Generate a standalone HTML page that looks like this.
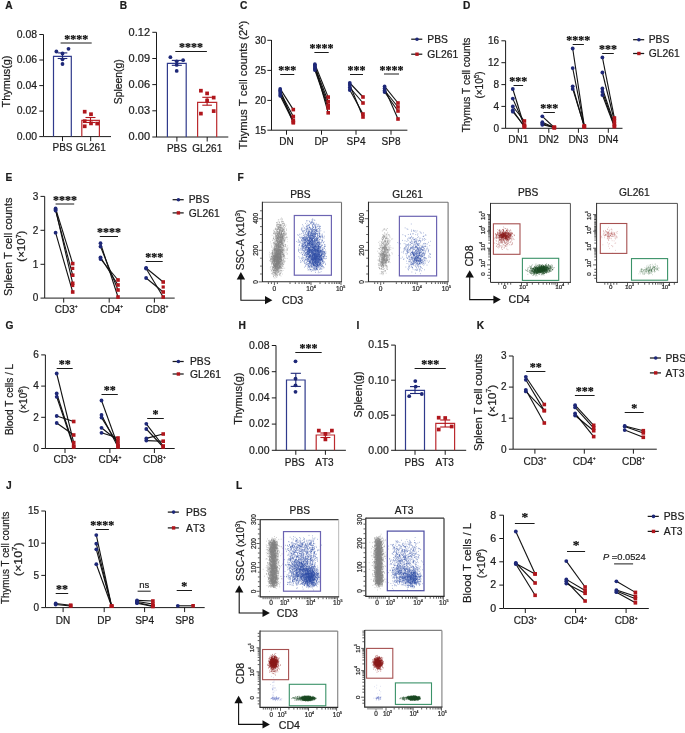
<!DOCTYPE html>
<html><head><meta charset="utf-8"><style>
html,body{margin:0;padding:0;background:#fff;}
svg{display:block;}
text{font-family:'Liberation Sans', Arial, sans-serif;stroke:#222;stroke-width:0.22px;font-kerning:none;}
</style></head><body>
<svg width="685" height="733" viewBox="0 0 685 733" font-size="10" fill="#1b1b1b">
<rect width="685" height="733" fill="#fff"/>
<text x="5.3" y="8.9" font-size="10.2" font-weight="bold">A</text>
<line x1="43.5" y1="34.5" x2="43.5" y2="136.6" stroke="#1b1b1b" stroke-width="1"/>
<line x1="39.3" y1="34.5" x2="43.5" y2="34.5" stroke="#1b1b1b" stroke-width="1"/>
<text transform="translate(37,37.8) scale(1.04,1)" text-anchor="end" font-size="10">0.08</text>
<line x1="39.3" y1="60" x2="43.5" y2="60" stroke="#1b1b1b" stroke-width="1"/>
<text transform="translate(37,63.3) scale(1.04,1)" text-anchor="end" font-size="10">0.06</text>
<line x1="39.3" y1="85.6" x2="43.5" y2="85.6" stroke="#1b1b1b" stroke-width="1"/>
<text transform="translate(37,88.9) scale(1.04,1)" text-anchor="end" font-size="10">0.04</text>
<line x1="39.3" y1="111.1" x2="43.5" y2="111.1" stroke="#1b1b1b" stroke-width="1"/>
<text transform="translate(37,114.4) scale(1.04,1)" text-anchor="end" font-size="10">0.02</text>
<line x1="39.3" y1="136.6" x2="43.5" y2="136.6" stroke="#1b1b1b" stroke-width="1"/>
<text transform="translate(37,139.9) scale(1.04,1)" text-anchor="end" font-size="10">0.00</text>
<line x1="43.5" y1="136.6" x2="111" y2="136.6" stroke="#1b1b1b" stroke-width="1"/>
<line x1="62.5" y1="136.6" x2="62.5" y2="141.1" stroke="#1b1b1b" stroke-width="1"/>
<text x="62.5" y="151.4" text-anchor="middle">PBS</text>
<line x1="90.7" y1="136.6" x2="90.7" y2="141.1" stroke="#1b1b1b" stroke-width="1"/>
<text x="90.7" y="151.4" text-anchor="middle">GL261</text>
<text transform="translate(10,81.5) rotate(-90)" text-anchor="middle" font-size="10.4" textLength="51.8" lengthAdjust="spacingAndGlyphs" fill="#1b1b1b">Thymus(g)</text>
<path d="M53.5 136.6V56.3H71.3V136.6" fill="none" stroke="#2f3a8c" stroke-width="1.2"/>
<path d="M81.8 136.6V120.4H99.4V136.6" fill="none" stroke="#bb2a2e" stroke-width="1.2"/>
<line x1="62.5" y1="52.9" x2="62.5" y2="58.5" stroke="#1e2878" stroke-width="1.1"/>
<line x1="57.7" y1="52.9" x2="67.3" y2="52.9" stroke="#1e2878" stroke-width="1.1"/>
<line x1="57.7" y1="58.5" x2="67.3" y2="58.5" stroke="#1e2878" stroke-width="1.1"/>
<circle cx="56.4" cy="51.5" r="1.9" fill="#1e2878"/>
<circle cx="68.5" cy="48.8" r="1.9" fill="#1e2878"/>
<circle cx="62.5" cy="53.5" r="1.9" fill="#1e2878"/>
<circle cx="62.5" cy="59.3" r="1.9" fill="#1e2878"/>
<circle cx="62.5" cy="64" r="1.9" fill="#1e2878"/>
<line x1="90.5" y1="117.5" x2="90.5" y2="122.5" stroke="#b0161c" stroke-width="1.1"/>
<line x1="85.5" y1="117.5" x2="95.5" y2="117.5" stroke="#b0161c" stroke-width="1.1"/>
<line x1="85.5" y1="122.5" x2="95.5" y2="122.5" stroke="#b0161c" stroke-width="1.1"/>
<rect x="82.85" y="109.85" width="3.7" height="3.7" fill="#b0161c"/>
<rect x="89.15" y="112.35" width="3.7" height="3.7" fill="#b0161c"/>
<rect x="82.85" y="119.35" width="3.7" height="3.7" fill="#b0161c"/>
<rect x="95.35" y="121.75" width="3.7" height="3.7" fill="#b0161c"/>
<rect x="89.15" y="121.55" width="3.7" height="3.7" fill="#b0161c"/>
<rect x="82.85" y="124.45" width="3.7" height="3.7" fill="#b0161c"/>
<line x1="60.6" y1="43" x2="91.7" y2="43" stroke="#1b1b1b" stroke-width="1"/>
<text x="76.15" y="42.7" text-anchor="middle" font-size="12" font-weight="bold" fill="#000" style="font-family:'Liberation Serif',serif">****</text>
<text x="119.8" y="8.9" font-size="10.2" font-weight="bold">B</text>
<line x1="156.5" y1="32.3" x2="156.5" y2="137" stroke="#1b1b1b" stroke-width="1"/>
<line x1="152.3" y1="32.3" x2="156.5" y2="32.3" stroke="#1b1b1b" stroke-width="1"/>
<text transform="translate(150,35.6) scale(1.1,1)" text-anchor="end" font-size="10">0.12</text>
<line x1="152.3" y1="58.5" x2="156.5" y2="58.5" stroke="#1b1b1b" stroke-width="1"/>
<text transform="translate(150,61.8) scale(1.1,1)" text-anchor="end" font-size="10">0.09</text>
<line x1="152.3" y1="84.6" x2="156.5" y2="84.6" stroke="#1b1b1b" stroke-width="1"/>
<text transform="translate(150,87.9) scale(1.1,1)" text-anchor="end" font-size="10">0.06</text>
<line x1="152.3" y1="110.8" x2="156.5" y2="110.8" stroke="#1b1b1b" stroke-width="1"/>
<text transform="translate(150,114.1) scale(1.1,1)" text-anchor="end" font-size="10">0.03</text>
<line x1="152.3" y1="137" x2="156.5" y2="137" stroke="#1b1b1b" stroke-width="1"/>
<text transform="translate(150,140.3) scale(1.1,1)" text-anchor="end" font-size="10">0.00</text>
<line x1="156.3" y1="137" x2="228.3" y2="137" stroke="#1b1b1b" stroke-width="1"/>
<line x1="176.9" y1="137" x2="176.9" y2="141.5" stroke="#1b1b1b" stroke-width="1"/>
<text x="176.9" y="151.7" text-anchor="middle">PBS</text>
<line x1="207.2" y1="137" x2="207.2" y2="141.5" stroke="#1b1b1b" stroke-width="1"/>
<text x="207.2" y="151.7" text-anchor="middle">GL261</text>
<text transform="translate(121.8,81.75) rotate(-90)" text-anchor="middle" font-size="10.2" textLength="45" lengthAdjust="spacingAndGlyphs" fill="#1b1b1b">Spleen(g)</text>
<path d="M167.4 137V63.4H186.2V137" fill="none" stroke="#2f3a8c" stroke-width="1.2"/>
<path d="M197.6 137V102.4H216.7V137" fill="none" stroke="#bb2a2e" stroke-width="1.2"/>
<line x1="176.8" y1="60.4" x2="176.8" y2="65.3" stroke="#1e2878" stroke-width="1.1"/>
<line x1="171.8" y1="60.4" x2="181.8" y2="60.4" stroke="#1e2878" stroke-width="1.1"/>
<line x1="171.8" y1="65.3" x2="181.8" y2="65.3" stroke="#1e2878" stroke-width="1.1"/>
<circle cx="170.4" cy="57.2" r="1.9" fill="#1e2878"/>
<circle cx="183.1" cy="60.2" r="1.9" fill="#1e2878"/>
<circle cx="176.7" cy="61.3" r="1.9" fill="#1e2878"/>
<circle cx="176.7" cy="64.9" r="1.9" fill="#1e2878"/>
<circle cx="176.7" cy="70.9" r="1.9" fill="#1e2878"/>
<line x1="207.1" y1="97.3" x2="207.1" y2="105.2" stroke="#b0161c" stroke-width="1.1"/>
<line x1="202.3" y1="97.3" x2="211.9" y2="97.3" stroke="#b0161c" stroke-width="1.1"/>
<line x1="202.3" y1="105.2" x2="211.9" y2="105.2" stroke="#b0161c" stroke-width="1.1"/>
<rect x="199.05" y="88.85" width="3.7" height="3.7" fill="#b0161c"/>
<rect x="205.25" y="91.55" width="3.7" height="3.7" fill="#b0161c"/>
<rect x="211.85" y="95.75" width="3.7" height="3.7" fill="#b0161c"/>
<rect x="205.25" y="98.65" width="3.7" height="3.7" fill="#b0161c"/>
<rect x="211.85" y="109.25" width="3.7" height="3.7" fill="#b0161c"/>
<rect x="199.05" y="111.75" width="3.7" height="3.7" fill="#b0161c"/>
<line x1="175.3" y1="51.5" x2="206.9" y2="51.5" stroke="#1b1b1b" stroke-width="1"/>
<text x="191.1" y="51.2" text-anchor="middle" font-size="12" font-weight="bold" fill="#000" style="font-family:'Liberation Serif',serif">****</text>
<text x="240" y="8.9" font-size="10.2" font-weight="bold">C</text>
<line x1="271.5" y1="40" x2="271.5" y2="130.2" stroke="#1b1b1b" stroke-width="1"/>
<line x1="267.3" y1="40.3" x2="271.5" y2="40.3" stroke="#1b1b1b" stroke-width="1"/>
<text x="266.2" y="43.6" text-anchor="end">30</text>
<line x1="267.3" y1="70.4" x2="271.5" y2="70.4" stroke="#1b1b1b" stroke-width="1"/>
<text x="266.2" y="73.7" text-anchor="end">25</text>
<line x1="267.3" y1="100.4" x2="271.5" y2="100.4" stroke="#1b1b1b" stroke-width="1"/>
<text x="266.2" y="103.7" text-anchor="end">20</text>
<line x1="267.3" y1="130.2" x2="271.5" y2="130.2" stroke="#1b1b1b" stroke-width="1"/>
<text x="266.2" y="133.5" text-anchor="end">15</text>
<line x1="271.3" y1="130.2" x2="407.4" y2="130.2" stroke="#1b1b1b" stroke-width="1"/>
<line x1="286.5" y1="130.2" x2="286.5" y2="134.7" stroke="#1b1b1b" stroke-width="1"/>
<text x="286.5" y="145" text-anchor="middle">DN</text>
<line x1="321.5" y1="130.2" x2="321.5" y2="134.7" stroke="#1b1b1b" stroke-width="1"/>
<text x="321.5" y="145" text-anchor="middle">DP</text>
<line x1="356" y1="130.2" x2="356" y2="134.7" stroke="#1b1b1b" stroke-width="1"/>
<text x="356" y="145" text-anchor="middle">SP4</text>
<line x1="391" y1="130.2" x2="391" y2="134.7" stroke="#1b1b1b" stroke-width="1"/>
<text x="391" y="145" text-anchor="middle">SP8</text>
<text transform="translate(247.1,85.1) rotate(-90)" text-anchor="middle" font-size="11" textLength="128.8" lengthAdjust="spacingAndGlyphs" fill="#1b1b1b">Thymus T cell counts (2^)</text>
<line x1="280.2" y1="88.9" x2="293.3" y2="109.6" stroke="#111" stroke-width="1.1"/>
<line x1="280.2" y1="90.5" x2="293.3" y2="122.8" stroke="#111" stroke-width="1.1"/>
<line x1="280.2" y1="92" x2="293.3" y2="116.5" stroke="#111" stroke-width="1.1"/>
<line x1="280.2" y1="94" x2="293.3" y2="120.3" stroke="#111" stroke-width="1.1"/>
<line x1="280.2" y1="95.8" x2="293.3" y2="122" stroke="#111" stroke-width="1.1"/>
<circle cx="280.2" cy="88.9" r="1.9" fill="#1e2878"/>
<circle cx="280.2" cy="90.5" r="1.9" fill="#1e2878"/>
<circle cx="280.2" cy="92" r="1.9" fill="#1e2878"/>
<circle cx="280.2" cy="94" r="1.9" fill="#1e2878"/>
<circle cx="280.2" cy="95.8" r="1.9" fill="#1e2878"/>
<rect x="291.5" y="107.8" width="3.6" height="3.6" fill="#b0161c"/>
<rect x="291.5" y="121" width="3.6" height="3.6" fill="#b0161c"/>
<rect x="291.5" y="114.7" width="3.6" height="3.6" fill="#b0161c"/>
<rect x="291.5" y="118.5" width="3.6" height="3.6" fill="#b0161c"/>
<rect x="291.5" y="120.2" width="3.6" height="3.6" fill="#b0161c"/>
<line x1="314.9" y1="64.2" x2="328.2" y2="97.1" stroke="#111" stroke-width="1.1"/>
<line x1="314.9" y1="65.5" x2="328.2" y2="112.8" stroke="#111" stroke-width="1.1"/>
<line x1="314.9" y1="67" x2="328.2" y2="101.5" stroke="#111" stroke-width="1.1"/>
<line x1="314.9" y1="68.5" x2="328.2" y2="105.2" stroke="#111" stroke-width="1.1"/>
<line x1="314.9" y1="70.1" x2="328.2" y2="108" stroke="#111" stroke-width="1.1"/>
<circle cx="314.9" cy="64.2" r="1.9" fill="#1e2878"/>
<circle cx="314.9" cy="65.5" r="1.9" fill="#1e2878"/>
<circle cx="314.9" cy="67" r="1.9" fill="#1e2878"/>
<circle cx="314.9" cy="68.5" r="1.9" fill="#1e2878"/>
<circle cx="314.9" cy="70.1" r="1.9" fill="#1e2878"/>
<rect x="326.4" y="95.3" width="3.6" height="3.6" fill="#b0161c"/>
<rect x="326.4" y="111" width="3.6" height="3.6" fill="#b0161c"/>
<rect x="326.4" y="99.7" width="3.6" height="3.6" fill="#b0161c"/>
<rect x="326.4" y="103.4" width="3.6" height="3.6" fill="#b0161c"/>
<rect x="326.4" y="106.2" width="3.6" height="3.6" fill="#b0161c"/>
<line x1="349.8" y1="83" x2="363" y2="97" stroke="#111" stroke-width="1.1"/>
<line x1="349.8" y1="85" x2="363" y2="117" stroke="#111" stroke-width="1.1"/>
<line x1="349.8" y1="87.5" x2="363" y2="103" stroke="#111" stroke-width="1.1"/>
<line x1="349.8" y1="90" x2="363" y2="114" stroke="#111" stroke-width="1.1"/>
<circle cx="349.8" cy="83" r="1.9" fill="#1e2878"/>
<circle cx="349.8" cy="85" r="1.9" fill="#1e2878"/>
<circle cx="349.8" cy="87.5" r="1.9" fill="#1e2878"/>
<circle cx="349.8" cy="90" r="1.9" fill="#1e2878"/>
<rect x="361.2" y="95.2" width="3.6" height="3.6" fill="#b0161c"/>
<rect x="361.2" y="115.2" width="3.6" height="3.6" fill="#b0161c"/>
<rect x="361.2" y="101.2" width="3.6" height="3.6" fill="#b0161c"/>
<rect x="361.2" y="112.2" width="3.6" height="3.6" fill="#b0161c"/>
<line x1="384.6" y1="86.4" x2="398" y2="103" stroke="#111" stroke-width="1.1"/>
<line x1="384.6" y1="88.5" x2="398" y2="119" stroke="#111" stroke-width="1.1"/>
<line x1="384.6" y1="90.5" x2="398" y2="107" stroke="#111" stroke-width="1.1"/>
<line x1="384.6" y1="92" x2="398" y2="111" stroke="#111" stroke-width="1.1"/>
<circle cx="384.6" cy="86.4" r="1.9" fill="#1e2878"/>
<circle cx="384.6" cy="88.5" r="1.9" fill="#1e2878"/>
<circle cx="384.6" cy="90.5" r="1.9" fill="#1e2878"/>
<circle cx="384.6" cy="92" r="1.9" fill="#1e2878"/>
<rect x="396.2" y="101.2" width="3.6" height="3.6" fill="#b0161c"/>
<rect x="396.2" y="117.2" width="3.6" height="3.6" fill="#b0161c"/>
<rect x="396.2" y="105.2" width="3.6" height="3.6" fill="#b0161c"/>
<rect x="396.2" y="109.2" width="3.6" height="3.6" fill="#b0161c"/>
<line x1="280.2" y1="74.5" x2="294.3" y2="74.5" stroke="#1b1b1b" stroke-width="1"/>
<text x="287.25" y="74.2" text-anchor="middle" font-size="12" font-weight="bold" fill="#000" style="font-family:'Liberation Serif',serif">***</text>
<line x1="314.4" y1="52.5" x2="328.7" y2="52.5" stroke="#1b1b1b" stroke-width="1"/>
<text x="321.55" y="52.2" text-anchor="middle" font-size="12" font-weight="bold" fill="#000" style="font-family:'Liberation Serif',serif">****</text>
<line x1="350" y1="74.5" x2="363" y2="74.5" stroke="#1b1b1b" stroke-width="1"/>
<text x="356.5" y="74.2" text-anchor="middle" font-size="12" font-weight="bold" fill="#000" style="font-family:'Liberation Serif',serif">***</text>
<line x1="384" y1="74" x2="399" y2="74" stroke="#1b1b1b" stroke-width="1"/>
<text x="391.5" y="73.7" text-anchor="middle" font-size="12" font-weight="bold" fill="#000" style="font-family:'Liberation Serif',serif">****</text>
<line x1="411.2" y1="39.2" x2="422.3" y2="39.2" stroke="#1a1a1a" stroke-width="1.25"/>
<circle cx="417" cy="39.2" r="1.8" fill="#1e2878"/>
<text x="427.3" y="42.9" font-size="10.3">PBS</text>
<line x1="411.2" y1="54.2" x2="422.3" y2="54.2" stroke="#1a1a1a" stroke-width="1.25"/>
<rect x="415.3" y="52.5" width="3.4" height="3.4" fill="#b0161c"/>
<text x="427.3" y="57.9" font-size="10.3">GL261</text>
<text x="463" y="8.9" font-size="10.2" font-weight="bold">D</text>
<line x1="505.6" y1="40.8" x2="505.6" y2="128.3" stroke="#1b1b1b" stroke-width="1"/>
<line x1="501.4" y1="40.8" x2="505.6" y2="40.8" stroke="#1b1b1b" stroke-width="1"/>
<text x="499.1" y="44.1" text-anchor="end">16</text>
<line x1="501.4" y1="62.7" x2="505.6" y2="62.7" stroke="#1b1b1b" stroke-width="1"/>
<text x="499.1" y="66" text-anchor="end">12</text>
<line x1="501.4" y1="84.6" x2="505.6" y2="84.6" stroke="#1b1b1b" stroke-width="1"/>
<text x="499.1" y="87.9" text-anchor="end">8</text>
<line x1="501.4" y1="106.4" x2="505.6" y2="106.4" stroke="#1b1b1b" stroke-width="1"/>
<text x="499.1" y="109.7" text-anchor="end">4</text>
<line x1="501.4" y1="128.3" x2="505.6" y2="128.3" stroke="#1b1b1b" stroke-width="1"/>
<text x="499.1" y="131.6" text-anchor="end">0</text>
<line x1="505.6" y1="128.3" x2="622.5" y2="128.3" stroke="#1b1b1b" stroke-width="1"/>
<line x1="518.3" y1="128.3" x2="518.3" y2="132.8" stroke="#1b1b1b" stroke-width="1"/>
<text x="518.3" y="143" text-anchor="middle">DN1</text>
<line x1="548.8" y1="128.3" x2="548.8" y2="132.8" stroke="#1b1b1b" stroke-width="1"/>
<text x="548.8" y="143" text-anchor="middle">DN2</text>
<line x1="578.4" y1="128.3" x2="578.4" y2="132.8" stroke="#1b1b1b" stroke-width="1"/>
<text x="578.4" y="143" text-anchor="middle">DN3</text>
<line x1="608.3" y1="128.3" x2="608.3" y2="132.8" stroke="#1b1b1b" stroke-width="1"/>
<text x="608.3" y="143" text-anchor="middle">DN4</text>
<text transform="translate(470.1,85) rotate(-90)" text-anchor="middle" fill="#1b1b1b">Thymus T cell counts</text>
<text transform="translate(483.1,85) rotate(-90)" text-anchor="middle" fill="#1b1b1b">(×10<tspan font-size="6.3" dy="-4.2">5</tspan><tspan dy="4.2">)</tspan></text>
<line x1="512.8" y1="89" x2="524.4" y2="126.5" stroke="#111" stroke-width="1.1"/>
<line x1="512.8" y1="98.6" x2="524.4" y2="125" stroke="#111" stroke-width="1.1"/>
<line x1="512.8" y1="106.5" x2="524.4" y2="121" stroke="#111" stroke-width="1.1"/>
<line x1="512.8" y1="110.2" x2="524.4" y2="127" stroke="#111" stroke-width="1.1"/>
<line x1="512.8" y1="111.7" x2="524.4" y2="126" stroke="#111" stroke-width="1.1"/>
<circle cx="512.8" cy="89" r="1.9" fill="#1e2878"/>
<circle cx="512.8" cy="98.6" r="1.9" fill="#1e2878"/>
<circle cx="512.8" cy="106.5" r="1.9" fill="#1e2878"/>
<circle cx="512.8" cy="110.2" r="1.9" fill="#1e2878"/>
<circle cx="512.8" cy="111.7" r="1.9" fill="#1e2878"/>
<rect x="522.6" y="124.7" width="3.6" height="3.6" fill="#b0161c"/>
<rect x="522.6" y="123.2" width="3.6" height="3.6" fill="#b0161c"/>
<rect x="522.6" y="119.2" width="3.6" height="3.6" fill="#b0161c"/>
<rect x="522.6" y="125.2" width="3.6" height="3.6" fill="#b0161c"/>
<rect x="522.6" y="124.2" width="3.6" height="3.6" fill="#b0161c"/>
<line x1="542.3" y1="116.3" x2="554.3" y2="127.5" stroke="#111" stroke-width="1.1"/>
<line x1="542.3" y1="122.2" x2="554.3" y2="127.5" stroke="#111" stroke-width="1.1"/>
<line x1="542.3" y1="123.7" x2="554.3" y2="127.5" stroke="#111" stroke-width="1.1"/>
<line x1="542.3" y1="124.8" x2="554.3" y2="127.5" stroke="#111" stroke-width="1.1"/>
<circle cx="542.3" cy="116.3" r="1.9" fill="#1e2878"/>
<circle cx="542.3" cy="122.2" r="1.9" fill="#1e2878"/>
<circle cx="542.3" cy="123.7" r="1.9" fill="#1e2878"/>
<circle cx="542.3" cy="124.8" r="1.9" fill="#1e2878"/>
<rect x="552.5" y="125.7" width="3.6" height="3.6" fill="#b0161c"/>
<rect x="552.5" y="125.7" width="3.6" height="3.6" fill="#b0161c"/>
<rect x="552.5" y="125.7" width="3.6" height="3.6" fill="#b0161c"/>
<rect x="552.5" y="125.7" width="3.6" height="3.6" fill="#b0161c"/>
<line x1="572.7" y1="48.5" x2="584.3" y2="126.2" stroke="#111" stroke-width="1.1"/>
<line x1="572.7" y1="68.1" x2="584.3" y2="126.5" stroke="#111" stroke-width="1.1"/>
<line x1="572.7" y1="86.3" x2="584.3" y2="127" stroke="#111" stroke-width="1.1"/>
<line x1="572.7" y1="88.9" x2="584.3" y2="126" stroke="#111" stroke-width="1.1"/>
<circle cx="572.7" cy="48.5" r="1.9" fill="#1e2878"/>
<circle cx="572.7" cy="68.1" r="1.9" fill="#1e2878"/>
<circle cx="572.7" cy="86.3" r="1.9" fill="#1e2878"/>
<circle cx="572.7" cy="88.9" r="1.9" fill="#1e2878"/>
<rect x="582.5" y="124.4" width="3.6" height="3.6" fill="#b0161c"/>
<rect x="582.5" y="124.7" width="3.6" height="3.6" fill="#b0161c"/>
<rect x="582.5" y="125.2" width="3.6" height="3.6" fill="#b0161c"/>
<rect x="582.5" y="124.2" width="3.6" height="3.6" fill="#b0161c"/>
<line x1="602.4" y1="57.4" x2="614.4" y2="118" stroke="#111" stroke-width="1.1"/>
<line x1="602.4" y1="72.5" x2="614.4" y2="121" stroke="#111" stroke-width="1.1"/>
<line x1="602.4" y1="88.4" x2="614.4" y2="124" stroke="#111" stroke-width="1.1"/>
<line x1="602.4" y1="91.7" x2="614.4" y2="126" stroke="#111" stroke-width="1.1"/>
<line x1="602.4" y1="95" x2="614.4" y2="126.7" stroke="#111" stroke-width="1.1"/>
<circle cx="602.4" cy="57.4" r="1.9" fill="#1e2878"/>
<circle cx="602.4" cy="72.5" r="1.9" fill="#1e2878"/>
<circle cx="602.4" cy="88.4" r="1.9" fill="#1e2878"/>
<circle cx="602.4" cy="91.7" r="1.9" fill="#1e2878"/>
<circle cx="602.4" cy="95" r="1.9" fill="#1e2878"/>
<rect x="612.6" y="116.2" width="3.6" height="3.6" fill="#b0161c"/>
<rect x="612.6" y="119.2" width="3.6" height="3.6" fill="#b0161c"/>
<rect x="612.6" y="122.2" width="3.6" height="3.6" fill="#b0161c"/>
<rect x="612.6" y="124.2" width="3.6" height="3.6" fill="#b0161c"/>
<rect x="612.6" y="124.9" width="3.6" height="3.6" fill="#b0161c"/>
<line x1="513.5" y1="85.5" x2="523.1" y2="85.5" stroke="#1b1b1b" stroke-width="1"/>
<text x="518.3" y="85.2" text-anchor="middle" font-size="12" font-weight="bold" fill="#000" style="font-family:'Liberation Serif',serif">***</text>
<line x1="543.4" y1="112.5" x2="554.9" y2="112.5" stroke="#1b1b1b" stroke-width="1"/>
<text x="549.15" y="112.2" text-anchor="middle" font-size="12" font-weight="bold" fill="#000" style="font-family:'Liberation Serif',serif">***</text>
<line x1="572.7" y1="44.5" x2="583.9" y2="44.5" stroke="#1b1b1b" stroke-width="1"/>
<text x="578.3" y="44.2" text-anchor="middle" font-size="12" font-weight="bold" fill="#000" style="font-family:'Liberation Serif',serif">****</text>
<line x1="602.2" y1="53.5" x2="613.8" y2="53.5" stroke="#1b1b1b" stroke-width="1"/>
<text x="608" y="53.2" text-anchor="middle" font-size="12" font-weight="bold" fill="#000" style="font-family:'Liberation Serif',serif">***</text>
<line x1="633.1" y1="39.7" x2="644.2" y2="39.7" stroke="#1a1a1a" stroke-width="1.25"/>
<circle cx="638.9" cy="39.7" r="1.8" fill="#1e2878"/>
<text x="648.7" y="43.4" font-size="10.3">PBS</text>
<line x1="633.1" y1="53.5" x2="644.2" y2="53.5" stroke="#1a1a1a" stroke-width="1.25"/>
<rect x="637.2" y="51.8" width="3.4" height="3.4" fill="#b0161c"/>
<text x="648.7" y="57.2" font-size="10.3">GL261</text>
<text x="5.5" y="181.4" font-size="10.2" font-weight="bold">E</text>
<line x1="44.7" y1="196.4" x2="44.7" y2="298.1" stroke="#1b1b1b" stroke-width="1"/>
<line x1="40.5" y1="196.4" x2="44.7" y2="196.4" stroke="#1b1b1b" stroke-width="1"/>
<text x="38.2" y="199.7" text-anchor="end">3</text>
<line x1="40.5" y1="230.3" x2="44.7" y2="230.3" stroke="#1b1b1b" stroke-width="1"/>
<text x="38.2" y="233.6" text-anchor="end">2</text>
<line x1="40.5" y1="264.3" x2="44.7" y2="264.3" stroke="#1b1b1b" stroke-width="1"/>
<text x="38.2" y="267.6" text-anchor="end">1</text>
<line x1="40.5" y1="298.1" x2="44.7" y2="298.1" stroke="#1b1b1b" stroke-width="1"/>
<text x="38.2" y="301.4" text-anchor="end">0</text>
<line x1="44.7" y1="298.1" x2="174.7" y2="298.1" stroke="#1b1b1b" stroke-width="1"/>
<line x1="63.7" y1="298.1" x2="63.7" y2="302.6" stroke="#1b1b1b" stroke-width="1"/>
<text transform="translate(66.3,313.3) scale(1,1.1)" text-anchor="middle">CD3<tspan font-size="5" dy="-4.6">+</tspan></text>
<line x1="109.2" y1="298.1" x2="109.2" y2="302.6" stroke="#1b1b1b" stroke-width="1"/>
<text transform="translate(111.8,313.3) scale(1,1.1)" text-anchor="middle">CD4<tspan font-size="5" dy="-4.6">+</tspan></text>
<line x1="154.4" y1="298.1" x2="154.4" y2="302.6" stroke="#1b1b1b" stroke-width="1"/>
<text transform="translate(157,313.3) scale(1,1.1)" text-anchor="middle">CD8<tspan font-size="5" dy="-4.6">+</tspan></text>
<text transform="translate(11.8,246.8) rotate(-90)" text-anchor="middle" font-size="10.8" textLength="98.4" lengthAdjust="spacingAndGlyphs" fill="#1b1b1b">Spleen T cell counts</text>
<text transform="translate(24.9,246.2) rotate(-90)" text-anchor="middle" font-size="10.8" textLength="31" lengthAdjust="spacingAndGlyphs" fill="#1b1b1b">(×10<tspan font-size="6.3" dy="-4.2">7</tspan><tspan dy="4.2">)</tspan></text>
<line x1="55.6" y1="208.4" x2="72.7" y2="263.6" stroke="#111" stroke-width="1.1"/>
<line x1="55.6" y1="210.6" x2="72.7" y2="275.2" stroke="#111" stroke-width="1.1"/>
<line x1="55.6" y1="209.5" x2="72.7" y2="283.3" stroke="#111" stroke-width="1.1"/>
<line x1="55.6" y1="232.7" x2="72.7" y2="292" stroke="#111" stroke-width="1.1"/>
<circle cx="55.6" cy="208.4" r="1.9" fill="#1e2878"/>
<circle cx="55.6" cy="210.6" r="1.9" fill="#1e2878"/>
<circle cx="55.6" cy="209.5" r="1.9" fill="#1e2878"/>
<circle cx="55.6" cy="232.7" r="1.9" fill="#1e2878"/>
<rect x="70.9" y="261.8" width="3.6" height="3.6" fill="#b0161c"/>
<rect x="70.9" y="273.4" width="3.6" height="3.6" fill="#b0161c"/>
<rect x="70.9" y="281.5" width="3.6" height="3.6" fill="#b0161c"/>
<rect x="70.9" y="290.2" width="3.6" height="3.6" fill="#b0161c"/>
<rect x="71.1" y="266.8" width="3.2" height="3.2" fill="#b0161c"/>
<rect x="71.1" y="283.9" width="3.2" height="3.2" fill="#b0161c"/>
<line x1="100.5" y1="243.2" x2="118" y2="297" stroke="#111" stroke-width="1.1"/>
<line x1="100.5" y1="246.6" x2="118" y2="290" stroke="#111" stroke-width="1.1"/>
<line x1="100.5" y1="257.3" x2="118" y2="285" stroke="#111" stroke-width="1.1"/>
<line x1="100.5" y1="259" x2="118" y2="280" stroke="#111" stroke-width="1.1"/>
<circle cx="100.5" cy="243.2" r="1.9" fill="#1e2878"/>
<circle cx="100.5" cy="246.6" r="1.9" fill="#1e2878"/>
<circle cx="100.5" cy="257.3" r="1.9" fill="#1e2878"/>
<circle cx="100.5" cy="259" r="1.9" fill="#1e2878"/>
<rect x="116.2" y="295.2" width="3.6" height="3.6" fill="#b0161c"/>
<rect x="116.2" y="288.2" width="3.6" height="3.6" fill="#b0161c"/>
<rect x="116.2" y="283.2" width="3.6" height="3.6" fill="#b0161c"/>
<rect x="116.2" y="278.2" width="3.6" height="3.6" fill="#b0161c"/>
<line x1="146.1" y1="268" x2="163.2" y2="282" stroke="#111" stroke-width="1.1"/>
<line x1="146.1" y1="278" x2="163.2" y2="292" stroke="#111" stroke-width="1.1"/>
<line x1="146.1" y1="268.5" x2="163.2" y2="297" stroke="#111" stroke-width="1.1"/>
<circle cx="146.1" cy="268" r="1.9" fill="#1e2878"/>
<circle cx="146.1" cy="278" r="1.9" fill="#1e2878"/>
<circle cx="146.1" cy="268.5" r="1.9" fill="#1e2878"/>
<rect x="161.4" y="280.2" width="3.6" height="3.6" fill="#b0161c"/>
<rect x="161.4" y="290.2" width="3.6" height="3.6" fill="#b0161c"/>
<rect x="161.4" y="295.2" width="3.6" height="3.6" fill="#b0161c"/>
<rect x="161.6" y="285.4" width="3.2" height="3.2" fill="#b0161c"/>
<line x1="55.6" y1="204" x2="74.2" y2="204" stroke="#1b1b1b" stroke-width="1"/>
<text x="64.9" y="203.7" text-anchor="middle" font-size="12" font-weight="bold" fill="#000" style="font-family:'Liberation Serif',serif">****</text>
<line x1="99.8" y1="236.5" x2="118" y2="236.5" stroke="#1b1b1b" stroke-width="1"/>
<text x="108.9" y="236.2" text-anchor="middle" font-size="12" font-weight="bold" fill="#000" style="font-family:'Liberation Serif',serif">****</text>
<line x1="145.7" y1="261.5" x2="162.7" y2="261.5" stroke="#1b1b1b" stroke-width="1"/>
<text x="154.2" y="261.2" text-anchor="middle" font-size="12" font-weight="bold" fill="#000" style="font-family:'Liberation Serif',serif">***</text>
<line x1="172.6" y1="199.7" x2="183.7" y2="199.7" stroke="#1a1a1a" stroke-width="1.25"/>
<circle cx="178.4" cy="199.7" r="1.8" fill="#1e2878"/>
<text x="188.7" y="203.4" font-size="10.3">PBS</text>
<line x1="172.6" y1="212.9" x2="183.7" y2="212.9" stroke="#1a1a1a" stroke-width="1.25"/>
<rect x="176.7" y="211.2" width="3.4" height="3.4" fill="#b0161c"/>
<text x="188.7" y="216.6" font-size="10.3">GL261</text>
<text x="5.5" y="329.2" font-size="10.2" font-weight="bold">G</text>
<line x1="45.4" y1="354.9" x2="45.4" y2="448.5" stroke="#1b1b1b" stroke-width="1"/>
<line x1="41.2" y1="354.9" x2="45.4" y2="354.9" stroke="#1b1b1b" stroke-width="1"/>
<text x="38.9" y="358.2" text-anchor="end">6</text>
<line x1="41.2" y1="386.1" x2="45.4" y2="386.1" stroke="#1b1b1b" stroke-width="1"/>
<text x="38.9" y="389.4" text-anchor="end">4</text>
<line x1="41.2" y1="417.3" x2="45.4" y2="417.3" stroke="#1b1b1b" stroke-width="1"/>
<text x="38.9" y="420.6" text-anchor="end">2</text>
<line x1="41.2" y1="448.5" x2="45.4" y2="448.5" stroke="#1b1b1b" stroke-width="1"/>
<text x="38.9" y="451.8" text-anchor="end">0</text>
<line x1="45.4" y1="448.5" x2="174.7" y2="448.5" stroke="#1b1b1b" stroke-width="1"/>
<line x1="65" y1="448.5" x2="65" y2="453" stroke="#1b1b1b" stroke-width="1"/>
<text x="65" y="463.4" text-anchor="middle">CD3<tspan font-size="5" dy="-4.6">+</tspan></text>
<line x1="109.9" y1="448.5" x2="109.9" y2="453" stroke="#1b1b1b" stroke-width="1"/>
<text x="109.9" y="463.4" text-anchor="middle">CD4<tspan font-size="5" dy="-4.6">+</tspan></text>
<line x1="154.4" y1="448.5" x2="154.4" y2="453" stroke="#1b1b1b" stroke-width="1"/>
<text x="154.4" y="463.4" text-anchor="middle">CD8<tspan font-size="5" dy="-4.6">+</tspan></text>
<text transform="translate(12.9,399.5) rotate(-90)" text-anchor="middle" fill="#1b1b1b">Blood T cells / L</text>
<text transform="translate(27.1,399.5) rotate(-90)" text-anchor="middle" fill="#1b1b1b">(×10<tspan font-size="6.3" dy="-4.2">8</tspan><tspan dy="4.2">)</tspan></text>
<line x1="56.7" y1="373.5" x2="73.7" y2="442.6" stroke="#111" stroke-width="1.1"/>
<line x1="56.7" y1="393.5" x2="73.7" y2="446" stroke="#111" stroke-width="1.1"/>
<line x1="56.7" y1="396.8" x2="73.7" y2="447" stroke="#111" stroke-width="1.1"/>
<line x1="56.7" y1="416" x2="73.7" y2="421.5" stroke="#111" stroke-width="1.1"/>
<line x1="56.7" y1="423" x2="73.7" y2="435" stroke="#111" stroke-width="1.1"/>
<circle cx="56.7" cy="373.5" r="1.9" fill="#1e2878"/>
<circle cx="56.7" cy="393.5" r="1.9" fill="#1e2878"/>
<circle cx="56.7" cy="396.8" r="1.9" fill="#1e2878"/>
<circle cx="56.7" cy="416" r="1.9" fill="#1e2878"/>
<circle cx="56.7" cy="423" r="1.9" fill="#1e2878"/>
<rect x="71.9" y="440.8" width="3.6" height="3.6" fill="#b0161c"/>
<rect x="71.9" y="444.2" width="3.6" height="3.6" fill="#b0161c"/>
<rect x="71.9" y="445.2" width="3.6" height="3.6" fill="#b0161c"/>
<rect x="71.9" y="419.7" width="3.6" height="3.6" fill="#b0161c"/>
<rect x="71.9" y="433.2" width="3.6" height="3.6" fill="#b0161c"/>
<line x1="101.5" y1="400.5" x2="118" y2="446" stroke="#111" stroke-width="1.1"/>
<line x1="101.5" y1="415" x2="118" y2="447" stroke="#111" stroke-width="1.1"/>
<line x1="101.5" y1="417.6" x2="118" y2="444" stroke="#111" stroke-width="1.1"/>
<line x1="101.5" y1="427.8" x2="118" y2="441" stroke="#111" stroke-width="1.1"/>
<line x1="101.5" y1="432.8" x2="118" y2="438" stroke="#111" stroke-width="1.1"/>
<circle cx="101.5" cy="400.5" r="1.9" fill="#1e2878"/>
<circle cx="101.5" cy="415" r="1.9" fill="#1e2878"/>
<circle cx="101.5" cy="417.6" r="1.9" fill="#1e2878"/>
<circle cx="101.5" cy="427.8" r="1.9" fill="#1e2878"/>
<circle cx="101.5" cy="432.8" r="1.9" fill="#1e2878"/>
<rect x="116.2" y="444.2" width="3.6" height="3.6" fill="#b0161c"/>
<rect x="116.2" y="445.2" width="3.6" height="3.6" fill="#b0161c"/>
<rect x="116.2" y="442.2" width="3.6" height="3.6" fill="#b0161c"/>
<rect x="116.2" y="439.2" width="3.6" height="3.6" fill="#b0161c"/>
<rect x="116.2" y="436.2" width="3.6" height="3.6" fill="#b0161c"/>
<line x1="146.3" y1="423.8" x2="163.2" y2="446" stroke="#111" stroke-width="1.1"/>
<line x1="146.3" y1="429" x2="163.2" y2="447" stroke="#111" stroke-width="1.1"/>
<line x1="146.3" y1="438.4" x2="163.2" y2="434" stroke="#111" stroke-width="1.1"/>
<line x1="146.3" y1="440.6" x2="163.2" y2="441.2" stroke="#111" stroke-width="1.1"/>
<circle cx="146.3" cy="423.8" r="1.9" fill="#1e2878"/>
<circle cx="146.3" cy="429" r="1.9" fill="#1e2878"/>
<circle cx="146.3" cy="438.4" r="1.9" fill="#1e2878"/>
<circle cx="146.3" cy="440.6" r="1.9" fill="#1e2878"/>
<rect x="161.4" y="444.2" width="3.6" height="3.6" fill="#b0161c"/>
<rect x="161.4" y="445.2" width="3.6" height="3.6" fill="#b0161c"/>
<rect x="161.4" y="432.2" width="3.6" height="3.6" fill="#b0161c"/>
<rect x="161.4" y="439.4" width="3.6" height="3.6" fill="#b0161c"/>
<line x1="56.7" y1="368.5" x2="72.7" y2="368.5" stroke="#1b1b1b" stroke-width="1"/>
<text x="64.7" y="368.2" text-anchor="middle" font-size="12" font-weight="bold" fill="#000" style="font-family:'Liberation Serif',serif">**</text>
<line x1="101.5" y1="394.5" x2="117.8" y2="394.5" stroke="#1b1b1b" stroke-width="1"/>
<text x="109.65" y="394.2" text-anchor="middle" font-size="12" font-weight="bold" fill="#000" style="font-family:'Liberation Serif',serif">**</text>
<line x1="147.2" y1="418.5" x2="163.8" y2="418.5" stroke="#1b1b1b" stroke-width="1"/>
<text x="155.5" y="418.2" text-anchor="middle" font-size="12" font-weight="bold" fill="#000" style="font-family:'Liberation Serif',serif">*</text>
<line x1="172.6" y1="361.5" x2="183.7" y2="361.5" stroke="#1a1a1a" stroke-width="1.25"/>
<circle cx="178.4" cy="361.5" r="1.8" fill="#1e2878"/>
<text x="190" y="365.2" font-size="10.3">PBS</text>
<line x1="172.6" y1="374" x2="183.7" y2="374" stroke="#1a1a1a" stroke-width="1.25"/>
<rect x="176.7" y="372.3" width="3.4" height="3.4" fill="#b0161c"/>
<text x="190" y="377.7" font-size="10.3">GL261</text>
<text x="238.5" y="328.5" font-size="10.2" font-weight="bold">H</text>
<line x1="276" y1="345.5" x2="276" y2="450.3" stroke="#1b1b1b" stroke-width="1"/>
<line x1="271.8" y1="345.5" x2="276" y2="345.5" stroke="#1b1b1b" stroke-width="1"/>
<text transform="translate(269.5,348.8) scale(1.05,1)" text-anchor="end" font-size="10">0.08</text>
<line x1="271.8" y1="371.7" x2="276" y2="371.7" stroke="#1b1b1b" stroke-width="1"/>
<text transform="translate(269.5,375) scale(1.05,1)" text-anchor="end" font-size="10">0.06</text>
<line x1="271.8" y1="397.9" x2="276" y2="397.9" stroke="#1b1b1b" stroke-width="1"/>
<text transform="translate(269.5,401.2) scale(1.05,1)" text-anchor="end" font-size="10">0.04</text>
<line x1="271.8" y1="424.1" x2="276" y2="424.1" stroke="#1b1b1b" stroke-width="1"/>
<text transform="translate(269.5,427.4) scale(1.05,1)" text-anchor="end" font-size="10">0.02</text>
<line x1="271.8" y1="450.3" x2="276" y2="450.3" stroke="#1b1b1b" stroke-width="1"/>
<text transform="translate(269.5,453.6) scale(1.05,1)" text-anchor="end" font-size="10">0.00</text>
<line x1="275.8" y1="450.3" x2="345.9" y2="450.3" stroke="#1b1b1b" stroke-width="1"/>
<line x1="295.8" y1="450.3" x2="295.8" y2="454.8" stroke="#1b1b1b" stroke-width="1"/>
<text x="294.8" y="465.6" text-anchor="middle">PBS</text>
<line x1="325.4" y1="450.3" x2="325.4" y2="454.8" stroke="#1b1b1b" stroke-width="1"/>
<text x="324.4" y="465.6" text-anchor="middle">AT3</text>
<text transform="translate(242.3,398.7) rotate(-90)" text-anchor="middle" font-size="10.4" textLength="52.3" lengthAdjust="spacingAndGlyphs" fill="#1b1b1b">Thymus(g)</text>
<path d="M286.5 450.3V380H305.1V450.3" fill="none" stroke="#2f3a8c" stroke-width="1.2"/>
<line x1="295.8" y1="373.3" x2="295.8" y2="386.4" stroke="#1e2878" stroke-width="1.1"/>
<line x1="290.7" y1="373.3" x2="300.9" y2="373.3" stroke="#1e2878" stroke-width="1.1"/>
<line x1="290.7" y1="386.4" x2="300.9" y2="386.4" stroke="#1e2878" stroke-width="1.1"/>
<circle cx="295.5" cy="361.3" r="1.9" fill="#1e2878"/>
<circle cx="295.5" cy="378.7" r="1.9" fill="#1e2878"/>
<circle cx="295.5" cy="385.3" r="1.9" fill="#1e2878"/>
<circle cx="295.5" cy="391.8" r="1.9" fill="#1e2878"/>
<path d="M316.2 450.3V435H334.5V450.3" fill="none" stroke="#bb2a2e" stroke-width="1.2"/>
<line x1="325.4" y1="433" x2="325.4" y2="437.5" stroke="#b0161c" stroke-width="1.1"/>
<line x1="320.4" y1="433" x2="330.4" y2="433" stroke="#b0161c" stroke-width="1.1"/>
<line x1="320.4" y1="437.5" x2="330.4" y2="437.5" stroke="#b0161c" stroke-width="1.1"/>
<rect x="316.95" y="428.75" width="3.7" height="3.7" fill="#b0161c"/>
<rect x="323.55" y="432.05" width="3.7" height="3.7" fill="#b0161c"/>
<rect x="330.05" y="428.75" width="3.7" height="3.7" fill="#b0161c"/>
<rect x="323.55" y="437.55" width="3.7" height="3.7" fill="#b0161c"/>
<line x1="295.3" y1="352.5" x2="321.7" y2="352.5" stroke="#1b1b1b" stroke-width="1"/>
<text x="308.5" y="352.2" text-anchor="middle" font-size="12" font-weight="bold" fill="#000" style="font-family:'Liberation Serif',serif">***</text>
<text x="356.4" y="328.5" font-size="10.2" font-weight="bold">I</text>
<line x1="395.3" y1="345.1" x2="395.3" y2="450.3" stroke="#1b1b1b" stroke-width="1"/>
<line x1="391.1" y1="345.1" x2="395.3" y2="345.1" stroke="#1b1b1b" stroke-width="1"/>
<text transform="translate(388.8,348.4) scale(1.05,1)" text-anchor="end" font-size="10">0.15</text>
<line x1="391.1" y1="380.2" x2="395.3" y2="380.2" stroke="#1b1b1b" stroke-width="1"/>
<text transform="translate(388.8,383.5) scale(1.05,1)" text-anchor="end" font-size="10">0.10</text>
<line x1="391.1" y1="415.2" x2="395.3" y2="415.2" stroke="#1b1b1b" stroke-width="1"/>
<text transform="translate(388.8,418.5) scale(1.05,1)" text-anchor="end" font-size="10">0.05</text>
<line x1="391.1" y1="450.3" x2="395.3" y2="450.3" stroke="#1b1b1b" stroke-width="1"/>
<text transform="translate(388.8,453.6) scale(1.05,1)" text-anchor="end" font-size="10">0.00</text>
<line x1="395" y1="450.3" x2="466.2" y2="450.3" stroke="#1b1b1b" stroke-width="1"/>
<line x1="415" y1="450.3" x2="415" y2="454.8" stroke="#1b1b1b" stroke-width="1"/>
<text x="414.5" y="465.6" text-anchor="middle">PBS</text>
<line x1="445.2" y1="450.3" x2="445.2" y2="454.8" stroke="#1b1b1b" stroke-width="1"/>
<text x="444.7" y="465.6" text-anchor="middle">AT3</text>
<text transform="translate(362.1,394.5) rotate(-90)" text-anchor="middle" textLength="46" lengthAdjust="spacingAndGlyphs" fill="#1b1b1b">Spleen(g)</text>
<path d="M405.5 450.3V390.3H424.5V450.3" fill="none" stroke="#2f3a8c" stroke-width="1.2"/>
<line x1="415" y1="386.6" x2="415" y2="393.5" stroke="#1e2878" stroke-width="1.1"/>
<line x1="410" y1="386.6" x2="420" y2="386.6" stroke="#1e2878" stroke-width="1.1"/>
<line x1="410" y1="393.5" x2="420" y2="393.5" stroke="#1e2878" stroke-width="1.1"/>
<circle cx="415.3" cy="381.1" r="1.9" fill="#1e2878"/>
<circle cx="415.7" cy="386.6" r="1.9" fill="#1e2878"/>
<circle cx="409.2" cy="396.2" r="1.9" fill="#1e2878"/>
<circle cx="421.8" cy="394" r="1.9" fill="#1e2878"/>
<path d="M435.8 450.3V423.4H454.6V450.3" fill="none" stroke="#bb2a2e" stroke-width="1.2"/>
<line x1="445.2" y1="420" x2="445.2" y2="427" stroke="#b0161c" stroke-width="1.1"/>
<line x1="440.2" y1="420" x2="450.2" y2="420" stroke="#b0161c" stroke-width="1.1"/>
<line x1="440.2" y1="427" x2="450.2" y2="427" stroke="#b0161c" stroke-width="1.1"/>
<rect x="436.85" y="415.85" width="3.7" height="3.7" fill="#b0161c"/>
<rect x="443.35" y="416.15" width="3.7" height="3.7" fill="#b0161c"/>
<rect x="449.85" y="424.65" width="3.7" height="3.7" fill="#b0161c"/>
<rect x="436.85" y="427.65" width="3.7" height="3.7" fill="#b0161c"/>
<line x1="414.6" y1="368.5" x2="445.8" y2="368.5" stroke="#1b1b1b" stroke-width="1"/>
<text x="430.2" y="368.2" text-anchor="middle" font-size="12" font-weight="bold" fill="#000" style="font-family:'Liberation Serif',serif">***</text>
<text x="476.7" y="329" font-size="10.2" font-weight="bold">K</text>
<line x1="513.1" y1="356" x2="513.1" y2="449.2" stroke="#1b1b1b" stroke-width="1"/>
<line x1="508.9" y1="356" x2="513.1" y2="356" stroke="#1b1b1b" stroke-width="1"/>
<text x="506.6" y="359.3" text-anchor="end">3</text>
<line x1="508.9" y1="387.1" x2="513.1" y2="387.1" stroke="#1b1b1b" stroke-width="1"/>
<text x="506.6" y="390.4" text-anchor="end">2</text>
<line x1="508.9" y1="418.2" x2="513.1" y2="418.2" stroke="#1b1b1b" stroke-width="1"/>
<text x="506.6" y="421.5" text-anchor="end">1</text>
<line x1="508.9" y1="449.2" x2="513.1" y2="449.2" stroke="#1b1b1b" stroke-width="1"/>
<text x="506.6" y="452.5" text-anchor="end">0</text>
<line x1="513.1" y1="449.2" x2="656.8" y2="449.2" stroke="#1b1b1b" stroke-width="1"/>
<line x1="534.9" y1="449.2" x2="534.9" y2="453.7" stroke="#1b1b1b" stroke-width="1"/>
<text x="534.9" y="464.5" text-anchor="middle">CD3<tspan font-size="5" dy="-4.6">+</tspan></text>
<line x1="584.3" y1="449.2" x2="584.3" y2="453.7" stroke="#1b1b1b" stroke-width="1"/>
<text x="584.3" y="464.5" text-anchor="middle">CD4<tspan font-size="5" dy="-4.6">+</tspan></text>
<line x1="633.4" y1="449.2" x2="633.4" y2="453.7" stroke="#1b1b1b" stroke-width="1"/>
<text x="633.4" y="464.5" text-anchor="middle">CD8<tspan font-size="5" dy="-4.6">+</tspan></text>
<text transform="translate(482.4,402.4) rotate(-90)" text-anchor="middle" font-size="10.8" textLength="97" lengthAdjust="spacingAndGlyphs" fill="#1b1b1b">Spleen T cell counts</text>
<text transform="translate(495.5,400.7) rotate(-90)" text-anchor="middle" font-size="10.8" textLength="32" lengthAdjust="spacingAndGlyphs" fill="#1b1b1b">(×10<tspan font-size="6.3" dy="-4.2">7</tspan><tspan dy="4.2">)</tspan></text>
<line x1="525.8" y1="376.8" x2="544.3" y2="404.5" stroke="#111" stroke-width="1.1"/>
<line x1="525.8" y1="379.8" x2="544.3" y2="410.6" stroke="#111" stroke-width="1.1"/>
<line x1="525.8" y1="389.8" x2="544.3" y2="423" stroke="#111" stroke-width="1.1"/>
<line x1="525.8" y1="391.4" x2="544.3" y2="410.6" stroke="#111" stroke-width="1.1"/>
<circle cx="525.8" cy="376.8" r="1.9" fill="#1e2878"/>
<circle cx="525.8" cy="379.8" r="1.9" fill="#1e2878"/>
<circle cx="525.8" cy="389.8" r="1.9" fill="#1e2878"/>
<circle cx="525.8" cy="391.4" r="1.9" fill="#1e2878"/>
<rect x="542.5" y="402.7" width="3.6" height="3.6" fill="#b0161c"/>
<rect x="542.5" y="408.8" width="3.6" height="3.6" fill="#b0161c"/>
<rect x="542.5" y="421.2" width="3.6" height="3.6" fill="#b0161c"/>
<rect x="542.5" y="408.8" width="3.6" height="3.6" fill="#b0161c"/>
<line x1="575.1" y1="405.2" x2="593.7" y2="425.3" stroke="#111" stroke-width="1.1"/>
<line x1="575.1" y1="407.4" x2="593.7" y2="428.1" stroke="#111" stroke-width="1.1"/>
<line x1="575.1" y1="413.3" x2="593.7" y2="436.6" stroke="#111" stroke-width="1.1"/>
<line x1="575.1" y1="415.5" x2="593.7" y2="430.7" stroke="#111" stroke-width="1.1"/>
<circle cx="575.1" cy="405.2" r="1.9" fill="#1e2878"/>
<circle cx="575.1" cy="407.4" r="1.9" fill="#1e2878"/>
<circle cx="575.1" cy="413.3" r="1.9" fill="#1e2878"/>
<circle cx="575.1" cy="415.5" r="1.9" fill="#1e2878"/>
<rect x="591.9" y="423.5" width="3.6" height="3.6" fill="#b0161c"/>
<rect x="591.9" y="426.3" width="3.6" height="3.6" fill="#b0161c"/>
<rect x="591.9" y="434.8" width="3.6" height="3.6" fill="#b0161c"/>
<rect x="591.9" y="428.9" width="3.6" height="3.6" fill="#b0161c"/>
<line x1="624.7" y1="426" x2="643.3" y2="430.7" stroke="#111" stroke-width="1.1"/>
<line x1="624.7" y1="426.5" x2="643.3" y2="432.9" stroke="#111" stroke-width="1.1"/>
<line x1="624.7" y1="430.1" x2="643.3" y2="437.3" stroke="#111" stroke-width="1.1"/>
<circle cx="624.7" cy="426" r="1.9" fill="#1e2878"/>
<circle cx="624.7" cy="426.5" r="1.9" fill="#1e2878"/>
<circle cx="624.7" cy="430.1" r="1.9" fill="#1e2878"/>
<rect x="641.5" y="428.9" width="3.6" height="3.6" fill="#b0161c"/>
<rect x="641.5" y="431.1" width="3.6" height="3.6" fill="#b0161c"/>
<rect x="641.5" y="435.5" width="3.6" height="3.6" fill="#b0161c"/>
<line x1="526.2" y1="371.5" x2="545.4" y2="371.5" stroke="#1b1b1b" stroke-width="1"/>
<text x="535.8" y="371.2" text-anchor="middle" font-size="12" font-weight="bold" fill="#000" style="font-family:'Liberation Serif',serif">**</text>
<line x1="574.9" y1="395.5" x2="594.6" y2="395.5" stroke="#1b1b1b" stroke-width="1"/>
<text x="584.75" y="395.2" text-anchor="middle" font-size="12" font-weight="bold" fill="#000" style="font-family:'Liberation Serif',serif">***</text>
<line x1="624.7" y1="412.5" x2="643.7" y2="412.5" stroke="#1b1b1b" stroke-width="1"/>
<text x="634.2" y="412.2" text-anchor="middle" font-size="12" font-weight="bold" fill="#000" style="font-family:'Liberation Serif',serif">*</text>
<line x1="649.9" y1="358" x2="661" y2="358" stroke="#1a1a1a" stroke-width="1.25"/>
<circle cx="655.7" cy="358" r="1.8" fill="#1e2878"/>
<text x="665.5" y="361.7" font-size="10.3">PBS</text>
<line x1="649.9" y1="372.9" x2="661" y2="372.9" stroke="#1a1a1a" stroke-width="1.25"/>
<rect x="654" y="371.2" width="3.4" height="3.4" fill="#b0161c"/>
<text x="665.5" y="376.6" font-size="10.3">AT3</text>
<text x="6.1" y="488.8" font-size="10.2" font-weight="bold">J</text>
<line x1="45.5" y1="511" x2="45.5" y2="607.6" stroke="#1b1b1b" stroke-width="1"/>
<line x1="41.3" y1="511" x2="45.5" y2="511" stroke="#1b1b1b" stroke-width="1"/>
<text x="39" y="514.3" text-anchor="end">15</text>
<line x1="41.3" y1="543.2" x2="45.5" y2="543.2" stroke="#1b1b1b" stroke-width="1"/>
<text x="39" y="546.5" text-anchor="end">10</text>
<line x1="41.3" y1="575.4" x2="45.5" y2="575.4" stroke="#1b1b1b" stroke-width="1"/>
<text x="39" y="578.7" text-anchor="end">5</text>
<line x1="41.3" y1="607.6" x2="45.5" y2="607.6" stroke="#1b1b1b" stroke-width="1"/>
<text x="39" y="610.9" text-anchor="end">0</text>
<line x1="45.5" y1="607.6" x2="204.7" y2="607.6" stroke="#1b1b1b" stroke-width="1"/>
<line x1="63.1" y1="607.6" x2="63.1" y2="612.1" stroke="#1b1b1b" stroke-width="1"/>
<text x="63.1" y="623.9" text-anchor="middle">DN</text>
<line x1="104.2" y1="607.6" x2="104.2" y2="612.1" stroke="#1b1b1b" stroke-width="1"/>
<text x="104.2" y="623.9" text-anchor="middle">DP</text>
<line x1="144.6" y1="607.6" x2="144.6" y2="612.1" stroke="#1b1b1b" stroke-width="1"/>
<text x="144.6" y="623.9" text-anchor="middle">SP4</text>
<line x1="184.6" y1="607.6" x2="184.6" y2="612.1" stroke="#1b1b1b" stroke-width="1"/>
<text x="184.6" y="623.9" text-anchor="middle">SP8</text>
<text transform="translate(8.8,557.8) rotate(-90)" text-anchor="middle" textLength="92.4" lengthAdjust="spacingAndGlyphs" fill="#1b1b1b">Thymus T cell counts</text>
<text transform="translate(21.5,559.2) rotate(-90)" text-anchor="middle" textLength="33.5" lengthAdjust="spacingAndGlyphs" fill="#1b1b1b">(×10<tspan font-size="6.3" dy="-4.2">7</tspan><tspan dy="4.2">)</tspan></text>
<line x1="55.7" y1="603.5" x2="70.7" y2="605.2" stroke="#111" stroke-width="1.1"/>
<line x1="55.7" y1="604.5" x2="70.7" y2="606" stroke="#111" stroke-width="1.1"/>
<circle cx="55.7" cy="603.5" r="1.9" fill="#1e2878"/>
<circle cx="55.7" cy="604.5" r="1.9" fill="#1e2878"/>
<rect x="68.9" y="603.4" width="3.6" height="3.6" fill="#b0161c"/>
<rect x="68.9" y="604.2" width="3.6" height="3.6" fill="#b0161c"/>
<line x1="96.3" y1="535.1" x2="111.6" y2="606.2" stroke="#111" stroke-width="1.1"/>
<line x1="96.3" y1="543.7" x2="111.6" y2="606.2" stroke="#111" stroke-width="1.1"/>
<line x1="96.3" y1="549.3" x2="111.6" y2="606.2" stroke="#111" stroke-width="1.1"/>
<line x1="96.3" y1="564.2" x2="111.6" y2="606.2" stroke="#111" stroke-width="1.1"/>
<circle cx="96.3" cy="535.1" r="1.9" fill="#1e2878"/>
<circle cx="96.3" cy="543.7" r="1.9" fill="#1e2878"/>
<circle cx="96.3" cy="549.3" r="1.9" fill="#1e2878"/>
<circle cx="96.3" cy="564.2" r="1.9" fill="#1e2878"/>
<rect x="109.8" y="604.4" width="3.6" height="3.6" fill="#b0161c"/>
<rect x="109.8" y="604.4" width="3.6" height="3.6" fill="#b0161c"/>
<rect x="109.8" y="604.4" width="3.6" height="3.6" fill="#b0161c"/>
<rect x="109.8" y="604.4" width="3.6" height="3.6" fill="#b0161c"/>
<line x1="137" y1="600.4" x2="152.9" y2="601" stroke="#111" stroke-width="1.1"/>
<line x1="137" y1="601.5" x2="152.9" y2="604" stroke="#111" stroke-width="1.1"/>
<line x1="137" y1="602.5" x2="152.9" y2="606" stroke="#111" stroke-width="1.1"/>
<line x1="137" y1="603.2" x2="152.9" y2="606.5" stroke="#111" stroke-width="1.1"/>
<circle cx="137" cy="600.4" r="1.9" fill="#1e2878"/>
<circle cx="137" cy="601.5" r="1.9" fill="#1e2878"/>
<circle cx="137" cy="602.5" r="1.9" fill="#1e2878"/>
<circle cx="137" cy="603.2" r="1.9" fill="#1e2878"/>
<rect x="151.1" y="599.2" width="3.6" height="3.6" fill="#b0161c"/>
<rect x="151.1" y="602.2" width="3.6" height="3.6" fill="#b0161c"/>
<rect x="151.1" y="604.2" width="3.6" height="3.6" fill="#b0161c"/>
<rect x="151.1" y="604.7" width="3.6" height="3.6" fill="#b0161c"/>
<line x1="177.8" y1="605.8" x2="193.1" y2="605.8" stroke="#111" stroke-width="1.1"/>
<circle cx="177.8" cy="605.8" r="1.9" fill="#1e2878"/>
<rect x="191.3" y="604" width="3.6" height="3.6" fill="#b0161c"/>
<line x1="55.7" y1="593.5" x2="68.2" y2="593.5" stroke="#1b1b1b" stroke-width="1"/>
<text x="61.95" y="593.2" text-anchor="middle" font-size="12" font-weight="bold" fill="#000" style="font-family:'Liberation Serif',serif">**</text>
<line x1="95.8" y1="529.5" x2="108.9" y2="529.5" stroke="#1b1b1b" stroke-width="1"/>
<text x="102.35" y="529.2" text-anchor="middle" font-size="12" font-weight="bold" fill="#000" style="font-family:'Liberation Serif',serif">****</text>
<line x1="137.6" y1="591.2" x2="150.7" y2="591.2" stroke="#1b1b1b" stroke-width="1"/>
<text x="144.2" y="587.5" text-anchor="middle" font-size="9.5">ns</text>
<line x1="176.7" y1="590.5" x2="192" y2="590.5" stroke="#1b1b1b" stroke-width="1"/>
<text x="184.35" y="590.2" text-anchor="middle" font-size="12" font-weight="bold" fill="#000" style="font-family:'Liberation Serif',serif">*</text>
<line x1="167.8" y1="512.1" x2="178.9" y2="512.1" stroke="#1a1a1a" stroke-width="1.25"/>
<circle cx="173.6" cy="512.1" r="1.8" fill="#1e2878"/>
<text x="186.1" y="515.8" font-size="10.3">PBS</text>
<line x1="167.8" y1="527.9" x2="178.9" y2="527.9" stroke="#1a1a1a" stroke-width="1.25"/>
<rect x="171.9" y="526.2" width="3.4" height="3.4" fill="#b0161c"/>
<text x="186.1" y="531.6" font-size="10.3">AT3</text>
<line x1="503.5" y1="515.2" x2="503.5" y2="608.5" stroke="#1b1b1b" stroke-width="1"/>
<line x1="499.3" y1="515.2" x2="503.5" y2="515.2" stroke="#1b1b1b" stroke-width="1"/>
<text x="496.2" y="518.5" text-anchor="end" font-size="10.6">8</text>
<line x1="499.3" y1="538.5" x2="503.5" y2="538.5" stroke="#1b1b1b" stroke-width="1"/>
<text x="496.2" y="541.8" text-anchor="end" font-size="10.6">6</text>
<line x1="499.3" y1="561.8" x2="503.5" y2="561.8" stroke="#1b1b1b" stroke-width="1"/>
<text x="496.2" y="565.1" text-anchor="end" font-size="10.6">4</text>
<line x1="499.3" y1="585.1" x2="503.5" y2="585.1" stroke="#1b1b1b" stroke-width="1"/>
<text x="496.2" y="588.4" text-anchor="end" font-size="10.6">2</text>
<line x1="499.3" y1="608.5" x2="503.5" y2="608.5" stroke="#1b1b1b" stroke-width="1"/>
<text x="496.2" y="611.8" text-anchor="end" font-size="10.6">0</text>
<line x1="503.7" y1="608.5" x2="648.8" y2="608.5" stroke="#1b1b1b" stroke-width="1"/>
<line x1="525.3" y1="608.5" x2="525.3" y2="613" stroke="#1b1b1b" stroke-width="1"/>
<text x="525.3" y="624.3" text-anchor="middle">CD3<tspan font-size="5" dy="-4.6">+</tspan></text>
<line x1="575.6" y1="608.5" x2="575.6" y2="613" stroke="#1b1b1b" stroke-width="1"/>
<text x="575.6" y="624.3" text-anchor="middle">CD4<tspan font-size="5" dy="-4.6">+</tspan></text>
<line x1="626.1" y1="608.5" x2="626.1" y2="613" stroke="#1b1b1b" stroke-width="1"/>
<text x="626.1" y="624.3" text-anchor="middle">CD8<tspan font-size="5" dy="-4.6">+</tspan></text>
<text transform="translate(470.9,562.9) rotate(-90)" text-anchor="middle" font-size="10.8" textLength="80" lengthAdjust="spacingAndGlyphs" fill="#1b1b1b">Blood T cells / L</text>
<text transform="translate(484.8,563.5) rotate(-90)" text-anchor="middle" font-size="10.8" textLength="29.5" lengthAdjust="spacingAndGlyphs" fill="#1b1b1b">(×10<tspan font-size="6.3" dy="-4.2">8</tspan><tspan dy="4.2">)</tspan></text>
<line x1="515.8" y1="531.5" x2="535.1" y2="573.8" stroke="#111" stroke-width="1.1"/>
<line x1="515.8" y1="562.9" x2="535.1" y2="583" stroke="#111" stroke-width="1.1"/>
<line x1="515.8" y1="564" x2="535.1" y2="595.3" stroke="#111" stroke-width="1.1"/>
<line x1="515.8" y1="563.5" x2="535.1" y2="574" stroke="#111" stroke-width="1.1"/>
<circle cx="515.8" cy="531.5" r="1.9" fill="#1e2878"/>
<circle cx="515.8" cy="562.9" r="1.9" fill="#1e2878"/>
<circle cx="515.8" cy="564" r="1.9" fill="#1e2878"/>
<circle cx="515.8" cy="563.5" r="1.9" fill="#1e2878"/>
<rect x="533.3" y="572" width="3.6" height="3.6" fill="#b0161c"/>
<rect x="533.3" y="581.2" width="3.6" height="3.6" fill="#b0161c"/>
<rect x="533.3" y="593.5" width="3.6" height="3.6" fill="#b0161c"/>
<rect x="533.3" y="572.2" width="3.6" height="3.6" fill="#b0161c"/>
<line x1="566.3" y1="561.1" x2="585.1" y2="587" stroke="#111" stroke-width="1.1"/>
<line x1="566.3" y1="579.4" x2="585.1" y2="590.5" stroke="#111" stroke-width="1.1"/>
<line x1="566.3" y1="581.3" x2="585.1" y2="601" stroke="#111" stroke-width="1.1"/>
<line x1="566.3" y1="583.6" x2="585.1" y2="593.3" stroke="#111" stroke-width="1.1"/>
<circle cx="566.3" cy="561.1" r="1.9" fill="#1e2878"/>
<circle cx="566.3" cy="579.4" r="1.9" fill="#1e2878"/>
<circle cx="566.3" cy="581.3" r="1.9" fill="#1e2878"/>
<circle cx="566.3" cy="583.6" r="1.9" fill="#1e2878"/>
<rect x="583.3" y="585.2" width="3.6" height="3.6" fill="#b0161c"/>
<rect x="583.3" y="588.7" width="3.6" height="3.6" fill="#b0161c"/>
<rect x="583.3" y="599.2" width="3.6" height="3.6" fill="#b0161c"/>
<rect x="583.3" y="591.5" width="3.6" height="3.6" fill="#b0161c"/>
<line x1="616.4" y1="581.3" x2="635.4" y2="592.4" stroke="#111" stroke-width="1.1"/>
<line x1="616.4" y1="590.1" x2="635.4" y2="596.3" stroke="#111" stroke-width="1.1"/>
<line x1="616.4" y1="592.2" x2="635.4" y2="602.8" stroke="#111" stroke-width="1.1"/>
<line x1="616.4" y1="591" x2="635.4" y2="598.7" stroke="#111" stroke-width="1.1"/>
<circle cx="616.4" cy="581.3" r="1.9" fill="#1e2878"/>
<circle cx="616.4" cy="590.1" r="1.9" fill="#1e2878"/>
<circle cx="616.4" cy="592.2" r="1.9" fill="#1e2878"/>
<circle cx="616.4" cy="591" r="1.9" fill="#1e2878"/>
<rect x="633.6" y="590.6" width="3.6" height="3.6" fill="#b0161c"/>
<rect x="633.6" y="594.5" width="3.6" height="3.6" fill="#b0161c"/>
<rect x="633.6" y="601" width="3.6" height="3.6" fill="#b0161c"/>
<rect x="633.6" y="596.9" width="3.6" height="3.6" fill="#b0161c"/>
<line x1="514.9" y1="523.5" x2="534.6" y2="523.5" stroke="#1b1b1b" stroke-width="1"/>
<text x="524.75" y="521.2" text-anchor="middle" font-size="13.5" font-weight="bold" fill="#000" style="font-family:'Liberation Serif',serif">*</text>
<line x1="567" y1="551.5" x2="585.1" y2="551.5" stroke="#1b1b1b" stroke-width="1"/>
<text x="576.05" y="549" text-anchor="middle" font-size="13.5" font-weight="bold" fill="#000" style="font-family:'Liberation Serif',serif">*</text>
<line x1="614.1" y1="563.9" x2="633.1" y2="563.9" stroke="#1b1b1b" stroke-width="1"/>
<text x="603" y="559.6" font-size="9.3"><tspan font-style="italic">P</tspan> =0.0524</text>
<line x1="647.7" y1="516.4" x2="658.8" y2="516.4" stroke="#1a1a1a" stroke-width="1.25"/>
<circle cx="653.5" cy="516.4" r="1.8" fill="#1e2878"/>
<text x="663.7" y="520.1" font-size="10.3">PBS</text>
<line x1="647.7" y1="531.4" x2="658.8" y2="531.4" stroke="#1a1a1a" stroke-width="1.25"/>
<rect x="651.8" y="529.7" width="3.4" height="3.4" fill="#b0161c"/>
<text x="663.7" y="535.1" font-size="10.3">AT3</text>
<text x="237.4" y="181" font-size="10.2" font-weight="bold">F</text>
<text x="300.4" y="197.6" text-anchor="middle" font-size="10.2">PBS</text>
<path transform="scale(.1)" fill="none" stroke="#858585" stroke-width="6" d="M2781 2591h6M2751 2567h6M2749 2553h6M2810 2599h6M2760 2551h6M2779 2628h6M2746 2595h6M2793 2590h6M2772 2488h6M2753 2444h6M2782 2451h6M2791 2496h6M2766 2601h6M2779 2400h6M2777 2587h6M2773 2474h6M2759 2514h6M2742 2667h6M2798 2590h6M2775 2546h6M2774 2598h6M2785 2498h6M2719 2687h6M2769 2655h6M2834 2548h6M2733 2643h6M2788 2597h6M2794 2578h6M2792 2587h6M2742 2696h6M2758 2604h6M2739 2596h6M2772 2546h6M2797 2661h6M2762 2488h6M2712 2632h6M2774 2555h6M2782 2686h6M2766 2564h6M2817 2576h6M2768 2557h6M2767 2616h6M2744 2572h6M2761 2588h6M2781 2679h6M2792 2590h6M2805 2568h6M2789 2591h6M2793 2494h6M2751 2564h6M2834 2609h6M2763 2526h6M2785 2607h6M2769 2576h6M2782 2644h6M2779 2512h6M2743 2589h6M2747 2607h6M2770 2663h6M2756 2595h6M2719 2575h6M2793 2506h6M2814 2433h6M2809 2462h6M2802 2529h6M2729 2595h6M2803 2688h6M2766 2584h6M2747 2575h6M2749 2671h6M2751 2584h6M2743 2539h6M2758 2684h6M2765 2662h6M2770 2537h6M2778 2548h6M2768 2561h6M2762 2484h6M2740 2712h6M2791 2512h6M2721 2691h6M2757 2572h6M2808 2460h6M2775 2588h6M2792 2535h6M2774 2549h6M2749 2503h6M2748 2688h6M2770 2612h6M2763 2555h6M2759 2636h6M2775 2579h6M2782 2680h6M2754 2617h6M2811 2489h6M2761 2662h6M2790 2633h6M2792 2655h6M2819 2561h6M2807 2499h6M2793 2630h6M2798 2735h6M2736 2499h6M2738 2648h6M2796 2592h6M2772 2610h6M2776 2572h6M2738 2521h6M2747 2574h6M2801 2468h6M2785 2587h6M2763 2514h6M2757 2512h6M2750 2602h6M2779 2618h6M2717 2737h6M2763 2656h6M2733 2584h6M2797 2558h6M2776 2584h6M2807 2572h6M2712 2582h6M2724 2532h6M2763 2690h6M2757 2499h6M2768 2675h6M2771 2593h6M2795 2595h6M2774 2632h6M2796 2513h6M2809 2542h6M2780 2494h6M2736 2585h6M2799 2724h6M2798 2558h6M2769 2609h6M2742 2593h6M2770 2569h6M2772 2680h6M2815 2594h6M2767 2547h6M2832 2459h6M2790 2665h6M2770 2640h6M2764 2605h6M2776 2575h6M2776 2705h6M2757 2584h6M2823 2547h6M2771 2628h6M2745 2561h6M2798 2588h6M2770 2560h6M2778 2574h6M2780 2470h6M2805 2529h6M2795 2534h6M2751 2703h6M2783 2546h6M2745 2587h6M2825 2631h6M2770 2570h6M2791 2513h6M2753 2493h6M2737 2683h6M2806 2676h6M2786 2611h6M2751 2736h6M2740 2541h6M2814 2598h6M2739 2659h6M2766 2524h6M2765 2611h6M2779 2607h6M2774 2567h6M2769 2605h6M2821 2634h6M2770 2635h6M2798 2465h6M2750 2440h6M2785 2656h6M2727 2573h6M2757 2560h6M2830 2645h6M2750 2604h6M2781 2502h6M2743 2573h6M2740 2595h6M2793 2677h6M2751 2670h6M2765 2628h6M2767 2560h6M2744 2488h6M2761 2649h6M2799 2609h6M2766 2458h6M2782 2604h6M2805 2565h6M2738 2602h6M2803 2523h6M2716 2619h6M2778 2693h6M2751 2689h6M2744 2564h6M2747 2780h6M2742 2707h6M2725 2597h6M2804 2564h6M2813 2500h6M2741 2612h6M2764 2551h6M2759 2585h6M2772 2527h6M2746 2509h6M2798 2589h6M2786 2475h6M2751 2538h6M2751 2652h6M2739 2700h6M2763 2618h6M2796 2535h6M2791 2580h6M2743 2583h6M2775 2583h6M2740 2659h6M2726 2582h6M2738 2635h6M2787 2454h6M2721 2668h6M2762 2506h6M2793 2507h6M2760 2527h6M2747 2631h6M2742 2619h6M2732 2493h6M2748 2728h6M2770 2608h6M2773 2602h6M2728 2730h6M2758 2470h6M2805 2492h6M2739 2648h6M2775 2485h6M2739 2626h6M2734 2665h6M2734 2564h6M2820 2521h6M2755 2650h6M2728 2519h6M2775 2560h6M2771 2583h6M2781 2506h6M2809 2591h6M2753 2729h6M2778 2532h6M2758 2542h6M2745 2582h6M2765 2635h6M2766 2608h6M2753 2533h6M2760 2571h6M2771 2608h6M2786 2488h6M2767 2487h6M2718 2561h6M2776 2597h6M2763 2577h6M2749 2559h6M2760 2568h6M2739 2593h6M2775 2608h6M2762 2578h6M2722 2626h6M2776 2625h6M2781 2612h6M2771 2540h6M2780 2639h6M2729 2601h6M2801 2634h6M2771 2666h6M2812 2476h6M2704 2571h6M2728 2614h6M2766 2491h6M2752 2684h6M2819 2616h6M2757 2709h6M2740 2568h6M2791 2539h6M2773 2620h6M2743 2662h6M2794 2588h6M2798 2637h6M2761 2619h6M2742 2614h6M2803 2469h6M2782 2587h6M2777 2462h6M2754 2542h6M2783 2420h6M2776 2658h6M2778 2545h6M2789 2582h6M2814 2646h6M2772 2676h6M2792 2615h6M2776 2549h6M2820 2664h6M2773 2578h6M2809 2609h6M2814 2592h6M2776 2517h6M2796 2578h6M2722 2664h6M2790 2522h6M2736 2536h6M2778 2669h6M2756 2625h6M2758 2666h6M2738 2669h6M2786 2527h6M2798 2539h6M2745 2607h6M2763 2594h6M2748 2657h6M2810 2561h6M2779 2595h6M2757 2705h6M2784 2517h6M2746 2621h6M2747 2462h6M2746 2638h6M2780 2580h6M2758 2635h6M2744 2625h6M2748 2560h6M2763 2675h6M2769 2534h6M2794 2576h6M2758 2467h6M2846 2570h6M2762 2661h6M2824 2650h6M2765 2571h6M2777 2682h6M2753 2639h6M2804 2740h6M2787 2635h6M2808 2440h6M2787 2577h6M2758 2640h6M2797 2464h6M2770 2533h6M2769 2544h6M2802 2612h6M2757 2738h6M2763 2452h6M2769 2498h6M2717 2590h6M2728 2611h6M2767 2612h6M2774 2566h6M2761 2548h6M2786 2464h6M2781 2691h6M2819 2544h6M2772 2586h6M2778 2568h6M2774 2557h6M2772 2508h6M2752 2761h6M2790 2574h6M2736 2640h6M2800 2577h6M2774 2611h6M2741 2704h6M2758 2595h6M2706 2696h6M2764 2538h6M2784 2642h6M2718 2690h6M2759 2645h6M2794 2542h6M2723 2515h6M2735 2558h6M2789 2543h6M2814 2618h6M2732 2570h6M2754 2530h6M2795 2500h6M2724 2535h6M2764 2642h6M2773 2617h6M2769 2637h6M2774 2684h6M2781 2621h6M2781 2480h6M2781 2571h6M2830 2493h6M2739 2594h6M2780 2461h6M2754 2581h6M2754 2595h6M2748 2629h6M2800 2590h6M2754 2553h6M2735 2645h6M2776 2554h6M2755 2514h6M2719 2548h6M2774 2480h6M2767 2601h6M2775 2456h6M2782 2652h6M2749 2581h6M2752 2635h6M2761 2500h6M2767 2699h6M2750 2675h6M2748 2658h6M2843 2586h6M2753 2646h6M2783 2585h6M2749 2679h6M2780 2459h6M2776 2591h6M2771 2690h6M2736 2647h6M2824 2662h6M2774 2649h6M2821 2607h6M2778 2520h6M2790 2627h6M2785 2558h6M2779 2570h6M2742 2577h6M2798 2591h6M2774 2517h6M2738 2636h6M2742 2600h6M2828 2682h6M2750 2741h6M2770 2646h6M2815 2602h6M2813 2494h6M2813 2591h6M2753 2602h6M2791 2613h6M2786 2594h6M2718 2544h6M2785 2660h6M2774 2601h6M2752 2666h6M2774 2536h6M2725 2675h6M2745 2677h6M2817 2511h6M2738 2579h6M2802 2566h6M2751 2678h6M2789 2623h6M2788 2543h6M2758 2586h6M2779 2553h6M2757 2590h6M2807 2562h6M2796 2609h6M2779 2682h6M2731 2758h6M2757 2650h6M2805 2734h6M2763 2441h6M2789 2642h6M2765 2645h6M2787 2626h6M2802 2587h6M2810 2423h6M2808 2515h6M2750 2570h6M2745 2615h6M2737 2517h6M2787 2590h6M2760 2666h6M2765 2669h6M2790 2585h6M2755 2668h6M2771 2571h6M2747 2593h6M2753 2666h6M2746 2622h6M2781 2618h6M2833 2565h6M2819 2623h6M2747 2660h6M2788 2563h6M2774 2595h6M2725 2563h6M2713 2566h6M2750 2616h6M2773 2536h6M2731 2606h6M2758 2456h6M2763 2434h6M2730 2706h6M2729 2635h6M2762 2611h6M2789 2587h6M2764 2722h6M2745 2596h6M2761 2633h6M2765 2652h6M2800 2571h6M2754 2561h6M2737 2566h6M2840 2607h6M2733 2672h6M2769 2523h6M2742 2663h6M2803 2541h6M2755 2654h6M2739 2501h6M2717 2531h6M2749 2644h6M2821 2632h6M2731 2674h6M2798 2659h6M2753 2531h6M2729 2577h6M2775 2506h6M2780 2574h6M2765 2610h6M2704 2669h6M2753 2588h6M2778 2601h6M2763 2520h6M2776 2650h6M2835 2545h6M2840 2620h6M2773 2649h6M2760 2573h6M2760 2572h6M2756 2645h6M2743 2553h6M2749 2583h6M2803 2580h6M2784 2619h6M2772 2617h6M2766 2579h6M2737 2644h6M2763 2691h6M2766 2532h6M2783 2540h6M2811 2540h6M2717 2524h6M2723 2529h6M2803 2590h6M2730 2634h6M2829 2538h6M2770 2614h6M2766 2688h6M2787 2619h6M2749 2541h6M2746 2591h6M2776 2586h6M2730 2763h6M2769 2580h6M2798 2626h6M2754 2551h6M2761 2464h6M2770 2630h6M2771 2513h6M2787 2594h6M2771 2545h6M2756 2450h6M2782 2565h6M2754 2559h6M2773 2585h6M2722 2578h6M2751 2576h6M2784 2550h6M2793 2641h6M2803 2556h6M2795 2681h6M2757 2694h6M2797 2580h6M2790 2488h6M2767 2549h6M2763 2457h6M2798 2591h6M2762 2664h6M2752 2573h6M2763 2619h6M2817 2641h6M2732 2583h6M2740 2521h6M2819 2504h6M2729 2602h6M2802 2643h6M2757 2561h6M2784 2566h6M2800 2642h6M2796 2685h6M2780 2694h6M2782 2475h6M2760 2612h6M2755 2657h6M2821 2525h6M2773 2641h6M2795 2663h6M2702 2608h6M2766 2538h6M2787 2517h6M2750 2678h6M2839 2511h6M2743 2552h6M2783 2609h6M2801 2540h6M2751 2551h6M2793 2606h6M2788 2544h6M2817 2541h6M2770 2586h6M2792 2647h6M2771 2686h6M2763 2543h6M2785 2630h6M2773 2696h6M2806 2674h6M2730 2598h6M2743 2497h6M2736 2707h6M2779 2684h6M2786 2722h6M2768 2582h6M2777 2597h6M2777 2550h6M2712 2705h6M2746 2607h6M2795 2607h6M2795 2588h6M2817 2474h6M2795 2547h6M2700 2596h6M2785 2534h6M2768 2707h6M2732 2605h6M2811 2703h6M2767 2591h6M2811 2471h6M2777 2686h6M2818 2520h6M2778 2497h6M2795 2614h6M2780 2622h6M2744 2529h6M2753 2592h6M2749 2488h6M2726 2548h6M2739 2484h6M2783 2605h6M2715 2736h6M2804 2542h6M2766 2573h6M2749 2717h6M2746 2499h6M2779 2616h6M2757 2484h6M2785 2632h6M2796 2544h6M2719 2627h6M2787 2568h6M2718 2540h6M2796 2571h6M2799 2666h6M2769 2664h6M2800 2505h6M2732 2723h6M2805 2705h6M2759 2706h6M2778 2499h6M2745 2594h6M2771 2577h6M2793 2739h6M2807 2590h6M2770 2531h6M2731 2654h6M2739 2565h6M2817 2604h6M2786 2534h6M2749 2519h6M2824 2502h6M2767 2769h6M2799 2539h6M2798 2567h6M2778 2613h6M2752 2634h6M2729 2554h6M2737 2552h6M2748 2576h6M2785 2599h6M2762 2481h6M2802 2522h6M2782 2721h6M2817 2568h6M2827 2481h6M2786 2513h6M2778 2574h6M2767 2477h6M2775 2626h6M2765 2680h6M2733 2764h6M2718 2603h6M2820 2500h6M2796 2521h6M2745 2582h6M2762 2562h6M2798 2556h6M2751 2637h6M2788 2523h6M2802 2586h6M2769 2587h6M2755 2523h6M2770 2514h6M2797 2560h6M2771 2559h6M2829 2504h6M2818 2634h6M2808 2654h6M2795 2574h6M2810 2683h6M2791 2624h6M2744 2684h6M2745 2619h6M2761 2536h6M2778 2580h6M2729 2620h6M2789 2746h6M2757 2645h6M2789 2585h6M2722 2616h6M2817 2451h6M2767 2618h6M2727 2692h6M2813 2607h6M2763 2574h6M2759 2597h6M2734 2706h6M2730 2653h6M2764 2641h6M2770 2506h6M2728 2705h6M2823 2513h6M2816 2604h6M2745 2612h6M2809 2589h6M2765 2663h6M2769 2593h6M2833 2552h6M2741 2587h6M2798 2556h6M2764 2639h6M2779 2539h6M2750 2457h6M2752 2650h6M2805 2623h6M2768 2640h6M2774 2756h6M2797 2565h6M2745 2619h6M2768 2595h6M2785 2438h6M2763 2567h6M2777 2462h6M2776 2587h6M2801 2505h6M2777 2496h6M2742 2688h6M2808 2554h6M2768 2559h6M2801 2610h6M2768 2418h6M2751 2509h6M2756 2522h6M2745 2610h6M2783 2601h6M2783 2534h6M2768 2717h6M2777 2541h6M2789 2521h6M2742 2654h6M2806 2578h6M2783 2552h6M2759 2509h6M2838 2558h6M2762 2558h6M2773 2547h6M2773 2640h6M2762 2745h6M2769 2699h6M2728 2631h6M2772 2580h6M2715 2565h6M2755 2655h6M2770 2556h6M2786 2574h6M2758 2492h6M2775 2612h6M2760 2560h6M2778 2527h6M2734 2675h6M2784 2707h6M2799 2558h6M2737 2475h6M2772 2492h6M2761 2564h6M2713 2591h6M2729 2623h6M2767 2539h6M2745 2499h6M2781 2515h6M2784 2636h6M2759 2513h6M2793 2522h6M2825 2441h6M2755 2551h6M2799 2619h6M2799 2619h6M2806 2604h6M2760 2683h6M2765 2698h6M2747 2594h6M2797 2571h6M2802 2494h6M2778 2617h6M2789 2424h6M2746 2636h6M2706 2589h6M2749 2638h6M2715 2650h6M2761 2641h6M2741 2648h6M2840 2551h6M2760 2526h6M2747 2566h6M2811 2685h6M2731 2532h6M2794 2681h6M2798 2655h6M2776 2524h6M2745 2482h6M2746 2661h6M2756 2761h6M2801 2544h6M2771 2726h6M2794 2500h6M2748 2692h6M2808 2535h6M2741 2597h6M2755 2559h6M2774 2613h6M2783 2678h6M2797 2474h6M2778 2659h6M2749 2665h6M2807 2522h6M2722 2503h6M2744 2665h6M2737 2563h6M2752 2487h6M2786 2564h6M2813 2420h6M2753 2498h6M2765 2641h6M2837 2481h6M2787 2526h6M2810 2609h6M2805 2559h6M2810 2538h6M2769 2532h6M2766 2733h6M2834 2605h6M2747 2615h6M2734 2641h6M2797 2678h6M2760 2545h6M2772 2603h6M2797 2519h6M2778 2436h6M2769 2559h6M2736 2609h6M2763 2634h6M2741 2537h6M2793 2502h6M2783 2518h6M2793 2673h6M2752 2706h6M2810 2512h6M2802 2617h6M2806 2595h6M2786 2656h6M2780 2629h6M2777 2608h6M2750 2663h6M2755 2720h6M2762 2664h6M2831 2578h6M2740 2563h6M2770 2536h6M2761 2752h6M2737 2657h6M2789 2619h6M2739 2723h6M2776 2636h6M2781 2513h6M2711 2563h6M2783 2637h6M2740 2553h6M2768 2702h6M2804 2671h6M2800 2553h6M2773 2572h6M2774 2584h6M2767 2674h6M2767 2578h6M2745 2613h6M2776 2552h6M2774 2547h6M2834 2550h6M2774 2691h6M2834 2593h6M2768 2614h6M2779 2614h6M2761 2696h6M2731 2745h6M2739 2639h6M2749 2725h6M2799 2589h6M2732 2681h6M2737 2560h6M2769 2600h6M2757 2562h6M2756 2559h6M2811 2634h6M2786 2445h6M2790 2560h6M2777 2518h6M2801 2514h6M2768 2597h6M2763 2617h6M2803 2475h6M2766 2611h6M2799 2668h6M2761 2506h6M2799 2710h6M2746 2531h6M2765 2541h6M2787 2471h6M2750 2490h6M2746 2657h6M2791 2587h6M2757 2650h6M2750 2591h6M2776 2723h6M2782 2507h6M2780 2645h6M2796 2731h6M2775 2549h6M2791 2495h6M2714 2591h6M2782 2540h6M2759 2493h6M2786 2564h6M2750 2575h6M2751 2647h6M2739 2548h6M2798 2533h6M2785 2469h6M2756 2643h6M2740 2604h6M2793 2692h6M2722 2602h6M2809 2515h6M2767 2719h6M2746 2682h6M2775 2576h6M2727 2617h6M2802 2665h6M2745 2500h6M2752 2614h6M2815 2415h6M2758 2600h6M2759 2749h6M2782 2534h6M2761 2510h6M2754 2617h6M2823 2561h6M2788 2657h6M2782 2631h6M2760 2699h6M2731 2726h6M2737 2567h6M2790 2566h6M2742 2697h6M2763 2589h6M2746 2531h6M2724 2589h6M2773 2598h6M2750 2538h6M2837 2492h6M2828 2494h6M2758 2634h6M2812 2507h6M2733 2717h6M2805 2571h6M2826 2621h6M2793 2549h6M2842 2503h6M2718 2528h6M2770 2580h6M2747 2732h6M2790 2591h6M2758 2709h6M2779 2670h6M2778 2568h6M2747 2589h6M2724 2677h6M2790 2681h6M2753 2581h6M2788 2575h6M2775 2647h6M2749 2663h6M2727 2603h6M2771 2648h6M2809 2562h6M2732 2588h6M2779 2551h6M2785 2572h6M2803 2642h6M2825 2521h6M2789 2521h6M2783 2679h6M2761 2517h6M2775 2555h6M2728 2672h6M2786 2627h6M2781 2633h6M2774 2705h6M2781 2656h6M2755 2685h6M2748 2566h6M2778 2449h6M2792 2540h6M2825 2484h6M2764 2610h6M2757 2534h6M2767 2504h6M2768 2590h6M2778 2483h6M2785 2524h6M2775 2732h6M2731 2561h6M2738 2479h6M2746 2642h6M2755 2593h6M2811 2601h6M2769 2538h6M2804 2532h6M2750 2510h6M2746 2482h6M2808 2518h6M2740 2605h6M2769 2569h6M2832 2544h6M2800 2448h6M2754 2613h6M2796 2604h6M2783 2603h6M2711 2636h6M2793 2667h6M2782 2484h6M2764 2527h6M2743 2660h6M2721 2574h6M2777 2578h6M2759 2535h6M2724 2728h6M2759 2509h6M2821 2686h6M2750 2613h6M2806 2561h6M2821 2526h6M2763 2696h6M2788 2641h6M2731 2703h6M2753 2677h6M2782 2533h6M2747 2571h6M2760 2467h6M2815 2705h6M2800 2642h6M2775 2551h6M2741 2608h6M2784 2516h6M2746 2563h6M2762 2618h6M2764 2667h6M2779 2568h6M2756 2575h6M2797 2562h6M2803 2642h6M2776 2462h6M2781 2559h6M2763 2555h6M2771 2649h6M2820 2507h6M2749 2663h6M2746 2650h6M2757 2674h6M2769 2529h6M2785 2533h6M2773 2603h6M2720 2591h6M2802 2612h6M2760 2609h6M2771 2576h6M2761 2547h6M2814 2524h6M2800 2592h6M2777 2571h6M2787 2579h6M2773 2653h6M2757 2537h6M2751 2713h6M2816 2573h6M2779 2673h6M2842 2567h6M2785 2621h6M2735 2573h6M2796 2491h6M2763 2619h6M2743 2498h6M2735 2561h6M2797 2661h6M2754 2543h6M2801 2580h6M2784 2638h6M2790 2608h6M2731 2695h6M2738 2551h6M2795 2715h6M2733 2643h6M2765 2602h6M2767 2595h6M2758 2628h6M2773 2655h6M2772 2568h6M2799 2560h6M2783 2571h6M2735 2556h6M2736 2655h6M2779 2642h6M2761 2463h6M2755 2549h6M2803 2504h6M2786 2573h6M2785 2559h6M2779 2534h6M2769 2634h6M2747 2552h6M2781 2604h6M2754 2568h6M2837 2638h6M2785 2568h6M2699 2610h6M2752 2597h6M2754 2693h6M2773 2531h6M2756 2601h6M2736 2582h6M2796 2576h6M2776 2740h6M2804 2614h6M2811 2672h6M2761 2671h6M2776 2610h6M2776 2613h6M2721 2525h6M2722 2533h6M2773 2595h6M2806 2467h6M2768 2655h6M2811 2721h6M2812 2503h6M2781 2624h6M2745 2658h6M2755 2543h6M2777 2533h6M2756 2478h6M2766 2633h6M2717 2613h6M2764 2530h6M2756 2591h6M2764 2660h6M2773 2591h6M2754 2642h6M2776 2676h6M2773 2602h6M2797 2632h6M2775 2662h6M2769 2656h6M2762 2684h6M2828 2439h6M2740 2594h6M2750 2572h6M2769 2749h6M2801 2474h6M2830 2566h6M2719 2504h6M2763 2594h6M2717 2552h6M2816 2627h6M2822 2451h6M2843 2555h6M2764 2622h6M2778 2674h6M2798 2548h6M2728 2546h6M2746 2741h6M2788 2545h6M2749 2469h6M2763 2551h6M2804 2599h6M2791 2556h6M2738 2632h6M2745 2604h6M2777 2671h6M2736 2587h6M2751 2596h6M2764 2643h6M2806 2532h6M2750 2642h6M2755 2676h6M2779 2567h6M2767 2532h6M2817 2583h6M2753 2702h6M2758 2711h6M2794 2621h6M2838 2619h6M2738 2605h6M2751 2687h6M2787 2668h6M2793 2653h6M2758 2717h6M2744 2658h6M2805 2567h6M2733 2615h6M2765 2617h6M2792 2530h6M2733 2555h6M2831 2512h6M2792 2477h6M2786 2638h6M2774 2497h6M2794 2603h6M2746 2538h6M2795 2669h6M2753 2616h6M2773 2621h6M2731 2649h6M2768 2598h6M2788 2508h6M2761 2591h6M2730 2615h6M2785 2587h6M2800 2615h6M2741 2495h6M2784 2609h6M2772 2751h6M2803 2527h6M2739 2522h6M2783 2645h6M2766 2727h6M2734 2678h6M2824 2490h6M2775 2702h6M2776 2607h6M2821 2543h6M2781 2641h6M2799 2621h6M2789 2630h6M2797 2504h6M2740 2752h6M2799 2583h6M2782 2664h6M2801 2470h6M2760 2499h6M2760 2630h6M2787 2650h6M2763 2521h6M2767 2509h6M2764 2506h6M2747 2571h6M2747 2479h6M2771 2624h6M2793 2670h6M2794 2567h6M2757 2679h6M2793 2504h6M2767 2447h6M2769 2646h6M2804 2556h6M2790 2513h6M2754 2550h6M2742 2622h6M2741 2731h6M2726 2736h6M2735 2632h6M2789 2490h6M2732 2637h6M2741 2676h6M2782 2601h6M2718 2629h6M2775 2713h6M2748 2555h6M2749 2459h6M2759 2630h6M2768 2504h6M2751 2706h6M2815 2550h6M2770 2625h6M2735 2540h6M2770 2501h6M2785 2575h6M2775 2632h6M2743 2603h6M2777 2427h6M2763 2516h6M2741 2566h6M2780 2506h6M2754 2597h6M2763 2627h6M2783 2514h6M2738 2729h6M2801 2682h6M2738 2700h6M2759 2741h6M2769 2570h6M2769 2635h6M2810 2581h6M2750 2533h6M2786 2652h6M2734 2669h6M2777 2673h6M2724 2718h6M2763 2605h6M2767 2469h6M2751 2673h6M2803 2539h6M2792 2667h6M2778 2531h6M2746 2665h6M2802 2536h6M2728 2703h6M2778 2514h6M2764 2636h6M2783 2538h6M2780 2518h6M2743 2649h6M2769 2514h6M2767 2464h6M2804 2537h6M2755 2556h6M2752 2486h6M2768 2584h6M2746 2673h6M2771 2670h6M2717 2583h6M2804 2496h6M2767 2695h6M2755 2646h6M2758 2560h6M2774 2664h6M2766 2571h6M2777 2633h6M2828 2533h6M2771 2609h6M2789 2704h6M2789 2585h6M2764 2508h6M2826 2424h6M2808 2450h6M2753 2525h6M2782 2576h6M2817 2641h6M2794 2620h6M2798 2547h6M2759 2600h6M2772 2583h6M2783 2606h6M2757 2550h6M2720 2641h6M2821 2549h6M2721 2636h6M2804 2702h6M2759 2658h6M2745 2614h6M2735 2647h6M2803 2573h6M2772 2505h6M2734 2598h6M2773 2678h6M2784 2476h6M2761 2530h6M2753 2594h6M2745 2660h6M2764 2663h6M2751 2652h6M2745 2549h6M2794 2636h6M2791 2753h6M2765 2608h6M2769 2619h6M2787 2703h6M2761 2525h6M2770 2693h6M2808 2576h6M2768 2560h6M2722 2549h6M2732 2651h6M2757 2545h6M2765 2644h6M2726 2586h6M2733 2579h6M2781 2614h6M2830 2595h6M2785 2631h6M2766 2600h6M2795 2666h6M2813 2496h6M2795 2631h6M2735 2621h6M2834 2508h6M2732 2605h6M2760 2615h6M2794 2471h6M2766 2586h6M2787 2613h6M2782 2432h6M2746 2524h6M2774 2549h6M2735 2566h6M2833 2560h6M2735 2506h6"/>
<path transform="scale(.1)" fill="none" stroke="#858585" stroke-width="6" d="M2811 2395h6M2759 2407h6M2765 2453h6M2785 2272h6M2817 2362h6M2790 2423h6M2791 2449h6M2748 2443h6M2828 2238h6M2796 2251h6M2781 2361h6M2839 2335h6M2780 2565h6M2816 2370h6M2748 2523h6M2789 2377h6M2796 2418h6M2778 2425h6M2775 2373h6M2795 2313h6M2762 2355h6M2780 2503h6M2837 2255h6M2815 2308h6M2802 2369h6M2777 2383h6M2854 2378h6M2812 2180h6M2761 2404h6M2858 2343h6M2794 2416h6M2810 2412h6M2800 2471h6M2799 2383h6M2810 2487h6M2783 2283h6M2775 2397h6M2770 2336h6M2809 2349h6M2788 2455h6M2779 2546h6M2777 2411h6M2850 2390h6M2818 2350h6M2817 2342h6M2761 2375h6M2809 2452h6M2820 2423h6M2787 2463h6M2764 2251h6M2807 2486h6M2782 2378h6M2796 2373h6M2777 2340h6M2787 2554h6M2761 2315h6M2821 2310h6M2783 2434h6M2786 2374h6M2841 2279h6M2796 2305h6M2782 2444h6M2777 2250h6M2804 2379h6M2825 2364h6M2798 2455h6M2787 2372h6M2818 2419h6M2808 2376h6M2756 2339h6M2824 2287h6M2838 2412h6M2820 2377h6M2815 2485h6M2794 2318h6M2765 2379h6M2822 2413h6M2856 2334h6M2791 2345h6M2776 2348h6M2793 2406h6M2801 2513h6M2785 2415h6M2802 2250h6M2829 2300h6M2844 2371h6M2814 2434h6M2800 2390h6M2818 2428h6M2814 2311h6M2777 2347h6M2840 2250h6M2803 2376h6M2832 2297h6M2802 2424h6M2791 2411h6M2802 2507h6M2829 2402h6M2802 2447h6M2844 2402h6M2789 2413h6M2791 2297h6M2805 2281h6M2733 2387h6M2814 2373h6M2766 2382h6M2766 2476h6M2772 2263h6M2824 2371h6M2793 2470h6M2784 2267h6M2796 2293h6M2810 2220h6M2786 2425h6M2764 2407h6M2786 2245h6M2817 2471h6M2833 2334h6M2841 2346h6M2779 2410h6M2767 2436h6M2759 2287h6M2792 2392h6M2784 2362h6M2773 2491h6M2836 2311h6M2795 2492h6M2789 2221h6M2791 2422h6M2744 2499h6M2772 2426h6M2784 2482h6M2769 2456h6M2772 2248h6M2769 2316h6M2826 2475h6M2763 2391h6M2776 2358h6M2794 2494h6M2780 2411h6M2786 2197h6M2813 2276h6M2771 2376h6M2843 2341h6M2775 2286h6M2776 2349h6M2813 2335h6M2796 2369h6M2790 2362h6M2827 2343h6M2794 2330h6M2798 2370h6M2825 2358h6M2800 2370h6M2766 2363h6M2770 2297h6M2773 2385h6M2809 2280h6M2740 2410h6M2784 2514h6M2827 2364h6M2777 2375h6M2820 2364h6M2799 2279h6M2800 2294h6M2793 2426h6M2815 2269h6M2807 2380h6M2817 2469h6M2801 2405h6M2799 2276h6M2782 2388h6M2770 2376h6M2809 2338h6M2833 2353h6M2794 2407h6M2800 2351h6M2822 2287h6M2815 2311h6M2826 2384h6M2825 2371h6M2819 2293h6M2802 2351h6M2822 2378h6M2818 2199h6M2840 2246h6M2779 2200h6M2807 2261h6M2746 2320h6M2817 2343h6M2824 2357h6M2798 2339h6M2808 2338h6M2793 2532h6M2776 2385h6M2843 2309h6M2776 2273h6M2783 2361h6M2813 2402h6M2784 2273h6M2840 2411h6M2755 2288h6M2833 2456h6M2733 2336h6M2779 2493h6M2786 2465h6M2784 2337h6M2827 2499h6M2772 2520h6M2804 2254h6M2793 2361h6M2789 2329h6M2808 2332h6M2792 2300h6M2834 2361h6M2789 2401h6M2803 2417h6M2802 2464h6M2822 2526h6M2783 2366h6M2804 2446h6M2752 2359h6M2818 2215h6M2813 2437h6M2834 2263h6M2810 2326h6M2769 2404h6M2738 2315h6M2749 2288h6M2794 2407h6M2799 2448h6M2809 2317h6M2815 2338h6M2764 2394h6M2797 2370h6M2823 2346h6M2773 2515h6M2732 2335h6M2783 2358h6M2818 2187h6M2770 2418h6M2769 2336h6M2745 2431h6M2854 2348h6M2808 2375h6M2762 2355h6M2807 2368h6M2812 2284h6M2818 2478h6M2777 2233h6M2837 2235h6M2811 2424h6M2767 2293h6M2797 2377h6M2805 2298h6M2797 2425h6M2802 2348h6M2784 2347h6M2821 2313h6M2799 2366h6M2783 2286h6M2765 2382h6M2794 2262h6M2792 2472h6M2781 2494h6M2756 2340h6M2841 2324h6M2814 2400h6M2790 2430h6M2800 2353h6M2804 2428h6M2796 2412h6M2793 2304h6M2831 2292h6M2803 2191h6M2802 2274h6M2782 2479h6M2794 2422h6M2779 2375h6M2809 2329h6M2815 2407h6M2752 2379h6M2782 2414h6M2754 2342h6M2778 2320h6M2753 2363h6M2798 2375h6M2784 2273h6M2827 2299h6M2794 2228h6M2771 2440h6M2769 2380h6M2808 2537h6M2749 2463h6M2834 2279h6M2789 2353h6M2756 2395h6M2790 2436h6M2772 2409h6M2771 2412h6M2822 2454h6M2804 2449h6M2781 2440h6M2786 2377h6M2789 2251h6M2832 2429h6M2773 2315h6M2759 2491h6M2782 2546h6M2830 2297h6M2742 2511h6M2776 2502h6M2774 2495h6M2820 2237h6M2850 2454h6M2804 2518h6M2781 2349h6M2773 2343h6M2793 2385h6M2815 2331h6M2786 2264h6M2757 2418h6M2823 2367h6M2803 2413h6M2782 2296h6M2821 2380h6M2768 2297h6M2760 2465h6M2795 2462h6M2840 2449h6M2813 2430h6M2781 2290h6M2835 2428h6M2799 2397h6M2789 2456h6M2765 2362h6M2757 2452h6M2750 2410h6M2757 2461h6M2743 2438h6M2832 2335h6M2802 2302h6M2806 2397h6M2819 2277h6M2771 2300h6M2775 2369h6M2819 2435h6M2777 2417h6M2826 2405h6M2766 2336h6M2810 2292h6M2753 2386h6M2815 2519h6M2755 2439h6M2782 2334h6M2765 2332h6M2799 2407h6M2778 2400h6M2792 2480h6M2824 2367h6M2790 2344h6M2819 2315h6M2780 2331h6M2816 2308h6M2750 2321h6M2770 2421h6M2803 2401h6M2817 2475h6M2794 2321h6M2853 2264h6M2833 2411h6M2737 2338h6M2787 2500h6M2796 2381h6M2806 2426h6M2838 2237h6M2785 2324h6M2810 2519h6M2743 2337h6M2810 2385h6M2759 2360h6M2764 2300h6M2817 2390h6M2767 2455h6M2810 2391h6M2794 2326h6M2787 2551h6M2776 2444h6M2745 2370h6M2830 2371h6M2792 2428h6M2794 2319h6M2768 2420h6M2760 2447h6M2778 2216h6M2766 2225h6M2781 2466h6M2827 2391h6M2772 2476h6M2797 2484h6M2808 2371h6M2782 2247h6M2814 2362h6M2794 2338h6M2830 2456h6M2827 2438h6M2789 2335h6M2784 2396h6M2847 2331h6M2768 2351h6M2845 2416h6M2830 2380h6M2784 2332h6M2796 2311h6M2749 2523h6M2754 2507h6M2821 2352h6M2799 2424h6M2817 2231h6M2802 2352h6M2789 2271h6M2832 2263h6M2813 2349h6M2785 2311h6M2758 2477h6M2819 2218h6M2790 2272h6M2765 2446h6M2769 2443h6M2824 2500h6M2792 2329h6M2807 2300h6M2745 2464h6M2750 2445h6M2749 2293h6M2782 2549h6M2774 2389h6M2859 2377h6M2798 2338h6M2767 2425h6M2823 2374h6M2805 2387h6M2807 2341h6M2837 2378h6M2783 2431h6M2763 2432h6M2758 2446h6M2805 2331h6M2786 2474h6M2780 2360h6M2815 2511h6M2755 2359h6M2817 2304h6M2826 2311h6M2801 2401h6M2805 2427h6M2791 2297h6M2829 2332h6M2772 2355h6M2820 2259h6M2829 2460h6M2825 2377h6M2807 2283h6M2805 2313h6M2821 2436h6M2839 2289h6M2768 2327h6M2753 2352h6M2803 2371h6M2812 2354h6M2797 2343h6M2806 2248h6M2788 2297h6M2801 2362h6M2761 2226h6M2811 2345h6M2819 2403h6M2801 2482h6M2765 2366h6M2788 2289h6M2800 2393h6M2791 2370h6M2797 2424h6M2802 2396h6M2769 2321h6M2804 2413h6M2784 2350h6M2804 2352h6M2806 2272h6M2810 2525h6M2808 2425h6M2822 2382h6M2784 2356h6M2821 2381h6M2812 2400h6M2772 2341h6M2764 2391h6M2775 2430h6M2828 2455h6M2817 2198h6M2759 2307h6M2793 2317h6M2744 2454h6M2847 2464h6M2807 2422h6M2761 2366h6M2803 2416h6M2802 2433h6M2745 2500h6M2792 2272h6M2820 2316h6M2848 2347h6M2807 2501h6M2816 2339h6M2758 2436h6M2813 2401h6M2839 2392h6M2763 2471h6M2770 2379h6M2766 2417h6M2800 2449h6M2784 2452h6M2857 2250h6M2836 2359h6M2812 2408h6M2792 2526h6M2742 2486h6M2782 2443h6M2796 2359h6M2841 2403h6M2809 2213h6M2834 2312h6M2811 2335h6M2817 2338h6M2776 2455h6M2753 2371h6M2818 2398h6M2832 2325h6M2790 2251h6M2793 2371h6M2817 2366h6M2761 2327h6M2799 2495h6M2801 2300h6M2824 2446h6M2823 2295h6M2826 2394h6M2776 2487h6M2816 2248h6M2803 2523h6M2828 2284h6M2800 2322h6M2839 2381h6M2786 2289h6M2820 2236h6M2810 2332h6M2792 2278h6M2783 2458h6M2806 2424h6M2752 2336h6M2793 2454h6M2730 2449h6M2831 2298h6M2790 2418h6M2816 2383h6M2809 2345h6M2730 2377h6M2837 2340h6M2794 2336h6M2785 2317h6M2780 2465h6M2741 2317h6M2831 2217h6M2734 2426h6M2803 2443h6M2822 2305h6M2771 2229h6M2772 2245h6M2750 2442h6M2775 2270h6M2784 2386h6M2768 2442h6M2789 2259h6M2767 2371h6M2846 2398h6M2800 2320h6M2767 2483h6M2769 2295h6M2807 2404h6M2797 2356h6M2811 2479h6M2804 2249h6M2815 2379h6M2777 2347h6M2746 2325h6M2777 2364h6M2761 2405h6M2769 2328h6M2822 2278h6M2810 2329h6M2805 2272h6M2792 2222h6M2815 2325h6M2788 2381h6M2794 2438h6M2813 2414h6M2786 2360h6M2780 2393h6M2824 2402h6M2777 2438h6M2801 2257h6M2827 2358h6M2790 2333h6M2775 2427h6M2845 2356h6M2802 2494h6M2764 2386h6M2792 2413h6M2777 2383h6M2789 2364h6M2833 2396h6M2743 2393h6M2754 2280h6M2816 2300h6M2774 2398h6M2770 2387h6M2763 2242h6M2841 2296h6M2839 2255h6M2780 2478h6M2776 2360h6M2813 2365h6M2823 2369h6M2796 2467h6M2790 2393h6M2759 2392h6M2797 2400h6M2862 2297h6M2775 2281h6M2735 2385h6M2755 2295h6M2797 2283h6M2824 2395h6M2823 2436h6M2776 2414h6M2772 2459h6M2843 2317h6M2795 2433h6M2814 2431h6M2800 2249h6M2805 2265h6M2838 2311h6M2767 2407h6M2759 2361h6"/>
<path transform="scale(.1)" fill="none" stroke="#858585" stroke-width="6" stroke-opacity="0.8" d="M2807 2500h6M2694 2523h6M2809 2447h6M2832 2539h6M2820 2314h6M2798 2402h6M2810 2551h6M2797 2412h6M2732 2324h6M2775 2569h6M2762 2263h6M2853 2500h6M2808 2641h6M2797 2242h6M2796 2560h6M2768 2549h6M2740 2475h6M2737 2777h6M2806 2361h6M2810 2445h6M2867 2543h6M2777 2574h6M2759 2648h6M2769 2375h6M2735 2494h6M2767 2380h6M2743 2436h6M2801 2342h6M2708 2591h6M2730 2484h6M2765 2599h6M2779 2497h6M2721 2405h6M2715 2568h6M2782 2325h6M2802 2394h6M2784 2634h6M2782 2519h6M2691 2606h6M2737 2540h6M2796 2319h6M2813 2439h6M2872 2488h6M2839 2618h6M2718 2501h6M2826 2336h6M2740 2623h6M2797 2455h6M2785 2245h6M2866 2482h6M2752 2415h6M2788 2539h6M2779 2440h6M2746 2628h6M2800 2506h6M2778 2627h6M2754 2732h6M2768 2405h6M2785 2634h6M2807 2379h6M2809 2568h6M2832 2387h6M2745 2752h6M2706 2591h6M2831 2220h6M2792 2499h6M2776 2410h6M2852 2612h6M2711 2457h6M2797 2673h6M2784 2589h6M2695 2559h6M2758 2409h6M2799 2490h6M2869 2393h6M2774 2342h6M2725 2522h6M2806 2575h6M2872 2458h6M2795 2505h6M2718 2353h6M2775 2403h6M2822 2431h6M2766 2412h6M2835 2341h6M2797 2436h6M2804 2550h6M2762 2665h6M2817 2472h6M2768 2552h6M2760 2497h6M2818 2596h6M2868 2500h6M2789 2277h6M2747 2732h6M2724 2566h6M2729 2598h6M2790 2305h6M2739 2422h6M2742 2439h6M2782 2502h6M2755 2596h6M2738 2302h6M2855 2464h6M2746 2610h6M2722 2622h6M2756 2634h6M2803 2603h6M2801 2455h6M2791 2343h6M2780 2592h6M2841 2355h6M2764 2258h6M2726 2540h6M2817 2713h6M2764 2412h6M2734 2304h6M2807 2558h6M2792 2544h6M2805 2416h6M2799 2287h6M2828 2705h6M2773 2427h6M2780 2282h6M2836 2530h6M2821 2378h6M2773 2553h6M2834 2450h6M2728 2585h6M2721 2520h6M2733 2383h6M2766 2305h6M2817 2358h6M2764 2605h6M2831 2339h6M2806 2598h6M2764 2630h6M2774 2315h6M2743 2571h6M2728 2390h6M2833 2333h6M2726 2554h6M2769 2340h6M2725 2567h6M2815 2318h6M2722 2616h6M2827 2388h6M2763 2437h6M2787 2567h6M2808 2653h6M2784 2412h6M2723 2481h6M2837 2360h6M2845 2274h6M2774 2533h6M2799 2571h6M2753 2662h6M2775 2461h6M2807 2761h6M2778 2363h6M2791 2395h6M2748 2553h6M2763 2472h6M2828 2505h6M2858 2286h6M2855 2447h6M2835 2556h6M2827 2578h6M2746 2500h6M2809 2591h6M2834 2471h6M2786 2318h6M2857 2376h6M2807 2664h6M2791 2550h6M2770 2372h6M2783 2599h6M2750 2754h6M2798 2536h6M2746 2503h6M2739 2703h6M2764 2595h6M2860 2333h6M2764 2556h6M2772 2601h6M2779 2465h6M2762 2342h6M2803 2590h6M2753 2495h6M2701 2587h6M2776 2448h6M2800 2379h6M2755 2401h6M2799 2752h6M2774 2666h6M2810 2635h6M2799 2467h6M2800 2303h6M2752 2586h6M2831 2662h6M2853 2446h6M2788 2746h6M2861 2367h6M2770 2475h6M2760 2514h6M2809 2652h6M2799 2672h6M2786 2388h6M2758 2621h6M2843 2422h6M2776 2605h6M2806 2469h6M2811 2619h6M2807 2459h6M2811 2621h6M2783 2391h6M2824 2528h6M2773 2586h6M2864 2509h6M2805 2415h6M2784 2720h6M2823 2215h6M2784 2445h6M2795 2649h6M2828 2466h6M2785 2561h6M2793 2543h6M2768 2451h6M2742 2500h6M2856 2328h6M2786 2466h6M2787 2481h6M2788 2503h6M2835 2390h6M2839 2407h6M2768 2638h6M2809 2407h6M2799 2354h6M2816 2411h6M2738 2620h6M2742 2723h6M2765 2715h6M2758 2407h6M2857 2352h6M2866 2494h6M2760 2617h6M2858 2472h6M2840 2467h6M2751 2497h6M2753 2569h6M2815 2675h6M2812 2511h6M2767 2578h6M2766 2625h6M2736 2583h6M2803 2516h6M2775 2388h6M2823 2428h6M2812 2401h6M2786 2715h6M2807 2276h6M2762 2646h6M2802 2658h6M2769 2559h6M2779 2429h6M2808 2512h6M2768 2559h6M2802 2512h6M2768 2272h6M2784 2389h6M2777 2462h6M2825 2382h6M2709 2535h6M2735 2500h6M2748 2739h6M2793 2447h6M2785 2474h6M2780 2720h6M2828 2623h6M2871 2372h6M2821 2602h6M2831 2384h6M2757 2559h6M2797 2470h6M2827 2634h6M2834 2588h6M2715 2704h6M2749 2432h6M2849 2521h6M2732 2591h6M2835 2465h6M2787 2428h6M2701 2539h6M2793 2613h6M2736 2579h6M2767 2393h6M2786 2538h6M2865 2527h6M2740 2683h6M2869 2417h6M2851 2463h6M2745 2725h6M2792 2465h6M2751 2379h6M2828 2450h6M2781 2439h6M2729 2433h6M2817 2413h6M2827 2309h6M2734 2675h6M2734 2528h6M2784 2574h6M2845 2537h6M2841 2573h6M2725 2588h6M2805 2541h6M2860 2305h6M2801 2514h6M2798 2378h6M2768 2544h6M2722 2690h6M2819 2388h6M2808 2376h6M2868 2585h6M2826 2363h6M2821 2371h6M2707 2592h6M2745 2340h6M2768 2290h6M2731 2363h6M2809 2518h6M2774 2316h6M2775 2502h6M2829 2407h6M2807 2623h6M2877 2479h6M2750 2744h6M2840 2489h6M2811 2391h6M2753 2506h6M2717 2464h6M2701 2419h6M2786 2674h6M2832 2645h6M2816 2646h6M2814 2375h6M2738 2422h6M2816 2343h6M2713 2644h6M2768 2446h6M2830 2494h6M2739 2443h6M2689 2542h6M2836 2524h6M2817 2546h6M2813 2572h6M2746 2518h6M2784 2468h6M2845 2682h6M2747 2556h6M2784 2397h6M2786 2695h6M2751 2490h6M2789 2624h6M2790 2493h6M2761 2736h6M2823 2740h6M2824 2510h6M2749 2480h6M2747 2460h6M2780 2572h6M2816 2582h6M2811 2248h6M2799 2378h6M2780 2526h6M2833 2237h6M2762 2503h6M2708 2439h6M2778 2369h6M2785 2446h6M2820 2355h6M2729 2428h6M2776 2385h6M2798 2620h6M2789 2453h6M2874 2537h6M2812 2415h6M2735 2599h6M2790 2527h6M2815 2436h6M2825 2648h6M2795 2474h6M2823 2534h6M2813 2523h6M2817 2527h6M2762 2679h6M2780 2527h6M2788 2443h6M2830 2344h6M2729 2675h6M2737 2710h6M2868 2499h6M2834 2353h6M2775 2539h6M2813 2379h6M2837 2439h6M2711 2667h6M2776 2428h6M2747 2331h6M2775 2512h6M2778 2267h6M2726 2569h6M2866 2376h6M2699 2679h6M2816 2312h6M2786 2332h6M2815 2439h6M2843 2332h6M2710 2473h6M2812 2571h6M2773 2465h6M2835 2565h6M2807 2523h6M2768 2492h6M2806 2373h6M2777 2457h6M2797 2632h6M2705 2617h6M2753 2576h6M2755 2384h6M2810 2672h6M2741 2396h6M2764 2500h6M2792 2243h6M2791 2502h6M2764 2450h6M2814 2255h6M2765 2619h6M2774 2665h6M2784 2713h6M2767 2350h6M2821 2540h6M2762 2773h6M2738 2463h6M2792 2639h6M2822 2419h6M2695 2572h6M2783 2604h6M2770 2444h6M2832 2411h6M2765 2328h6M2795 2650h6M2764 2529h6M2817 2446h6M2847 2404h6M2751 2428h6M2765 2681h6M2761 2576h6M2847 2315h6M2801 2544h6M2729 2511h6M2710 2620h6M2754 2432h6M2827 2450h6M2817 2413h6M2701 2592h6M2780 2335h6M2805 2418h6M2837 2232h6M2770 2604h6M2799 2306h6M2816 2427h6M2819 2490h6M2854 2444h6M2712 2564h6M2723 2599h6M2743 2510h6M2797 2439h6M2769 2484h6M2837 2367h6M2831 2619h6M2725 2747h6M2825 2652h6M2796 2501h6M2803 2426h6M2852 2586h6M2805 2253h6M2717 2616h6M2870 2501h6M2796 2686h6M2767 2553h6M2744 2467h6M2768 2533h6M2784 2456h6M2788 2609h6M2791 2331h6M2759 2565h6M2808 2663h6M2810 2362h6M2826 2495h6M2727 2401h6M2790 2578h6M2779 2572h6M2759 2544h6M2818 2569h6M2822 2494h6M2768 2250h6M2778 2535h6M2814 2324h6M2711 2604h6M2801 2580h6M2730 2558h6M2712 2571h6M2776 2709h6M2857 2342h6M2744 2659h6M2835 2548h6M2785 2491h6M2811 2350h6M2753 2341h6M2735 2433h6M2709 2716h6M2779 2393h6M2820 2503h6M2763 2614h6M2791 2446h6M2808 2617h6M2798 2538h6M2745 2424h6"/>
<path transform="scale(.1)" fill="none" stroke="#3350a8" stroke-width="6" d="M3102 2413h6M3030 2381h6M3148 2416h6M3116 2396h6M3103 2222h6M3044 2437h6M3139 2260h6M3143 2361h6M3151 2404h6M3028 2413h6M3096 2440h6M3089 2522h6M3165 2407h6M3159 2578h6M3141 2564h6M3166 2535h6M3119 2494h6M3101 2452h6M3113 2410h6M3049 2477h6M3132 2232h6M3130 2273h6M3182 2465h6M3136 2634h6M3047 2389h6M3117 2363h6M3119 2222h6M3152 2449h6M3121 2413h6M3088 2369h6M3122 2255h6M3124 2620h6M3058 2490h6M3071 2607h6M3121 2538h6M3175 2344h6M3125 2452h6M3114 2500h6M3142 2408h6M3119 2405h6M3029 2377h6M3086 2376h6M3184 2452h6M3122 2264h6M2984 2394h6M3124 2246h6M3108 2459h6M3240 2362h6M3065 2432h6M3151 2635h6M3184 2409h6M3152 2467h6M3055 2476h6M3124 2557h6M3071 2339h6M3094 2555h6M3153 2455h6M3026 2464h6M3169 2520h6M3209 2545h6M3160 2490h6M3098 2625h6M3222 2536h6M3064 2544h6M3134 2575h6M3124 2495h6M3147 2600h6M3143 2373h6M3073 2530h6M3093 2402h6M3135 2383h6M3225 2562h6M3174 2581h6M3192 2576h6M3155 2409h6M3107 2485h6M3086 2400h6M3043 2421h6M3114 2507h6M3135 2462h6M3081 2530h6M3022 2438h6M3009 2619h6M3201 2502h6M3210 2400h6M3170 2653h6M3145 2370h6M3040 2402h6M3114 2391h6M3123 2378h6M3092 2425h6M3034 2318h6M3133 2369h6M3177 2680h6M3144 2652h6M3039 2442h6M2992 2452h6M3210 2419h6M3182 2488h6M3036 2410h6M3093 2399h6M3231 2585h6M3095 2371h6M3096 2436h6M3122 2316h6M3139 2492h6M3110 2320h6M3169 2261h6M3101 2341h6M3083 2404h6M3014 2337h6M3131 2644h6M3238 2482h6M3149 2442h6M3186 2456h6M3135 2509h6M3133 2425h6M2996 2581h6M3093 2439h6M3002 2420h6M3068 2534h6M3088 2429h6M3091 2270h6M3062 2251h6M3117 2419h6M3109 2460h6M3142 2689h6M3081 2319h6M3107 2381h6M3067 2387h6M3119 2635h6M3102 2417h6M3198 2430h6M3182 2506h6M3231 2570h6M3017 2457h6M3082 2519h6M3081 2257h6M3187 2570h6M3056 2533h6M3033 2445h6M3143 2599h6M3122 2552h6M3127 2447h6M3175 2247h6M3095 2555h6M3135 2453h6M3142 2627h6M3088 2459h6M3083 2289h6M3103 2463h6M3161 2463h6M3134 2503h6M3128 2527h6M3145 2452h6M3190 2265h6M3166 2313h6M3182 2457h6M3063 2459h6M3129 2573h6M3123 2468h6M3165 2566h6M3028 2481h6M3124 2411h6M3140 2653h6M3187 2446h6M3116 2444h6M3031 2473h6M3143 2561h6M3052 2425h6M3199 2479h6M3057 2385h6M3026 2502h6M3092 2212h6M3102 2380h6M3138 2396h6M3084 2432h6M3155 2406h6M3171 2562h6M3100 2346h6M3025 2479h6M3136 2613h6M3128 2388h6M3074 2418h6M3092 2512h6M3082 2301h6M3056 2444h6M3055 2595h6M3170 2650h6M3126 2353h6M3108 2587h6M3125 2326h6M3119 2518h6M3096 2444h6M3179 2422h6M3061 2523h6M3044 2629h6M3130 2530h6M3140 2589h6M3118 2574h6M3139 2565h6M3079 2694h6M3146 2589h6M3086 2477h6M3034 2507h6M3161 2307h6M3203 2287h6M3134 2428h6M3144 2466h6M3098 2427h6M3180 2444h6M3193 2583h6M3108 2498h6M3157 2274h6M3096 2551h6M3194 2547h6M3181 2469h6M3019 2492h6M3096 2406h6M3069 2517h6M3064 2410h6M3123 2454h6M3166 2566h6M3133 2477h6M3126 2470h6M3138 2439h6M3056 2583h6M3169 2497h6M3009 2409h6M3050 2419h6M3070 2530h6M3128 2654h6M3090 2370h6M3142 2338h6M3107 2623h6M3065 2560h6M3191 2304h6M3010 2588h6M3063 2301h6M3095 2565h6M3160 2440h6M3133 2471h6M3185 2423h6M3217 2373h6M3073 2421h6M3146 2529h6M3132 2240h6M3071 2310h6M3069 2545h6M3097 2497h6M3114 2671h6M3055 2329h6M3127 2358h6M3175 2457h6M3126 2476h6M3111 2493h6M3164 2490h6M3087 2544h6M3072 2263h6M3145 2405h6M3054 2395h6M3199 2650h6M3195 2428h6M3053 2600h6M3055 2428h6M3042 2465h6M3181 2456h6M3103 2480h6M3066 2626h6M3101 2562h6M3120 2480h6M3115 2470h6M3085 2370h6M3112 2504h6M3077 2327h6M3115 2379h6M3123 2475h6M3119 2383h6M3021 2449h6M3047 2350h6M3047 2523h6M3089 2484h6M3026 2318h6M3139 2504h6M3223 2538h6M3133 2483h6M3122 2439h6M3064 2414h6M3142 2480h6M3060 2468h6M3089 2431h6M3113 2333h6M3083 2406h6M3054 2526h6M3080 2499h6M3119 2497h6M3058 2477h6M3065 2365h6M3158 2469h6M3086 2568h6M3021 2459h6M3064 2206h6M3025 2376h6M3145 2254h6M3017 2361h6M3124 2704h6M3153 2414h6M3206 2365h6M3038 2279h6M3070 2433h6M3021 2602h6M3127 2367h6M3171 2509h6M3241 2485h6M3123 2395h6M3095 2541h6M3086 2414h6M3048 2376h6M3023 2385h6M3021 2488h6M3100 2567h6M3183 2381h6M3145 2465h6M3174 2366h6M3119 2357h6M3074 2255h6M3086 2500h6M3158 2396h6M3184 2437h6M3023 2500h6M3163 2302h6M3075 2327h6M3093 2510h6M3062 2497h6M3174 2477h6M2985 2480h6M3115 2516h6M3192 2345h6M3203 2375h6M3035 2439h6M3131 2455h6M3173 2503h6M3140 2346h6M3096 2525h6M3057 2341h6M3158 2526h6M3035 2353h6M3022 2580h6M3065 2461h6M3119 2252h6M3195 2423h6M3101 2693h6M3172 2556h6M3062 2387h6M3091 2620h6M3095 2441h6M3077 2429h6M3184 2526h6M3032 2403h6M3026 2449h6M3183 2374h6M3133 2698h6M3157 2327h6M3155 2611h6M3016 2293h6M3109 2537h6M3136 2379h6M3001 2381h6M3074 2532h6M3035 2334h6M3065 2471h6M3096 2512h6M3089 2562h6M2998 2372h6M3153 2324h6M3131 2330h6M3073 2496h6M3019 2453h6M3164 2411h6M3102 2623h6M3138 2416h6M3140 2565h6M3132 2362h6M3071 2550h6M3141 2298h6M3168 2484h6M3075 2454h6M3053 2396h6M3080 2341h6M3176 2391h6M3109 2310h6M3198 2380h6M3091 2473h6M3116 2534h6M3201 2392h6M3212 2522h6M3157 2571h6M3050 2459h6M3116 2522h6M3112 2519h6M3054 2370h6M3187 2522h6M3139 2414h6M3064 2596h6M3048 2408h6M3128 2574h6M3017 2395h6M3170 2426h6M3088 2413h6M3042 2516h6M3147 2451h6M3065 2360h6M3107 2473h6M3125 2420h6M3059 2470h6M3139 2373h6M3191 2568h6M3176 2353h6M3111 2529h6M3161 2499h6M3052 2641h6M3105 2512h6M3179 2424h6M3055 2536h6M3126 2415h6M3163 2292h6M3122 2438h6M3217 2483h6M3093 2450h6M3084 2636h6M3034 2389h6M3129 2564h6M3123 2498h6M3068 2432h6M3138 2362h6M3207 2460h6M3085 2364h6M3192 2336h6M3158 2313h6M3105 2603h6M2991 2526h6M3018 2405h6M3114 2466h6M3168 2363h6M3083 2486h6M3029 2391h6M3235 2427h6M3138 2370h6M3160 2387h6M3100 2495h6M3084 2253h6M3100 2578h6M3086 2516h6M3138 2244h6M3080 2482h6M3130 2407h6M3133 2383h6M2978 2425h6M3079 2432h6M3137 2356h6M3145 2394h6M3122 2566h6M3072 2279h6M3099 2547h6M3109 2360h6M3129 2502h6M3066 2518h6M3099 2418h6M2994 2445h6M3037 2422h6M3203 2599h6M3160 2631h6M3169 2395h6M3149 2426h6M3080 2350h6M3216 2498h6M3243 2445h6M3059 2445h6M3083 2433h6M3169 2441h6M3129 2550h6M3121 2449h6M3147 2462h6M3143 2449h6M3160 2306h6M3125 2638h6M3192 2295h6M3149 2425h6M3185 2490h6M3121 2516h6M3050 2234h6M3153 2468h6M3079 2337h6M3005 2500h6M3101 2237h6M3087 2476h6M3116 2199h6M3152 2304h6M3129 2438h6M3084 2518h6M3186 2539h6M3191 2492h6M3167 2380h6M3058 2478h6M3084 2440h6M3119 2389h6M3096 2564h6M3030 2462h6M3181 2460h6M3142 2537h6M3058 2391h6M3037 2439h6M3168 2314h6M3217 2349h6M3139 2293h6M3124 2321h6M3117 2335h6M3088 2432h6M3201 2505h6M3165 2384h6M3113 2458h6M3010 2375h6M3101 2415h6M3189 2644h6M3142 2401h6M3124 2631h6M3143 2471h6M3068 2285h6M3146 2485h6M3096 2349h6M3106 2435h6M3120 2524h6M3033 2467h6M3133 2334h6M3130 2275h6M3067 2376h6M3075 2519h6M3075 2355h6M3113 2217h6M3169 2422h6M3051 2593h6M3035 2441h6M3085 2328h6M3162 2541h6M3143 2382h6M3120 2407h6M3149 2464h6M3106 2380h6M3119 2471h6M3213 2360h6M3157 2397h6M3184 2469h6M3042 2424h6M3243 2461h6M3042 2502h6M3190 2396h6M3103 2293h6M3238 2415h6M3189 2415h6M3067 2373h6M3149 2556h6M3150 2258h6M3078 2517h6M3129 2471h6M3079 2393h6M3098 2373h6M3111 2301h6M3117 2283h6M3053 2437h6M3225 2540h6M3034 2591h6M3126 2585h6M3079 2441h6M3193 2446h6M3089 2506h6M3089 2373h6M3220 2510h6M3113 2331h6M3070 2404h6M3145 2490h6M3053 2292h6M3131 2577h6M3084 2503h6M3139 2405h6M3049 2392h6M3165 2446h6M3174 2334h6M3063 2523h6M3111 2447h6M3151 2515h6M3036 2304h6M3120 2558h6M3132 2492h6M3044 2613h6M3066 2565h6M3190 2525h6M3136 2296h6M3096 2416h6M3053 2451h6M3151 2341h6M3080 2538h6M3134 2566h6M3080 2334h6M3058 2473h6M3121 2620h6M3054 2489h6M3068 2348h6M3098 2476h6M3131 2415h6M3198 2471h6M3055 2425h6M3197 2445h6M3116 2386h6M3136 2408h6M3067 2474h6M3167 2422h6M3166 2565h6M3094 2540h6M3166 2407h6M3110 2319h6M3091 2245h6M3044 2370h6M3071 2509h6M3098 2407h6M3194 2367h6M3124 2393h6M3086 2305h6M3096 2411h6M3121 2383h6M3106 2615h6M3091 2431h6M3153 2507h6M3104 2370h6M3120 2469h6M3069 2354h6M3131 2502h6M3118 2219h6M3076 2584h6M3030 2472h6M3050 2536h6M3095 2312h6M3078 2702h6M3139 2310h6M3208 2471h6M3023 2310h6M3135 2413h6M3175 2485h6M3066 2286h6M3161 2432h6M3089 2498h6M3163 2337h6M3206 2428h6M3082 2316h6M3087 2374h6M3082 2352h6M3088 2441h6M3109 2518h6M3197 2447h6M3122 2481h6M3117 2445h6M3068 2509h6M3203 2570h6M3085 2571h6M3088 2275h6M3160 2463h6M3096 2427h6M3075 2611h6M3165 2562h6M3129 2303h6M3059 2387h6M3091 2491h6M3053 2476h6M3098 2412h6M3019 2280h6M3122 2494h6M3108 2346h6M3217 2518h6M3148 2351h6M3117 2675h6M3113 2603h6M3158 2245h6M3182 2560h6M3112 2576h6M3087 2366h6M3136 2443h6M3116 2395h6M3132 2541h6M3081 2323h6M3047 2306h6M3057 2506h6M3098 2334h6M3093 2533h6M3166 2408h6M3139 2498h6M3056 2549h6M3077 2470h6M3160 2558h6M3190 2334h6M3180 2321h6M3064 2469h6M3096 2326h6M3073 2444h6M3033 2508h6M3113 2446h6M3131 2244h6M3100 2380h6M3086 2545h6M3195 2606h6M3189 2565h6M3081 2485h6M3169 2517h6M3099 2473h6M3152 2277h6M3039 2485h6M3155 2457h6M3158 2435h6M3029 2528h6M3141 2414h6M3194 2546h6M3109 2239h6M3183 2524h6M3060 2630h6M3053 2406h6M3037 2535h6M3167 2575h6M2989 2500h6M3156 2373h6M3100 2293h6M3164 2435h6M3129 2477h6M3114 2399h6M3155 2432h6M3172 2427h6M3182 2262h6M3178 2428h6M3162 2456h6M3081 2609h6M3103 2455h6M3020 2469h6M3099 2428h6M3102 2361h6M3193 2279h6M3221 2495h6M3046 2351h6M3018 2477h6M3073 2471h6M3128 2410h6M3220 2451h6M3039 2515h6M3036 2553h6M3042 2456h6M3188 2356h6M3076 2386h6M3095 2385h6M3045 2603h6M3146 2312h6M3092 2273h6M3113 2569h6M3072 2394h6M3079 2346h6M3184 2460h6M3080 2550h6M3152 2366h6M3087 2248h6M3049 2410h6M3132 2337h6M3060 2265h6M3117 2374h6M3174 2295h6M3097 2411h6M3073 2405h6M3177 2337h6M3105 2466h6M3071 2551h6M3113 2512h6M3155 2346h6M3148 2281h6M3134 2347h6M3143 2592h6M3109 2377h6M3044 2402h6M3113 2322h6M3010 2500h6M3139 2434h6M3053 2453h6M3041 2553h6M3202 2511h6M3125 2220h6M3123 2475h6M3092 2358h6M3117 2289h6M3072 2498h6M3083 2340h6M3113 2439h6M3114 2429h6M3191 2506h6M3072 2287h6M3164 2472h6M3182 2510h6M3133 2434h6M3085 2484h6M3145 2569h6M3087 2545h6M3049 2550h6M3151 2330h6M3119 2391h6M3197 2264h6M3108 2503h6M3128 2484h6M3121 2592h6M3095 2281h6M3142 2577h6M3144 2394h6M3144 2452h6M3058 2268h6M3097 2511h6M3220 2477h6M3123 2406h6M3074 2379h6M3027 2431h6M3173 2428h6M3118 2452h6M3150 2511h6M3178 2310h6M3121 2335h6M3114 2714h6M3090 2618h6M3112 2505h6M3061 2484h6M3128 2340h6M3061 2271h6M3074 2508h6M3047 2344h6M3089 2455h6M3099 2455h6M3085 2638h6M3116 2229h6M3118 2439h6M3173 2267h6M3107 2436h6M3136 2269h6M3186 2432h6M3039 2395h6M3058 2453h6M3048 2484h6M3097 2425h6M3080 2436h6M3106 2352h6M3118 2377h6M2983 2410h6M3188 2433h6M3143 2472h6M3083 2488h6M3155 2297h6M3141 2552h6M3132 2485h6M3125 2436h6M3128 2441h6M3074 2339h6M3090 2500h6M3147 2516h6M3046 2369h6M3111 2417h6M3118 2358h6M3143 2512h6M3073 2440h6M3201 2487h6M3126 2613h6M3201 2557h6M3125 2445h6M3108 2530h6M3068 2388h6M3075 2441h6M3092 2525h6M3177 2595h6M3170 2310h6M3186 2399h6M3108 2495h6M3080 2512h6M3132 2476h6M3132 2426h6M3142 2337h6M3145 2315h6M3150 2491h6M3119 2419h6M3190 2364h6M3166 2393h6M3128 2344h6M3163 2404h6M3064 2413h6M3046 2491h6M3154 2344h6M3154 2248h6M3062 2402h6M3147 2470h6M3102 2383h6M3154 2528h6M3070 2439h6M3080 2346h6M3144 2516h6M3189 2477h6M3092 2414h6M3218 2406h6M3129 2232h6M3116 2492h6M3064 2527h6M3093 2498h6M3124 2451h6M3148 2397h6M3170 2616h6M3008 2470h6M3173 2560h6M3088 2428h6M3070 2516h6M3055 2531h6M3115 2353h6M3114 2298h6M3042 2503h6M3084 2544h6M3126 2505h6M3086 2402h6M3076 2272h6M3204 2369h6M3040 2554h6M3127 2532h6M3140 2410h6M3084 2531h6M3124 2421h6M3125 2348h6M3078 2441h6M3131 2363h6M3133 2540h6M3155 2361h6M3147 2467h6M3066 2569h6M3082 2435h6M3224 2360h6M3019 2546h6M3085 2494h6M3119 2568h6M3123 2432h6M3117 2489h6M3107 2427h6M3054 2502h6M3108 2450h6M3155 2400h6M3095 2317h6M3144 2362h6M3118 2402h6M3028 2489h6M3074 2496h6M3109 2424h6M3155 2533h6M3125 2631h6M3088 2401h6M3202 2517h6M3084 2485h6M3129 2478h6M3075 2453h6M3127 2558h6M3115 2223h6M3050 2470h6M3073 2532h6M3116 2508h6M3151 2329h6M3188 2312h6M3059 2456h6M3203 2264h6M3047 2599h6M3124 2619h6M3110 2427h6M3193 2422h6M3015 2465h6M3163 2665h6M3096 2338h6M3118 2357h6M3128 2491h6M3072 2389h6M3110 2537h6M3071 2681h6M3118 2531h6M3189 2372h6M3067 2463h6M3170 2417h6M3190 2324h6M3100 2520h6M3210 2589h6M3124 2512h6M3196 2640h6M3104 2355h6M3093 2428h6M3164 2296h6M3120 2459h6M3084 2595h6M3130 2444h6M3109 2405h6M3115 2529h6M3074 2587h6M3037 2471h6M3077 2438h6M3156 2591h6M3216 2503h6M3154 2599h6M3036 2379h6M3096 2447h6M3099 2383h6M3196 2279h6M3078 2332h6M3026 2509h6M3166 2545h6M3056 2418h6M3014 2401h6M3118 2594h6M3065 2374h6M3197 2510h6M3084 2318h6M3152 2267h6M3239 2466h6M3091 2437h6M3162 2376h6M3156 2281h6M3087 2476h6M3173 2356h6M3091 2644h6M3211 2505h6M3101 2385h6M3107 2323h6M3092 2441h6M3028 2373h6M3061 2310h6M3087 2517h6M3151 2361h6M3073 2509h6M3151 2385h6M3069 2488h6M3113 2475h6M3067 2567h6M3139 2542h6M3173 2344h6M3042 2545h6M3052 2658h6M3097 2354h6M3147 2531h6M3191 2440h6M3192 2493h6M3120 2337h6M3047 2460h6M3100 2328h6M3117 2553h6M3132 2449h6M3112 2342h6M3175 2560h6M3099 2499h6M3189 2363h6M3091 2506h6M3066 2219h6M3185 2244h6M3073 2470h6M3039 2580h6M3045 2436h6M3125 2265h6M3094 2455h6M3174 2472h6M3009 2293h6M3131 2653h6M3129 2623h6M3080 2610h6M3204 2504h6M3089 2561h6M3077 2547h6M3145 2295h6M3164 2602h6M3165 2313h6M3089 2524h6M3144 2546h6M3029 2261h6M3161 2560h6M3101 2504h6M3084 2493h6M3065 2416h6M3091 2478h6M3157 2554h6M3221 2361h6M3141 2327h6M3189 2569h6M3198 2584h6M3076 2206h6M3089 2439h6M3076 2597h6M3147 2585h6M3058 2290h6M3121 2398h6M3104 2559h6M3024 2550h6M3094 2500h6M3139 2339h6M3109 2663h6M3066 2370h6M3113 2666h6M3186 2517h6M3062 2568h6M3164 2555h6M3174 2504h6M3111 2388h6M3159 2392h6M3138 2378h6M3108 2330h6M3108 2410h6M3104 2465h6M2995 2426h6M3079 2572h6M3067 2423h6M3063 2560h6M3183 2505h6M3184 2631h6M3046 2518h6M3184 2592h6M3162 2542h6M3085 2459h6M3189 2569h6M3168 2336h6M3167 2478h6M3180 2481h6M3167 2563h6M3163 2300h6M3051 2457h6M3037 2529h6M3214 2550h6M3169 2397h6M3154 2501h6M3151 2304h6M3159 2467h6M3179 2453h6M3155 2482h6M3127 2602h6M3130 2561h6M3086 2510h6M3187 2537h6M3162 2444h6M3053 2500h6M3192 2492h6M3015 2401h6M3080 2476h6M3115 2659h6M3081 2453h6M3085 2481h6M3113 2356h6M3192 2366h6M3113 2328h6M3038 2379h6M3037 2611h6M3246 2464h6M3127 2595h6M3115 2395h6M3124 2350h6M3095 2615h6M3185 2469h6M3084 2668h6M3085 2486h6M3094 2384h6M3019 2386h6M3076 2239h6M3186 2468h6M3108 2397h6M3159 2525h6M3114 2442h6M3098 2656h6M3025 2401h6M3102 2501h6M3098 2660h6M3170 2541h6M3043 2631h6M3118 2622h6M3099 2443h6M3098 2411h6M3146 2203h6M3063 2461h6M3247 2447h6M3095 2495h6M3072 2638h6M3086 2437h6M3158 2428h6M3076 2516h6M3122 2440h6M3115 2410h6M3075 2376h6M3059 2458h6M3106 2498h6M3082 2355h6M3108 2402h6M3105 2466h6M3198 2360h6M3123 2550h6M3135 2555h6M3122 2426h6M3095 2565h6M3244 2517h6M3177 2499h6M3153 2588h6M3130 2622h6M3081 2506h6M3195 2465h6M3116 2401h6M3118 2370h6M3147 2412h6M3083 2440h6M3110 2422h6M3169 2399h6M3125 2525h6M3146 2326h6M3127 2317h6M3084 2458h6M3078 2365h6M3102 2671h6M3170 2431h6M3176 2498h6M3056 2323h6M3126 2422h6M3050 2558h6M3115 2483h6M3126 2524h6M3068 2397h6M3094 2297h6M3093 2629h6M3105 2518h6M3118 2527h6M3192 2399h6M3042 2425h6M3147 2418h6M3160 2335h6M3235 2534h6M3153 2385h6M3093 2276h6M3139 2464h6M3111 2447h6M3092 2388h6M3148 2485h6M3172 2520h6M3016 2578h6M3107 2398h6M3175 2385h6M3111 2532h6M3187 2466h6M3099 2416h6M3143 2548h6M3137 2603h6M3086 2532h6M3116 2354h6M3121 2555h6M3177 2430h6M3171 2448h6M3157 2684h6M3144 2552h6M3132 2479h6M3177 2460h6M3102 2283h6M3070 2522h6M3078 2442h6M3164 2499h6M3144 2606h6M3130 2377h6M3195 2513h6M3137 2227h6M3156 2261h6M3144 2500h6M3138 2546h6M3136 2385h6M3110 2579h6M3049 2456h6M3089 2575h6M3092 2375h6M3103 2362h6M3160 2587h6M3199 2603h6M3143 2359h6M3038 2304h6M3098 2502h6M3138 2348h6M2991 2370h6M3123 2450h6M3168 2520h6M3103 2472h6M3025 2383h6M3172 2407h6M3230 2521h6M3018 2437h6M3174 2539h6M3027 2330h6M3156 2468h6M3097 2335h6M3051 2371h6M3124 2314h6M3079 2413h6M3108 2353h6M3137 2332h6M3121 2293h6M3167 2432h6M3080 2337h6M3232 2427h6M3132 2297h6M3133 2383h6M3124 2520h6M3131 2479h6M3104 2390h6M3096 2277h6M3102 2370h6M3137 2528h6M3177 2500h6M3139 2201h6M3110 2448h6M3146 2314h6M3172 2571h6M3151 2442h6M3216 2548h6M3123 2580h6M3125 2461h6M3088 2474h6M3077 2532h6M3135 2366h6M3102 2390h6M3159 2233h6M3108 2450h6M3127 2499h6M3226 2377h6M3169 2403h6M3081 2642h6M3070 2460h6M3097 2561h6M3188 2335h6M3066 2547h6M3126 2574h6M3100 2392h6M3122 2358h6M3156 2455h6M3034 2459h6M3193 2365h6M3106 2571h6M3106 2436h6M3022 2452h6M3079 2544h6M3189 2475h6M3074 2500h6M3179 2284h6M3148 2477h6M3071 2422h6M3062 2541h6M3022 2545h6M3035 2353h6M3018 2588h6M3152 2330h6M3237 2474h6M3149 2644h6M3014 2523h6M3097 2357h6M3039 2431h6M3068 2352h6M3139 2562h6M3100 2415h6M3076 2481h6M3019 2422h6M3168 2520h6M3141 2488h6M3228 2488h6M3042 2471h6M3154 2340h6M3158 2562h6M3125 2538h6M3076 2293h6M3093 2259h6M3120 2306h6M3007 2432h6M3157 2527h6M3123 2303h6M3099 2525h6M3125 2540h6M3125 2563h6M3143 2432h6M3128 2532h6M3071 2402h6M3083 2410h6M3124 2471h6M3114 2440h6M3202 2467h6M3082 2576h6M3096 2493h6M3101 2438h6M3038 2382h6M3125 2188h6M3063 2574h6M3092 2502h6M3069 2478h6M3108 2424h6M3126 2196h6M3112 2517h6M3134 2470h6M3054 2404h6M3090 2400h6M3091 2396h6M3145 2482h6M3057 2374h6M3173 2653h6M3014 2282h6M3126 2359h6M3094 2505h6M3126 2275h6M3113 2511h6M3146 2394h6M3050 2441h6M3040 2457h6M3140 2550h6M3125 2340h6M3206 2432h6M3104 2281h6M3109 2294h6M3121 2389h6M3137 2487h6M3153 2570h6M3058 2526h6M3160 2690h6M3169 2526h6M3224 2403h6M3109 2406h6M3015 2486h6M3108 2376h6M3123 2409h6M3107 2364h6M3091 2318h6M3151 2297h6M3153 2307h6"/>
<path transform="scale(.1)" fill="none" stroke="#3350a8" stroke-width="6" d="M3146 2554h6M3163 2648h6M3179 2466h6M3101 2554h6M3146 2583h6M3141 2697h6M3216 2693h6M3125 2542h6M3153 2657h6M3148 2588h6M3143 2506h6M3095 2521h6M3233 2561h6M3156 2674h6M3180 2586h6M3172 2659h6M3142 2550h6M3073 2541h6M3156 2627h6M3210 2587h6M3103 2582h6M3157 2461h6M3171 2509h6M3144 2502h6M3144 2490h6M3184 2552h6M3151 2659h6M3241 2527h6M3184 2600h6M3220 2615h6M3187 2639h6M3123 2624h6M3154 2542h6M3160 2584h6M3160 2597h6M3091 2553h6M3184 2628h6M3180 2526h6M3162 2602h6M3108 2468h6M3227 2542h6M3144 2527h6M3138 2512h6M3072 2599h6M3134 2581h6M3200 2636h6M3152 2453h6M3131 2645h6M3199 2560h6M3109 2562h6M3103 2537h6M3087 2612h6M3090 2638h6M3097 2581h6M3202 2559h6M3214 2646h6M3163 2573h6M3185 2592h6M3205 2554h6M3207 2598h6M3187 2607h6M3141 2535h6M3146 2501h6M3194 2568h6M3212 2571h6M3221 2563h6M3191 2433h6M3139 2523h6M3081 2592h6M3132 2590h6M3188 2533h6M3157 2612h6M3170 2535h6M3167 2669h6M3149 2632h6M3182 2613h6M3112 2594h6M3149 2510h6M3108 2584h6M3182 2514h6M3135 2640h6M3128 2536h6M3179 2727h6M3201 2574h6M3208 2716h6M3155 2492h6M3144 2554h6M3142 2505h6M3173 2513h6M3099 2580h6M3138 2475h6M3179 2617h6M3127 2548h6M3107 2557h6M3130 2552h6M3156 2566h6M3166 2570h6M3158 2553h6M3193 2639h6M3214 2596h6M3117 2591h6M3129 2472h6M3175 2574h6M3134 2642h6M3191 2529h6M3138 2648h6M3216 2598h6M3156 2597h6M3214 2453h6M3164 2616h6M3106 2550h6M3154 2572h6M3107 2644h6M3160 2664h6M3117 2649h6M3210 2598h6M3096 2584h6M3181 2558h6M3097 2493h6M3118 2592h6M3109 2619h6M3126 2467h6M3122 2667h6M3169 2577h6M3204 2521h6M3177 2588h6M3085 2477h6M3189 2564h6M3148 2667h6M3177 2562h6M3124 2670h6M3148 2615h6M3193 2558h6M3113 2530h6M3157 2618h6M3153 2562h6M3143 2608h6M3176 2624h6M3212 2667h6M3150 2629h6M3134 2585h6M3216 2611h6M3124 2496h6M3117 2554h6M3137 2502h6M3189 2656h6M3160 2580h6M3188 2478h6M3113 2604h6M3151 2590h6M3117 2547h6M3119 2538h6M3174 2606h6M3151 2597h6M3245 2554h6M3209 2466h6M3162 2599h6M3150 2548h6M3100 2507h6M3089 2571h6M3206 2629h6M3168 2595h6M3177 2585h6M3195 2623h6M3160 2686h6M3091 2630h6M3108 2570h6M3104 2611h6M3160 2572h6M3205 2590h6M3138 2660h6M3218 2545h6M3101 2563h6M3161 2499h6M3222 2633h6M3139 2568h6M3140 2676h6M3169 2666h6M3149 2593h6M3140 2596h6M3153 2538h6M3172 2540h6M3148 2584h6M3149 2567h6M3159 2683h6M3147 2543h6M3151 2618h6M3148 2570h6M3175 2588h6M3090 2605h6M3206 2627h6M3165 2657h6M3157 2647h6M3094 2571h6M3134 2532h6M3229 2634h6M3175 2550h6M3127 2595h6M3127 2475h6M3146 2492h6M3151 2570h6M3179 2568h6M3196 2523h6M3162 2478h6M3126 2602h6M3186 2483h6M3192 2538h6M3159 2624h6M3200 2578h6M3120 2601h6M3182 2588h6M3167 2590h6M3154 2570h6M3099 2522h6M3132 2646h6M3096 2592h6M3124 2588h6M3198 2521h6M3071 2646h6M3196 2594h6M3187 2505h6M3117 2547h6M3140 2557h6M3128 2551h6M3156 2629h6M3148 2658h6M3163 2599h6M3150 2588h6M3229 2572h6M3136 2538h6M3183 2558h6M3198 2602h6M3170 2498h6M3147 2568h6M3077 2588h6M3165 2595h6M3155 2493h6M3143 2670h6M3149 2614h6M3120 2530h6M3213 2555h6M3129 2627h6M3153 2638h6M3177 2537h6M3093 2524h6M3083 2655h6M3095 2610h6M3151 2577h6M3068 2552h6M3157 2572h6M3156 2525h6M3129 2637h6M3111 2594h6M3185 2601h6M3196 2725h6M3217 2604h6M3203 2520h6M3133 2546h6M3169 2643h6M3099 2657h6M3137 2595h6M3080 2563h6M3168 2634h6M3103 2520h6M3217 2527h6M3145 2573h6M3160 2608h6M3190 2593h6M3196 2599h6M3162 2509h6M3164 2558h6M3133 2577h6M3199 2559h6M3108 2547h6M3200 2614h6M3165 2564h6M3151 2530h6M3193 2645h6M3148 2588h6M3173 2484h6M3203 2607h6M3175 2698h6M3114 2636h6M3196 2651h6M3188 2660h6M3221 2607h6M3187 2541h6M3128 2644h6M3178 2513h6M3185 2588h6M3129 2618h6M3207 2600h6M3149 2560h6M3194 2515h6M3104 2695h6M3197 2625h6M3145 2548h6M3128 2520h6M3187 2590h6M3196 2588h6M3113 2593h6M3209 2666h6M3233 2539h6M3166 2608h6M3190 2487h6M3122 2567h6M3181 2669h6M3134 2507h6M3234 2631h6M3171 2464h6M3090 2559h6M3095 2572h6M3227 2550h6M3193 2612h6M3176 2617h6M3114 2639h6M3196 2561h6M3143 2539h6M3224 2653h6M3128 2547h6M3173 2616h6M3186 2543h6M3165 2615h6M3204 2630h6M3175 2540h6M3138 2587h6M3172 2598h6M3142 2579h6M3096 2631h6M3162 2631h6M3064 2599h6M3091 2681h6M3188 2532h6M3145 2547h6M3144 2452h6M3190 2595h6M3171 2566h6M3134 2608h6M3242 2539h6M3213 2533h6M3222 2587h6M3183 2545h6M3153 2602h6M3130 2601h6M3145 2578h6M3158 2627h6M3147 2501h6M3125 2577h6M3179 2661h6M3130 2632h6M3203 2559h6M3177 2498h6M3141 2588h6M3118 2588h6M3112 2596h6M3220 2508h6M3075 2541h6M3130 2640h6M3176 2637h6M3157 2684h6M3120 2618h6M3225 2592h6M3169 2612h6M3146 2466h6M3194 2507h6M3177 2539h6M3240 2524h6M3168 2514h6M3187 2531h6M3198 2641h6M3171 2466h6M3143 2587h6M3182 2623h6M3229 2513h6M3089 2569h6M3226 2666h6M3185 2657h6M3201 2530h6M3196 2693h6M3130 2678h6M3201 2643h6M3095 2495h6M3166 2540h6M3153 2610h6M3157 2579h6M3186 2588h6M3160 2613h6M3143 2599h6M3141 2630h6M3161 2681h6M3131 2599h6M3169 2563h6M3136 2584h6M3164 2514h6M3185 2592h6M3149 2657h6M3156 2464h6M3109 2473h6M3186 2645h6M3136 2545h6M3089 2578h6M3148 2612h6M3118 2693h6M3134 2643h6M3121 2644h6M3144 2627h6M3156 2534h6M3179 2612h6M3197 2678h6M3146 2426h6M3146 2464h6M3106 2621h6M3168 2513h6M3229 2566h6M3185 2603h6M3141 2688h6M3121 2583h6M3206 2599h6M3161 2665h6M3130 2541h6M3168 2500h6M3221 2453h6M3176 2487h6M3195 2508h6M3170 2630h6M3165 2633h6M3239 2617h6M3135 2650h6M3153 2536h6M3166 2570h6M3190 2548h6M3178 2586h6M3189 2584h6M3229 2512h6M3182 2605h6M3208 2621h6M3173 2628h6M3094 2573h6M3150 2597h6M3264 2566h6M3165 2473h6M3203 2657h6M3110 2659h6M3189 2527h6M3235 2567h6M3171 2598h6M3152 2611h6M3135 2592h6M3143 2583h6M3104 2600h6M3183 2495h6M3123 2599h6M3119 2571h6M3098 2707h6M3129 2688h6M3153 2610h6M3203 2562h6M3151 2634h6M3251 2531h6M3170 2669h6M3176 2567h6M3214 2590h6M3165 2527h6M3219 2538h6M3160 2694h6M3223 2618h6M3125 2567h6M3185 2648h6M3225 2573h6M3089 2600h6M3161 2606h6M3163 2698h6M3182 2573h6M3105 2600h6M3150 2593h6M3123 2518h6M3136 2535h6M3166 2544h6M3109 2651h6M3087 2493h6M3220 2652h6M3095 2493h6M3210 2593h6M3172 2646h6M3178 2627h6M3244 2552h6M3117 2586h6M3099 2558h6M3210 2587h6M3211 2510h6M3180 2711h6M3128 2516h6M3110 2566h6M3153 2511h6M3189 2575h6M3243 2514h6M3201 2649h6M3237 2547h6M3240 2565h6M3126 2650h6M3243 2558h6M3157 2646h6M3172 2598h6M3156 2539h6M3146 2546h6M3124 2614h6M3169 2629h6M3201 2632h6M3190 2661h6M3156 2628h6M3126 2620h6M3196 2571h6M3183 2583h6M3222 2522h6M3181 2551h6M3203 2584h6M3122 2563h6M3151 2472h6M3186 2514h6M3177 2508h6M3177 2660h6M3185 2605h6M3233 2620h6M3112 2623h6M3173 2557h6M3153 2537h6M3134 2554h6M3148 2627h6M3134 2520h6M3253 2588h6M3227 2601h6M3073 2615h6M3128 2609h6M3118 2504h6M3097 2694h6M3213 2548h6M3092 2626h6M3142 2579h6M3196 2574h6M3150 2551h6M3086 2674h6M3184 2563h6M3137 2510h6M3170 2506h6M3197 2548h6M3166 2647h6M3175 2563h6M3112 2589h6M3173 2650h6M3106 2633h6M3253 2638h6M3102 2623h6M3161 2588h6M3154 2599h6M3144 2615h6M3135 2599h6M3206 2591h6M3192 2556h6M3148 2532h6M3217 2571h6M3215 2539h6M3157 2497h6M3193 2640h6M3112 2524h6M3110 2638h6M3142 2620h6M3262 2584h6M3199 2679h6M3177 2502h6M3159 2588h6M3091 2666h6M3169 2604h6M3237 2539h6M3165 2508h6M3070 2590h6M3122 2498h6M3204 2633h6M3174 2621h6M3173 2451h6M3213 2554h6M3198 2628h6M3167 2522h6M3201 2510h6M3154 2512h6M3143 2535h6M3139 2612h6M3121 2598h6M3136 2670h6M3254 2646h6M3121 2436h6M3213 2572h6M3179 2555h6M3187 2540h6M3199 2511h6M3170 2695h6M3257 2530h6M3211 2648h6M3190 2559h6M3092 2615h6M3155 2621h6M3219 2663h6M3137 2545h6M3191 2596h6M3158 2559h6M3181 2622h6M3173 2655h6M3087 2530h6M3149 2634h6M3150 2563h6M3146 2488h6M3242 2529h6M3154 2612h6M3194 2594h6M3153 2538h6M3078 2588h6M3206 2580h6M3151 2549h6M3117 2508h6M3212 2452h6M3179 2513h6M3135 2604h6M3159 2587h6M3165 2553h6M3119 2587h6M3126 2504h6M3222 2591h6M3176 2675h6M3168 2642h6M3168 2652h6M3150 2608h6M3245 2583h6M3163 2509h6M3204 2547h6M3149 2696h6M3089 2622h6M3159 2568h6M3192 2440h6M3173 2611h6M3131 2518h6M3183 2544h6M3226 2522h6M3067 2607h6M3169 2688h6M3167 2549h6M3170 2470h6M3217 2667h6M3120 2562h6M3160 2641h6M3189 2596h6M3197 2516h6M3135 2485h6M3194 2541h6M3178 2629h6M3182 2617h6M3078 2578h6M3152 2580h6M3172 2574h6M3118 2568h6M3079 2488h6M3201 2658h6M3150 2498h6M3231 2610h6M3169 2545h6M3085 2655h6M3160 2536h6M3254 2537h6M3170 2636h6M3199 2522h6M3139 2622h6M3097 2555h6M3199 2577h6M3187 2645h6M3135 2634h6M3214 2552h6M3126 2610h6M3198 2613h6M3166 2626h6M3179 2549h6M3168 2688h6M3176 2540h6M3171 2504h6M3203 2563h6M3207 2588h6M3152 2725h6M3181 2529h6M3167 2576h6M3185 2544h6M3066 2586h6M3176 2567h6M3136 2655h6M3211 2531h6M3166 2543h6M3193 2611h6M3112 2582h6M3142 2644h6M3249 2549h6M3115 2636h6M3150 2551h6M3077 2535h6M3195 2631h6M3143 2596h6M3189 2594h6M3146 2516h6M3191 2546h6M3104 2597h6M3238 2543h6M3167 2521h6M3215 2542h6M3142 2577h6M3150 2508h6M3190 2633h6M3229 2499h6M3115 2566h6M3134 2589h6M3133 2545h6M3139 2575h6M3183 2475h6M3213 2548h6M3187 2614h6M3217 2592h6M3117 2560h6M3170 2558h6M3215 2555h6M3165 2624h6M3208 2556h6M3142 2539h6M3186 2627h6M3151 2707h6M3189 2464h6M3153 2658h6M3238 2677h6M3139 2539h6M3184 2503h6M3187 2625h6M3127 2504h6M3090 2492h6M3092 2497h6M3179 2569h6M3159 2619h6M3160 2539h6M3147 2615h6M3147 2583h6M3162 2548h6M3206 2511h6M3180 2483h6M3225 2496h6M3125 2634h6M3111 2552h6M3178 2576h6M3135 2657h6M3198 2597h6M3178 2614h6M3160 2568h6M3212 2589h6M3139 2489h6M3118 2503h6M3207 2531h6M3163 2507h6M3179 2510h6M3185 2658h6M3154 2634h6M3185 2574h6M3145 2658h6M3171 2585h6M3157 2646h6M3207 2512h6M3176 2605h6M3160 2502h6M3141 2565h6M3222 2615h6M3237 2578h6M3193 2544h6M3165 2502h6M3151 2560h6M3079 2616h6M3125 2587h6M3177 2587h6M3144 2557h6M3184 2509h6M3179 2539h6M3219 2492h6M3210 2517h6M3183 2552h6M3189 2571h6M3215 2580h6M3189 2621h6M3130 2683h6M3163 2660h6M3181 2489h6M3233 2567h6M3162 2550h6M3078 2594h6M3117 2611h6M3232 2667h6M3092 2579h6M3168 2591h6M3147 2624h6M3154 2507h6M3236 2523h6M3132 2536h6M3107 2577h6M3154 2553h6M3149 2550h6M3179 2656h6M3141 2498h6M3132 2626h6M3159 2585h6M3152 2613h6M3123 2571h6M3120 2602h6M3159 2687h6M3194 2566h6M3164 2575h6M3129 2577h6M3130 2523h6M3133 2650h6M3141 2555h6M3245 2623h6M3184 2523h6M3147 2587h6M3105 2611h6M3169 2631h6M3229 2519h6M3210 2632h6M3148 2491h6M3187 2548h6M3078 2663h6M3155 2581h6M3158 2641h6M3152 2502h6M3127 2516h6M3139 2583h6M3095 2597h6M3104 2624h6M3123 2448h6M3256 2566h6M3137 2660h6M3213 2654h6M3212 2581h6M3132 2600h6M3155 2508h6M3102 2641h6M3184 2481h6M3191 2553h6M3098 2694h6M3256 2516h6M3155 2563h6M3205 2594h6M3165 2661h6M3158 2559h6M3216 2599h6M3238 2588h6M3183 2527h6M3215 2688h6M3122 2600h6M3153 2536h6M3149 2599h6M3128 2491h6M3196 2612h6M3144 2494h6M3136 2477h6M3135 2559h6M3080 2506h6M3148 2577h6M3090 2671h6M3218 2607h6M3188 2460h6M3182 2481h6M3160 2671h6M3130 2598h6M3209 2598h6M3154 2569h6M3195 2604h6M3163 2480h6M3181 2538h6M3173 2644h6M3117 2659h6M3118 2555h6M3164 2584h6M3108 2568h6M3141 2575h6M3148 2617h6M3170 2651h6M3153 2466h6M3202 2492h6M3159 2668h6M3098 2607h6M3136 2442h6M3095 2564h6M3173 2586h6M3227 2620h6M3144 2630h6M3186 2587h6M3217 2516h6M3150 2635h6M3201 2632h6M3202 2691h6M3190 2593h6M3191 2524h6M3178 2486h6M3093 2615h6M3111 2698h6M3138 2645h6M3132 2600h6M3194 2692h6M3167 2624h6M3187 2566h6M3154 2591h6M3148 2496h6M3141 2618h6M3155 2603h6M3122 2518h6M3148 2536h6M3209 2565h6M3073 2515h6M3141 2624h6M3186 2672h6M3166 2640h6M3135 2641h6M3141 2538h6M3228 2679h6M3211 2544h6M3208 2572h6M3202 2562h6M3149 2575h6M3168 2581h6M3102 2546h6M3144 2686h6M3091 2666h6M3082 2562h6M3177 2650h6M3220 2602h6M3206 2684h6M3104 2547h6M3086 2518h6M3153 2694h6M3170 2590h6M3137 2707h6M3175 2655h6M3079 2573h6M3130 2639h6M3171 2554h6M3210 2588h6M3169 2541h6M3163 2600h6M3151 2625h6M3131 2657h6M3160 2494h6M3139 2655h6M3147 2544h6M3154 2593h6"/>
<path transform="scale(.1)" fill="none" stroke="#3350a8" stroke-width="6" d="M2981 2497h6M3158 2656h6M3219 2340h6M3227 2516h6M3090 2556h6M3097 2320h6M3092 2427h6M3116 2645h6M3040 2367h6M3195 2447h6M3033 2378h6M3118 2579h6M3129 2293h6M3090 2218h6M3200 2534h6M3178 2285h6M3104 2560h6M3146 2338h6M3082 2588h6M3155 2538h6M2992 2416h6M3145 2432h6M3040 2396h6M3098 2615h6M3187 2487h6M3042 2281h6M3093 2316h6M3018 2379h6M3112 2401h6M3155 2453h6M3079 2561h6M3137 2618h6M3155 2267h6M3133 2320h6M3167 2446h6M3174 2496h6M3149 2494h6M3177 2355h6M3119 2603h6M3086 2425h6M3204 2474h6M3077 2656h6M3052 2331h6M3130 2587h6M3150 2495h6M3104 2506h6M3066 2316h6M3143 2472h6M3081 2406h6M3077 2638h6M3089 2485h6M2996 2341h6M3050 2384h6M3025 2568h6M3163 2400h6M3151 2440h6M2986 2567h6M3039 2401h6M3104 2635h6M3243 2521h6M3119 2408h6M3093 2510h6M3176 2622h6M3117 2588h6M3086 2410h6M2987 2407h6M3175 2503h6M3075 2454h6M3130 2460h6M3250 2499h6M3141 2342h6M3119 2547h6M3035 2424h6M3167 2377h6M3063 2647h6M3153 2517h6M3132 2588h6M3181 2513h6M3116 2301h6M2996 2347h6M3188 2522h6M3102 2415h6M3093 2424h6M3139 2473h6M3053 2394h6M3173 2386h6M3223 2400h6M3216 2423h6M3060 2298h6M3150 2517h6M3135 2464h6M3238 2380h6M3144 2567h6M3140 2240h6M3142 2393h6M3056 2574h6M3179 2483h6M3088 2476h6M3062 2316h6M3187 2288h6M3021 2468h6M3015 2454h6M3001 2607h6M3128 2360h6M3048 2404h6M3094 2387h6M3128 2382h6M3055 2424h6M2987 2457h6M3138 2443h6M3132 2508h6M3028 2618h6M3123 2445h6M3068 2389h6M3059 2621h6M3091 2391h6M3124 2426h6M3140 2427h6M3148 2471h6M3049 2632h6M3078 2668h6M3124 2540h6M2965 2415h6M3055 2663h6M3191 2351h6M3254 2463h6M3165 2671h6M3169 2486h6M3125 2282h6M3077 2472h6M3003 2486h6M3208 2570h6M3123 2285h6M3143 2653h6M3038 2319h6M3114 2312h6M3090 2352h6M3108 2493h6M3098 2432h6M3112 2596h6M3182 2426h6M3167 2319h6M3161 2586h6M3111 2430h6M3102 2231h6M3176 2490h6M3083 2471h6M3108 2344h6M3201 2470h6M3074 2454h6M3076 2439h6M3023 2247h6M3106 2512h6M3198 2471h6M3196 2318h6M3058 2502h6M3096 2307h6M3097 2504h6M3120 2629h6M3137 2312h6M3126 2302h6M3082 2499h6M3087 2484h6M3225 2379h6M3088 2527h6M3124 2354h6M3174 2525h6M3145 2641h6M3173 2601h6M3001 2624h6M3073 2404h6M3024 2605h6M3223 2411h6M3083 2535h6M3094 2510h6M3091 2517h6M3127 2345h6M3150 2283h6M3179 2411h6M3061 2394h6M3202 2503h6M3006 2532h6M3158 2339h6M3064 2346h6M3041 2672h6M3020 2311h6M3097 2550h6M3139 2555h6M2981 2353h6M3110 2335h6M3056 2406h6M3032 2576h6M3075 2565h6M3028 2465h6M3053 2450h6M3109 2227h6M3172 2444h6M3036 2487h6M3206 2307h6M3167 2645h6M3154 2490h6M2982 2513h6M3198 2339h6M3128 2602h6M3082 2411h6M3042 2381h6M3121 2204h6M3095 2393h6M3154 2671h6M3153 2361h6M3188 2258h6M3096 2485h6M3218 2524h6M3037 2391h6M3060 2643h6M3063 2499h6M3090 2532h6M3225 2364h6M3042 2420h6M3067 2294h6M3113 2389h6M2972 2348h6M3176 2381h6M3156 2275h6M3077 2510h6M3054 2490h6M3034 2399h6M3212 2510h6M3199 2363h6M3238 2320h6M3168 2374h6M3107 2523h6M3209 2555h6M2984 2502h6M3178 2423h6M3152 2344h6M3117 2388h6M3057 2548h6M3055 2495h6M3090 2458h6M3103 2487h6M3105 2410h6M3017 2529h6M3087 2527h6M3099 2384h6M3152 2578h6M3058 2566h6M3023 2413h6M3080 2378h6M3163 2389h6M3167 2505h6M3190 2467h6M3182 2465h6M3165 2515h6M3017 2441h6M3143 2500h6M3076 2428h6M3106 2442h6M3015 2303h6M3084 2359h6M3171 2387h6"/>
<rect x="294.3" y="215.5" width="37.1" height="59.7" fill="none" stroke="#6c64b2" stroke-width="1.2"/>
<path d="M262.4 202.3H341.5" stroke="#707070" stroke-width="1.1" fill="none"/>
<path d="M341.5 202.3V281.7" stroke="#707070" stroke-width="1.1" fill="none"/>
<path d="M262.4 201.8V281.7H342" stroke="#2a2a2a" stroke-width="1.1" fill="none"/>
<path d="M261.9 274h-1.8M261.9 266.1h-1.8M261.9 258.2h-1.8M261.9 242.4h-1.8M261.9 234.5h-1.8M261.9 226.6h-1.8M261.9 210.8h-1.8" stroke="#333" stroke-width="0.8" fill="none"/>
<path d="M261.9 281.9h-3.2M261.9 250.3h-3.2M261.9 218.7h-3.2" stroke="#333" stroke-width="0.8" fill="none"/>
<text transform="translate(258,281.9) rotate(-90)" text-anchor="middle" font-size="6.6" fill="#333">0</text>
<text transform="translate(258,250.3) rotate(-90)" text-anchor="middle" font-size="6.6" fill="#333">200</text>
<text transform="translate(258,218.3) rotate(-90)" text-anchor="middle" font-size="6.6" fill="#333">400</text>
<path d="M290.03 282.2v1.8M295.31 282.2v1.8M299.06 282.2v1.8M301.97 282.2v1.8M304.34 282.2v1.8M306.35 282.2v1.8M308.09 282.2v1.8M309.63 282.2v1.8M320.03 282.2v1.8M325.31 282.2v1.8M329.06 282.2v1.8M331.97 282.2v1.8M334.34 282.2v1.8M336.35 282.2v1.8M338.09 282.2v1.8M339.63 282.2v1.8M268.4 282.2v1.8M271.4 282.2v1.8M277.4 282.2v1.8" stroke="#333" stroke-width="0.8" fill="none"/>
<path d="M274.4 282.2v3M311 282.2v3M341 282.2v3" stroke="#333" stroke-width="0.8" fill="none"/>
<text x="274.4" y="290.8" text-anchor="middle" font-size="6.6" fill="#333">0</text>
<text x="311" y="290.8" text-anchor="middle" font-size="6.6" fill="#333">10<tspan font-size="3.63" dy="-3">4</tspan></text>
<text x="340.6" y="290.8" text-anchor="middle" font-size="6.6" fill="#333">10<tspan font-size="3.63" dy="-3">5</tspan></text>
<text x="407.6" y="197.6" text-anchor="middle" font-size="10.2">GL261</text>
<path transform="scale(.1)" fill="none" stroke="#858585" stroke-width="6" d="M3858 2409h6M3855 2661h6M3848 2601h6M3877 2466h6M3845 2482h6M3854 2422h6M3829 2478h6M3839 2623h6M3867 2379h6M3813 2598h6M3844 2483h6M3845 2497h6M3823 2581h6M3809 2716h6M3895 2472h6M3827 2747h6M3813 2500h6M3838 2629h6M3856 2440h6M3850 2651h6M3858 2732h6M3837 2562h6M3869 2574h6M3863 2603h6M3859 2542h6M3829 2635h6M3893 2400h6M3825 2575h6M3832 2542h6M3845 2358h6M3854 2385h6M3871 2511h6M3851 2509h6M3832 2491h6M3874 2389h6M3824 2535h6M3828 2539h6M3851 2452h6M3826 2635h6M3832 2384h6M3808 2689h6M3827 2632h6M3833 2590h6M3838 2370h6M3824 2720h6M3828 2573h6M3849 2508h6M3896 2569h6M3835 2518h6M3809 2455h6M3867 2368h6M3888 2346h6M3827 2601h6M3848 2411h6M3870 2524h6M3834 2449h6M3833 2515h6M3799 2458h6M3832 2363h6M3868 2501h6M3887 2561h6M3827 2508h6M3798 2738h6M3836 2481h6M3816 2658h6M3825 2594h6M3853 2405h6M3809 2534h6M3824 2437h6M3847 2613h6M3852 2544h6M3855 2476h6M3809 2461h6M3850 2454h6M3867 2531h6M3844 2360h6M3812 2556h6M3828 2544h6M3876 2415h6M3875 2390h6M3818 2480h6M3826 2435h6M3852 2441h6M3884 2345h6M3872 2602h6M3785 2424h6M3839 2461h6M3825 2549h6M3845 2513h6M3897 2377h6M3854 2415h6M3813 2622h6M3883 2524h6M3869 2496h6M3845 2549h6M3830 2589h6M3867 2503h6M3852 2547h6M3848 2408h6M3857 2638h6M3825 2553h6M3855 2464h6M3833 2656h6M3825 2645h6M3807 2634h6M3811 2537h6M3852 2585h6M3826 2430h6M3804 2477h6M3823 2432h6M3872 2598h6M3835 2479h6M3825 2541h6M3864 2496h6M3837 2543h6M3882 2470h6M3847 2463h6M3831 2423h6M3829 2530h6M3839 2572h6M3819 2615h6M3832 2662h6M3859 2450h6M3842 2496h6M3863 2434h6M3820 2624h6M3815 2690h6M3796 2542h6M3862 2658h6M3856 2361h6M3840 2561h6M3814 2548h6M3811 2504h6M3852 2489h6M3838 2447h6M3843 2480h6M3841 2609h6M3800 2556h6M3864 2488h6M3834 2439h6M3881 2431h6M3824 2477h6M3866 2581h6M3863 2569h6M3836 2541h6M3829 2478h6M3853 2465h6M3843 2510h6M3835 2578h6M3827 2390h6M3797 2412h6M3808 2529h6M3819 2397h6M3827 2603h6M3832 2615h6M3858 2480h6M3840 2577h6M3834 2421h6M3840 2408h6M3879 2532h6M3850 2656h6M3841 2611h6M3865 2561h6M3847 2539h6M3871 2428h6M3861 2534h6M3795 2496h6M3868 2570h6M3822 2397h6M3835 2491h6M3896 2362h6M3818 2615h6M3860 2349h6M3850 2710h6M3808 2628h6M3799 2540h6M3843 2709h6M3841 2566h6M3858 2491h6M3838 2711h6M3846 2348h6M3826 2394h6M3834 2551h6M3845 2419h6M3859 2443h6M3852 2497h6M3861 2495h6M3840 2506h6M3847 2466h6M3846 2455h6M3830 2473h6M3824 2556h6M3806 2476h6M3814 2429h6M3794 2688h6M3851 2417h6M3787 2652h6M3852 2372h6M3800 2548h6M3825 2346h6M3834 2589h6M3832 2589h6M3856 2516h6M3847 2507h6M3829 2431h6M3831 2562h6M3861 2448h6M3836 2570h6M3868 2447h6M3828 2370h6M3812 2427h6M3869 2407h6M3874 2602h6M3823 2588h6M3817 2620h6M3811 2483h6M3859 2636h6M3834 2473h6M3845 2521h6M3836 2598h6M3798 2553h6M3794 2486h6M3866 2689h6M3865 2587h6M3852 2709h6M3843 2366h6M3832 2292h6M3846 2399h6M3813 2553h6M3848 2491h6M3836 2502h6M3842 2288h6M3841 2592h6M3841 2375h6M3812 2540h6M3814 2579h6M3838 2485h6M3818 2728h6M3861 2463h6M3847 2472h6M3860 2303h6M3805 2513h6M3825 2645h6M3806 2496h6M3834 2361h6M3861 2373h6M3817 2598h6M3838 2363h6M3850 2416h6M3827 2533h6M3866 2525h6M3815 2677h6M3829 2584h6M3879 2418h6M3841 2554h6M3833 2550h6M3892 2419h6M3841 2602h6M3867 2610h6M3856 2498h6M3858 2486h6M3905 2496h6M3855 2483h6M3828 2559h6M3831 2605h6M3842 2477h6M3875 2447h6M3861 2577h6M3854 2388h6M3846 2443h6M3838 2637h6M3870 2501h6M3882 2615h6M3859 2340h6M3819 2475h6M3808 2525h6M3828 2302h6M3890 2494h6M3813 2446h6M3841 2328h6M3844 2493h6M3828 2377h6M3857 2301h6M3846 2627h6M3846 2550h6M3874 2419h6M3896 2420h6M3789 2535h6M3886 2602h6M3869 2494h6M3824 2495h6M3852 2474h6M3822 2407h6M3822 2622h6M3808 2476h6M3859 2537h6M3837 2472h6M3883 2403h6M3839 2457h6M3823 2676h6M3824 2367h6M3888 2485h6M3832 2537h6M3869 2598h6M3882 2447h6M3846 2599h6M3858 2292h6M3824 2649h6M3828 2738h6M3861 2421h6M3860 2547h6M3875 2498h6M3846 2464h6M3826 2397h6M3821 2536h6M3837 2474h6M3858 2543h6M3862 2593h6M3824 2536h6M3840 2365h6M3796 2438h6M3781 2673h6M3852 2553h6M3819 2519h6M3808 2686h6M3821 2378h6M3845 2456h6M3797 2548h6M3897 2555h6M3840 2449h6M3868 2587h6M3818 2452h6M3875 2423h6M3776 2601h6M3819 2310h6M3859 2374h6M3891 2542h6M3838 2595h6M3809 2630h6M3849 2383h6M3791 2606h6M3857 2606h6M3847 2470h6M3843 2492h6M3813 2594h6M3857 2620h6M3781 2602h6M3869 2339h6M3825 2460h6M3808 2442h6M3822 2489h6M3856 2455h6M3877 2406h6M3863 2387h6M3834 2606h6M3832 2590h6M3859 2348h6M3818 2627h6M3833 2353h6M3846 2550h6M3848 2626h6M3783 2564h6M3828 2733h6M3825 2601h6M3842 2503h6M3871 2673h6M3889 2581h6M3856 2481h6M3877 2476h6M3866 2523h6M3835 2729h6M3790 2484h6M3780 2485h6M3835 2527h6M3820 2695h6M3865 2625h6M3821 2719h6M3794 2590h6M3839 2411h6M3807 2515h6M3861 2480h6M3838 2474h6M3882 2435h6M3835 2693h6M3885 2511h6M3819 2565h6M3832 2387h6M3811 2732h6M3877 2501h6M3852 2496h6M3812 2416h6M3850 2448h6M3791 2452h6M3833 2566h6M3825 2491h6M3857 2474h6M3862 2657h6M3839 2539h6M3863 2551h6M3824 2575h6M3847 2564h6M3841 2588h6M3837 2654h6M3836 2607h6M3818 2462h6M3855 2505h6M3830 2643h6M3829 2468h6M3835 2646h6M3863 2472h6M3851 2391h6M3837 2515h6M3873 2409h6M3794 2682h6M3857 2533h6M3815 2739h6M3846 2428h6M3830 2716h6M3886 2549h6M3855 2610h6M3862 2386h6M3846 2524h6M3833 2441h6M3847 2435h6M3887 2500h6M3794 2579h6M3876 2563h6M3868 2549h6M3859 2518h6M3867 2430h6M3883 2388h6M3832 2571h6"/>
<path transform="scale(.1)" fill="none" stroke="#858585" stroke-width="6" d="M3845 2597h6M3813 2586h6M3842 2602h6M3881 2622h6M3842 2553h6M3820 2617h6M3829 2527h6M3821 2644h6M3813 2619h6M3815 2611h6M3843 2547h6M3871 2597h6M3858 2509h6M3858 2677h6M3821 2568h6M3846 2566h6M3842 2601h6M3805 2617h6M3812 2528h6M3842 2521h6M3832 2617h6M3807 2660h6M3857 2611h6M3840 2632h6M3807 2568h6M3821 2580h6M3827 2625h6M3791 2614h6M3807 2637h6M3811 2506h6M3867 2562h6M3801 2623h6M3832 2594h6M3821 2507h6M3827 2483h6M3822 2540h6M3869 2552h6M3843 2573h6M3852 2632h6M3817 2623h6M3823 2531h6M3838 2566h6M3863 2589h6M3880 2591h6M3816 2641h6M3836 2662h6M3791 2605h6M3812 2718h6M3864 2586h6M3815 2577h6M3806 2620h6M3833 2628h6M3798 2644h6M3834 2655h6M3806 2689h6M3840 2687h6M3812 2628h6M3848 2621h6M3812 2544h6M3876 2555h6M3857 2601h6M3836 2605h6M3823 2600h6M3831 2653h6M3799 2597h6M3816 2604h6M3864 2568h6M3837 2534h6M3859 2626h6M3846 2565h6M3805 2601h6M3834 2621h6M3828 2520h6M3829 2568h6M3890 2596h6M3844 2551h6M3825 2549h6M3835 2544h6M3847 2563h6M3812 2598h6M3793 2684h6M3886 2615h6M3872 2558h6M3834 2663h6M3882 2500h6M3821 2593h6M3809 2653h6M3814 2642h6M3805 2614h6M3815 2567h6M3844 2554h6M3841 2582h6M3824 2655h6M3840 2494h6M3860 2597h6M3852 2646h6M3852 2580h6M3876 2521h6M3845 2614h6M3839 2571h6M3853 2558h6M3868 2525h6M3881 2624h6M3833 2588h6M3835 2600h6M3809 2581h6M3828 2532h6M3808 2571h6M3836 2530h6M3825 2627h6M3854 2628h6M3819 2628h6M3792 2563h6M3851 2557h6M3876 2539h6M3816 2662h6M3794 2632h6M3833 2535h6M3830 2590h6M3889 2552h6M3840 2606h6M3835 2625h6M3823 2576h6M3883 2511h6M3800 2538h6M3801 2544h6M3831 2693h6M3861 2666h6M3845 2621h6M3838 2553h6M3840 2559h6M3871 2558h6M3827 2629h6M3863 2507h6M3827 2635h6M3854 2527h6M3781 2637h6M3787 2613h6M3877 2600h6M3846 2596h6M3837 2574h6M3828 2573h6M3889 2598h6M3861 2604h6M3806 2567h6M3824 2657h6M3823 2548h6M3825 2554h6M3875 2516h6M3856 2613h6M3846 2574h6M3863 2602h6M3838 2633h6M3810 2553h6M3825 2547h6M3808 2559h6M3831 2675h6M3822 2484h6M3850 2523h6M3804 2641h6M3824 2621h6M3861 2653h6M3851 2608h6M3826 2589h6M3851 2532h6M3826 2585h6M3831 2586h6M3829 2536h6M3822 2647h6M3798 2657h6M3847 2522h6M3814 2627h6M3854 2625h6M3825 2644h6M3795 2582h6M3842 2592h6M3795 2657h6M3816 2544h6M3893 2542h6M3798 2619h6M3856 2590h6M3826 2617h6M3861 2553h6M3855 2592h6M3821 2609h6M3813 2661h6M3817 2610h6M3830 2578h6M3845 2557h6M3872 2662h6M3821 2662h6M3836 2665h6M3792 2677h6M3811 2663h6M3816 2647h6M3822 2635h6M3824 2492h6M3837 2578h6M3821 2474h6M3835 2553h6M3814 2598h6M3852 2515h6M3859 2576h6M3854 2566h6M3847 2546h6M3845 2596h6M3838 2543h6M3837 2547h6M3852 2594h6M3862 2599h6M3857 2617h6M3891 2616h6M3785 2654h6M3835 2605h6M3829 2477h6M3820 2565h6M3791 2591h6M3849 2630h6M3825 2607h6M3824 2589h6M3840 2649h6M3813 2689h6M3812 2661h6M3811 2578h6M3830 2616h6M3867 2626h6M3845 2589h6M3828 2635h6M3847 2564h6M3851 2618h6M3813 2630h6M3862 2617h6M3847 2568h6M3843 2560h6M3828 2678h6M3850 2543h6M3861 2605h6M3822 2519h6M3798 2582h6M3779 2641h6M3805 2544h6M3859 2560h6M3854 2623h6"/>
<path transform="scale(.1)" fill="none" stroke="#858585" stroke-width="6" d="M3775 2512h6M3839 2419h6M3874 2417h6M3925 2389h6M3891 2556h6M3878 2575h6M3927 2482h6M3878 2356h6M3841 2481h6M3818 2517h6M3873 2588h6M3878 2495h6M3846 2411h6M3874 2608h6M3837 2559h6M3819 2374h6M3913 2391h6M3842 2515h6M3828 2482h6M3849 2477h6M3880 2562h6M3874 2285h6M3798 2643h6M3859 2452h6M3864 2615h6M3872 2456h6M3856 2607h6M3850 2706h6M3829 2353h6M3843 2465h6M3859 2557h6M3867 2690h6M3807 2658h6M3881 2432h6M3874 2494h6M3824 2510h6M3840 2293h6M3877 2487h6M3798 2469h6M3835 2581h6M3852 2627h6M3874 2605h6M3823 2587h6M3849 2606h6M3846 2332h6M3872 2443h6M3801 2561h6M3842 2569h6M3893 2358h6M3811 2388h6M3879 2576h6M3898 2407h6M3822 2601h6M3821 2557h6M3780 2531h6M3897 2626h6M3859 2555h6M3907 2478h6M3866 2385h6M3866 2478h6M3889 2439h6M3789 2597h6M3812 2617h6M3897 2455h6M3873 2498h6M3867 2581h6M3819 2418h6M3875 2569h6M3841 2528h6M3843 2588h6M3875 2323h6M3877 2548h6M3830 2377h6M3831 2525h6M3889 2481h6M3919 2539h6M3916 2527h6M3848 2489h6M3820 2643h6M3866 2434h6M3794 2530h6M3838 2519h6M3859 2487h6M3896 2470h6M3841 2548h6M3892 2502h6M3895 2588h6M3859 2475h6M3871 2694h6"/>
<path transform="scale(.1)" fill="none" stroke="#3350a8" stroke-width="6" d="M4076 2487h6M4121 2593h6M4055 2459h6M4173 2648h6M4192 2533h6M4173 2554h6M4149 2582h6M4168 2573h6M4077 2688h6M4061 2572h6M4207 2490h6M4203 2410h6M4188 2527h6M4175 2436h6M4103 2497h6M4101 2539h6M4263 2489h6M4127 2691h6M4224 2550h6M4091 2496h6M4167 2434h6M4083 2454h6M4227 2507h6M4152 2598h6M4116 2720h6M4079 2523h6M4159 2607h6M4113 2363h6M4213 2708h6M4222 2541h6M4113 2371h6M4113 2398h6M4201 2492h6M4230 2630h6M4199 2528h6M4148 2447h6M4109 2570h6M4245 2576h6M4099 2538h6M4137 2546h6M4239 2559h6M4143 2610h6M4114 2313h6M4122 2538h6M4062 2469h6M4053 2364h6M4037 2589h6M4106 2593h6M4179 2579h6M4240 2600h6M4100 2446h6M4112 2480h6M4154 2589h6M4188 2523h6M4232 2475h6M4176 2339h6M4111 2571h6M4219 2452h6M4036 2489h6M4225 2387h6M4245 2433h6M4147 2657h6M4107 2574h6M4115 2480h6M4077 2579h6M4163 2507h6M4023 2571h6M4103 2342h6M4169 2497h6M4290 2539h6M4198 2584h6M4210 2471h6M4203 2588h6M4200 2508h6M4108 2671h6M4144 2592h6M4080 2473h6M4192 2471h6M4134 2458h6M4131 2549h6M4156 2531h6M4164 2413h6M4219 2403h6M4144 2426h6M4130 2338h6M4255 2394h6M4192 2506h6M4079 2345h6M4071 2501h6M4133 2631h6M4178 2533h6M4208 2503h6M4182 2451h6M4172 2636h6M4137 2530h6M4202 2523h6M4050 2493h6M4149 2534h6M4161 2564h6M4081 2673h6M4200 2422h6M4179 2416h6M4032 2516h6M4246 2583h6M4069 2538h6M4092 2595h6M4185 2505h6M4050 2441h6M4155 2503h6M4108 2433h6M4152 2590h6M4120 2471h6M4164 2534h6M4069 2500h6M4118 2480h6M4231 2523h6M4199 2610h6M4137 2528h6M4128 2549h6M4104 2483h6M4153 2511h6M4193 2696h6M4207 2480h6M4222 2471h6M4153 2411h6M4177 2505h6M4096 2586h6M4177 2446h6M4087 2611h6M4230 2366h6M4226 2598h6M4145 2422h6M4186 2539h6M4155 2505h6M4130 2614h6M4131 2464h6M4166 2467h6M4130 2496h6M4177 2654h6M4237 2484h6M4158 2464h6M4122 2508h6M4163 2480h6M4133 2379h6M4175 2541h6M4304 2545h6M4149 2580h6M4158 2505h6M4139 2558h6M4089 2661h6M4189 2577h6M4197 2407h6M4118 2570h6M4202 2737h6M4128 2485h6M4174 2446h6M4070 2522h6M4113 2417h6M4135 2478h6M4197 2453h6M4162 2607h6M4148 2307h6M4153 2570h6M4164 2542h6M4125 2575h6M4139 2556h6M4242 2500h6M4157 2402h6M4162 2412h6M4198 2561h6M4072 2530h6M4213 2539h6M4290 2611h6M4095 2570h6M4163 2467h6M4087 2616h6M4198 2603h6M4195 2434h6M4157 2444h6M4172 2487h6M4190 2404h6M4132 2310h6M4255 2462h6M4127 2567h6M4160 2431h6M4295 2456h6M4256 2440h6M4224 2464h6M4230 2535h6M4061 2447h6M4191 2606h6M4186 2517h6M4122 2535h6M4172 2702h6M4067 2498h6M4158 2457h6M4128 2499h6M4088 2511h6M4062 2517h6M4112 2435h6M4188 2599h6M4087 2523h6M4207 2478h6M4067 2635h6M4164 2475h6M4158 2550h6M4068 2580h6M4087 2664h6M4190 2522h6M4214 2627h6M4237 2600h6M4204 2502h6M4111 2663h6M4096 2384h6M4235 2652h6M4173 2483h6M4223 2562h6M4124 2338h6M4178 2493h6M4139 2525h6M4118 2602h6M4286 2557h6M4163 2691h6M4169 2400h6M4212 2489h6M4147 2396h6M4130 2544h6M4088 2619h6M4137 2400h6M4140 2598h6M4209 2462h6M4126 2540h6M4144 2530h6M4168 2577h6M4129 2442h6M4182 2479h6M4107 2554h6M4178 2500h6M4174 2623h6M4160 2705h6M4139 2589h6M4165 2423h6M4179 2564h6M4138 2532h6M4140 2440h6M4218 2563h6M4237 2622h6M4201 2555h6M4153 2476h6M4091 2569h6M4171 2442h6M4162 2390h6M4171 2376h6M4124 2521h6M4127 2428h6M4134 2303h6M4234 2529h6M4148 2469h6M4267 2651h6M4224 2471h6M4191 2631h6M4100 2424h6M4304 2573h6M4257 2501h6M4081 2700h6M4253 2461h6M4193 2612h6M4198 2517h6M4047 2408h6M4249 2532h6M4155 2471h6M4154 2420h6M4096 2421h6M4125 2377h6M4155 2697h6M4298 2537h6M4096 2457h6M4082 2568h6M4231 2550h6M4126 2414h6M4093 2681h6M4174 2453h6M4106 2488h6M4122 2672h6M4133 2550h6M4073 2496h6M4132 2607h6M4086 2641h6M4189 2472h6M4118 2529h6M4078 2505h6M4244 2535h6M4212 2604h6M4189 2478h6M4153 2479h6M4187 2607h6M4099 2599h6M4189 2585h6M4117 2523h6M4119 2516h6M4098 2387h6M4123 2387h6M4075 2515h6M4241 2553h6M4284 2623h6M4157 2627h6M4203 2690h6M4147 2699h6M4193 2536h6M4222 2499h6M4115 2408h6M4163 2614h6M4247 2528h6M4110 2625h6M4053 2538h6M4184 2518h6M4257 2352h6M4191 2712h6M4254 2609h6M4225 2503h6M4064 2557h6M4124 2433h6M4166 2623h6M4130 2615h6M4234 2501h6M4147 2413h6M4190 2382h6M4135 2544h6M4065 2458h6M4237 2441h6M4239 2486h6M4155 2437h6M4144 2476h6M4032 2594h6M4204 2592h6M4165 2520h6M4203 2499h6M4107 2526h6M4220 2535h6M4162 2556h6M4129 2540h6M4042 2476h6M4222 2503h6M4104 2483h6M4170 2606h6M4190 2534h6M4157 2587h6M4269 2440h6M4112 2526h6M4234 2538h6M4242 2385h6M4284 2507h6M4154 2584h6M4239 2640h6M4175 2487h6M4217 2471h6M4149 2386h6M4197 2317h6M4138 2546h6M4100 2478h6M4051 2476h6M4210 2551h6M4158 2593h6M4189 2637h6M4185 2612h6M4113 2524h6M4283 2509h6M4212 2331h6M4160 2430h6M4182 2436h6M4215 2518h6M4190 2534h6M4192 2642h6M4237 2508h6M4186 2510h6M4119 2490h6M4206 2411h6M4079 2692h6M4154 2604h6M4087 2564h6M4170 2524h6M4138 2551h6M4154 2732h6M4167 2516h6M4205 2565h6M4154 2466h6M4178 2564h6M4224 2499h6M4169 2472h6M4122 2478h6M4161 2525h6M4157 2466h6M4132 2528h6M4152 2459h6M4229 2588h6M4144 2539h6M4279 2519h6M4102 2609h6M4128 2517h6M4057 2487h6M4077 2524h6M4255 2466h6M4107 2617h6M4105 2423h6M4100 2342h6M4096 2496h6M4158 2594h6M4269 2471h6M4165 2589h6M4242 2698h6M4181 2455h6M4072 2480h6M4192 2401h6M4228 2365h6M4143 2517h6M4162 2642h6M4218 2497h6M4215 2493h6M4212 2522h6"/>
<path transform="scale(.1)" fill="none" stroke="#3350a8" stroke-width="6" d="M4201 2621h6M4243 2543h6M4238 2583h6M4160 2562h6M4215 2578h6M4187 2571h6M4152 2516h6M4167 2602h6M4190 2501h6M4245 2545h6M4258 2582h6M4188 2623h6M4166 2568h6M4096 2613h6M4126 2639h6M4200 2613h6M4183 2605h6M4177 2573h6M4154 2649h6M4199 2615h6M4180 2580h6M4152 2601h6M4212 2674h6M4180 2493h6M4202 2641h6M4181 2547h6M4131 2533h6M4178 2579h6M4185 2669h6M4124 2642h6M4152 2535h6M4119 2676h6M4168 2514h6M4107 2648h6M4118 2579h6M4197 2661h6M4169 2604h6M4176 2579h6M4136 2559h6M4171 2537h6M4205 2552h6M4193 2489h6M4218 2617h6M4112 2578h6M4215 2546h6M4154 2576h6M4168 2562h6M4110 2580h6M4210 2562h6M4166 2661h6M4223 2565h6M4125 2582h6M4197 2584h6M4151 2666h6M4158 2617h6M4180 2646h6M4132 2603h6M4158 2575h6M4162 2590h6M4171 2573h6M4120 2602h6M4175 2597h6M4113 2592h6M4120 2584h6M4222 2607h6M4157 2633h6M4148 2564h6M4144 2607h6M4140 2549h6M4218 2564h6M4119 2524h6M4132 2620h6M4177 2582h6M4140 2591h6M4229 2635h6M4160 2542h6M4162 2636h6M4154 2542h6M4132 2631h6M4185 2603h6M4192 2559h6M4209 2623h6M4112 2636h6M4193 2634h6M4137 2638h6M4185 2634h6M4220 2534h6M4131 2552h6M4147 2610h6M4161 2608h6M4202 2604h6M4204 2589h6M4138 2632h6M4194 2632h6M4214 2597h6M4200 2671h6M4188 2519h6M4160 2584h6M4158 2607h6M4181 2670h6M4201 2592h6M4216 2629h6M4169 2621h6M4087 2597h6M4211 2520h6M4241 2575h6M4122 2678h6M4186 2553h6M4161 2580h6M4170 2577h6M4139 2628h6M4143 2615h6M4183 2616h6M4176 2553h6M4138 2555h6M4100 2647h6M4198 2618h6M4213 2562h6M4120 2635h6M4189 2616h6M4193 2555h6M4143 2627h6M4186 2494h6M4104 2555h6M4229 2574h6M4155 2546h6M4195 2547h6M4140 2590h6M4154 2527h6M4124 2647h6M4184 2611h6M4214 2494h6M4257 2589h6M4161 2675h6M4132 2583h6M4202 2524h6M4155 2579h6M4197 2583h6M4171 2637h6M4175 2581h6M4189 2534h6M4219 2598h6M4195 2552h6M4209 2579h6M4205 2600h6M4177 2555h6M4161 2566h6M4131 2569h6M4182 2646h6M4132 2645h6M4146 2495h6M4202 2584h6M4219 2643h6M4200 2667h6M4141 2597h6M4151 2625h6M4194 2552h6M4205 2602h6M4217 2556h6M4164 2609h6M4129 2554h6M4226 2524h6M4196 2522h6M4148 2579h6M4167 2568h6M4193 2636h6M4117 2591h6M4109 2542h6M4112 2646h6M4208 2628h6M4209 2603h6M4123 2523h6M4171 2582h6M4189 2587h6M4087 2555h6M4162 2611h6M4253 2631h6M4194 2595h6M4207 2547h6M4181 2608h6M4126 2636h6M4189 2619h6M4257 2587h6M4154 2571h6M4143 2597h6M4155 2562h6M4139 2550h6M4172 2600h6M4172 2614h6M4200 2532h6M4148 2603h6M4183 2578h6M4166 2595h6M4213 2629h6M4170 2576h6M4164 2537h6M4205 2614h6M4167 2599h6M4179 2556h6M4176 2537h6M4135 2592h6M4162 2607h6M4152 2620h6M4232 2615h6M4202 2600h6M4157 2559h6M4165 2498h6M4175 2536h6M4137 2490h6M4186 2595h6M4154 2510h6M4191 2546h6M4188 2602h6M4174 2638h6M4100 2632h6M4229 2559h6M4209 2620h6M4182 2560h6M4126 2625h6M4161 2580h6M4143 2576h6M4187 2529h6M4216 2603h6M4144 2587h6M4174 2520h6M4249 2575h6M4116 2546h6M4135 2579h6M4175 2660h6M4170 2571h6M4133 2652h6M4119 2614h6M4145 2580h6M4176 2606h6"/>
<path transform="scale(.1)" fill="none" stroke="#3350a8" stroke-width="6" d="M4201 2634h6M4024 2404h6M4103 2377h6M4074 2452h6M4223 2619h6M4097 2446h6M4137 2451h6M3998 2478h6M3975 2426h6M4200 2485h6M4155 2346h6M4079 2403h6M4102 2542h6M4124 2533h6M4061 2539h6M4106 2472h6M4071 2585h6M4076 2294h6M4087 2374h6M4067 2288h6M4177 2489h6M4048 2355h6M4080 2440h6M4202 2569h6M4083 2442h6M4127 2530h6M4268 2609h6M4300 2413h6M4237 2460h6M4146 2415h6M4143 2422h6M4061 2611h6M4188 2442h6M4227 2396h6M4188 2687h6M4111 2300h6M4191 2489h6M4240 2607h6M4056 2670h6M4045 2499h6M4228 2476h6M4081 2467h6M4085 2489h6M4038 2436h6M4112 2646h6M4201 2328h6M4159 2543h6M4105 2509h6M4249 2517h6M4116 2459h6M4108 2626h6M4179 2565h6M4168 2309h6M4037 2507h6M4026 2347h6M4280 2571h6M4237 2359h6M4236 2465h6M4141 2397h6M4183 2406h6M4240 2467h6M4177 2587h6M4113 2476h6M4207 2481h6M4166 2497h6M4133 2476h6M4190 2555h6M4230 2329h6M4169 2513h6M4223 2628h6M4045 2484h6M4157 2322h6M4219 2685h6M4170 2476h6M4295 2569h6M4205 2382h6M4072 2517h6M4254 2349h6M4122 2523h6M4229 2494h6M4285 2493h6M4070 2447h6M4056 2466h6M4250 2435h6M4197 2702h6M4059 2506h6M4174 2351h6M4088 2502h6M4280 2423h6M4145 2609h6M4255 2510h6M4162 2527h6M4170 2479h6M4180 2368h6M4133 2538h6M4089 2659h6M4104 2379h6M4109 2240h6M4016 2522h6M3986 2555h6M4183 2501h6M4039 2489h6M4124 2466h6M4274 2488h6M4073 2398h6M4179 2483h6M4077 2385h6M4134 2544h6M4004 2438h6M4140 2560h6M4142 2394h6M4007 2583h6M4048 2279h6M4240 2402h6M4232 2437h6M4066 2415h6M4030 2530h6M3989 2433h6M4140 2491h6M4172 2692h6M4132 2394h6M4143 2312h6M4178 2452h6"/>
<rect x="399.4" y="216.3" width="37.2" height="59.6" fill="none" stroke="#6c64b2" stroke-width="1.2"/>
<path d="M368.5 202.3H448.1" stroke="#707070" stroke-width="1.1" fill="none"/>
<path d="M448.1 202.3V281.7" stroke="#707070" stroke-width="1.1" fill="none"/>
<path d="M368.5 201.8V281.7H448.6" stroke="#2a2a2a" stroke-width="1.1" fill="none"/>
<path d="M368 274h-1.8M368 266.1h-1.8M368 258.2h-1.8M368 242.4h-1.8M368 234.5h-1.8M368 226.6h-1.8M368 210.8h-1.8" stroke="#333" stroke-width="0.8" fill="none"/>
<path d="M368 281.9h-3.2M368 250.3h-3.2M368 218.7h-3.2" stroke="#333" stroke-width="0.8" fill="none"/>
<text transform="translate(363.6,281.9) rotate(-90)" text-anchor="middle" font-size="6.6" fill="#333">0</text>
<text transform="translate(363.6,250.3) rotate(-90)" text-anchor="middle" font-size="6.6" fill="#333">200</text>
<text transform="translate(363.6,218.3) rotate(-90)" text-anchor="middle" font-size="6.6" fill="#333">400</text>
<path d="M396.33 282.2v1.8M401.61 282.2v1.8M405.36 282.2v1.8M408.27 282.2v1.8M410.64 282.2v1.8M412.65 282.2v1.8M414.39 282.2v1.8M415.93 282.2v1.8M426.33 282.2v1.8M431.61 282.2v1.8M435.36 282.2v1.8M438.27 282.2v1.8M440.64 282.2v1.8M442.65 282.2v1.8M444.39 282.2v1.8M445.93 282.2v1.8M374.7 282.2v1.8M377.7 282.2v1.8M383.7 282.2v1.8" stroke="#333" stroke-width="0.8" fill="none"/>
<path d="M380.7 282.2v3M417.3 282.2v3M447.3 282.2v3" stroke="#333" stroke-width="0.8" fill="none"/>
<text x="380.7" y="290.8" text-anchor="middle" font-size="6.6" fill="#333">0</text>
<text x="417" y="290.8" text-anchor="middle" font-size="6.6" fill="#333">10<tspan font-size="3.63" dy="-3">4</tspan></text>
<text x="446.4" y="290.8" text-anchor="middle" font-size="6.6" fill="#333">10<tspan font-size="3.63" dy="-3">5</tspan></text>
<path d="M240.9 277V300.2H266.4" fill="none" stroke="#111" stroke-width="1.1"/>
<path d="M240.9 272l-4.2 7.4h8.4z" fill="#111"/>
<path d="M272.4 300.2l-7.4 -4.1v8.2z" fill="#111"/>
<text transform="translate(244.2,240) rotate(-90)" text-anchor="middle" font-size="10.2" fill="#1b1b1b">SSC-A (x10<tspan font-size="6.3" dy="-4">3</tspan><tspan dy="4">)</tspan></text>
<text x="282" y="304.1" font-size="10.6">CD3</text>
<text x="528.1" y="196" text-anchor="middle" font-size="10.2">PBS</text>
<path transform="scale(.1)" fill="none" stroke="#8e1e1e" stroke-width="6" stroke-opacity="0.85" d="M5077 2304h6M5053 2375h6M4992 2405h6M5011 2420h6M5071 2381h6M5051 2382h6M4998 2335h6M4961 2370h6M5012 2376h6M5064 2321h6M5068 2363h6M5048 2368h6M5039 2356h6M5082 2330h6M4992 2336h6M5082 2348h6M5011 2344h6M5051 2391h6M5033 2329h6M5074 2396h6M5052 2334h6M5021 2364h6M5041 2350h6M4993 2363h6M5013 2358h6M5016 2361h6M5070 2362h6M5066 2320h6M5059 2364h6M5015 2352h6M5023 2297h6M5060 2339h6M5051 2350h6M5059 2358h6M5028 2369h6M5073 2297h6M5041 2340h6M4995 2390h6M5078 2329h6M4995 2377h6M5015 2347h6M4961 2352h6M5085 2344h6M5035 2401h6M5075 2393h6M5065 2387h6M4973 2334h6M5047 2353h6M5010 2329h6M5036 2357h6M4983 2354h6M5055 2354h6M5064 2334h6M5053 2379h6M5062 2366h6M5036 2330h6M5062 2346h6M5002 2376h6M4975 2341h6M5071 2380h6M5025 2357h6M5061 2354h6M5009 2367h6M5046 2359h6M5084 2364h6M5021 2360h6M5117 2337h6M5029 2335h6M5054 2323h6M5058 2376h6M5009 2334h6M4980 2357h6M4995 2340h6M5023 2338h6M5073 2397h6M4955 2335h6M5050 2328h6M5018 2361h6M5095 2386h6M5028 2359h6M5025 2351h6M4993 2310h6M5025 2381h6M5070 2307h6M5032 2340h6M5051 2327h6M5076 2350h6M5063 2379h6M4962 2350h6M5100 2356h6M5081 2367h6M5020 2363h6M5082 2389h6M5098 2327h6M5073 2320h6M5035 2350h6M5065 2364h6M5090 2340h6M5074 2366h6M5040 2325h6M5063 2364h6M5071 2355h6M5030 2366h6M5058 2374h6M5116 2340h6M5078 2335h6M5120 2333h6M5082 2330h6M4995 2377h6M5075 2338h6M5136 2348h6M5102 2330h6M5001 2358h6M4999 2368h6M4954 2361h6M5017 2331h6M5048 2350h6M5022 2377h6M5052 2366h6M5093 2354h6M5073 2345h6M5064 2370h6M5018 2317h6M4989 2332h6M5062 2352h6M5028 2368h6M5069 2392h6M5016 2370h6M5068 2331h6M5045 2332h6M5031 2367h6M4972 2333h6M5008 2358h6M5011 2366h6M5006 2343h6M5064 2364h6M5046 2355h6M5080 2391h6M5025 2337h6M4999 2401h6M5004 2322h6M5051 2383h6M4991 2353h6M4983 2338h6M5105 2360h6M5030 2358h6M5051 2353h6M4993 2325h6M5120 2336h6M5088 2337h6M5092 2374h6M5032 2408h6M5003 2350h6M5006 2336h6M5026 2331h6M5027 2397h6M4971 2324h6M5002 2344h6M5080 2375h6M5059 2361h6M4994 2355h6M5048 2350h6M5007 2322h6M5029 2338h6M5021 2328h6M5093 2368h6M5114 2343h6M5042 2350h6M5041 2349h6M5033 2305h6M5029 2374h6M4963 2347h6M5063 2389h6M5037 2368h6M5110 2389h6M5022 2340h6M5080 2362h6M5018 2350h6M5053 2351h6M5030 2350h6M4981 2401h6M5088 2395h6M5035 2359h6M5063 2377h6M4967 2365h6M5000 2354h6M5014 2400h6M5061 2355h6M5095 2354h6M5011 2351h6M5025 2357h6M5073 2353h6M5037 2382h6M5051 2380h6M5045 2322h6M4995 2313h6M5085 2367h6M5021 2330h6M5054 2353h6M5053 2334h6M4996 2396h6M5002 2355h6M5093 2309h6M5068 2358h6M5034 2363h6M4993 2299h6M5115 2349h6M5075 2385h6M5051 2368h6M5068 2397h6M5059 2388h6M5028 2345h6M5043 2366h6M5061 2406h6M5073 2358h6M5119 2365h6M5054 2369h6M5027 2328h6M5045 2348h6M5006 2359h6M5032 2341h6M4970 2352h6M5110 2379h6M5083 2356h6M5082 2339h6M5022 2369h6M4984 2358h6M5052 2399h6M5012 2367h6M5014 2342h6M5086 2369h6M5046 2419h6M5062 2324h6M5032 2355h6M5104 2333h6M5057 2381h6M5008 2358h6M4961 2359h6M4953 2346h6M5108 2367h6M5042 2360h6M5125 2370h6M5081 2345h6M5023 2329h6M5033 2338h6M5079 2373h6M5036 2342h6M5052 2373h6M5046 2330h6M5032 2344h6M5063 2308h6M5018 2380h6M5048 2335h6M5058 2363h6M5005 2374h6M5067 2353h6M5077 2326h6M5070 2351h6M5003 2341h6M5086 2342h6M5026 2339h6M5009 2381h6M5128 2391h6M5060 2376h6M5027 2343h6M4994 2393h6M5027 2338h6M5015 2361h6M5019 2357h6M5047 2391h6M4991 2364h6M5013 2345h6M5104 2372h6M5025 2369h6M5040 2385h6M5021 2369h6M5032 2356h6M5034 2340h6M5045 2381h6M5016 2346h6M5055 2337h6M5075 2374h6M4950 2339h6M4998 2377h6M5077 2325h6M5013 2354h6M5026 2375h6M5079 2371h6M5083 2380h6M5038 2345h6M5011 2377h6M5076 2382h6M5028 2346h6M5051 2388h6M5055 2362h6M5008 2368h6M5062 2332h6M5110 2333h6M5077 2351h6M5047 2336h6M5018 2374h6M5033 2348h6M5076 2375h6M5047 2362h6M5108 2352h6M5056 2367h6M4985 2307h6M5046 2379h6M5049 2343h6M5015 2377h6M5029 2315h6M5067 2362h6M5056 2383h6M5093 2371h6M5034 2302h6M5052 2353h6M5093 2389h6M5059 2391h6M5038 2355h6M5007 2348h6M5049 2383h6M5012 2377h6M5030 2357h6M5080 2407h6M5089 2355h6M5007 2355h6M5039 2363h6M5005 2395h6M5012 2374h6M5049 2328h6M5043 2357h6M5033 2377h6M5022 2422h6M5085 2333h6M5050 2358h6M5002 2319h6M5104 2342h6M5068 2374h6M5006 2345h6M4999 2357h6M5092 2382h6M5057 2385h6M5038 2322h6M5025 2339h6M5044 2364h6M5109 2329h6M5099 2389h6M5080 2398h6M4985 2375h6M5000 2417h6M5002 2324h6M5085 2372h6M5041 2360h6M5065 2401h6M5012 2342h6M5017 2354h6M5041 2323h6M5052 2323h6M5028 2350h6M5030 2394h6M5105 2384h6M5103 2349h6M5096 2355h6M5049 2363h6M4987 2340h6M5034 2366h6M5035 2334h6M4994 2356h6M4993 2325h6M5036 2361h6M5007 2310h6M5051 2377h6M5024 2346h6M4947 2379h6M4996 2375h6M5016 2352h6M5033 2309h6M5044 2335h6M5031 2392h6M4965 2352h6M5060 2359h6M5056 2337h6M4974 2322h6M5024 2375h6M5043 2398h6M5044 2361h6M5048 2311h6M5063 2327h6M5025 2417h6M4991 2359h6M5052 2359h6M5040 2341h6M4999 2395h6M5062 2336h6M5004 2350h6M4999 2362h6M5015 2395h6M5052 2389h6M5046 2409h6M5056 2363h6M4999 2345h6M5056 2343h6M5140 2356h6M5010 2382h6M5019 2367h6M5036 2337h6M5096 2358h6M5084 2347h6M4983 2324h6M5019 2351h6M5042 2369h6M4990 2362h6M4991 2338h6M5025 2403h6M5097 2379h6M5099 2350h6M5035 2334h6M5063 2323h6M5020 2368h6M5020 2365h6M5113 2330h6M5096 2338h6M5003 2362h6M5081 2337h6M5011 2345h6M5011 2361h6M5012 2349h6M5054 2345h6M5086 2338h6M5009 2409h6M5100 2358h6M5073 2365h6M5020 2374h6M5052 2389h6M4966 2377h6M5047 2338h6M5023 2345h6M4987 2341h6M5071 2317h6M5025 2295h6M5017 2366h6M5038 2357h6M4995 2371h6M5004 2380h6M5048 2346h6M5099 2346h6M5081 2359h6M5040 2382h6M5058 2356h6M5035 2362h6M5043 2348h6M5036 2350h6M5089 2368h6M5086 2401h6M5036 2334h6M5073 2341h6M5030 2393h6M5062 2385h6M4986 2357h6M5085 2323h6M5048 2367h6M5012 2352h6M5107 2310h6M5059 2344h6M5042 2335h6M5095 2327h6M5055 2370h6M5036 2349h6M5030 2383h6M5058 2354h6M4996 2360h6M5061 2355h6M5098 2306h6M5140 2351h6M4995 2311h6M5075 2371h6M5031 2355h6M5047 2345h6M5086 2372h6M5035 2313h6M5095 2344h6M4999 2390h6M5060 2304h6M4974 2346h6M4990 2352h6M5039 2377h6M5076 2353h6M4981 2384h6M5033 2368h6M5069 2335h6M5108 2358h6M5049 2345h6M5069 2383h6M5018 2371h6M5023 2324h6M5027 2372h6M5063 2384h6"/>
<path transform="scale(.1)" fill="none" stroke="#8e1e1e" stroke-width="6" stroke-opacity="0.75" d="M5025 2350h6M5072 2395h6M4993 2384h6M5100 2297h6M5007 2455h6M5037 2480h6M5104 2418h6M5002 2362h6M5056 2286h6M5084 2418h6M5046 2427h6M4989 2460h6M5066 2414h6M5127 2384h6M5108 2417h6M5032 2445h6M5035 2392h6M5033 2329h6M5051 2377h6M5069 2366h6M4961 2386h6M4996 2360h6M5028 2314h6M4985 2446h6M5033 2270h6M5020 2407h6M5113 2443h6M5100 2382h6M5051 2326h6M5050 2315h6M5053 2354h6M5053 2324h6M5012 2398h6M4982 2343h6M5061 2367h6M5049 2383h6M5025 2468h6M5083 2409h6M5061 2422h6M5138 2396h6M5022 2387h6M5123 2427h6M5043 2477h6M5066 2442h6M5074 2396h6M5048 2429h6M5022 2495h6M4961 2381h6M5072 2442h6M5038 2282h6M4965 2412h6M4975 2449h6M5051 2460h6M4961 2350h6M5037 2371h6M5011 2384h6M5085 2379h6M5031 2337h6M5040 2419h6M5119 2444h6M5052 2370h6M4985 2432h6M5015 2473h6M5017 2330h6M4990 2375h6M5015 2308h6M5061 2448h6M5010 2472h6M5024 2370h6M5064 2400h6M5076 2497h6M5109 2401h6M4975 2344h6M5049 2431h6M5088 2398h6M5035 2371h6M5073 2414h6M5047 2450h6M4962 2464h6M4961 2371h6M5013 2488h6M5032 2381h6M5080 2435h6M5096 2383h6M5074 2336h6M5076 2353h6M5018 2350h6M4984 2479h6M5069 2320h6M5019 2374h6M5027 2328h6M4993 2400h6M5065 2388h6M5096 2336h6M5033 2322h6M5054 2285h6M5051 2456h6M5060 2304h6M5045 2337h6M5077 2300h6M5066 2467h6M5028 2369h6M5039 2387h6M5016 2346h6M5010 2427h6M5013 2342h6M5049 2369h6M5030 2361h6M5102 2345h6M5024 2395h6M5038 2407h6M5031 2296h6M5065 2489h6M5006 2461h6M5005 2301h6M4990 2471h6M5095 2342h6M5030 2375h6M5044 2413h6M5053 2372h6M5038 2347h6M4987 2429h6M4983 2377h6M5071 2435h6M5092 2447h6M5076 2451h6M5087 2343h6M5070 2407h6M5094 2316h6M4962 2460h6M5017 2357h6M5109 2351h6M5027 2453h6M5101 2364h6M5099 2344h6M5097 2359h6M5019 2425h6M5031 2344h6M5040 2459h6M5029 2295h6M4988 2422h6M5019 2389h6M5063 2301h6M5002 2321h6M4984 2464h6M5099 2426h6M5063 2449h6M4970 2376h6M5062 2398h6M4990 2359h6M4987 2442h6M5016 2416h6M5067 2426h6M5033 2304h6M5002 2406h6M4945 2431h6M4975 2295h6M5003 2423h6M4993 2348h6M4994 2299h6M5022 2329h6M5099 2349h6M5034 2359h6M5003 2343h6M4969 2382h6M4953 2376h6M4958 2406h6M5087 2425h6M5070 2288h6M5094 2361h6M5021 2353h6M5098 2367h6M5011 2390h6M5082 2370h6M5120 2434h6M5025 2351h6M5096 2358h6M5037 2345h6M5053 2434h6M5049 2380h6M5066 2429h6M5005 2337h6M5046 2433h6M4963 2435h6M5067 2370h6M5015 2380h6M5117 2400h6M4992 2400h6M5037 2423h6M4994 2456h6M4989 2442h6M5069 2403h6M5067 2379h6M5088 2348h6M4999 2353h6M5032 2377h6M5074 2333h6M5065 2376h6M4985 2368h6M5063 2376h6M5108 2450h6M4999 2431h6M5009 2417h6M4982 2416h6M5055 2464h6M4967 2367h6M5008 2401h6M4999 2399h6M5066 2351h6M4972 2472h6M5054 2372h6M5013 2375h6M5010 2405h6M5024 2437h6M5118 2326h6M5004 2367h6M5088 2333h6M5019 2386h6M4990 2304h6M5034 2405h6M5011 2430h6M5063 2305h6M4987 2370h6M5029 2305h6M4946 2389h6M4971 2443h6"/>
<path transform="scale(.1)" fill="none" stroke="#1f4d26" stroke-width="6" d="M5346 2708h6M5425 2696h6M5444 2686h6M5331 2692h6M5371 2680h6M5419 2710h6M5476 2689h6M5519 2653h6M5438 2705h6M5376 2679h6M5422 2694h6M5494 2688h6M5351 2726h6M5443 2679h6M5460 2675h6M5429 2703h6M5408 2674h6M5376 2715h6M5444 2682h6M5415 2658h6M5410 2705h6M5318 2710h6M5428 2686h6M5386 2712h6M5458 2689h6M5376 2657h6M5346 2697h6M5371 2697h6M5427 2688h6M5403 2711h6M5424 2667h6M5446 2667h6M5374 2678h6M5339 2705h6M5423 2716h6M5432 2683h6M5378 2712h6M5382 2671h6M5426 2708h6M5406 2710h6M5299 2728h6M5316 2720h6M5452 2716h6M5452 2705h6M5379 2680h6M5448 2683h6M5397 2721h6M5415 2730h6M5368 2686h6M5444 2689h6M5438 2687h6M5375 2704h6M5362 2686h6M5451 2659h6M5500 2671h6M5408 2689h6M5418 2733h6M5465 2680h6M5433 2672h6M5344 2703h6M5346 2680h6M5455 2686h6M5419 2703h6M5478 2693h6M5373 2687h6M5522 2663h6M5433 2705h6M5439 2666h6M5381 2705h6M5375 2700h6M5360 2711h6M5501 2684h6M5373 2700h6M5337 2695h6M5372 2675h6M5409 2683h6M5457 2660h6M5401 2704h6M5439 2664h6M5457 2702h6M5474 2707h6M5495 2687h6M5381 2722h6M5430 2675h6M5484 2701h6M5416 2684h6M5432 2695h6M5413 2717h6M5521 2694h6M5437 2688h6M5426 2690h6M5374 2704h6M5482 2682h6M5416 2700h6M5408 2692h6M5356 2680h6M5300 2699h6M5464 2701h6M5360 2726h6M5339 2714h6M5408 2702h6M5409 2683h6M5335 2742h6M5409 2689h6M5430 2657h6M5442 2679h6M5408 2674h6M5507 2693h6M5419 2710h6M5464 2657h6M5408 2690h6M5447 2722h6M5337 2718h6M5412 2687h6M5365 2696h6M5339 2730h6M5442 2705h6M5333 2719h6M5455 2682h6M5426 2694h6M5406 2688h6M5370 2728h6M5432 2662h6M5390 2698h6M5385 2685h6M5391 2680h6M5358 2736h6M5430 2681h6M5398 2697h6M5434 2684h6M5380 2663h6M5366 2689h6M5476 2669h6M5384 2716h6M5346 2714h6M5444 2702h6M5417 2741h6M5369 2710h6M5409 2685h6M5450 2659h6M5307 2730h6M5373 2709h6M5501 2677h6M5403 2720h6M5456 2694h6M5417 2695h6M5445 2698h6M5396 2661h6M5452 2713h6M5452 2679h6M5318 2714h6M5330 2714h6M5354 2701h6M5338 2743h6M5369 2691h6M5420 2676h6M5376 2712h6M5442 2710h6M5438 2729h6M5368 2735h6M5437 2673h6M5497 2697h6M5464 2716h6M5399 2714h6M5466 2676h6M5397 2714h6M5469 2695h6M5447 2707h6M5414 2690h6M5385 2724h6M5419 2720h6M5454 2696h6M5460 2694h6M5449 2692h6M5370 2684h6M5490 2681h6M5378 2706h6M5451 2707h6M5420 2711h6M5449 2700h6M5343 2693h6M5420 2708h6M5379 2708h6M5405 2666h6M5400 2672h6M5393 2652h6M5338 2745h6M5379 2684h6M5422 2712h6M5369 2689h6M5347 2720h6M5377 2694h6M5402 2683h6M5393 2686h6M5346 2707h6M5395 2705h6M5384 2672h6M5341 2709h6M5429 2674h6M5436 2680h6M5401 2681h6M5399 2701h6M5445 2735h6M5411 2703h6M5399 2695h6M5375 2729h6M5406 2680h6M5372 2659h6M5397 2694h6M5385 2670h6M5424 2674h6M5434 2704h6M5414 2683h6M5347 2705h6M5503 2661h6M5387 2708h6M5396 2703h6M5451 2688h6M5463 2671h6M5449 2673h6M5423 2689h6M5450 2710h6M5434 2722h6M5355 2679h6M5360 2675h6M5338 2712h6M5451 2645h6M5424 2666h6M5351 2679h6M5422 2702h6M5410 2699h6M5424 2706h6M5457 2698h6M5469 2689h6M5465 2682h6M5385 2722h6M5496 2666h6M5462 2710h6M5455 2701h6M5431 2662h6M5401 2673h6M5377 2715h6M5342 2684h6M5336 2724h6M5325 2686h6M5390 2670h6M5418 2696h6M5378 2682h6M5409 2675h6M5394 2709h6M5410 2716h6M5374 2706h6M5350 2678h6M5407 2659h6M5410 2684h6M5369 2691h6M5442 2687h6M5419 2703h6M5449 2658h6M5492 2704h6M5471 2675h6M5468 2703h6M5442 2713h6M5446 2694h6M5376 2718h6M5468 2678h6M5409 2658h6M5376 2707h6M5381 2670h6M5403 2704h6M5358 2691h6M5383 2737h6M5431 2683h6M5422 2662h6M5433 2723h6M5456 2683h6M5353 2714h6M5398 2689h6M5416 2693h6M5376 2701h6M5358 2665h6M5368 2690h6M5408 2686h6M5378 2696h6M5377 2683h6M5404 2719h6M5354 2695h6M5402 2688h6M5416 2693h6M5352 2714h6M5342 2735h6M5473 2691h6M5427 2659h6M5462 2676h6M5328 2708h6M5419 2692h6M5447 2692h6M5410 2662h6M5378 2697h6M5374 2680h6M5408 2712h6M5486 2668h6M5429 2686h6M5436 2696h6M5361 2708h6M5363 2722h6M5440 2695h6M5430 2704h6M5426 2688h6M5326 2703h6M5486 2685h6M5394 2687h6M5409 2714h6M5434 2687h6M5445 2695h6M5413 2676h6M5422 2728h6M5489 2655h6M5389 2670h6M5310 2680h6M5472 2675h6M5359 2718h6M5382 2704h6M5341 2669h6M5400 2724h6M5462 2693h6M5353 2727h6M5421 2729h6M5388 2719h6M5459 2672h6M5451 2723h6M5371 2703h6M5428 2715h6M5501 2670h6M5360 2717h6M5453 2682h6M5485 2710h6M5434 2716h6M5368 2683h6M5418 2706h6M5392 2727h6M5356 2709h6M5374 2686h6M5440 2702h6M5390 2676h6M5411 2679h6M5439 2715h6M5453 2675h6M5382 2700h6M5397 2668h6M5409 2687h6M5446 2678h6M5425 2709h6M5318 2711h6M5337 2708h6M5480 2685h6M5350 2731h6M5457 2731h6M5442 2676h6M5438 2719h6M5392 2715h6M5515 2678h6M5416 2707h6M5434 2714h6M5437 2664h6M5491 2707h6M5369 2686h6M5354 2700h6M5410 2666h6M5435 2693h6M5397 2686h6M5364 2730h6M5448 2697h6M5483 2692h6M5454 2685h6M5399 2692h6M5355 2688h6M5431 2698h6M5410 2700h6M5416 2679h6M5376 2702h6M5368 2727h6M5423 2679h6M5428 2680h6M5508 2712h6M5394 2743h6M5436 2703h6M5394 2696h6M5360 2703h6M5412 2698h6M5513 2666h6M5447 2721h6M5381 2715h6M5377 2696h6M5327 2703h6M5477 2697h6M5351 2706h6M5392 2716h6M5335 2718h6M5327 2713h6M5303 2685h6M5363 2708h6M5398 2672h6M5355 2700h6M5453 2677h6M5419 2696h6M5448 2672h6M5387 2697h6M5311 2702h6M5376 2734h6M5419 2713h6M5393 2699h6M5327 2688h6M5431 2658h6M5416 2713h6M5422 2709h6M5447 2712h6M5411 2686h6M5328 2707h6M5380 2702h6M5374 2703h6M5466 2692h6M5385 2706h6M5423 2728h6M5442 2693h6M5394 2677h6M5466 2700h6M5375 2703h6M5483 2679h6M5397 2709h6M5352 2713h6M5366 2734h6M5522 2698h6M5430 2702h6M5394 2678h6M5452 2697h6M5418 2708h6M5432 2733h6M5425 2733h6M5445 2701h6M5350 2679h6M5455 2696h6M5356 2729h6M5384 2719h6M5462 2679h6M5337 2695h6M5414 2661h6M5412 2664h6M5394 2726h6M5393 2701h6M5428 2703h6M5459 2679h6M5301 2686h6M5431 2665h6M5348 2700h6M5465 2663h6M5357 2716h6M5370 2700h6M5369 2726h6M5372 2670h6M5498 2653h6M5391 2669h6M5460 2688h6M5447 2665h6M5364 2711h6M5374 2718h6M5340 2704h6M5413 2660h6M5419 2681h6M5361 2715h6M5342 2726h6M5354 2713h6M5402 2688h6M5408 2676h6M5391 2695h6M5443 2680h6M5428 2716h6M5436 2666h6M5395 2716h6M5328 2687h6M5421 2684h6M5340 2718h6M5411 2708h6M5427 2688h6M5410 2684h6M5423 2699h6M5403 2723h6M5369 2699h6M5511 2650h6M5433 2683h6M5472 2677h6M5403 2683h6M5417 2691h6M5442 2672h6M5418 2698h6M5455 2648h6M5458 2696h6M5491 2699h6M5439 2691h6M5450 2699h6M5410 2701h6M5506 2693h6M5490 2675h6M5386 2693h6M5388 2700h6M5405 2679h6M5367 2721h6M5434 2673h6M5400 2680h6M5407 2709h6M5384 2725h6M5387 2677h6M5454 2697h6M5320 2700h6M5459 2713h6M5419 2705h6M5358 2682h6M5427 2680h6M5388 2709h6M5437 2700h6M5497 2687h6M5396 2695h6M5480 2681h6M5466 2712h6M5425 2687h6M5419 2702h6M5410 2703h6M5459 2707h6M5437 2704h6M5404 2714h6M5411 2665h6M5465 2681h6M5346 2695h6M5413 2717h6M5439 2695h6M5397 2684h6M5404 2714h6M5362 2694h6M5423 2678h6M5460 2701h6M5476 2680h6M5410 2669h6M5462 2709h6M5438 2689h6M5429 2706h6M5357 2718h6M5387 2707h6M5471 2709h6M5436 2673h6M5427 2676h6M5394 2709h6M5352 2700h6M5439 2684h6M5465 2671h6M5316 2693h6M5435 2701h6M5402 2709h6M5450 2667h6M5348 2690h6M5417 2696h6M5498 2676h6M5444 2698h6M5420 2649h6M5368 2651h6M5429 2677h6M5440 2688h6M5365 2684h6M5443 2702h6M5390 2710h6M5396 2691h6M5433 2681h6M5373 2727h6M5316 2688h6M5423 2691h6M5416 2671h6M5314 2736h6M5418 2683h6M5409 2671h6M5430 2705h6M5336 2721h6M5348 2683h6M5403 2693h6M5330 2687h6M5455 2673h6M5338 2722h6M5500 2711h6M5412 2701h6M5453 2722h6M5395 2721h6M5461 2699h6M5407 2689h6M5448 2674h6M5465 2672h6M5415 2704h6M5483 2663h6M5436 2658h6M5425 2686h6M5422 2699h6M5369 2715h6M5400 2706h6M5447 2670h6M5383 2708h6M5307 2704h6M5459 2691h6M5431 2673h6M5352 2739h6M5392 2683h6M5399 2694h6M5480 2699h6M5399 2719h6M5438 2689h6M5412 2660h6M5465 2678h6M5487 2690h6M5434 2691h6M5401 2696h6M5406 2691h6M5393 2711h6M5422 2683h6M5431 2696h6M5428 2684h6M5488 2719h6M5475 2716h6M5376 2718h6M5400 2705h6M5399 2707h6M5375 2728h6M5459 2696h6M5337 2732h6M5460 2692h6M5398 2701h6M5521 2694h6M5378 2697h6M5380 2701h6M5435 2689h6M5391 2681h6M5379 2720h6M5361 2724h6M5349 2717h6M5347 2705h6M5394 2724h6M5315 2702h6M5485 2725h6M5359 2737h6M5366 2706h6M5437 2672h6M5342 2724h6M5391 2676h6M5433 2679h6M5403 2726h6M5436 2691h6M5393 2678h6M5386 2682h6M5431 2696h6M5412 2696h6M5456 2702h6M5464 2703h6M5429 2668h6M5410 2674h6M5434 2688h6M5373 2715h6M5385 2693h6M5482 2679h6M5424 2690h6M5433 2681h6M5366 2675h6M5412 2719h6M5444 2670h6M5419 2686h6M5400 2722h6M5417 2704h6M5436 2681h6M5393 2684h6M5349 2696h6M5414 2673h6M5427 2672h6M5428 2657h6M5415 2728h6M5506 2714h6M5418 2711h6M5464 2726h6M5462 2685h6M5329 2681h6M5523 2676h6M5444 2670h6M5450 2659h6M5344 2728h6M5476 2682h6M5435 2712h6M5455 2720h6M5407 2679h6M5412 2682h6M5299 2714h6M5433 2693h6M5334 2687h6M5496 2707h6M5378 2690h6M5417 2715h6M5420 2706h6M5443 2711h6M5539 2676h6M5366 2670h6M5511 2681h6M5363 2725h6M5445 2696h6M5485 2718h6M5442 2715h6M5422 2686h6M5327 2689h6M5344 2697h6M5451 2671h6M5353 2701h6M5423 2662h6M5354 2723h6M5396 2712h6M5402 2697h6M5439 2694h6M5444 2676h6M5473 2687h6M5445 2679h6M5341 2703h6M5407 2664h6M5439 2709h6M5383 2699h6M5419 2694h6M5389 2691h6M5353 2699h6M5336 2679h6M5346 2707h6M5365 2694h6M5404 2707h6M5359 2712h6M5386 2686h6M5325 2711h6M5420 2686h6M5468 2671h6M5487 2687h6M5415 2698h6M5471 2676h6M5445 2709h6M5480 2653h6M5347 2711h6M5492 2709h6M5339 2728h6M5513 2681h6M5452 2682h6M5494 2716h6M5445 2694h6M5372 2712h6M5388 2689h6M5398 2691h6M5527 2697h6M5440 2679h6M5427 2664h6M5465 2649h6M5390 2721h6M5403 2672h6M5344 2697h6M5484 2645h6M5405 2724h6M5428 2679h6M5421 2675h6M5438 2695h6M5449 2707h6M5461 2700h6M5392 2689h6M5424 2685h6M5324 2690h6M5354 2723h6M5432 2723h6M5530 2681h6M5404 2695h6M5367 2692h6M5423 2715h6M5413 2673h6M5382 2696h6M5440 2700h6M5446 2669h6M5423 2688h6M5404 2671h6M5326 2720h6M5404 2699h6M5463 2696h6M5473 2704h6M5436 2686h6M5337 2725h6M5477 2670h6M5400 2691h6M5368 2686h6M5501 2662h6M5421 2703h6M5377 2724h6M5398 2692h6M5374 2697h6M5432 2681h6M5368 2730h6M5340 2672h6M5352 2680h6M5429 2703h6M5473 2660h6M5453 2721h6M5354 2684h6M5404 2698h6M5393 2682h6M5337 2697h6M5364 2667h6M5391 2700h6M5385 2714h6M5427 2718h6M5308 2727h6M5374 2726h6M5392 2721h6M5378 2685h6M5466 2709h6M5378 2685h6M5413 2723h6M5493 2663h6M5378 2715h6M5466 2666h6M5406 2723h6M5403 2648h6M5359 2701h6M5430 2668h6M5351 2708h6M5391 2704h6M5391 2714h6"/>
<path transform="scale(.1)" fill="none" stroke="#1f4d26" stroke-width="6" stroke-opacity="0.8" d="M5389 2684h6M5266 2705h6M5498 2685h6M5433 2669h6M5411 2653h6M5390 2668h6M5347 2749h6M5506 2670h6M5362 2674h6M5349 2663h6M5431 2690h6M5356 2705h6M5431 2682h6M5413 2686h6M5369 2721h6M5359 2680h6M5501 2679h6M5439 2675h6M5387 2708h6M5294 2706h6M5509 2704h6M5314 2654h6M5344 2711h6M5424 2701h6M5361 2723h6M5305 2709h6M5459 2681h6M5414 2722h6M5303 2666h6M5295 2671h6M5307 2701h6M5333 2681h6M5376 2702h6M5382 2727h6M5415 2685h6M5477 2684h6M5424 2724h6M5336 2682h6M5360 2747h6M5395 2659h6M5443 2703h6M5520 2699h6M5355 2677h6M5444 2686h6M5408 2750h6M5402 2692h6M5391 2646h6M5414 2651h6M5465 2698h6M5310 2665h6M5387 2710h6M5276 2695h6M5346 2679h6M5355 2660h6M5477 2653h6M5427 2673h6M5410 2711h6M5427 2726h6M5435 2716h6M5388 2711h6M5456 2722h6M5335 2687h6M5432 2722h6M5316 2734h6M5412 2696h6M5323 2735h6M5307 2714h6M5436 2703h6M5352 2686h6M5351 2676h6M5365 2682h6M5362 2659h6M5474 2712h6M5397 2709h6M5377 2694h6M5475 2662h6M5329 2692h6M5352 2759h6M5362 2707h6M5432 2735h6M5482 2651h6M5381 2651h6M5314 2688h6M5347 2694h6M5403 2698h6M5332 2731h6M5462 2720h6M5302 2735h6M5460 2682h6M5454 2693h6M5349 2704h6M5380 2714h6M5329 2685h6M5437 2733h6M5406 2669h6M5364 2691h6M5377 2699h6M5345 2735h6M5439 2652h6M5271 2691h6M5386 2678h6M5464 2723h6M5369 2701h6M5474 2682h6M5340 2710h6M5312 2711h6M5339 2720h6M5431 2738h6M5364 2730h6M5456 2654h6M5395 2671h6M5344 2718h6M5303 2729h6M5469 2721h6M5428 2670h6M5382 2700h6M5362 2751h6M5402 2709h6M5420 2681h6M5294 2726h6M5352 2677h6M5266 2708h6M5431 2693h6M5342 2730h6M5279 2677h6M5422 2747h6M5386 2648h6M5440 2663h6M5388 2659h6M5321 2706h6M5407 2727h6M5399 2656h6M5381 2718h6M5399 2691h6M5470 2669h6M5411 2745h6M5361 2725h6M5277 2680h6M5421 2700h6M5357 2640h6M5349 2651h6M5336 2734h6M5370 2681h6M5347 2668h6M5482 2649h6M5461 2727h6M5366 2701h6M5325 2708h6M5380 2672h6M5429 2695h6M5375 2682h6M5314 2673h6M5313 2711h6M5253 2698h6M5410 2668h6M5474 2697h6M5461 2701h6M5435 2728h6M5383 2700h6M5437 2751h6M5416 2710h6M5403 2685h6M5383 2722h6M5462 2674h6M5486 2700h6M5443 2667h6M5341 2704h6M5358 2698h6M5358 2706h6M5465 2696h6M5409 2688h6M5365 2684h6M5465 2729h6M5257 2704h6M5308 2722h6M5428 2666h6M5404 2683h6M5409 2692h6M5469 2718h6M5461 2654h6M5325 2732h6M5286 2716h6M5436 2731h6M5392 2694h6M5447 2705h6M5498 2708h6M5413 2659h6M5333 2740h6M5389 2685h6M5497 2701h6M5438 2713h6M5315 2710h6M5292 2720h6M5393 2692h6M5497 2664h6M5320 2726h6M5425 2705h6M5299 2674h6M5370 2736h6M5440 2736h6M5397 2735h6M5323 2716h6M5404 2675h6M5375 2708h6M5288 2709h6M5368 2758h6M5365 2717h6M5274 2716h6M5361 2728h6M5390 2662h6M5487 2680h6M5311 2742h6M5276 2743h6M5425 2646h6M5421 2686h6M5442 2723h6M5444 2712h6M5324 2649h6M5421 2737h6M5328 2711h6M5461 2667h6M5385 2742h6M5351 2701h6M5373 2727h6M5389 2739h6M5307 2683h6M5381 2675h6M5414 2701h6M5409 2678h6M5461 2637h6M5400 2704h6M5340 2678h6M5442 2734h6M5361 2732h6M5423 2671h6M5471 2722h6M5444 2734h6M5385 2707h6M5378 2699h6M5392 2652h6M5270 2709h6M5295 2659h6M5344 2665h6M5478 2697h6M5320 2753h6M5292 2702h6M5329 2686h6M5425 2702h6M5398 2726h6M5433 2743h6M5302 2671h6M5393 2721h6M5438 2668h6M5410 2721h6M5321 2693h6M5334 2755h6M5319 2683h6M5446 2701h6M5331 2721h6"/>
<rect x="493.4" y="223.8" width="26.6" height="30.5" fill="none" stroke="#a65050" stroke-width="1.1"/>
<rect x="522.4" y="258.3" width="36.3" height="22.1" fill="none" stroke="#3a9268" stroke-width="1.1"/>
<path d="M490.5 203.4H570.4" stroke="#505050" stroke-width="1" fill="none"/>
<path d="M570.4 203.4V282.4" stroke="#505050" stroke-width="1" fill="none"/>
<path d="M490.5 202.9V282.4H570.9" stroke="#2a2a2a" stroke-width="1" fill="none"/>
<path d="M490 226.2h-1.8M490 223.28h-1.8M490 221.21h-1.8M490 219.6h-1.8M490 218.28h-1.8M490 217.17h-1.8M490 216.21h-1.8M490 215.36h-1.8M490 243.08h-1.8M490 240.09h-1.8M490 237.96h-1.8M490 236.32h-1.8M490 234.97h-1.8M490 233.83h-1.8M490 232.85h-1.8M490 231.98h-1.8M490 259.87h-1.8M490 256.93h-1.8M490 254.85h-1.8M490 253.23h-1.8M490 251.9h-1.8M490 250.79h-1.8M490 249.82h-1.8M490 248.96h-1.8M490 219.63h-1.8M490 222.57h-1.8M490 224.65h-1.8M490 226.27h-1.8M490 227.6h-1.8M490 228.71h-1.8M490 229.68h-1.8M490 230.54h-1.8M490 272.3h-1.8M490 278.3h-1.8M490 269.3h-1.8" stroke="#333" stroke-width="0.8" fill="none"/>
<path d="M490 214.6h-3M490 231.2h-3M490 248.2h-3M490 264.9h-3M490 275.3h-3" stroke="#333" stroke-width="0.8" fill="none"/>
<text transform="translate(484.6,215.6) rotate(-90)" text-anchor="middle" font-size="6.2" fill="#333">10<tspan font-size="3.41" dy="-3">5</tspan></text>
<text transform="translate(484.6,229.9) rotate(-90)" text-anchor="middle" font-size="6.2" fill="#333">10<tspan font-size="3.41" dy="-3">4</tspan></text>
<text transform="translate(484.6,246.4) rotate(-90)" text-anchor="middle" font-size="6.2" fill="#333">10<tspan font-size="3.41" dy="-3">4</tspan></text>
<text transform="translate(484.6,263.2) rotate(-90)" text-anchor="middle" font-size="6.2" fill="#333">10<tspan font-size="3.41" dy="-3">3</tspan></text>
<text transform="translate(484.6,274) rotate(-90)" text-anchor="middle" font-size="6.2" fill="#333">0</text>
<path d="M532.34 282.9v1.8M538.68 282.9v1.8M543.17 282.9v1.8M546.66 282.9v1.8M549.51 282.9v1.8M551.92 282.9v1.8M554.01 282.9v1.8M555.85 282.9v1.8M568.34 282.9v1.8M501.7 282.9v1.8M507.7 282.9v1.8M498.7 282.9v1.8M510.7 282.9v1.8" stroke="#333" stroke-width="0.8" fill="none"/>
<path d="M504.7 282.9v3M521.5 282.9v3M557.5 282.9v3" stroke="#333" stroke-width="0.8" fill="none"/>
<text x="504.7" y="289.3" text-anchor="middle" font-size="6.2" fill="#333">0</text>
<text x="523.5" y="289.3" text-anchor="middle" font-size="6.2" fill="#333">10<tspan font-size="3.41" dy="-3">3</tspan></text>
<text x="559.7" y="289.3" text-anchor="middle" font-size="6.2" fill="#333">10<tspan font-size="3.41" dy="-3">4</tspan></text>
<text x="634.4" y="196" text-anchor="middle" font-size="10.2">GL261</text>
<path transform="scale(.1)" fill="none" stroke="#a83838" stroke-width="6" stroke-opacity="0.75" d="M6079 2321h6M6145 2341h6M6169 2315h6M6081 2328h6M6168 2377h6M6075 2295h6M6140 2348h6M6050 2306h6M6111 2339h6M6100 2355h6M6080 2338h6M6121 2342h6M6084 2361h6M6016 2377h6M6112 2325h6M6088 2377h6M6117 2299h6M6054 2350h6M6166 2365h6M6087 2360h6M6096 2337h6M6110 2290h6M6135 2359h6M6077 2323h6M6047 2352h6M6101 2350h6M6066 2325h6M6133 2339h6M6058 2350h6M6111 2387h6M6105 2334h6M6075 2324h6M6114 2366h6M6086 2342h6M6150 2348h6M6115 2317h6M6071 2290h6M6041 2355h6M6144 2338h6M6048 2347h6M6140 2341h6M6131 2343h6M6046 2322h6M6085 2404h6M6118 2339h6M6107 2351h6M6077 2342h6M6085 2364h6M6157 2379h6M6082 2359h6M6066 2317h6M6098 2361h6M6093 2366h6M6128 2365h6M6089 2310h6M6167 2333h6M6124 2358h6M6081 2392h6M6122 2345h6M6079 2320h6M6045 2360h6M6078 2333h6M6115 2336h6M6121 2329h6M6075 2369h6M6068 2361h6M6115 2345h6M6030 2311h6M6052 2312h6M6129 2323h6M6046 2332h6M6091 2302h6M6119 2364h6M6071 2366h6M6034 2331h6M6089 2347h6M6140 2337h6M6055 2351h6M6101 2356h6M6082 2349h6M6072 2359h6M6069 2329h6M6141 2325h6M6095 2360h6M6082 2368h6M6072 2371h6M6034 2310h6M6098 2382h6M6158 2323h6M6094 2332h6M6011 2363h6M6080 2380h6M6106 2331h6M6068 2340h6M6113 2332h6M6050 2347h6M6140 2356h6M6082 2328h6M6064 2315h6M6075 2352h6M6073 2387h6M6110 2334h6M6094 2382h6M6028 2351h6M6059 2348h6M6068 2338h6"/>
<path transform="scale(.1)" fill="none" stroke="#a83838" stroke-width="6" stroke-opacity="0.6" d="M6040 2377h6M6089 2435h6M6147 2434h6M6026 2448h6M6152 2504h6M6110 2455h6M6083 2400h6M6155 2429h6M6150 2361h6M6139 2368h6M6152 2390h6M6121 2533h6M6089 2366h6M6086 2443h6M6125 2467h6M6083 2462h6M6073 2334h6M6071 2427h6M6102 2354h6M6080 2274h6M6107 2297h6M6147 2383h6M6030 2342h6M6116 2363h6M6118 2407h6M6093 2484h6M6069 2386h6M6162 2359h6M6158 2372h6M6138 2409h6M6125 2460h6"/>
<path transform="scale(.1)" fill="none" stroke="#3a6a40" stroke-width="6" stroke-opacity="0.7" d="M6558 2690h6M6519 2643h6M6511 2704h6M6489 2698h6M6410 2719h6M6451 2712h6M6412 2706h6M6444 2743h6M6517 2712h6M6562 2688h6M6455 2688h6M6583 2679h6M6511 2697h6M6483 2715h6M6419 2721h6M6572 2694h6M6476 2703h6M6417 2718h6M6514 2702h6M6576 2699h6M6498 2730h6M6462 2711h6M6480 2676h6M6499 2702h6M6447 2715h6M6462 2717h6M6521 2697h6M6499 2671h6M6571 2697h6M6429 2739h6M6541 2717h6M6414 2699h6M6476 2735h6M6494 2721h6M6522 2684h6M6450 2703h6M6487 2700h6M6549 2715h6M6499 2690h6M6515 2694h6M6542 2704h6M6513 2709h6M6532 2669h6M6539 2692h6M6561 2700h6M6513 2711h6M6515 2709h6M6539 2666h6M6462 2693h6M6439 2695h6M6465 2687h6M6585 2706h6M6508 2713h6M6478 2666h6M6479 2722h6M6437 2741h6M6474 2699h6M6486 2675h6M6460 2718h6M6474 2686h6M6460 2693h6M6430 2698h6M6518 2685h6M6541 2669h6M6498 2647h6M6397 2724h6M6476 2683h6M6485 2698h6M6483 2669h6M6492 2659h6M6500 2677h6M6523 2684h6M6458 2728h6M6489 2676h6M6416 2685h6M6521 2687h6M6536 2714h6M6479 2721h6M6513 2710h6M6501 2692h6M6481 2707h6M6466 2698h6M6567 2675h6M6538 2704h6M6505 2662h6M6476 2710h6M6483 2742h6M6537 2693h6M6485 2685h6M6486 2723h6M6539 2696h6M6448 2719h6M6575 2685h6M6519 2716h6M6509 2732h6M6558 2693h6M6545 2721h6M6414 2694h6M6458 2703h6M6571 2659h6M6492 2707h6M6515 2698h6M6481 2705h6M6554 2686h6M6463 2673h6M6425 2740h6M6495 2738h6M6531 2670h6M6523 2676h6M6404 2716h6M6499 2702h6M6417 2716h6M6515 2697h6M6432 2705h6M6426 2717h6M6506 2704h6M6396 2712h6M6429 2721h6M6487 2699h6M6457 2716h6M6479 2713h6M6535 2675h6M6543 2679h6M6504 2687h6M6465 2683h6M6510 2710h6M6412 2714h6M6441 2735h6M6546 2690h6M6545 2678h6M6470 2676h6M6468 2699h6M6509 2704h6M6528 2655h6M6491 2683h6M6500 2673h6M6537 2667h6M6555 2667h6M6534 2688h6M6575 2691h6M6552 2666h6M6512 2693h6M6493 2701h6M6505 2716h6M6452 2694h6M6501 2668h6M6462 2699h6M6400 2702h6M6418 2694h6M6574 2662h6M6483 2718h6M6542 2705h6M6519 2681h6M6517 2724h6M6488 2703h6M6570 2683h6M6489 2729h6M6535 2673h6M6538 2674h6M6460 2687h6M6434 2709h6M6538 2674h6M6557 2654h6M6443 2724h6M6542 2677h6M6415 2698h6M6487 2707h6"/>
<path transform="scale(.1)" fill="none" stroke="#3a6a40" stroke-width="6" stroke-opacity="0.6" d="M6494 2691h6M6505 2698h6M6589 2681h6M6462 2660h6M6446 2676h6M6479 2717h6M6503 2648h6M6498 2725h6M6477 2652h6M6449 2698h6M6495 2698h6M6443 2702h6M6548 2683h6M6480 2736h6M6565 2679h6M6544 2695h6M6414 2690h6M6549 2638h6M6548 2645h6M6493 2701h6M6490 2708h6M6543 2706h6M6492 2710h6M6439 2695h6M6403 2738h6M6521 2747h6M6456 2733h6M6437 2706h6M6420 2732h6M6513 2699h6M6406 2692h6M6520 2665h6M6386 2738h6M6422 2698h6M6491 2736h6M6508 2732h6"/>
<rect x="600.3" y="223.5" width="26.5" height="29.9" fill="none" stroke="#a65050" stroke-width="1.1"/>
<rect x="631.5" y="258.6" width="36.1" height="21.6" fill="none" stroke="#3a9268" stroke-width="1.1"/>
<path d="M596.6 203.4H677.4" stroke="#505050" stroke-width="1" fill="none"/>
<path d="M677.4 203.4V282.4" stroke="#505050" stroke-width="1" fill="none"/>
<path d="M596.6 202.9V282.4H677.9" stroke="#2a2a2a" stroke-width="1" fill="none"/>
<path d="M596.1 226.2h-1.8M596.1 223.28h-1.8M596.1 221.21h-1.8M596.1 219.6h-1.8M596.1 218.28h-1.8M596.1 217.17h-1.8M596.1 216.21h-1.8M596.1 215.36h-1.8M596.1 243.08h-1.8M596.1 240.09h-1.8M596.1 237.96h-1.8M596.1 236.32h-1.8M596.1 234.97h-1.8M596.1 233.83h-1.8M596.1 232.85h-1.8M596.1 231.98h-1.8M596.1 259.87h-1.8M596.1 256.93h-1.8M596.1 254.85h-1.8M596.1 253.23h-1.8M596.1 251.9h-1.8M596.1 250.79h-1.8M596.1 249.82h-1.8M596.1 248.96h-1.8M596.1 219.63h-1.8M596.1 222.57h-1.8M596.1 224.65h-1.8M596.1 226.27h-1.8M596.1 227.6h-1.8M596.1 228.71h-1.8M596.1 229.68h-1.8M596.1 230.54h-1.8M596.1 272.3h-1.8M596.1 278.3h-1.8M596.1 269.3h-1.8" stroke="#333" stroke-width="0.8" fill="none"/>
<path d="M596.1 214.6h-3M596.1 231.2h-3M596.1 248.2h-3M596.1 264.9h-3M596.1 275.3h-3" stroke="#333" stroke-width="0.8" fill="none"/>
<text transform="translate(590.5,215.6) rotate(-90)" text-anchor="middle" font-size="6.2" fill="#333">10<tspan font-size="3.41" dy="-3">5</tspan></text>
<text transform="translate(590.5,229.9) rotate(-90)" text-anchor="middle" font-size="6.2" fill="#333">10<tspan font-size="3.41" dy="-3">4</tspan></text>
<text transform="translate(590.5,246.4) rotate(-90)" text-anchor="middle" font-size="6.2" fill="#333">10<tspan font-size="3.41" dy="-3">4</tspan></text>
<text transform="translate(590.5,263.2) rotate(-90)" text-anchor="middle" font-size="6.2" fill="#333">10<tspan font-size="3.41" dy="-3">3</tspan></text>
<text transform="translate(590.5,274) rotate(-90)" text-anchor="middle" font-size="6.2" fill="#333">0</text>
<path d="M638.34 282.9v1.8M644.68 282.9v1.8M649.17 282.9v1.8M652.66 282.9v1.8M655.51 282.9v1.8M657.92 282.9v1.8M660.01 282.9v1.8M661.85 282.9v1.8M674.34 282.9v1.8M607.8 282.9v1.8M613.8 282.9v1.8M604.8 282.9v1.8M616.8 282.9v1.8" stroke="#333" stroke-width="0.8" fill="none"/>
<path d="M610.8 282.9v3M627.5 282.9v3M663.5 282.9v3" stroke="#333" stroke-width="0.8" fill="none"/>
<text x="610.8" y="289.3" text-anchor="middle" font-size="6.2" fill="#333">0</text>
<text x="629.4" y="289.3" text-anchor="middle" font-size="6.2" fill="#333">10<tspan font-size="3.41" dy="-3">3</tspan></text>
<text x="665.8" y="289.3" text-anchor="middle" font-size="6.2" fill="#333">10<tspan font-size="3.41" dy="-3">4</tspan></text>
<path d="M469.7 275.2V299.6H494.8" fill="none" stroke="#111" stroke-width="1.1"/>
<path d="M469.7 270.2l-4.2 7.4h8.4z" fill="#111"/>
<path d="M500.8 299.6l-7.4 -4.1v8.2z" fill="#111"/>
<text transform="translate(472.8,256) rotate(-90)" text-anchor="middle" font-size="10.6" fill="#1b1b1b">CD8</text>
<text x="508.5" y="302.9" font-size="10.6">CD4</text>
<text x="236.1" y="489.1" font-size="10.2" font-weight="bold">L</text>
<text x="299.8" y="513.5" text-anchor="middle" font-size="10.2">PBS</text>
<path transform="scale(.1)" fill="none" stroke="#858585" stroke-width="6" d="M2729 5814h6M2741 5565h6M2767 5783h6M2766 5488h6M2711 5573h6M2748 5666h6M2704 5750h6M2724 5705h6M2731 5579h6M2719 5526h6M2732 5572h6M2699 5788h6M2742 5520h6M2736 5478h6M2702 5536h6M2723 5565h6M2726 5846h6M2693 5641h6M2701 5809h6M2760 5816h6M2733 5668h6M2716 5742h6M2691 5455h6M2748 5547h6M2716 5443h6M2749 5487h6M2755 5647h6M2730 5756h6M2742 5444h6M2768 5411h6M2764 5755h6M2741 5601h6M2731 5480h6M2715 5806h6M2724 5647h6M2714 5698h6M2687 5857h6M2752 5445h6M2695 5479h6M2721 5839h6M2721 5556h6M2724 5686h6M2710 5605h6M2740 5488h6M2711 5527h6M2771 5432h6M2745 5604h6M2759 5705h6M2756 5392h6M2748 5794h6M2714 5540h6M2754 5635h6M2683 5411h6M2737 5544h6M2738 5436h6M2691 5656h6M2777 5536h6M2705 5815h6M2731 5462h6M2701 5648h6M2759 5830h6M2752 5561h6M2752 5833h6M2719 5846h6M2688 5445h6M2700 5644h6M2733 5613h6M2738 5635h6M2729 5771h6M2726 5757h6M2676 5535h6M2754 5685h6M2706 5823h6M2703 5521h6M2728 5459h6M2685 5644h6M2690 5596h6M2747 5505h6M2741 5721h6M2724 5834h6M2715 5480h6M2708 5458h6M2735 5651h6M2735 5651h6M2738 5833h6M2738 5861h6M2709 5631h6M2731 5692h6M2709 5664h6M2718 5434h6M2748 5688h6M2704 5729h6M2744 5570h6M2752 5660h6M2749 5617h6M2708 5802h6M2744 5640h6M2741 5685h6M2758 5458h6M2694 5770h6M2759 5610h6M2698 5499h6M2733 5655h6M2706 5541h6M2722 5587h6M2724 5566h6M2748 5652h6M2721 5645h6M2754 5757h6M2736 5650h6M2719 5816h6M2731 5781h6M2766 5416h6M2746 5538h6M2689 5455h6M2724 5852h6M2705 5426h6M2749 5507h6M2744 5680h6M2754 5479h6M2688 5827h6M2739 5489h6M2693 5444h6M2726 5452h6M2752 5604h6M2726 5610h6M2726 5674h6M2743 5432h6M2709 5476h6M2708 5591h6M2723 5456h6M2715 5456h6M2737 5545h6M2748 5550h6M2728 5757h6M2682 5839h6M2704 5491h6M2742 5745h6M2738 5429h6M2733 5443h6M2703 5456h6M2748 5473h6M2744 5489h6M2725 5647h6M2783 5755h6M2722 5802h6M2726 5778h6M2744 5543h6M2768 5781h6M2702 5691h6M2707 5686h6M2721 5704h6M2720 5522h6M2709 5833h6M2747 5612h6M2708 5465h6M2719 5638h6M2760 5635h6M2706 5692h6M2730 5637h6M2715 5868h6M2731 5666h6M2719 5749h6M2727 5712h6M2726 5665h6M2706 5659h6M2743 5832h6M2732 5459h6M2766 5751h6M2752 5528h6M2716 5704h6M2739 5841h6M2718 5616h6M2765 5748h6M2712 5576h6M2706 5476h6M2713 5473h6M2746 5802h6M2721 5834h6M2762 5726h6M2745 5558h6M2764 5835h6M2705 5629h6M2774 5590h6M2706 5785h6M2742 5400h6M2749 5680h6M2694 5609h6M2757 5763h6M2689 5541h6M2689 5495h6M2704 5679h6M2722 5671h6M2745 5589h6M2708 5562h6M2698 5811h6M2717 5504h6M2739 5681h6M2741 5617h6M2711 5851h6M2738 5832h6M2758 5754h6M2751 5630h6M2738 5614h6M2746 5511h6M2744 5673h6M2740 5781h6M2724 5751h6M2725 5594h6M2685 5507h6M2741 5610h6M2736 5451h6M2738 5660h6M2757 5720h6M2746 5428h6M2743 5742h6M2747 5542h6M2723 5667h6M2740 5715h6M2721 5785h6M2773 5859h6M2717 5723h6M2732 5601h6M2695 5741h6M2752 5721h6M2714 5587h6M2731 5816h6M2737 5472h6M2712 5446h6M2716 5503h6M2729 5705h6M2738 5830h6M2756 5590h6M2693 5496h6M2761 5776h6M2725 5848h6M2715 5441h6M2757 5688h6M2695 5625h6M2718 5708h6M2733 5572h6M2741 5536h6M2718 5807h6M2740 5441h6M2722 5702h6M2688 5629h6M2716 5669h6M2769 5794h6M2709 5728h6M2703 5716h6M2728 5611h6M2736 5699h6M2745 5563h6M2749 5594h6M2739 5821h6M2767 5668h6M2728 5744h6M2749 5689h6M2725 5608h6M2776 5735h6M2763 5583h6M2728 5778h6M2694 5691h6M2699 5517h6M2704 5713h6M2748 5791h6M2712 5509h6M2751 5572h6M2733 5653h6M2676 5475h6M2758 5731h6M2745 5807h6M2751 5634h6M2717 5433h6M2727 5548h6M2686 5736h6M2702 5717h6M2740 5665h6M2734 5737h6M2795 5868h6M2709 5615h6M2730 5518h6M2751 5742h6M2702 5502h6M2736 5475h6M2776 5730h6M2723 5529h6M2715 5788h6M2702 5505h6M2733 5621h6M2731 5585h6M2725 5529h6M2737 5486h6M2673 5686h6M2733 5464h6M2734 5728h6M2733 5615h6M2745 5538h6M2699 5800h6M2745 5540h6M2733 5822h6M2716 5675h6M2737 5811h6M2712 5837h6M2720 5633h6M2707 5709h6M2698 5464h6M2747 5731h6M2713 5465h6M2736 5505h6M2723 5769h6M2696 5766h6M2699 5538h6M2747 5450h6M2753 5485h6M2738 5737h6M2700 5485h6M2732 5490h6M2704 5421h6M2711 5683h6M2739 5730h6M2722 5825h6M2745 5859h6M2711 5500h6M2753 5462h6M2750 5624h6M2750 5554h6M2755 5483h6M2719 5786h6M2745 5566h6M2756 5752h6M2752 5574h6M2757 5486h6M2750 5530h6M2721 5724h6M2717 5616h6M2714 5775h6M2737 5635h6M2686 5687h6M2722 5555h6M2744 5717h6M2707 5629h6M2735 5845h6M2739 5672h6M2737 5597h6M2673 5697h6M2735 5568h6M2732 5710h6M2736 5525h6M2732 5873h6M2752 5781h6M2717 5489h6M2753 5475h6M2752 5613h6M2775 5705h6M2718 5566h6M2687 5792h6M2755 5453h6M2724 5635h6M2742 5551h6M2724 5814h6M2786 5728h6M2695 5758h6M2771 5793h6M2719 5478h6M2699 5565h6M2711 5589h6M2718 5485h6M2766 5773h6M2724 5798h6M2766 5780h6M2721 5422h6M2763 5853h6M2730 5764h6M2711 5475h6M2714 5521h6M2694 5684h6M2719 5619h6M2698 5515h6M2727 5722h6M2742 5725h6M2701 5479h6M2739 5672h6M2731 5795h6M2744 5505h6M2717 5423h6M2730 5754h6M2724 5814h6M2730 5621h6M2695 5434h6M2727 5450h6M2751 5566h6M2730 5855h6M2737 5597h6M2753 5780h6M2683 5814h6M2760 5595h6M2734 5757h6M2726 5690h6M2711 5657h6M2709 5540h6M2722 5744h6M2723 5730h6M2727 5547h6M2719 5560h6M2738 5466h6M2755 5422h6M2725 5652h6M2729 5718h6M2759 5636h6M2710 5664h6M2730 5554h6M2748 5719h6M2725 5446h6M2704 5527h6M2750 5475h6M2728 5477h6M2753 5775h6M2715 5611h6M2685 5738h6M2721 5764h6M2744 5593h6M2671 5534h6M2758 5457h6M2702 5638h6M2730 5824h6M2729 5829h6M2744 5715h6M2721 5634h6M2715 5811h6M2754 5555h6M2702 5497h6M2737 5811h6M2696 5751h6M2728 5854h6M2717 5747h6M2733 5457h6M2737 5658h6M2724 5578h6M2757 5526h6M2724 5698h6M2730 5777h6M2758 5760h6M2699 5796h6M2721 5477h6M2709 5605h6M2755 5663h6M2693 5451h6M2733 5683h6M2742 5426h6M2783 5594h6M2714 5570h6M2745 5711h6M2743 5578h6M2735 5499h6M2731 5477h6M2746 5760h6M2734 5469h6M2724 5659h6M2736 5644h6M2738 5427h6M2757 5595h6M2723 5766h6M2757 5781h6M2759 5437h6M2752 5810h6M2725 5565h6M2732 5659h6M2744 5476h6M2748 5649h6M2690 5707h6M2669 5590h6M2743 5610h6M2742 5752h6M2757 5526h6M2712 5558h6M2735 5702h6M2779 5793h6M2768 5680h6M2723 5509h6M2714 5867h6M2756 5532h6M2711 5649h6M2713 5491h6M2733 5537h6M2716 5771h6M2721 5502h6M2763 5816h6M2763 5774h6M2735 5831h6M2716 5760h6M2733 5610h6M2743 5675h6M2747 5593h6M2741 5663h6M2753 5665h6M2725 5437h6M2729 5658h6M2697 5635h6M2750 5700h6M2702 5661h6M2720 5447h6M2732 5782h6M2769 5818h6M2743 5638h6M2707 5778h6M2711 5833h6M2728 5449h6M2779 5769h6M2721 5581h6M2713 5693h6M2755 5847h6M2719 5474h6M2699 5411h6M2721 5578h6M2736 5693h6M2733 5842h6M2709 5826h6M2737 5706h6M2727 5701h6M2724 5769h6M2735 5567h6M2693 5662h6M2737 5668h6M2719 5463h6M2739 5574h6M2715 5433h6M2756 5532h6M2729 5634h6M2753 5494h6M2769 5483h6M2728 5489h6M2760 5794h6M2719 5421h6M2749 5412h6M2735 5602h6M2770 5597h6M2706 5753h6M2728 5524h6M2744 5446h6M2748 5561h6M2735 5769h6M2722 5584h6M2736 5721h6M2728 5611h6M2723 5803h6M2751 5420h6M2757 5650h6M2714 5751h6M2703 5755h6M2754 5740h6M2738 5585h6M2743 5737h6M2738 5664h6M2748 5775h6M2746 5772h6M2724 5664h6M2742 5428h6M2689 5826h6M2695 5475h6M2715 5664h6M2723 5430h6M2716 5400h6M2712 5806h6M2733 5856h6M2710 5542h6M2733 5586h6M2708 5410h6M2736 5436h6M2763 5443h6M2720 5787h6M2688 5470h6M2748 5448h6M2698 5597h6M2718 5516h6M2760 5825h6M2719 5740h6M2739 5748h6M2733 5483h6M2717 5657h6M2745 5685h6M2750 5461h6M2692 5707h6M2754 5813h6M2749 5543h6M2702 5793h6M2700 5483h6M2759 5412h6M2739 5629h6M2740 5636h6M2759 5568h6M2775 5514h6M2733 5465h6M2736 5604h6M2709 5446h6M2723 5473h6M2740 5775h6M2727 5813h6M2678 5801h6M2750 5625h6M2743 5620h6M2747 5822h6M2725 5748h6M2740 5503h6M2725 5748h6M2726 5523h6M2733 5669h6M2742 5366h6M2744 5608h6M2731 5549h6M2742 5641h6M2718 5560h6M2740 5467h6M2707 5784h6M2720 5581h6M2719 5478h6M2769 5711h6M2711 5735h6M2722 5448h6M2744 5453h6M2729 5404h6M2746 5687h6M2720 5674h6M2755 5826h6M2747 5550h6M2759 5460h6M2754 5823h6M2736 5463h6M2679 5695h6M2738 5455h6M2717 5768h6M2745 5454h6M2752 5446h6M2725 5471h6M2715 5797h6M2730 5646h6M2752 5684h6M2769 5480h6M2730 5826h6M2721 5793h6M2716 5556h6M2736 5721h6M2708 5814h6M2713 5650h6M2732 5637h6M2709 5711h6M2717 5432h6M2721 5444h6M2742 5658h6M2766 5610h6M2721 5517h6M2734 5614h6M2779 5621h6M2727 5634h6M2728 5791h6M2708 5465h6M2685 5822h6M2744 5736h6M2711 5500h6M2744 5665h6M2736 5761h6M2706 5648h6M2726 5468h6M2687 5536h6M2694 5682h6M2735 5687h6M2697 5644h6M2702 5666h6M2722 5755h6M2686 5784h6M2742 5727h6M2758 5626h6M2747 5807h6M2725 5507h6M2745 5655h6M2712 5512h6M2714 5468h6M2736 5626h6M2743 5689h6M2723 5827h6M2755 5748h6M2759 5742h6M2758 5638h6M2692 5631h6M2678 5716h6M2715 5806h6M2731 5558h6M2746 5448h6M2754 5561h6M2709 5587h6M2725 5853h6M2760 5790h6M2725 5735h6M2798 5827h6M2734 5775h6M2745 5484h6M2713 5555h6M2784 5737h6M2713 5807h6M2703 5563h6M2699 5856h6M2738 5481h6M2698 5412h6M2736 5805h6M2738 5554h6M2754 5423h6M2759 5761h6M2741 5558h6M2726 5777h6M2699 5817h6M2756 5576h6M2718 5582h6M2727 5696h6M2727 5512h6M2717 5809h6M2729 5865h6M2764 5375h6M2743 5745h6M2754 5566h6M2749 5578h6M2767 5482h6M2730 5747h6M2723 5624h6M2763 5690h6M2680 5734h6M2748 5581h6M2745 5765h6M2735 5417h6M2737 5664h6M2715 5614h6M2719 5602h6M2761 5674h6M2732 5699h6M2757 5497h6M2716 5632h6M2716 5575h6M2700 5841h6M2695 5789h6M2745 5427h6M2696 5422h6M2688 5513h6M2688 5723h6M2737 5835h6M2752 5812h6M2740 5400h6M2718 5483h6M2751 5814h6M2744 5620h6M2713 5712h6M2718 5595h6M2745 5672h6M2770 5466h6M2728 5761h6M2730 5572h6M2747 5663h6M2719 5545h6M2744 5495h6M2704 5512h6M2707 5644h6M2721 5443h6M2703 5730h6M2742 5565h6M2740 5822h6M2751 5835h6M2759 5826h6M2736 5681h6M2739 5681h6M2748 5552h6M2749 5425h6M2690 5768h6M2687 5671h6M2695 5558h6M2724 5689h6M2689 5777h6M2719 5486h6M2729 5461h6M2734 5585h6M2738 5534h6M2742 5847h6M2716 5776h6M2726 5471h6M2741 5550h6M2732 5728h6M2759 5638h6M2756 5822h6M2743 5823h6M2730 5406h6M2729 5851h6M2728 5483h6M2668 5479h6M2717 5748h6M2764 5761h6M2729 5466h6M2738 5862h6M2753 5674h6M2767 5676h6M2668 5496h6M2730 5746h6M2731 5810h6M2762 5572h6M2732 5651h6M2723 5437h6M2754 5805h6M2754 5507h6M2769 5784h6M2702 5474h6M2726 5621h6M2733 5819h6M2709 5475h6M2761 5488h6M2774 5581h6M2714 5695h6M2709 5407h6M2709 5584h6M2692 5496h6M2710 5489h6M2689 5511h6M2775 5690h6M2729 5764h6M2722 5495h6M2698 5527h6M2721 5766h6M2725 5841h6M2761 5632h6M2723 5843h6M2728 5695h6M2754 5506h6M2794 5848h6M2747 5491h6M2710 5761h6M2737 5791h6M2663 5586h6M2765 5442h6M2751 5800h6M2744 5659h6M2711 5579h6M2743 5641h6M2771 5802h6M2710 5749h6M2718 5662h6M2695 5759h6M2739 5682h6M2706 5588h6M2689 5787h6M2712 5598h6M2771 5737h6M2717 5513h6M2773 5714h6M2714 5835h6M2704 5576h6M2719 5753h6M2721 5813h6M2757 5702h6M2694 5603h6M2706 5531h6M2737 5410h6M2720 5587h6M2694 5591h6M2727 5545h6M2738 5606h6M2773 5490h6M2746 5722h6M2723 5606h6M2717 5755h6M2734 5463h6M2733 5816h6M2726 5478h6M2719 5575h6M2727 5704h6M2733 5819h6M2740 5710h6M2711 5616h6M2715 5520h6M2716 5451h6M2699 5564h6M2721 5507h6M2762 5676h6M2712 5710h6M2749 5689h6M2709 5523h6M2747 5649h6M2756 5790h6M2749 5669h6M2742 5521h6M2759 5761h6M2772 5533h6M2738 5805h6M2732 5750h6M2696 5486h6M2753 5461h6M2707 5566h6M2735 5820h6M2760 5837h6M2709 5650h6M2717 5507h6M2736 5626h6M2744 5792h6M2758 5655h6M2733 5465h6M2738 5654h6M2708 5822h6M2744 5469h6M2735 5534h6M2724 5796h6M2764 5740h6M2728 5819h6M2766 5450h6M2714 5658h6M2700 5679h6M2745 5649h6M2720 5475h6M2705 5713h6M2747 5824h6M2762 5561h6M2730 5817h6M2744 5629h6M2736 5778h6M2759 5696h6M2761 5786h6M2738 5780h6M2738 5636h6M2744 5500h6M2719 5538h6M2749 5474h6M2739 5429h6M2742 5808h6M2739 5677h6M2724 5531h6M2693 5582h6M2748 5482h6M2734 5868h6M2744 5813h6M2731 5593h6M2701 5780h6M2726 5441h6M2706 5701h6M2742 5500h6M2759 5779h6M2773 5445h6M2718 5560h6M2742 5770h6M2729 5488h6M2686 5709h6M2752 5678h6M2733 5822h6M2699 5870h6M2746 5454h6M2757 5471h6M2727 5542h6M2709 5674h6M2731 5744h6M2750 5774h6M2721 5795h6M2748 5535h6M2742 5650h6M2740 5827h6M2720 5673h6M2709 5744h6M2713 5753h6M2688 5515h6M2752 5725h6M2758 5583h6M2716 5644h6M2725 5865h6M2761 5553h6M2738 5804h6M2727 5737h6M2728 5410h6M2755 5459h6M2746 5606h6M2752 5700h6M2766 5756h6M2761 5563h6M2711 5579h6M2715 5817h6M2698 5430h6M2693 5658h6M2755 5752h6M2736 5558h6M2721 5817h6M2756 5734h6M2737 5510h6M2689 5692h6M2718 5698h6M2754 5448h6M2740 5513h6M2721 5475h6M2737 5526h6M2696 5757h6M2716 5586h6M2708 5489h6M2742 5671h6M2737 5496h6M2757 5484h6M2731 5718h6M2748 5606h6M2749 5442h6M2760 5468h6M2773 5633h6M2722 5641h6M2724 5697h6M2734 5727h6M2727 5600h6M2751 5875h6M2734 5586h6M2727 5543h6M2704 5444h6M2720 5654h6M2757 5721h6M2719 5749h6M2722 5697h6M2723 5741h6M2732 5860h6M2722 5639h6M2753 5832h6M2777 5740h6M2757 5505h6M2700 5576h6M2750 5713h6M2748 5501h6M2698 5811h6M2743 5777h6M2718 5660h6M2739 5494h6M2736 5661h6M2710 5809h6M2743 5704h6M2733 5525h6M2700 5842h6M2747 5607h6M2740 5747h6M2781 5720h6M2725 5837h6M2707 5530h6M2691 5438h6M2730 5767h6M2696 5751h6M2692 5552h6M2755 5514h6M2733 5619h6M2709 5826h6M2751 5510h6M2750 5815h6M2733 5592h6M2727 5791h6M2736 5534h6M2729 5702h6M2730 5686h6M2713 5818h6M2774 5844h6M2729 5698h6M2699 5811h6M2743 5571h6M2733 5518h6M2762 5677h6M2741 5507h6M2682 5483h6M2737 5703h6M2731 5462h6M2717 5454h6M2769 5693h6M2742 5632h6M2733 5463h6M2728 5633h6M2721 5768h6M2728 5593h6M2729 5465h6M2738 5487h6M2734 5784h6M2744 5451h6M2722 5861h6M2761 5823h6M2740 5463h6M2736 5504h6M2768 5829h6M2700 5771h6M2744 5849h6M2737 5736h6M2749 5662h6M2746 5536h6M2758 5489h6M2721 5708h6M2712 5757h6M2758 5732h6M2730 5556h6M2717 5724h6M2742 5735h6M2733 5591h6M2727 5434h6M2695 5802h6M2721 5716h6M2725 5700h6M2766 5439h6M2742 5706h6M2759 5649h6M2733 5584h6M2748 5700h6M2745 5838h6M2745 5852h6M2736 5457h6M2726 5449h6M2726 5592h6M2705 5745h6M2728 5483h6M2720 5474h6M2724 5534h6M2737 5645h6M2711 5815h6M2759 5704h6M2757 5646h6M2729 5656h6M2766 5686h6M2722 5741h6M2727 5646h6M2733 5685h6M2742 5771h6M2735 5585h6M2758 5558h6M2728 5453h6M2745 5490h6M2734 5673h6M2701 5766h6M2708 5618h6M2722 5652h6M2717 5679h6M2710 5623h6M2738 5723h6M2734 5449h6M2690 5487h6M2748 5837h6M2735 5686h6M2749 5433h6M2729 5650h6M2736 5793h6M2688 5815h6M2746 5835h6M2740 5635h6M2740 5463h6M2716 5810h6M2691 5782h6M2721 5451h6M2731 5568h6M2772 5536h6M2760 5554h6M2715 5780h6M2691 5522h6M2736 5440h6M2768 5781h6M2766 5667h6M2758 5764h6M2718 5684h6M2731 5828h6M2688 5639h6M2674 5624h6M2765 5846h6M2717 5498h6M2717 5555h6M2729 5818h6M2698 5862h6M2702 5784h6M2781 5717h6M2701 5805h6M2747 5799h6M2727 5684h6M2716 5623h6M2731 5655h6M2741 5503h6M2694 5580h6M2723 5753h6M2743 5414h6M2681 5778h6M2708 5560h6M2709 5657h6M2703 5487h6M2752 5787h6M2736 5717h6M2721 5543h6M2700 5608h6M2708 5619h6M2736 5643h6M2745 5414h6M2722 5736h6M2763 5708h6M2756 5659h6M2735 5517h6M2702 5709h6M2669 5680h6M2739 5547h6M2765 5601h6M2706 5838h6M2727 5531h6M2719 5684h6M2766 5552h6M2732 5681h6M2715 5626h6M2719 5808h6M2744 5478h6M2719 5522h6M2727 5831h6M2709 5710h6M2743 5738h6M2725 5585h6M2730 5454h6M2744 5415h6M2729 5718h6M2759 5858h6M2759 5627h6M2713 5719h6M2715 5545h6M2741 5757h6M2720 5524h6M2739 5562h6M2742 5763h6M2736 5638h6M2730 5614h6M2739 5449h6M2726 5512h6M2720 5509h6M2738 5605h6M2762 5486h6M2692 5833h6M2715 5782h6M2744 5714h6M2701 5616h6M2729 5684h6M2714 5561h6M2729 5520h6M2754 5790h6M2733 5769h6M2736 5800h6M2721 5694h6M2746 5693h6M2743 5876h6M2739 5671h6M2710 5542h6M2730 5504h6M2756 5821h6M2725 5524h6M2736 5459h6M2736 5684h6M2723 5455h6M2711 5617h6M2718 5526h6M2704 5554h6M2705 5733h6M2737 5541h6M2742 5813h6M2731 5771h6M2719 5768h6M2723 5496h6M2735 5555h6M2727 5530h6M2728 5597h6M2724 5521h6M2726 5560h6M2739 5648h6M2730 5673h6M2724 5733h6M2728 5790h6M2734 5551h6M2729 5834h6M2710 5584h6M2725 5503h6M2743 5585h6M2728 5548h6M2719 5539h6M2738 5423h6M2730 5786h6M2710 5528h6M2741 5818h6M2725 5816h6M2695 5828h6M2756 5575h6M2703 5419h6M2723 5753h6M2737 5782h6M2743 5809h6M2751 5651h6M2753 5814h6M2735 5573h6M2698 5411h6M2740 5490h6M2759 5754h6M2702 5762h6M2704 5474h6M2725 5550h6M2749 5617h6M2720 5792h6M2729 5783h6M2739 5495h6M2702 5542h6M2697 5817h6M2729 5741h6M2707 5753h6M2727 5577h6M2715 5807h6M2732 5515h6M2702 5458h6M2720 5834h6M2721 5489h6M2745 5385h6M2748 5773h6M2717 5619h6M2745 5809h6M2681 5629h6M2746 5728h6M2748 5619h6M2704 5666h6M2738 5551h6M2742 5477h6M2724 5626h6M2723 5606h6M2709 5713h6M2725 5474h6M2775 5523h6M2730 5490h6M2729 5400h6M2713 5502h6M2737 5461h6M2762 5472h6M2701 5656h6M2746 5644h6M2733 5525h6M2691 5424h6M2715 5797h6M2737 5799h6M2748 5579h6M2729 5698h6M2744 5490h6M2748 5688h6M2711 5507h6M2673 5634h6M2726 5850h6M2712 5723h6M2737 5542h6M2727 5784h6M2712 5554h6M2692 5716h6M2742 5484h6M2729 5788h6M2742 5452h6M2727 5513h6M2768 5711h6M2712 5406h6M2729 5746h6M2756 5536h6M2704 5773h6M2736 5539h6M2725 5717h6M2709 5650h6M2752 5781h6M2711 5527h6M2745 5423h6M2723 5825h6M2676 5535h6M2712 5788h6M2766 5569h6M2724 5586h6M2724 5559h6M2783 5784h6M2726 5490h6M2686 5696h6M2729 5600h6M2724 5654h6M2711 5766h6M2718 5378h6M2747 5704h6M2733 5716h6M2701 5524h6M2727 5420h6M2759 5806h6M2733 5677h6M2770 5824h6M2751 5672h6M2728 5603h6M2715 5694h6M2713 5839h6M2739 5500h6M2690 5858h6M2744 5538h6M2748 5583h6M2740 5643h6M2725 5468h6M2709 5534h6M2708 5545h6M2701 5549h6M2718 5424h6M2747 5752h6M2737 5789h6M2738 5546h6M2685 5433h6M2751 5674h6M2749 5614h6M2732 5453h6M2751 5789h6M2772 5667h6M2717 5743h6M2748 5474h6M2723 5605h6M2715 5688h6M2737 5597h6M2749 5774h6M2755 5854h6M2727 5771h6M2754 5566h6M2704 5599h6M2696 5617h6M2736 5461h6M2729 5666h6M2752 5746h6M2727 5436h6M2761 5730h6M2758 5674h6M2729 5700h6M2730 5452h6M2721 5705h6M2699 5513h6M2707 5607h6M2714 5813h6M2731 5755h6M2704 5602h6M2730 5777h6M2764 5450h6M2739 5499h6M2730 5770h6M2746 5579h6M2729 5752h6M2736 5405h6M2754 5453h6M2710 5619h6M2726 5572h6M2747 5715h6M2714 5685h6M2729 5805h6M2717 5388h6M2741 5596h6M2697 5682h6M2723 5390h6M2734 5794h6M2768 5731h6M2749 5580h6M2715 5682h6M2699 5525h6M2741 5613h6M2727 5480h6M2707 5426h6M2721 5493h6M2708 5746h6M2693 5564h6M2730 5703h6M2770 5789h6M2712 5487h6M2735 5714h6M2707 5646h6M2704 5687h6M2723 5853h6M2742 5760h6M2722 5780h6M2749 5501h6M2730 5780h6M2718 5835h6M2712 5818h6M2743 5744h6M2718 5760h6M2740 5675h6M2712 5776h6M2688 5771h6M2736 5471h6M2719 5565h6M2701 5494h6M2734 5852h6M2714 5434h6M2710 5583h6M2707 5682h6M2757 5606h6M2727 5790h6M2747 5569h6M2707 5570h6M2711 5521h6M2734 5782h6M2748 5684h6M2744 5700h6M2768 5672h6M2724 5578h6M2722 5435h6M2735 5731h6M2721 5839h6M2717 5513h6M2737 5691h6M2740 5671h6M2734 5433h6M2754 5648h6M2758 5718h6M2702 5752h6M2725 5621h6M2745 5424h6M2704 5645h6M2745 5848h6M2677 5670h6M2727 5658h6M2734 5419h6M2763 5775h6M2738 5570h6M2756 5469h6M2738 5829h6M2710 5543h6M2753 5795h6M2746 5566h6M2726 5512h6M2717 5832h6M2718 5433h6M2755 5636h6M2766 5677h6M2764 5849h6M2746 5639h6M2730 5636h6M2770 5503h6M2736 5521h6M2726 5502h6M2704 5615h6M2707 5439h6M2749 5767h6M2724 5798h6M2696 5574h6M2762 5688h6M2729 5826h6M2706 5760h6M2745 5612h6M2704 5445h6M2712 5563h6M2709 5494h6M2714 5456h6M2707 5442h6M2785 5633h6M2744 5705h6M2730 5395h6M2723 5494h6M2704 5425h6M2745 5742h6M2764 5695h6M2734 5499h6M2729 5714h6M2718 5617h6M2745 5769h6M2744 5809h6M2740 5784h6M2750 5718h6M2720 5862h6M2715 5648h6M2758 5691h6M2745 5441h6M2746 5662h6M2709 5722h6M2751 5812h6M2757 5489h6M2731 5814h6M2717 5547h6M2738 5507h6M2714 5397h6M2716 5572h6M2751 5745h6M2724 5659h6M2692 5444h6M2733 5620h6M2735 5639h6M2718 5751h6M2710 5660h6M2725 5546h6M2714 5725h6M2743 5678h6M2764 5430h6M2729 5669h6M2751 5706h6M2724 5768h6M2758 5681h6M2727 5768h6M2715 5535h6M2699 5721h6M2735 5402h6M2747 5711h6M2760 5425h6M2752 5631h6M2736 5634h6M2766 5446h6M2717 5612h6M2747 5506h6M2725 5764h6M2724 5565h6M2756 5605h6M2761 5452h6M2715 5725h6M2763 5533h6M2760 5778h6M2720 5761h6M2736 5467h6M2702 5519h6M2682 5427h6M2739 5761h6M2729 5742h6M2723 5421h6M2740 5670h6M2714 5743h6M2737 5416h6M2759 5500h6M2772 5500h6M2728 5431h6M2713 5447h6M2724 5672h6M2734 5491h6M2739 5732h6M2704 5599h6M2761 5467h6M2765 5623h6M2737 5842h6M2723 5824h6M2732 5827h6M2763 5690h6M2750 5451h6M2744 5501h6M2697 5756h6M2717 5635h6M2723 5804h6M2701 5793h6M2777 5727h6M2725 5803h6M2745 5599h6M2740 5804h6M2719 5647h6M2729 5681h6M2710 5853h6M2676 5774h6M2745 5678h6M2691 5504h6M2700 5463h6M2688 5755h6M2710 5421h6M2754 5672h6M2732 5668h6M2729 5562h6M2739 5491h6M2719 5668h6M2711 5794h6M2753 5643h6M2702 5685h6M2714 5599h6M2659 5497h6M2761 5668h6M2749 5749h6M2735 5658h6M2693 5786h6M2754 5819h6M2729 5477h6M2737 5518h6M2721 5734h6M2741 5640h6M2713 5446h6M2746 5577h6M2784 5552h6M2726 5840h6M2695 5433h6M2723 5824h6M2715 5813h6M2745 5549h6M2728 5645h6M2741 5654h6M2726 5809h6M2719 5529h6M2732 5631h6M2747 5601h6M2690 5807h6M2761 5825h6M2714 5473h6M2690 5690h6M2763 5695h6M2778 5458h6M2756 5638h6M2737 5463h6M2747 5519h6M2732 5582h6M2728 5440h6M2712 5514h6M2746 5561h6M2730 5415h6M2709 5849h6M2713 5814h6M2740 5718h6M2709 5762h6M2768 5451h6M2778 5591h6M2740 5445h6M2780 5489h6M2740 5436h6M2716 5711h6M2680 5774h6M2709 5473h6M2761 5472h6M2708 5502h6M2748 5807h6M2726 5554h6M2737 5593h6M2749 5792h6M2731 5408h6M2737 5663h6M2723 5607h6M2703 5482h6M2741 5659h6M2738 5792h6M2719 5527h6M2731 5450h6M2724 5693h6M2746 5706h6M2776 5758h6M2750 5855h6M2731 5793h6M2790 5658h6M2707 5654h6M2734 5647h6M2704 5574h6M2725 5779h6M2757 5474h6M2756 5770h6M2734 5427h6M2712 5549h6M2742 5634h6M2707 5808h6M2729 5813h6M2719 5753h6M2758 5632h6M2754 5737h6M2726 5482h6M2709 5682h6M2701 5796h6M2683 5696h6M2732 5640h6M2776 5565h6M2731 5595h6M2721 5569h6M2732 5658h6M2742 5818h6M2716 5570h6M2708 5636h6M2670 5761h6M2732 5516h6M2722 5682h6M2716 5676h6M2735 5759h6M2721 5745h6M2738 5419h6M2753 5564h6M2739 5428h6M2735 5714h6M2758 5680h6M2738 5676h6M2721 5780h6M2742 5783h6M2712 5549h6M2708 5771h6M2696 5642h6M2733 5793h6M2707 5434h6M2723 5508h6M2725 5721h6M2720 5480h6M2746 5732h6M2746 5460h6M2718 5805h6M2755 5651h6M2690 5414h6M2752 5552h6M2727 5672h6M2678 5707h6M2746 5518h6M2763 5752h6M2751 5689h6M2680 5795h6M2745 5574h6M2690 5448h6M2733 5516h6M2735 5749h6M2752 5604h6M2702 5654h6M2679 5561h6M2733 5801h6M2729 5432h6M2686 5865h6M2704 5766h6M2716 5517h6M2751 5732h6M2714 5510h6M2716 5502h6M2684 5683h6M2744 5631h6M2731 5772h6M2721 5685h6M2732 5387h6M2700 5482h6M2754 5391h6M2724 5728h6M2766 5687h6M2752 5825h6M2749 5679h6M2679 5698h6M2727 5709h6M2737 5520h6M2739 5604h6M2712 5704h6M2731 5567h6M2707 5633h6M2717 5455h6M2747 5578h6M2688 5598h6M2744 5772h6M2737 5732h6M2715 5803h6M2800 5669h6M2699 5597h6M2739 5663h6M2722 5627h6M2766 5604h6M2721 5551h6M2719 5777h6M2748 5578h6M2725 5452h6M2712 5432h6M2770 5514h6M2762 5415h6M2736 5741h6M2738 5472h6M2742 5524h6M2720 5711h6M2740 5757h6M2729 5751h6M2728 5694h6M2731 5735h6M2697 5564h6M2703 5869h6M2721 5588h6M2752 5709h6M2662 5658h6M2707 5588h6M2736 5525h6M2744 5827h6M2759 5686h6M2748 5738h6M2686 5653h6M2768 5599h6M2746 5686h6M2723 5685h6M2751 5577h6M2717 5449h6M2750 5770h6M2716 5543h6M2754 5817h6M2720 5756h6M2768 5799h6M2703 5423h6M2759 5659h6M2700 5742h6M2732 5420h6M2725 5695h6M2704 5779h6M2762 5772h6M2754 5859h6M2717 5779h6M2709 5513h6M2723 5622h6M2723 5594h6M2760 5716h6M2734 5772h6M2749 5730h6M2734 5859h6M2737 5653h6M2738 5825h6M2719 5684h6M2724 5683h6M2718 5450h6M2698 5737h6M2718 5790h6M2730 5490h6M2742 5661h6M2727 5694h6M2718 5437h6M2755 5554h6M2730 5726h6M2740 5457h6M2716 5594h6M2717 5699h6M2683 5681h6M2739 5546h6M2738 5541h6M2709 5732h6M2749 5662h6M2702 5782h6M2754 5667h6M2735 5750h6M2717 5585h6M2690 5720h6M2730 5731h6M2758 5593h6M2740 5469h6M2712 5793h6M2728 5695h6M2713 5671h6M2729 5494h6M2724 5698h6M2680 5527h6M2733 5786h6M2728 5444h6M2764 5792h6M2724 5434h6M2724 5801h6M2692 5505h6M2716 5438h6M2736 5458h6M2759 5767h6M2709 5732h6M2714 5473h6M2757 5593h6M2712 5500h6M2728 5712h6M2727 5699h6M2767 5773h6M2722 5667h6M2770 5696h6M2736 5810h6M2732 5511h6M2758 5471h6M2693 5608h6M2737 5684h6M2725 5512h6M2704 5799h6M2754 5535h6M2734 5450h6M2743 5815h6M2715 5470h6M2738 5500h6M2685 5725h6M2733 5745h6M2716 5626h6M2689 5564h6M2731 5860h6M2727 5433h6M2709 5709h6M2695 5511h6M2755 5584h6M2718 5567h6M2700 5566h6M2701 5513h6M2716 5758h6M2729 5639h6M2746 5829h6M2728 5724h6M2723 5591h6M2745 5659h6M2695 5745h6M2736 5496h6M2728 5443h6M2727 5662h6M2735 5648h6M2727 5690h6M2745 5610h6M2749 5517h6M2753 5797h6M2730 5844h6M2703 5511h6M2706 5567h6M2760 5797h6M2691 5675h6M2719 5687h6M2728 5771h6M2743 5500h6M2716 5483h6M2704 5698h6M2692 5584h6M2770 5541h6M2714 5511h6M2706 5518h6M2751 5826h6M2727 5599h6M2735 5454h6M2722 5540h6M2731 5482h6M2762 5800h6M2694 5538h6M2739 5606h6M2722 5623h6M2751 5407h6M2728 5662h6M2761 5533h6M2718 5796h6M2728 5576h6M2779 5570h6M2720 5477h6M2707 5615h6M2712 5804h6M2736 5848h6M2707 5617h6M2725 5728h6M2728 5524h6M2730 5797h6M2756 5668h6M2727 5551h6M2672 5711h6M2729 5654h6M2724 5613h6M2743 5686h6M2717 5851h6M2742 5537h6M2724 5535h6M2737 5677h6M2688 5677h6M2723 5507h6M2718 5573h6M2724 5561h6M2710 5538h6M2726 5408h6M2743 5414h6M2739 5574h6M2725 5783h6M2793 5658h6M2677 5814h6M2739 5637h6M2716 5693h6M2768 5544h6M2713 5725h6M2715 5676h6M2726 5411h6M2733 5553h6M2761 5651h6M2694 5623h6M2709 5468h6M2733 5515h6M2731 5730h6M2701 5603h6M2736 5760h6M2734 5537h6M2742 5706h6M2701 5439h6M2746 5744h6M2745 5644h6M2742 5824h6M2722 5657h6M2757 5665h6M2704 5467h6M2759 5816h6M2771 5481h6M2735 5592h6M2716 5854h6M2728 5434h6M2739 5784h6M2705 5730h6M2741 5478h6M2732 5712h6M2710 5704h6M2766 5821h6M2758 5815h6M2742 5508h6M2724 5822h6M2751 5483h6M2709 5775h6M2721 5604h6M2726 5812h6M2690 5592h6M2720 5433h6M2718 5807h6M2768 5563h6M2759 5725h6M2740 5835h6M2746 5584h6M2722 5761h6M2752 5583h6M2717 5787h6M2735 5859h6M2733 5533h6M2723 5754h6M2727 5800h6M2740 5550h6M2738 5477h6M2771 5662h6M2732 5712h6M2755 5544h6M2747 5429h6M2749 5663h6M2734 5471h6M2775 5568h6M2685 5752h6M2752 5467h6M2706 5651h6M2759 5521h6M2739 5692h6M2724 5588h6M2714 5669h6M2743 5515h6M2749 5683h6M2756 5468h6M2726 5648h6M2741 5430h6M2722 5705h6M2776 5800h6M2717 5648h6M2704 5623h6M2721 5831h6M2720 5707h6M2728 5816h6M2789 5683h6M2731 5781h6M2719 5807h6M2712 5574h6M2719 5817h6M2716 5795h6M2738 5544h6M2682 5433h6M2748 5647h6M2706 5829h6M2742 5436h6M2720 5715h6M2721 5602h6M2750 5789h6M2739 5470h6M2711 5683h6M2737 5480h6M2763 5704h6M2681 5441h6M2721 5841h6M2734 5815h6M2750 5534h6M2762 5614h6M2699 5806h6M2730 5741h6M2704 5617h6M2729 5441h6M2695 5495h6M2728 5717h6M2767 5792h6M2715 5498h6M2754 5726h6M2746 5594h6M2730 5789h6M2685 5406h6M2747 5448h6M2719 5751h6M2746 5435h6M2721 5748h6M2733 5826h6M2724 5709h6M2745 5845h6M2713 5674h6M2731 5818h6M2727 5834h6M2747 5444h6M2768 5421h6M2710 5397h6M2763 5709h6M2758 5885h6M2745 5773h6M2733 5471h6M2750 5859h6M2712 5802h6M2718 5491h6M2745 5501h6M2742 5442h6M2728 5762h6M2721 5793h6M2676 5504h6M2711 5799h6M2707 5570h6M2722 5721h6M2711 5695h6M2733 5530h6M2711 5797h6M2731 5532h6M2690 5811h6M2725 5589h6M2716 5537h6M2683 5500h6M2760 5609h6M2732 5612h6M2761 5592h6M2698 5747h6M2716 5856h6M2748 5471h6M2708 5720h6M2753 5468h6M2747 5786h6M2719 5481h6M2711 5613h6M2699 5503h6M2736 5540h6M2749 5806h6M2729 5540h6M2708 5530h6M2727 5817h6M2745 5633h6M2715 5747h6M2758 5700h6M2808 5392h6M2737 5730h6M2691 5426h6M2729 5711h6M2745 5732h6M2708 5674h6M2699 5648h6M2710 5749h6M2687 5783h6M2692 5529h6M2744 5739h6M2710 5723h6M2732 5621h6M2759 5784h6M2774 5842h6M2695 5591h6M2735 5819h6M2704 5606h6M2718 5769h6M2754 5425h6M2689 5773h6M2768 5477h6M2757 5769h6M2713 5425h6M2771 5670h6M2741 5405h6M2734 5613h6M2740 5609h6M2696 5854h6M2739 5803h6M2762 5702h6M2758 5678h6M2754 5820h6M2715 5664h6M2735 5628h6M2751 5439h6M2747 5763h6M2750 5595h6M2712 5503h6M2722 5457h6M2718 5555h6M2732 5661h6M2730 5768h6M2724 5588h6M2707 5832h6M2761 5449h6M2729 5579h6M2736 5456h6M2751 5499h6M2716 5472h6M2712 5824h6M2704 5502h6M2734 5646h6M2751 5468h6M2734 5549h6M2742 5798h6M2686 5546h6M2737 5468h6M2705 5509h6M2730 5823h6M2725 5705h6M2729 5742h6M2694 5487h6M2750 5575h6M2776 5511h6M2733 5766h6M2721 5432h6M2749 5659h6M2757 5421h6M2718 5496h6M2708 5573h6M2702 5741h6M2739 5782h6M2672 5671h6M2743 5719h6M2712 5732h6M2771 5647h6M2776 5628h6M2714 5751h6M2707 5606h6M2705 5483h6M2696 5733h6M2735 5687h6M2708 5669h6M2742 5444h6M2738 5770h6M2744 5664h6M2757 5804h6M2716 5519h6M2761 5761h6M2739 5564h6M2742 5650h6M2761 5484h6M2733 5630h6M2757 5532h6M2750 5674h6M2689 5643h6M2740 5670h6M2723 5554h6M2716 5735h6M2761 5448h6M2731 5654h6M2750 5514h6M2720 5478h6M2737 5699h6M2722 5513h6M2740 5573h6M2711 5648h6M2731 5516h6M2715 5611h6M2720 5722h6M2729 5490h6M2741 5575h6M2729 5781h6M2713 5786h6M2697 5593h6M2765 5711h6M2758 5727h6M2756 5699h6M2767 5775h6M2721 5411h6M2732 5512h6M2749 5825h6M2726 5616h6M2752 5452h6M2719 5725h6M2728 5429h6M2703 5458h6M2771 5671h6M2766 5601h6M2753 5431h6M2722 5832h6M2698 5492h6M2738 5689h6M2701 5425h6M2740 5626h6M2746 5864h6M2702 5519h6M2748 5438h6M2779 5549h6M2764 5688h6M2667 5550h6M2670 5389h6M2757 5591h6M2747 5648h6M2751 5466h6M2709 5455h6M2730 5510h6M2774 5722h6M2767 5620h6M2745 5539h6M2716 5513h6M2721 5473h6M2708 5531h6M2750 5707h6M2744 5855h6M2754 5640h6M2752 5427h6M2743 5766h6M2704 5634h6M2746 5479h6M2771 5450h6M2741 5425h6M2702 5831h6M2732 5854h6M2714 5693h6M2715 5470h6M2693 5811h6M2732 5588h6M2790 5686h6M2742 5566h6M2755 5744h6M2769 5512h6M2703 5705h6M2695 5727h6M2718 5818h6M2731 5645h6M2715 5586h6M2715 5577h6M2745 5811h6M2741 5615h6M2717 5677h6M2696 5439h6M2774 5822h6M2784 5505h6M2681 5793h6M2705 5723h6M2689 5402h6M2749 5765h6M2734 5442h6M2770 5596h6M2747 5548h6M2732 5634h6M2739 5596h6M2701 5838h6M2738 5640h6M2738 5875h6M2754 5777h6M2766 5715h6M2712 5734h6M2723 5617h6M2745 5725h6M2743 5415h6M2749 5676h6M2751 5581h6M2709 5596h6M2713 5509h6M2736 5634h6M2761 5823h6M2748 5804h6M2728 5494h6M2740 5558h6M2744 5849h6M2706 5474h6M2738 5467h6M2740 5541h6M2734 5671h6M2732 5560h6M2727 5568h6M2719 5502h6M2746 5475h6M2740 5460h6M2744 5679h6M2778 5611h6M2746 5871h6M2766 5763h6M2716 5432h6M2761 5436h6M2745 5711h6M2737 5826h6M2721 5485h6M2738 5621h6M2718 5449h6M2760 5698h6M2707 5714h6M2763 5759h6M2708 5784h6M2739 5405h6M2762 5546h6M2725 5468h6M2756 5615h6M2712 5510h6M2730 5602h6M2716 5463h6M2773 5449h6M2733 5449h6M2724 5659h6M2724 5796h6M2734 5614h6M2685 5784h6M2758 5838h6M2732 5759h6M2708 5740h6M2715 5595h6M2688 5433h6M2729 5749h6M2698 5835h6M2750 5724h6M2749 5505h6M2736 5742h6M2732 5672h6M2745 5471h6M2757 5746h6M2749 5618h6M2734 5710h6M2761 5758h6M2702 5606h6M2753 5759h6M2742 5546h6M2718 5747h6M2704 5493h6M2715 5464h6M2702 5723h6M2713 5858h6M2747 5440h6M2693 5832h6M2739 5472h6M2752 5788h6M2716 5649h6M2773 5564h6M2738 5588h6M2705 5718h6M2766 5472h6M2733 5822h6M2690 5556h6M2742 5564h6M2739 5624h6M2742 5656h6M2750 5446h6M2747 5517h6M2719 5729h6M2707 5524h6M2720 5814h6M2736 5752h6M2707 5493h6M2705 5490h6M2737 5632h6M2695 5586h6M2751 5727h6M2710 5652h6M2726 5567h6M2723 5713h6M2729 5670h6M2737 5508h6M2720 5764h6M2718 5626h6M2705 5726h6M2738 5675h6M2730 5695h6M2733 5761h6M2674 5496h6M2765 5539h6M2771 5424h6M2697 5675h6M2737 5619h6M2709 5507h6M2713 5659h6M2740 5775h6M2758 5680h6M2729 5751h6M2755 5487h6M2726 5575h6M2745 5614h6M2719 5651h6M2751 5751h6M2717 5707h6M2734 5584h6M2728 5833h6M2712 5798h6M2735 5524h6M2778 5542h6M2746 5454h6M2720 5654h6M2755 5558h6M2741 5511h6M2711 5776h6M2743 5793h6M2712 5525h6M2725 5401h6M2731 5663h6M2735 5873h6M2746 5808h6M2707 5765h6M2706 5665h6M2749 5768h6M2758 5799h6M2723 5479h6M2734 5834h6M2706 5835h6M2732 5802h6M2701 5857h6M2768 5600h6M2754 5809h6M2754 5567h6M2707 5746h6M2725 5434h6M2718 5657h6M2742 5715h6M2755 5787h6M2707 5797h6M2748 5512h6M2710 5724h6M2734 5469h6M2750 5615h6M2742 5625h6M2701 5512h6M2727 5573h6M2748 5787h6M2747 5552h6M2721 5444h6M2723 5793h6M2685 5571h6M2733 5731h6M2719 5659h6M2734 5470h6M2732 5505h6M2742 5701h6M2728 5550h6M2732 5846h6M2721 5718h6M2730 5419h6M2739 5516h6M2662 5737h6M2730 5695h6M2740 5559h6M2741 5557h6M2728 5517h6M2746 5572h6M2732 5486h6M2700 5687h6M2753 5437h6M2696 5421h6M2756 5523h6M2772 5705h6M2775 5510h6M2718 5429h6M2755 5418h6M2743 5640h6M2758 5487h6M2714 5828h6M2659 5527h6M2736 5649h6M2745 5476h6M2744 5708h6M2747 5724h6"/>
<path transform="scale(.1)" fill="none" stroke="#858585" stroke-width="6" d="M2693 5724h6M2718 5869h6M2717 5690h6M2729 5484h6M2720 5581h6M2736 5812h6M2760 5682h6M2740 5489h6M2747 5848h6M2735 5637h6M2752 5570h6M2758 5487h6M2724 5440h6M2731 5721h6M2687 5602h6M2781 5622h6M2767 5551h6M2742 5451h6M2662 5740h6M2712 5619h6M2681 5741h6M2758 5834h6M2768 5599h6M2751 5557h6M2713 5498h6M2697 5820h6M2729 5420h6M2783 5815h6M2758 5770h6M2754 5520h6M2788 5708h6M2683 5744h6M2722 5472h6M2753 5798h6M2728 5523h6M2732 5443h6M2759 5718h6M2740 5417h6M2735 5709h6M2714 5792h6M2691 5635h6M2739 5407h6M2749 5555h6M2770 5761h6M2791 5694h6M2730 5726h6M2775 5610h6M2779 5836h6M2692 5533h6M2730 5633h6M2753 5668h6M2780 5738h6M2661 5706h6M2730 5498h6M2688 5565h6M2762 5736h6M2727 5485h6M2756 5533h6M2811 5467h6M2725 5460h6M2704 5446h6M2805 5557h6M2727 5459h6M2642 5762h6M2703 5578h6M2691 5913h6M2722 5480h6M2741 5648h6M2729 5834h6M2747 5827h6M2726 5566h6M2761 5783h6M2776 5823h6M2821 5482h6M2658 5677h6M2663 5412h6M2669 5455h6M2754 5557h6M2732 5410h6M2771 5675h6M2680 5721h6M2780 5618h6M2714 5487h6M2756 5736h6M2767 5774h6M2750 5685h6M2724 5442h6M2785 5458h6M2698 5702h6M2722 5762h6M2701 5545h6M2734 5622h6M2680 5667h6M2786 5834h6M2747 5772h6M2757 5737h6M2745 5717h6M2717 5667h6M2817 5539h6M2730 5793h6M2748 5549h6M2749 5658h6M2720 5677h6M2680 5453h6M2786 5781h6M2719 5651h6M2727 5744h6M2766 5715h6M2659 5449h6M2714 5553h6M2706 5798h6M2722 5839h6M2761 5656h6M2719 5554h6M2762 5668h6M2812 5787h6M2762 5788h6M2628 5693h6M2728 5396h6M2732 5596h6M2718 5818h6M2767 5509h6M2762 5471h6M2683 5786h6M2706 5481h6M2792 5512h6M2771 5758h6M2660 5469h6M2707 5787h6M2694 5467h6M2713 5778h6M2694 5833h6M2730 5605h6M2742 5824h6M2748 5704h6M2770 5527h6M2712 5832h6M2711 5715h6M2763 5450h6M2706 5525h6M2677 5566h6M2697 5811h6M2783 5783h6M2706 5683h6M2721 5816h6M2662 5741h6M2733 5800h6M2755 5810h6M2752 5762h6M2770 5559h6M2726 5759h6M2704 5714h6M2748 5446h6M2718 5589h6M2747 5496h6M2697 5627h6M2754 5456h6M2776 5511h6M2709 5669h6M2721 5660h6M2726 5543h6M2760 5713h6M2705 5562h6M2675 5518h6M2736 5716h6M2710 5402h6M2703 5543h6M2732 5546h6M2767 5579h6M2716 5537h6M2801 5764h6M2727 5436h6M2731 5627h6M2751 5617h6M2755 5504h6M2696 5824h6M2702 5784h6M2761 5847h6M2657 5591h6M2752 5737h6M2764 5750h6M2729 5696h6M2725 5612h6M2746 5832h6M2784 5710h6M2735 5787h6M2690 5684h6M2752 5621h6M2716 5717h6M2733 5513h6M2755 5505h6M2722 5772h6M2715 5418h6M2724 5522h6M2774 5433h6M2810 5656h6M2744 5690h6M2705 5455h6M2755 5551h6M2709 5670h6M2754 5711h6M2704 5463h6M2725 5790h6M2688 5603h6M2717 5802h6M2785 5394h6M2739 5867h6M2780 5532h6M2706 5717h6M2709 5554h6M2744 5734h6M2692 5749h6M2744 5679h6M2835 5848h6M2774 5808h6M2744 5771h6M2733 5761h6M2776 5456h6M2820 5641h6M2667 5856h6M2750 5724h6M2679 5737h6M2672 5627h6M2737 5439h6M2760 5612h6M2758 5789h6M2742 5626h6M2685 5473h6M2725 5814h6M2762 5482h6M2710 5716h6M2753 5696h6M2749 5505h6M2756 5626h6M2734 5532h6M2716 5451h6M2742 5767h6M2763 5759h6M2703 5640h6M2778 5650h6M2745 5618h6M2703 5656h6M2783 5650h6M2680 5871h6M2731 5773h6M2791 5608h6M2750 5800h6M2700 5530h6M2671 5658h6M2758 5458h6M2748 5702h6M2701 5473h6M2756 5736h6M2754 5781h6M2696 5783h6M2729 5658h6M2818 5789h6M2738 5538h6M2703 5573h6M2715 5784h6M2815 5764h6M2778 5568h6M2674 5711h6M2728 5423h6M2691 5696h6M2685 5507h6M2835 5375h6M2742 5590h6M2676 5648h6M2768 5452h6M2757 5860h6M2728 5473h6M2775 5834h6M2693 5489h6M2794 5462h6M2765 5518h6M2713 5469h6M2678 5741h6M2750 5685h6M2739 5454h6M2754 5667h6M2772 5519h6M2755 5799h6M2794 5526h6M2716 5574h6M2730 5873h6M2694 5575h6M2807 5467h6M2711 5660h6M2746 5678h6M2782 5679h6M2767 5491h6M2770 5716h6M2723 5823h6M2767 5861h6M2770 5479h6M2724 5732h6M2735 5830h6M2786 5628h6"/>
<path transform="scale(.1)" fill="none" stroke="#3350a8" stroke-width="6" d="M3033 5718h6M2961 5470h6M2882 5690h6M3107 5571h6M3133 5527h6M2946 5814h6M2901 5616h6M2938 5712h6M3005 5446h6M3144 5793h6M2976 5476h6M3033 5692h6M2892 5817h6M2965 5700h6M3072 5619h6M3138 5783h6M3095 5593h6M3124 5639h6M2905 5657h6M2941 5792h6M3101 5598h6M2996 5414h6M2995 5749h6M3176 5677h6M3119 5628h6M2913 5696h6M3108 5518h6M3025 5700h6M3100 5437h6M2906 5597h6M2866 5763h6M3074 5704h6M3151 5764h6M2927 5815h6M3076 5593h6M3079 5519h6M3177 5499h6M3037 5704h6M2890 5446h6M3040 5508h6M3130 5411h6M3052 5437h6M2963 5737h6M3054 5565h6M3111 5776h6M2949 5509h6M2886 5827h6M3042 5385h6M3058 5629h6M3050 5608h6M2948 5373h6M2902 5789h6M3043 5645h6M3099 5699h6M3091 5739h6M2886 5791h6M3030 5621h6M2960 5592h6M2963 5624h6M3009 5609h6M3093 5803h6M3024 5446h6M2977 5690h6M3082 5567h6M2863 5766h6M3121 5799h6M3019 5470h6M2937 5458h6M3033 5517h6M3142 5791h6M3079 5682h6M3109 5452h6M2974 5768h6M3104 5454h6M2926 5744h6M2929 5431h6M2940 5667h6M2984 5620h6M3009 5646h6M2906 5662h6M3116 5644h6M3030 5474h6M2924 5705h6M3042 5681h6M2967 5409h6M3079 5594h6M3076 5708h6M3116 5498h6M2945 5464h6M2982 5670h6M3026 5666h6M2905 5713h6M3018 5634h6M2924 5665h6M2990 5626h6M3014 5579h6M2872 5843h6M2882 5487h6M2969 5563h6M2956 5437h6M3028 5835h6M3094 5765h6M2976 5655h6M3038 5576h6M3031 5617h6M3014 5791h6M2948 5689h6M3070 5432h6M3020 5598h6M3062 5731h6M3095 5687h6M2954 5712h6M3003 5465h6M3093 5762h6M3106 5720h6M3076 5674h6M2968 5477h6M3167 5591h6M3037 5641h6M3027 5652h6M3094 5802h6M3032 5793h6M2986 5597h6M2954 5750h6M3020 5511h6M3016 5508h6M3037 5664h6M3100 5496h6M3064 5818h6M2917 5689h6M2888 5419h6M3137 5621h6M2959 5731h6M3087 5669h6M2935 5529h6M2982 5644h6M3010 5499h6M2889 5847h6M2944 5526h6M3052 5655h6M2893 5627h6M2971 5667h6M2939 5793h6M2943 5527h6M3001 5459h6M3090 5482h6M3060 5530h6M2932 5366h6M3101 5479h6M2983 5561h6M3110 5768h6M2963 5487h6M3082 5496h6M3094 5403h6M2989 5810h6M2975 5772h6M3041 5700h6M2977 5502h6M3032 5630h6M2909 5609h6M3025 5501h6M3126 5616h6M3155 5799h6M2875 5611h6M3144 5467h6M2953 5639h6M2967 5853h6M2994 5484h6M3083 5791h6M2909 5577h6M3101 5733h6M3105 5748h6M3129 5481h6M3077 5556h6M3090 5711h6M3056 5708h6M2903 5676h6M2964 5614h6M3004 5560h6M3007 5741h6M2943 5492h6M2990 5443h6M3029 5781h6M3117 5414h6M3009 5431h6M2905 5532h6M3034 5685h6M3107 5813h6M3072 5531h6M2923 5573h6M2999 5717h6M2924 5638h6M3168 5714h6M3017 5453h6M3101 5558h6M2995 5461h6M2963 5734h6M3067 5482h6M2959 5718h6M3124 5358h6M3106 5589h6M3075 5833h6M3081 5699h6M2921 5554h6M3051 5740h6M3007 5542h6M2950 5403h6M3088 5597h6M3005 5515h6M3144 5658h6M3059 5795h6M3048 5570h6M3094 5726h6M2984 5636h6M3138 5668h6M2963 5466h6M3065 5630h6M2970 5527h6M3078 5402h6M2950 5601h6M3029 5681h6M3032 5521h6M2915 5751h6M3011 5561h6M2933 5794h6M2889 5682h6M2996 5432h6M2965 5489h6M3148 5563h6M3050 5734h6M3152 5514h6M3052 5572h6M3008 5631h6M2984 5766h6M3109 5425h6M2929 5517h6M2878 5782h6M3116 5669h6M3028 5548h6M2999 5566h6M3086 5770h6M3142 5751h6M2989 5536h6M3088 5445h6M2942 5613h6M3020 5556h6M2994 5761h6M3043 5412h6M3142 5535h6M3091 5638h6M3006 5657h6M3064 5462h6M2982 5455h6M3050 5589h6M2974 5679h6M2924 5698h6M3032 5606h6M3071 5833h6M3089 5447h6M2903 5720h6M2973 5789h6M3008 5543h6M3004 5509h6M3003 5634h6M2874 5458h6M3164 5726h6M2975 5563h6M2960 5696h6M2965 5438h6M2916 5850h6M2972 5564h6M3037 5742h6M2924 5690h6M3130 5561h6M3015 5772h6M2942 5470h6M3028 5688h6M2895 5797h6M2993 5533h6M2955 5677h6M2892 5518h6M2912 5533h6M3148 5567h6M2952 5646h6M3071 5519h6M2978 5677h6M2969 5610h6M3060 5474h6M2946 5469h6M3007 5833h6M3001 5684h6M2945 5552h6M3059 5586h6M3120 5595h6M3048 5495h6M3055 5472h6M2935 5475h6M3045 5594h6M2951 5725h6M3107 5503h6M2962 5493h6M3063 5698h6M2929 5692h6M2927 5806h6M2960 5523h6M3022 5592h6M3026 5549h6M2935 5742h6M2942 5785h6M3106 5539h6M3028 5622h6M3138 5539h6M2960 5732h6M3032 5735h6M2921 5806h6M3080 5488h6M2933 5495h6M3014 5552h6M2977 5624h6M2974 5532h6M3088 5641h6M3076 5586h6M2980 5800h6M3090 5754h6M2889 5696h6M2954 5783h6M3115 5416h6M3098 5621h6M2909 5621h6M3130 5436h6M2872 5492h6M3061 5460h6M2985 5424h6M2986 5633h6M3010 5529h6M3053 5750h6M3030 5544h6M3006 5733h6M2897 5785h6M2945 5525h6M2974 5449h6M3032 5848h6M2993 5651h6M2990 5719h6M3059 5681h6M3010 5450h6M2898 5649h6M2986 5710h6M3100 5521h6M3076 5790h6M2964 5730h6M3044 5752h6M3122 5480h6M2949 5777h6M2965 5749h6M3112 5479h6M3082 5740h6M3075 5781h6M2989 5721h6M3004 5466h6M3029 5575h6M2911 5536h6M3188 5500h6M3069 5619h6M2935 5697h6M2886 5670h6M3055 5776h6M3162 5578h6M3178 5711h6M2999 5534h6M3024 5664h6M2921 5670h6M2871 5643h6M2928 5821h6M2962 5816h6M3110 5457h6M3062 5673h6M2939 5799h6M2939 5760h6M3123 5494h6M3116 5495h6M2881 5766h6M3153 5669h6M3032 5559h6M2978 5577h6M2998 5583h6M2978 5419h6M3072 5664h6M2937 5621h6M2944 5611h6M3052 5820h6M3072 5483h6M3102 5524h6M2975 5726h6M2996 5632h6M3044 5595h6M2954 5661h6M3077 5567h6M2946 5463h6M3040 5539h6M2912 5492h6M2929 5582h6M3111 5588h6M3049 5659h6M3060 5403h6M2933 5537h6M3063 5763h6M2990 5786h6M2996 5532h6M3088 5823h6M3014 5692h6M2944 5781h6M3098 5423h6M3025 5761h6M3031 5826h6M3045 5745h6M3066 5760h6M3042 5795h6M3055 5717h6M2960 5666h6M3052 5471h6M3108 5531h6M3115 5403h6M3096 5629h6M2907 5480h6M2959 5659h6M2968 5449h6M2945 5497h6M2879 5772h6M3071 5679h6M2966 5427h6M2931 5541h6M3099 5506h6M3098 5593h6M2911 5428h6M2881 5752h6M3127 5575h6M3050 5514h6M2972 5879h6M3005 5582h6M3002 5753h6M3070 5709h6M2939 5456h6M3029 5498h6M3119 5499h6M2921 5731h6M3130 5454h6M2967 5799h6M2986 5498h6M2992 5737h6M3067 5745h6M3147 5749h6M3110 5520h6M3010 5743h6M3006 5419h6M3024 5455h6M2988 5749h6M3032 5423h6M2875 5823h6M2967 5469h6M2877 5596h6M2920 5590h6M3019 5471h6M3058 5532h6M3018 5840h6M2987 5613h6M3060 5417h6M3034 5580h6M3039 5685h6M2886 5554h6M3051 5818h6M3037 5695h6M3169 5660h6M3000 5627h6M3033 5560h6M2986 5758h6M3030 5540h6M3042 5397h6M2909 5478h6M2999 5535h6M3028 5596h6M3101 5585h6M3021 5648h6M3054 5452h6M3075 5820h6M3135 5496h6M3003 5411h6M2977 5550h6M2920 5476h6M2978 5683h6M2999 5789h6M3069 5587h6M2879 5643h6M2961 5406h6M2885 5504h6M3141 5515h6M3130 5434h6M2853 5490h6M2959 5565h6M3121 5777h6M3037 5817h6M3044 5496h6M3070 5466h6M3087 5765h6M2895 5563h6M3040 5665h6M3020 5523h6M3010 5694h6M3109 5741h6M3035 5501h6M2903 5683h6M2988 5612h6M3119 5699h6M3090 5730h6M2936 5443h6M2914 5740h6M3035 5783h6M3121 5493h6M3028 5892h6M2972 5562h6M3036 5551h6M3015 5514h6M3085 5652h6M2914 5492h6M2920 5441h6M3136 5641h6M3159 5575h6M3028 5534h6M2932 5678h6M2996 5490h6M3047 5760h6M2893 5774h6M2918 5453h6M2988 5768h6M3080 5775h6M3054 5617h6M3070 5729h6M3128 5473h6M2992 5376h6M3061 5733h6M3078 5544h6M3122 5458h6M2905 5705h6M2964 5581h6M3093 5551h6M3002 5426h6M2972 5820h6M3120 5618h6M3011 5471h6M3110 5554h6M3026 5667h6M3100 5748h6M3068 5742h6M2996 5511h6M3071 5649h6M3121 5492h6M3086 5657h6M3047 5588h6M2980 5672h6M3126 5794h6M2942 5538h6M3043 5644h6M3091 5480h6M2922 5614h6M3123 5600h6M3016 5540h6M3047 5765h6M2956 5482h6M2922 5516h6M3171 5508h6M2913 5627h6M3058 5685h6M3057 5772h6M2963 5703h6M2974 5765h6M2981 5599h6M3038 5765h6M3152 5625h6M3045 5850h6M3057 5512h6M2961 5725h6M3115 5537h6M3144 5529h6M3013 5656h6M2966 5762h6M2909 5451h6M2852 5453h6M3059 5616h6M3072 5645h6M3123 5637h6M2936 5791h6M2911 5828h6M3108 5607h6M3032 5826h6M2977 5829h6M3154 5549h6M2963 5604h6M3055 5524h6M2940 5741h6M2939 5624h6M3049 5592h6M3097 5517h6M3081 5664h6M3030 5429h6M3127 5835h6M2977 5842h6M2942 5647h6M3002 5694h6M3139 5522h6M3130 5827h6M3045 5637h6M3031 5448h6M3086 5538h6M2979 5688h6M2999 5670h6M3122 5667h6M2909 5658h6M3065 5595h6M2995 5776h6M2995 5794h6M3001 5473h6M2954 5591h6M3076 5454h6M3043 5777h6M3070 5441h6M2893 5684h6M3096 5732h6M3031 5614h6M3132 5452h6M2993 5704h6M3040 5493h6M2999 5400h6M2922 5547h6M3074 5501h6M3098 5650h6M2904 5596h6M3165 5810h6M2949 5547h6M3081 5566h6M3113 5736h6M3165 5725h6M2978 5647h6M2925 5457h6M2936 5814h6M2904 5568h6M3075 5561h6M2996 5605h6M2906 5597h6M3056 5642h6M3122 5450h6M2894 5590h6M3067 5441h6M3022 5496h6M3017 5539h6M3129 5707h6M3138 5498h6M2973 5569h6M2934 5389h6M3029 5536h6M2896 5828h6M2982 5659h6M2898 5672h6M3101 5590h6M2978 5448h6M2955 5665h6M3073 5709h6M3018 5638h6M3086 5510h6M3017 5768h6M3030 5750h6M3090 5439h6M3054 5451h6M2973 5742h6M3142 5526h6M2871 5845h6M3095 5782h6M2907 5589h6M3064 5731h6M3140 5478h6M3045 5461h6M3016 5488h6M2949 5799h6M3016 5769h6M3155 5847h6M2937 5609h6M3178 5700h6M3184 5777h6M2959 5810h6M3151 5769h6M2886 5641h6M2904 5657h6M3031 5396h6M3012 5625h6M3092 5778h6M3138 5862h6M2921 5585h6M3115 5642h6M2983 5666h6M3046 5688h6M3046 5744h6M2957 5507h6M3124 5856h6M2912 5754h6M2936 5680h6M3102 5724h6M2971 5640h6M3006 5490h6M2924 5569h6M3132 5390h6M3011 5575h6M2937 5574h6M2940 5568h6M2928 5856h6M2969 5704h6M3087 5354h6M2955 5478h6M2983 5525h6M2912 5488h6M2943 5519h6M2959 5597h6M2904 5811h6M3041 5451h6M2919 5428h6M3005 5433h6M2959 5572h6M3107 5422h6M3123 5475h6M2995 5457h6M3034 5652h6M3126 5474h6M2890 5455h6M2933 5522h6M2890 5756h6M3025 5640h6M3134 5668h6M2977 5726h6M3030 5592h6M3162 5835h6M3095 5571h6M3061 5537h6M2925 5579h6M3099 5715h6M2921 5646h6M2900 5572h6M3097 5732h6M3210 5451h6M3018 5680h6M3126 5814h6M3132 5900h6M3164 5542h6M3099 5629h6M3096 5871h6M2928 5581h6M2958 5804h6M2934 5584h6M3048 5683h6M3050 5443h6M3111 5430h6M2929 5539h6M3128 5670h6M2989 5713h6M3156 5541h6M2956 5828h6M3057 5590h6M3066 5577h6M3027 5581h6M3097 5400h6M3043 5426h6M2993 5485h6M2925 5799h6M2927 5849h6M3095 5440h6M2876 5485h6M2999 5805h6M3013 5583h6M3019 5405h6M3025 5500h6M3009 5466h6M2986 5577h6M3083 5742h6M3114 5777h6M3067 5641h6M2881 5599h6M2895 5731h6M3135 5663h6M3053 5653h6M2878 5752h6M2912 5464h6M2957 5568h6M2899 5761h6M2995 5456h6M3010 5556h6M3100 5588h6M2924 5451h6M2923 5771h6M2926 5456h6M3074 5732h6M3078 5447h6M3139 5486h6M3016 5768h6M2908 5431h6M3057 5618h6M2928 5832h6M3028 5814h6M3089 5791h6M2884 5465h6M2898 5372h6M3172 5600h6M3058 5441h6M3118 5510h6M3073 5636h6M3036 5471h6M3108 5706h6M2975 5666h6M3114 5513h6M3095 5474h6M2950 5601h6M2886 5644h6M3113 5671h6M2959 5738h6M3143 5522h6M2994 5503h6M3066 5692h6M3099 5591h6M2900 5464h6M3111 5436h6M3137 5546h6M2975 5838h6M3026 5437h6M3065 5511h6M3084 5776h6M2880 5731h6M2934 5662h6M3009 5748h6M3168 5867h6M2955 5685h6M3171 5614h6M2917 5644h6M2894 5701h6M2980 5655h6M2924 5718h6M3068 5686h6M3101 5685h6M2990 5819h6M3100 5802h6M2867 5500h6M2882 5505h6M3005 5700h6M2930 5741h6M2971 5428h6M2890 5650h6M2953 5783h6M2937 5679h6M3107 5678h6M2997 5691h6M2992 5687h6M2993 5734h6M3047 5698h6M2948 5778h6M2922 5724h6M2902 5604h6M2920 5771h6M2902 5822h6M3115 5575h6M2894 5682h6M3124 5650h6M3114 5821h6M3088 5672h6M3029 5616h6M2912 5684h6M3079 5528h6M2994 5634h6M3101 5407h6M3001 5491h6M2978 5801h6M2960 5836h6M2884 5657h6M3137 5434h6M2917 5637h6M2920 5814h6M2984 5744h6M3065 5645h6M3130 5725h6M3135 5536h6M2942 5610h6M3012 5675h6M3023 5429h6M3109 5651h6M3024 5631h6M3105 5442h6M3139 5651h6M3041 5486h6M2968 5493h6M3143 5487h6M3062 5741h6M3172 5736h6M3149 5648h6M3001 5590h6M3075 5552h6M2873 5552h6M3061 5587h6M3118 5703h6M3053 5550h6M2982 5688h6M2987 5478h6M3010 5629h6M2834 5437h6M2894 5445h6M3015 5788h6M2939 5682h6M3065 5457h6M2986 5584h6M2994 5518h6M3130 5792h6M2915 5552h6M2914 5558h6M2930 5770h6M3149 5566h6M3010 5561h6M3071 5686h6M2949 5705h6M3026 5638h6M3109 5569h6M3062 5813h6M2934 5646h6M3124 5621h6M2916 5550h6M2915 5740h6M2868 5662h6M3014 5623h6M3123 5606h6M3105 5778h6M2898 5769h6M3039 5614h6M3130 5820h6M2949 5667h6M2950 5678h6M3162 5686h6M3033 5379h6M3042 5609h6M3107 5789h6M2864 5768h6M3000 5721h6M2924 5694h6M2922 5670h6M3022 5731h6M2932 5484h6M2970 5615h6M2993 5648h6M2908 5765h6M2937 5594h6M3168 5749h6M3105 5644h6M3016 5451h6M3124 5829h6M2965 5847h6M3100 5810h6M2988 5404h6M3011 5777h6M3143 5810h6M2928 5400h6M2871 5626h6M3037 5626h6M3162 5474h6M3100 5622h6M2909 5673h6M3042 5711h6M3109 5604h6M3107 5831h6M2996 5660h6M3058 5497h6M3025 5763h6M3108 5499h6M3026 5568h6M2923 5464h6M2901 5559h6M2843 5596h6M2958 5501h6M3043 5472h6M2944 5663h6M2987 5516h6M2876 5826h6M2939 5777h6M3077 5578h6M3199 5466h6M3131 5607h6M3051 5484h6M2946 5810h6M2944 5519h6M3093 5777h6M2986 5676h6M3119 5773h6M2896 5722h6M2933 5687h6M3051 5710h6M2938 5679h6M2897 5596h6M3059 5713h6M2957 5410h6M2944 5635h6M2896 5646h6M3075 5591h6M2906 5583h6M2946 5792h6M3013 5837h6M3010 5697h6M3015 5531h6M3094 5516h6M3083 5781h6M2900 5603h6M2984 5836h6M3142 5558h6M3087 5546h6M3050 5737h6M2906 5588h6M3106 5833h6M3065 5616h6M2895 5509h6M3131 5693h6M2965 5558h6M2900 5501h6M2990 5720h6M2997 5672h6M3078 5742h6M2961 5632h6M2946 5754h6M3100 5587h6M2949 5649h6M3012 5700h6M2948 5509h6M2945 5567h6M2901 5469h6M3139 5825h6M2999 5623h6M3109 5747h6M2982 5458h6M3143 5798h6M3129 5681h6M2953 5416h6M3068 5461h6M3092 5738h6M3009 5514h6M3100 5442h6M2886 5624h6M3102 5614h6M3113 5495h6M3126 5844h6M2962 5883h6M3112 5652h6M2935 5441h6M3055 5774h6M2915 5666h6M3024 5440h6M3157 5463h6M3048 5590h6M2964 5652h6M2930 5548h6M3115 5607h6M2988 5560h6M3020 5441h6M3116 5847h6M2935 5475h6M3084 5573h6M3068 5481h6M2956 5612h6M2994 5805h6M2951 5764h6M2863 5516h6M3106 5571h6M3014 5504h6M3013 5780h6M3058 5787h6M2970 5745h6M3070 5522h6M3016 5829h6M3121 5457h6M2944 5651h6M2950 5506h6M2978 5610h6M2975 5771h6M2888 5827h6M3071 5588h6M2958 5622h6M3064 5547h6M2930 5724h6M2901 5522h6M3037 5661h6M3042 5788h6M3048 5585h6M3066 5473h6M3040 5636h6M3000 5695h6M3136 5601h6M2982 5825h6M2938 5709h6M3119 5401h6M3063 5717h6M2976 5705h6M3073 5817h6M2988 5749h6M2872 5698h6M2972 5470h6M3039 5505h6M2998 5667h6M2852 5651h6M2918 5420h6M3001 5599h6M2896 5660h6M3041 5515h6M3071 5632h6M2963 5750h6M3177 5502h6M2996 5698h6M3036 5501h6M3072 5800h6M3031 5806h6M2964 5407h6M3008 5673h6M3084 5715h6M2944 5435h6M3131 5578h6M2999 5554h6M2957 5832h6M3017 5439h6M3036 5560h6M3062 5526h6M2986 5501h6M3114 5758h6M2999 5460h6M3136 5518h6M3061 5514h6M3145 5779h6M2885 5545h6M2978 5755h6M2958 5793h6M2922 5805h6M3064 5685h6M2904 5777h6M2850 5647h6M3024 5444h6M2898 5489h6M3094 5612h6M3018 5646h6M3135 5408h6M3039 5749h6M3033 5653h6M2847 5715h6M3124 5645h6M2993 5645h6M3174 5393h6M2973 5543h6M2961 5509h6M3064 5458h6M2905 5470h6M2885 5648h6M3009 5787h6M3014 5542h6M3085 5465h6M3034 5755h6M2948 5610h6M3071 5636h6M3098 5481h6M3063 5683h6M3046 5608h6M2871 5677h6M3047 5769h6M3069 5483h6M3007 5684h6M2925 5665h6M3082 5758h6M3106 5513h6M2962 5576h6M2969 5626h6M3042 5753h6M3065 5615h6M2944 5713h6M3098 5680h6M3135 5804h6M2942 5766h6M2958 5680h6M3015 5636h6M3091 5663h6M3122 5490h6M3007 5766h6M3135 5561h6M2896 5583h6M2924 5579h6M3088 5435h6M3114 5730h6M2945 5637h6M3027 5579h6M3040 5759h6M3101 5435h6M3073 5515h6M3039 5689h6M3002 5516h6M2964 5672h6M3005 5761h6M2972 5569h6M2930 5767h6M3141 5390h6M2959 5847h6M2963 5679h6M3060 5664h6M3047 5675h6M3108 5581h6M3011 5436h6M3126 5504h6M3106 5671h6M3148 5634h6M2988 5689h6M3155 5604h6M3114 5514h6M3075 5662h6M2960 5524h6M3037 5583h6M2988 5625h6M3133 5420h6M2888 5645h6M2995 5629h6M2982 5615h6M3112 5452h6M3103 5557h6M2953 5514h6M2916 5480h6M2972 5479h6M3019 5430h6M3010 5743h6M3139 5658h6M3049 5758h6M3024 5571h6M3070 5605h6M3095 5430h6M3067 5532h6M2904 5474h6M3056 5719h6M3064 5699h6M3091 5815h6M2959 5416h6M3138 5599h6M3053 5704h6M2989 5455h6M3095 5808h6M2938 5546h6M3041 5810h6M2947 5502h6M2995 5689h6M3136 5670h6M2950 5445h6M3172 5579h6M3106 5732h6M2895 5605h6M2892 5778h6M2868 5747h6M3100 5422h6M3112 5737h6M3121 5716h6M3097 5766h6M3140 5700h6M2970 5533h6M3017 5494h6M3005 5776h6M2956 5754h6M2953 5601h6M3015 5744h6M3147 5379h6M3010 5757h6M3144 5593h6M3016 5657h6M3127 5855h6M3026 5796h6M2898 5541h6M3129 5752h6M2949 5555h6M3094 5715h6M2945 5618h6M2988 5666h6M3035 5656h6M3008 5717h6M2989 5596h6M3003 5841h6M3017 5467h6M3134 5496h6M3045 5761h6M3140 5661h6M3068 5820h6M3169 5692h6M3126 5472h6M3123 5646h6M2925 5466h6M3067 5749h6M3057 5810h6M3122 5380h6M3118 5582h6M2886 5531h6M3064 5633h6M2881 5583h6M2900 5792h6M2993 5552h6M2898 5472h6M2957 5828h6M3024 5523h6M3058 5722h6M2924 5622h6M3034 5718h6M3058 5593h6M2907 5759h6M2995 5461h6M2926 5812h6M2911 5507h6M2900 5846h6M2873 5453h6M2971 5698h6M2967 5558h6M3040 5469h6M3023 5715h6M3029 5677h6M3073 5717h6M2896 5589h6M2946 5713h6M2934 5621h6M2907 5563h6M3011 5627h6M3130 5759h6M3088 5742h6M3117 5482h6M2839 5766h6M3077 5620h6M2891 5678h6M3101 5606h6M2911 5539h6M2948 5792h6M3050 5826h6M2928 5652h6M2921 5460h6M2881 5416h6M3116 5681h6M2922 5757h6M3078 5410h6M3084 5596h6M3062 5696h6M2925 5782h6M3054 5751h6M3056 5706h6M2987 5462h6M2960 5804h6M3146 5582h6M2975 5603h6M2958 5644h6M2901 5580h6M2958 5754h6M2970 5393h6M2966 5397h6M3006 5564h6M2922 5696h6M3045 5418h6M3106 5608h6M2887 5598h6M3027 5777h6M3091 5758h6M2948 5482h6M2930 5832h6M3072 5774h6M2914 5465h6M2948 5728h6M2945 5619h6M3033 5633h6M3063 5548h6M2964 5568h6M3073 5610h6M3023 5870h6M3010 5836h6M3118 5559h6M2912 5588h6M2929 5749h6M3069 5534h6M2919 5638h6M2951 5708h6M2952 5441h6M2956 5733h6M3053 5510h6M3020 5640h6M2927 5507h6M2913 5630h6M2980 5553h6M2934 5592h6M3143 5641h6M3081 5796h6M3098 5542h6M3151 5787h6M3088 5807h6M3053 5783h6M2911 5531h6M3076 5628h6M3103 5636h6M2937 5710h6M2861 5651h6M2921 5467h6M3050 5570h6M3008 5448h6M3026 5571h6M3086 5775h6M3124 5689h6M3090 5439h6M2989 5477h6M3040 5699h6M2928 5569h6M3055 5684h6M3091 5672h6M3107 5713h6M3071 5492h6M3152 5668h6M3070 5480h6M3084 5613h6M2920 5532h6M3052 5480h6M3059 5566h6M2960 5385h6M2939 5790h6M3113 5598h6M3009 5782h6M2931 5513h6M3131 5562h6M2997 5844h6M2996 5536h6M2987 5591h6M2996 5623h6M2967 5458h6M3102 5655h6M3154 5584h6M3092 5561h6M2987 5741h6M3053 5448h6M3089 5868h6M3076 5570h6M2990 5799h6M3039 5661h6M3079 5706h6M3029 5690h6M2894 5710h6M3121 5745h6M2955 5525h6M3006 5765h6M3085 5457h6M3013 5465h6M2979 5470h6M3045 5653h6M2926 5800h6M2970 5505h6M3054 5793h6M3111 5515h6M2980 5600h6M3132 5552h6M2985 5717h6M3044 5689h6M3113 5558h6M3107 5634h6M3100 5568h6M3068 5563h6M2903 5498h6M3048 5457h6M2915 5388h6M3105 5448h6M3001 5383h6M2949 5524h6M3146 5439h6M3007 5734h6M3073 5736h6M2921 5817h6M3050 5709h6M3036 5669h6M3054 5797h6M3043 5792h6M2976 5728h6M2969 5409h6M2994 5702h6M3114 5604h6M3071 5526h6M2958 5750h6M3026 5696h6M3059 5692h6M2971 5782h6M3033 5586h6M3079 5719h6M3077 5422h6M2968 5479h6M3067 5500h6M2926 5509h6M2927 5457h6M3008 5797h6M2941 5690h6M2969 5604h6M2907 5470h6M2956 5766h6M3057 5727h6M3050 5573h6M3142 5529h6M3018 5786h6M3127 5803h6M2981 5449h6"/>
<path transform="scale(.1)" fill="none" stroke="#3350a8" stroke-width="6" d="M3094 5831h6M3118 5721h6M3136 5796h6M3096 5799h6M3074 5846h6M3131 5738h6M3153 5737h6M3109 5727h6M3080 5779h6M3113 5683h6M3100 5784h6M3044 5747h6M3021 5738h6M3085 5854h6M3095 5830h6M3074 5844h6M3066 5736h6M3061 5775h6M3166 5702h6M3071 5835h6M3188 5781h6M3135 5867h6M3112 5826h6M3085 5845h6M3103 5778h6M3131 5802h6M3107 5706h6M3089 5738h6M3098 5828h6M3107 5742h6M3104 5765h6M3103 5814h6M3093 5752h6M3164 5722h6M3020 5803h6M3156 5766h6M3085 5693h6M3119 5859h6M3059 5810h6M3126 5849h6M3060 5839h6M3061 5746h6M3060 5790h6M3168 5776h6M3075 5813h6M3060 5797h6M3051 5811h6M3146 5808h6M3144 5708h6M3171 5838h6M3134 5844h6M3076 5808h6M3109 5868h6M3133 5824h6M3057 5777h6M3112 5808h6M3174 5730h6M3086 5795h6M3164 5751h6M3090 5757h6M3096 5682h6M3147 5747h6M3154 5843h6M3120 5702h6M3096 5848h6M3104 5768h6M3089 5706h6M3116 5769h6M3108 5782h6M3192 5758h6M3141 5840h6M3172 5790h6M3143 5739h6M3102 5815h6M3040 5693h6M3058 5841h6M3099 5813h6M3122 5757h6M3141 5842h6M3062 5841h6M3160 5749h6M3094 5778h6M3087 5705h6M3130 5752h6M3029 5772h6M3154 5682h6M3039 5709h6M3079 5712h6M3103 5792h6M3084 5743h6M3092 5735h6M3108 5741h6M3086 5723h6M3063 5786h6M3126 5750h6M3089 5762h6M3107 5763h6M3182 5762h6M3156 5698h6M3086 5764h6M3100 5777h6M3117 5708h6M3053 5797h6M3106 5806h6M3123 5800h6M3179 5776h6M3036 5770h6M3028 5810h6M3087 5773h6M3065 5874h6M3136 5745h6M3095 5687h6M3084 5763h6M3086 5817h6M3090 5662h6M3084 5729h6M3104 5764h6M3134 5828h6M3064 5688h6M3083 5725h6M3123 5705h6M3137 5773h6M3168 5764h6M3130 5715h6M3095 5799h6M3084 5788h6M3088 5700h6M3035 5848h6M3045 5802h6M3064 5801h6M3103 5779h6M3117 5771h6M3084 5763h6M3080 5831h6M3124 5765h6M3081 5729h6M3100 5773h6M3078 5761h6M3126 5781h6M3063 5699h6M3107 5764h6M3118 5806h6M3054 5744h6M3067 5785h6M3134 5718h6M3079 5735h6M3093 5863h6M3141 5773h6M3112 5773h6M3059 5746h6M3124 5830h6M3073 5775h6M3082 5878h6M3120 5670h6M3098 5738h6M3085 5769h6M3121 5701h6M3062 5781h6M3127 5804h6M3099 5721h6M3098 5810h6M3107 5828h6M3116 5784h6M3127 5797h6M3118 5714h6M3112 5665h6M3070 5844h6M3060 5801h6M3091 5818h6M3116 5739h6M3034 5822h6M3110 5756h6M3064 5783h6M3069 5766h6M3116 5815h6M3069 5848h6M3111 5732h6M3112 5828h6M3025 5756h6M3112 5752h6M3037 5825h6M3116 5797h6M3075 5694h6M3070 5760h6M3038 5745h6M3061 5748h6M3077 5756h6M3102 5778h6M3090 5770h6M3090 5703h6M3098 5831h6M3121 5772h6M3072 5772h6M3057 5755h6M3099 5718h6M3051 5745h6M3126 5778h6M3074 5761h6M3105 5861h6M3142 5743h6M3042 5844h6M3086 5714h6M3047 5801h6M3110 5833h6M3105 5855h6M3138 5794h6M3048 5749h6M3029 5755h6M3095 5705h6M3139 5788h6M3068 5837h6M3163 5700h6M3104 5776h6M3050 5698h6M3068 5805h6M3054 5830h6M3041 5835h6M3086 5693h6M3065 5736h6M3133 5796h6M3137 5709h6M3156 5838h6M3080 5763h6M3114 5768h6M3032 5727h6M3112 5779h6M3042 5774h6M3082 5685h6M3142 5788h6M3032 5744h6M3074 5713h6M3020 5801h6M3065 5739h6M3084 5765h6M3137 5720h6M3140 5829h6M3135 5794h6M3106 5793h6M3108 5687h6M3076 5795h6M3101 5814h6M3147 5714h6M3118 5728h6M3044 5716h6M3071 5794h6M3084 5748h6M3170 5783h6M3110 5754h6M3175 5754h6M3064 5780h6M3174 5743h6M3188 5776h6M3135 5726h6M3103 5760h6M3140 5781h6M3120 5763h6M3080 5740h6M3139 5800h6M3179 5776h6M3044 5733h6M3122 5826h6M3171 5740h6M3072 5691h6M3162 5810h6M3082 5852h6M3126 5776h6M3085 5819h6M3032 5769h6M3063 5829h6M3116 5802h6M3091 5792h6M3133 5809h6M3101 5727h6M3062 5785h6M3154 5791h6M3091 5837h6M3101 5813h6M3080 5781h6M3138 5732h6M3113 5839h6M3034 5726h6M3134 5808h6M3092 5839h6M3077 5748h6M3188 5827h6M3085 5733h6M3137 5760h6M3146 5738h6M3115 5802h6M3065 5823h6M3171 5738h6M3074 5771h6M3060 5761h6M3071 5818h6M3141 5819h6M3192 5771h6M3125 5780h6M3074 5821h6M3122 5716h6M3051 5737h6M3144 5727h6M3107 5871h6M3122 5773h6M3108 5815h6M3141 5751h6M3072 5753h6M3077 5738h6M3101 5765h6M3083 5804h6M3086 5773h6M3158 5778h6M3032 5755h6M3125 5821h6M3002 5799h6M3120 5721h6M3092 5767h6M3056 5827h6M3115 5749h6M3071 5732h6M3073 5764h6M3152 5762h6M3075 5711h6M3089 5742h6M3177 5796h6M3072 5696h6M3098 5790h6M3171 5755h6M3080 5783h6M3106 5782h6M3132 5808h6M3100 5794h6M3103 5793h6M3111 5723h6M3109 5705h6M3179 5740h6M3093 5807h6M3149 5760h6M3174 5732h6M3138 5848h6M3139 5759h6M3028 5766h6M3160 5733h6M3085 5771h6M3133 5846h6M3125 5816h6M3105 5716h6M3156 5703h6M3056 5713h6M3021 5827h6M3113 5767h6M3100 5795h6M3071 5765h6M3087 5797h6M3024 5760h6M3106 5805h6M3109 5760h6M3084 5819h6M3127 5753h6M3043 5813h6M3072 5836h6M3097 5847h6M3172 5785h6M3121 5738h6M3086 5701h6M3116 5694h6M3152 5800h6M3135 5807h6M3082 5747h6M3108 5773h6M3187 5811h6M3087 5831h6M3045 5782h6M3079 5865h6M3116 5754h6M3089 5736h6M3153 5834h6M3021 5838h6M3065 5764h6M3115 5764h6M3128 5800h6M3135 5828h6M3042 5840h6M3109 5720h6M3029 5804h6M3140 5670h6M3129 5755h6M3120 5813h6M3140 5729h6M3137 5751h6M3121 5696h6M3084 5767h6M3115 5803h6M3116 5775h6M3114 5726h6M3048 5716h6M3112 5773h6M3052 5729h6M3076 5711h6M3174 5735h6M3089 5705h6M3110 5821h6M3165 5769h6M3154 5829h6M3133 5747h6M3071 5804h6M3112 5815h6M3108 5744h6M3104 5785h6M3018 5764h6M3096 5758h6M3127 5671h6M3129 5763h6M3086 5785h6M3082 5675h6M3063 5705h6M3076 5739h6M3124 5791h6M3051 5774h6M3118 5739h6M3068 5856h6M3068 5734h6M3128 5761h6M3074 5733h6M3169 5742h6M3149 5768h6M3096 5824h6M3088 5785h6M3038 5754h6M3072 5729h6M3079 5803h6M3114 5720h6M3081 5737h6M3135 5721h6M3111 5747h6M3073 5714h6M3156 5852h6M3086 5815h6M3157 5747h6M3042 5746h6M3110 5736h6M3090 5762h6M3188 5772h6M3120 5789h6M3078 5719h6M3122 5822h6M3089 5799h6M3087 5697h6M3178 5751h6M3071 5717h6M3088 5863h6M3138 5742h6M3097 5736h6M3128 5754h6M3111 5754h6M3080 5715h6M3068 5772h6M3096 5799h6M3138 5748h6M3102 5800h6M3121 5793h6M3136 5726h6M3152 5717h6M3116 5738h6M3128 5762h6M3083 5752h6M3112 5755h6M3052 5829h6M3110 5744h6M3078 5771h6M3093 5757h6M3050 5725h6M3033 5715h6M3138 5762h6M3070 5830h6M3052 5788h6M3084 5765h6M3077 5851h6M3053 5737h6M3133 5714h6M3066 5841h6M3066 5705h6M3087 5692h6M3053 5838h6M3113 5765h6M3087 5693h6M3117 5700h6M3090 5775h6M3066 5772h6M3109 5797h6M3098 5792h6M3075 5802h6M3126 5746h6M3021 5709h6M3143 5798h6M3195 5797h6M3018 5772h6M3003 5741h6M3105 5754h6M3178 5842h6M3160 5776h6M3073 5807h6M3022 5737h6M3085 5753h6M3095 5725h6M3183 5736h6M3143 5693h6M3081 5736h6M3003 5785h6M3126 5739h6M3031 5694h6M3078 5688h6M3110 5732h6M3022 5830h6M3059 5727h6M3078 5844h6M3018 5716h6M3036 5780h6M3127 5723h6M3103 5770h6M3059 5787h6M3074 5706h6M3135 5716h6M3095 5791h6M3078 5780h6M3136 5753h6M3108 5688h6M3057 5823h6M3098 5761h6M3132 5753h6M3100 5782h6M3046 5751h6M3086 5798h6M3084 5732h6M3065 5856h6M3049 5812h6M3168 5715h6M3100 5711h6M3105 5756h6M3126 5736h6M3087 5781h6M3084 5789h6M3114 5677h6M3133 5852h6M3035 5779h6M3129 5731h6M3151 5778h6M3021 5748h6M3112 5692h6M3091 5802h6M3108 5785h6M3059 5806h6M3060 5721h6M3103 5770h6M3102 5695h6M3063 5793h6M3050 5781h6M3046 5777h6M3031 5773h6M3134 5686h6M3064 5767h6M3113 5804h6M3103 5743h6M3124 5824h6M3113 5770h6M3062 5829h6M3036 5801h6M3125 5843h6M3122 5737h6M3110 5745h6M3129 5714h6M3104 5783h6M3079 5789h6M3120 5779h6M3072 5732h6M3072 5856h6M3055 5774h6M3151 5700h6M3048 5821h6M3122 5880h6M3085 5771h6M3093 5770h6M3112 5819h6M3084 5827h6M3109 5847h6M3053 5748h6M3118 5732h6M3070 5812h6M3184 5737h6M3134 5774h6M3051 5765h6M3028 5745h6M3061 5738h6M3055 5736h6M3101 5689h6M3104 5786h6M3149 5834h6M3115 5759h6M3141 5788h6M3182 5744h6M3157 5773h6M3086 5728h6M3099 5711h6M3072 5747h6M3079 5809h6M3051 5783h6M3119 5801h6M3119 5723h6M3101 5772h6M3169 5826h6M3063 5805h6M3106 5733h6M3074 5709h6M3123 5724h6M3109 5824h6M3090 5818h6M3118 5776h6M3126 5746h6M3049 5740h6M3137 5788h6M3023 5845h6M3167 5798h6M3085 5804h6M3131 5675h6M3142 5685h6M3094 5711h6M3101 5688h6M3109 5840h6M3091 5768h6M3140 5732h6M3057 5689h6M3033 5761h6M3089 5681h6M3165 5812h6M3143 5840h6M3131 5726h6M3112 5802h6M3092 5798h6M3033 5810h6M3037 5718h6M3125 5765h6M3169 5765h6M3128 5827h6M3073 5826h6M3163 5782h6M3142 5735h6M3142 5856h6M3064 5771h6M3113 5833h6M3165 5775h6M3118 5735h6M3020 5827h6M3138 5798h6M3171 5700h6M3080 5792h6M3084 5774h6M3160 5812h6M3077 5785h6M3103 5749h6M3075 5775h6M3173 5796h6M3187 5740h6M3135 5753h6M3058 5793h6M3109 5790h6M3124 5827h6M3138 5760h6M3111 5767h6M3081 5779h6M3071 5696h6M3159 5855h6M3124 5799h6M3108 5765h6M3077 5809h6M3123 5795h6M3119 5789h6M3114 5794h6M3109 5782h6M3117 5764h6M3102 5753h6M3116 5765h6M3066 5780h6M3041 5836h6M3112 5763h6M3140 5768h6M3167 5793h6M3119 5691h6M3112 5811h6M3144 5688h6M3046 5808h6M3025 5802h6M3104 5804h6M3099 5767h6M3076 5741h6M3021 5803h6M3108 5802h6M3126 5838h6M3136 5760h6M3126 5737h6M3090 5792h6M3082 5829h6M3144 5791h6M3072 5759h6M3069 5769h6M3123 5843h6M3089 5814h6M3124 5725h6M3112 5738h6M3052 5729h6M3093 5810h6M3147 5754h6M3041 5770h6M3071 5704h6M3031 5786h6M3095 5809h6M3075 5780h6M3127 5755h6M3057 5800h6M3077 5725h6M3077 5853h6M3098 5834h6M3140 5857h6M3100 5789h6M3159 5815h6M3120 5747h6M3050 5706h6M3166 5745h6M3086 5790h6M3059 5863h6M3087 5744h6M3104 5760h6M3128 5752h6M3099 5766h6M3072 5738h6M3092 5799h6M3078 5772h6M3081 5687h6M3054 5819h6M3057 5702h6M3093 5780h6M3018 5763h6M3086 5775h6M3124 5772h6M3101 5806h6M3127 5714h6M3104 5791h6M3047 5824h6M3135 5770h6M3104 5740h6M3117 5764h6M3181 5729h6M3103 5700h6M3143 5737h6M3049 5696h6M3043 5788h6M3074 5731h6M3123 5785h6M3104 5677h6M3158 5850h6M3040 5795h6M3067 5815h6M3120 5779h6M3137 5763h6M3088 5776h6M3085 5739h6M3049 5733h6M3163 5819h6M3045 5774h6M3096 5741h6M3095 5717h6M3042 5785h6M3133 5688h6M3133 5785h6M3079 5744h6M3134 5859h6M3142 5824h6M3109 5736h6M3120 5664h6M3145 5749h6M3104 5802h6M3109 5767h6M3111 5788h6M3156 5811h6M3164 5731h6M3134 5714h6M3187 5729h6M3139 5788h6M3044 5854h6M3112 5742h6M3082 5756h6M3057 5750h6M3155 5848h6M3159 5777h6M3162 5754h6M3124 5746h6M3161 5825h6M3097 5743h6M3180 5762h6M3066 5763h6M3127 5689h6M3079 5714h6M3049 5735h6M3122 5729h6M3133 5751h6M3034 5777h6M3142 5752h6M3041 5853h6M3153 5796h6M3058 5820h6M3137 5828h6M3073 5696h6M3117 5759h6M3117 5778h6M3053 5795h6M3118 5707h6M3078 5715h6M3177 5765h6M3168 5780h6M3060 5812h6M3083 5858h6M3119 5832h6M3026 5747h6M3097 5798h6M3078 5774h6M3161 5738h6M3050 5835h6M3086 5745h6M3143 5729h6M3084 5774h6M3119 5782h6M3095 5760h6M3130 5801h6M3131 5738h6M3092 5683h6M3122 5808h6M3100 5785h6M3140 5668h6M3118 5735h6M3068 5706h6M3132 5822h6M3124 5866h6M3093 5768h6M3135 5777h6M3108 5725h6M3123 5688h6M3130 5795h6M3099 5735h6M3127 5795h6M3099 5720h6M3050 5678h6M3100 5736h6M3092 5811h6M3106 5754h6M3082 5761h6M3112 5829h6M3034 5814h6M3081 5725h6M3101 5733h6M3126 5763h6M3077 5853h6M3126 5780h6M3052 5841h6M3093 5780h6M3162 5803h6M3086 5736h6M3128 5793h6M3083 5754h6M3128 5776h6M3153 5772h6M3099 5776h6M3118 5748h6M3110 5850h6M3103 5829h6M3092 5849h6M3072 5662h6M3097 5761h6M3085 5800h6M3125 5717h6M3168 5757h6M3125 5783h6M3077 5763h6M3095 5819h6M3126 5717h6M3088 5765h6M3042 5810h6M3108 5798h6M3102 5774h6M3071 5739h6M3105 5781h6M3069 5821h6M3182 5817h6M3163 5702h6M3097 5793h6M3146 5772h6M3145 5690h6M3146 5792h6M3040 5798h6M3091 5792h6M3026 5709h6M3100 5819h6M3123 5705h6M3122 5708h6M3100 5710h6M3059 5810h6M3051 5791h6M3065 5812h6M3054 5771h6M3086 5747h6M3057 5752h6M3141 5703h6M3167 5690h6M3066 5729h6M3056 5741h6M3081 5765h6M3101 5697h6M3157 5746h6M3034 5829h6M3116 5774h6M3072 5743h6M3098 5776h6M3098 5706h6M3124 5763h6M3033 5751h6M3116 5760h6M3100 5709h6M3071 5789h6M3123 5701h6M3067 5743h6M3107 5708h6M3080 5752h6M3091 5814h6M3091 5864h6M3069 5761h6M3109 5843h6M3068 5826h6M3132 5771h6M3118 5687h6M3047 5799h6M3064 5797h6M3078 5745h6M3068 5816h6M3113 5752h6M3137 5740h6M3088 5736h6M3109 5772h6M3174 5781h6M3142 5728h6M3094 5781h6M3132 5780h6M3070 5804h6M3102 5817h6M3019 5702h6M3096 5805h6M3040 5800h6M3081 5829h6M3060 5693h6M3175 5823h6M3076 5780h6M3157 5843h6M3094 5798h6M3075 5867h6M3090 5815h6M3121 5779h6M3064 5814h6M3124 5832h6M3040 5856h6M3122 5737h6M3010 5764h6M3116 5762h6M3071 5813h6M3150 5739h6M3101 5813h6M3165 5806h6M3130 5756h6M3107 5781h6M3189 5817h6M3154 5739h6M3135 5709h6M3072 5831h6M3108 5675h6M3155 5730h6M3140 5855h6M3060 5804h6M3121 5747h6M3148 5722h6M3113 5717h6M3117 5759h6M3111 5663h6M3041 5734h6M3049 5748h6M3168 5802h6M3093 5755h6M3118 5756h6M3059 5777h6M3100 5794h6M3112 5725h6M3078 5790h6M3055 5833h6M3085 5791h6M3024 5765h6M3030 5701h6M3066 5737h6M3094 5806h6M3096 5806h6M3116 5676h6M3126 5672h6M3062 5815h6M3130 5840h6M3102 5765h6M3157 5756h6M3152 5770h6M3073 5816h6M3096 5788h6M3077 5858h6M3100 5762h6M3080 5698h6M3017 5775h6M3050 5817h6M3135 5856h6M3110 5770h6M3119 5841h6M3085 5743h6M3136 5832h6M3061 5746h6M3100 5802h6M3097 5784h6M3176 5753h6M3079 5807h6M3124 5808h6M3090 5673h6M3138 5791h6M3131 5763h6"/>
<path transform="scale(.1)" fill="none" stroke="#3350a8" stroke-width="6" d="M3055 5623h6M2969 5803h6M2983 5667h6M3017 5661h6M2954 5598h6M3071 5685h6M3061 5660h6M3017 5669h6M2944 5745h6M3040 5727h6M3009 5798h6M3048 5780h6M3037 5680h6M3079 5697h6M3065 5624h6M3033 5685h6M2913 5735h6M2968 5651h6M2961 5801h6M3063 5742h6M2918 5729h6M3011 5641h6M2962 5694h6M2999 5732h6M3074 5723h6M3008 5669h6M2977 5611h6M3023 5702h6M2979 5660h6M3002 5692h6M3055 5681h6M2964 5697h6M3023 5756h6M2980 5695h6M2930 5659h6M3091 5749h6M2954 5620h6M3002 5693h6M2965 5748h6M3002 5595h6M2998 5667h6M3001 5629h6M2999 5771h6M2930 5759h6M2971 5759h6M2922 5712h6M2985 5749h6M3010 5749h6M3054 5639h6M3006 5776h6M3030 5677h6M2958 5717h6M3038 5623h6M2953 5654h6M3001 5705h6M2967 5641h6M2933 5658h6M2984 5741h6M3025 5728h6M3051 5639h6M3005 5691h6M2983 5596h6M2974 5728h6M2951 5762h6M2941 5648h6M3079 5630h6M2976 5726h6M2969 5781h6M2957 5652h6M3022 5755h6M2983 5679h6M3022 5668h6M3032 5738h6M3021 5736h6M2945 5660h6M2964 5646h6M3016 5820h6M2972 5761h6M3002 5753h6M2927 5765h6M3018 5787h6M3020 5655h6M3042 5643h6M2977 5763h6M3005 5673h6M3057 5693h6M2975 5656h6M3058 5681h6M3070 5780h6M3004 5702h6M2965 5770h6M3078 5742h6M3021 5746h6M2953 5746h6M3003 5747h6M2991 5763h6M2952 5760h6M3061 5761h6M2963 5638h6M2992 5625h6M2992 5578h6M3015 5656h6M3107 5694h6M3013 5739h6M3051 5730h6M2975 5720h6M3036 5765h6M3078 5719h6M3009 5765h6M3039 5718h6M3052 5700h6M3034 5645h6M2973 5638h6M3059 5702h6M3003 5647h6M2969 5805h6M2991 5692h6M2947 5737h6M2928 5639h6M2962 5698h6M3024 5692h6M2978 5651h6M2914 5716h6M3035 5695h6M2927 5736h6M3007 5662h6M3079 5667h6M3014 5719h6M2930 5620h6M3062 5664h6M2988 5619h6M2965 5724h6M2973 5647h6M3053 5603h6M3044 5605h6M2980 5572h6M2946 5617h6M2962 5731h6M3057 5601h6M2971 5735h6M3005 5690h6M2995 5697h6M3011 5702h6M2976 5786h6M3023 5710h6M3017 5725h6M3023 5644h6M2951 5703h6M2982 5701h6M3013 5779h6M3031 5739h6M3037 5690h6M3024 5647h6M3095 5664h6M3080 5765h6M3064 5744h6M2912 5663h6M3013 5795h6M2976 5716h6M3010 5752h6M3022 5734h6M3020 5609h6M2951 5742h6M3010 5640h6M2972 5761h6M3063 5771h6M2956 5599h6M3011 5698h6M2953 5624h6M3028 5693h6M3056 5708h6M3025 5744h6M2942 5686h6M3017 5668h6M3021 5643h6M3005 5665h6M3006 5813h6M3059 5706h6M3034 5727h6M2967 5622h6M2980 5764h6M3099 5679h6M3059 5682h6M3000 5716h6M2992 5720h6M3050 5636h6M3075 5698h6M2982 5717h6M2985 5747h6M2900 5710h6M2989 5730h6M3071 5617h6M3000 5732h6M2982 5689h6M3026 5688h6M3018 5688h6M3016 5791h6M3056 5740h6M3028 5700h6M2976 5719h6M3038 5693h6M2961 5675h6M2998 5581h6M3012 5812h6M3038 5644h6M3009 5729h6M2994 5620h6M2998 5773h6M3020 5806h6M3005 5686h6M2941 5662h6M3034 5712h6M2959 5707h6M2912 5723h6M2975 5762h6M2972 5798h6M3060 5796h6M3032 5690h6M3057 5654h6M2971 5654h6M2990 5653h6M2941 5764h6M3018 5693h6M3026 5694h6M3069 5631h6M3076 5747h6M3058 5768h6M3033 5682h6M3027 5653h6M3055 5640h6M2962 5774h6M2974 5680h6M2995 5595h6M2947 5599h6M3012 5638h6M3030 5746h6M3033 5658h6M2927 5793h6M3039 5814h6M2997 5692h6M3013 5665h6M2991 5702h6M3001 5610h6M3086 5685h6M3049 5692h6M2971 5683h6M2960 5742h6M3006 5699h6M3004 5673h6M3072 5637h6M2927 5636h6M3020 5648h6M2976 5748h6M2934 5722h6M3021 5754h6M2992 5687h6M3002 5777h6M3053 5666h6M2952 5624h6M2961 5752h6M2924 5610h6M2991 5699h6M3013 5636h6M3026 5672h6M3022 5715h6M2981 5816h6M2942 5688h6M3064 5756h6M3012 5676h6M2999 5779h6M3066 5795h6M2974 5691h6M2947 5660h6M2981 5812h6M2939 5652h6M3036 5661h6M3027 5714h6M3064 5740h6M3058 5657h6M2973 5652h6M3048 5805h6M3026 5659h6M2961 5595h6M2915 5653h6M2932 5734h6M3068 5690h6M2962 5735h6M3018 5672h6M3025 5616h6M3070 5729h6M3006 5707h6M3012 5593h6M3006 5759h6M2975 5691h6M3004 5659h6M3034 5614h6M3024 5681h6M2997 5683h6M3009 5764h6M2990 5730h6M2994 5659h6M2957 5779h6M2997 5693h6M3056 5735h6M3019 5705h6M2962 5721h6M2938 5696h6M3000 5712h6M2967 5710h6M2955 5683h6M2987 5698h6M3018 5699h6M2961 5631h6M2902 5703h6M3048 5717h6M2997 5711h6M3006 5726h6M3000 5766h6M3088 5770h6M3007 5741h6M2971 5626h6M2994 5634h6M2916 5759h6M2912 5722h6M3035 5672h6M3066 5666h6M2988 5710h6M2994 5699h6M2935 5719h6M2962 5692h6M2961 5706h6M3095 5705h6M2983 5822h6M3037 5706h6M3003 5671h6M3038 5664h6M3000 5641h6M3023 5790h6M3028 5705h6M3067 5603h6M2940 5628h6M2967 5753h6M2976 5730h6M3024 5676h6M2978 5723h6M3012 5705h6M2966 5764h6M3046 5698h6M2975 5743h6M2981 5767h6M2929 5641h6M3044 5705h6M3010 5733h6M3015 5597h6M3013 5608h6M3025 5701h6M2957 5637h6M2980 5632h6M3014 5636h6M3041 5702h6M2977 5758h6M3033 5758h6M3072 5605h6M2996 5643h6M2976 5786h6M2969 5762h6M3060 5667h6M3056 5683h6M3036 5794h6M2970 5738h6M3009 5662h6M2929 5733h6M3003 5674h6M2995 5756h6M3006 5639h6M2968 5650h6M2969 5673h6M2977 5782h6M2977 5761h6M2968 5690h6M2968 5689h6M2962 5692h6M2922 5651h6M3015 5682h6M3012 5637h6M2967 5709h6M3009 5627h6M2957 5692h6M2978 5753h6M3037 5654h6M3015 5667h6M3059 5754h6M3042 5731h6M3006 5722h6M2905 5683h6M3018 5638h6M2936 5753h6M2983 5753h6M2967 5798h6M2933 5772h6M2938 5712h6M2919 5788h6M3034 5743h6M2996 5654h6M3046 5763h6M2902 5721h6M3015 5667h6M2960 5764h6M2954 5699h6M3024 5740h6M2921 5676h6M3018 5699h6M3034 5699h6M3035 5658h6M2994 5741h6M2965 5694h6M2957 5672h6M3006 5772h6M2989 5622h6M3080 5781h6M2933 5776h6M2931 5744h6M3013 5621h6M3009 5617h6M2945 5658h6M3007 5760h6M3025 5760h6M2963 5632h6M3057 5764h6M3088 5738h6M3071 5736h6M2998 5667h6M3011 5599h6M3016 5621h6M2947 5669h6"/>
<rect x="283.5" y="531.6" width="37" height="59.6" fill="none" stroke="#6c64b2" stroke-width="1.2"/>
<path d="M260.2 519.7H338.6" stroke="#404040" stroke-width="1.2" fill="none"/>
<path d="M338.6 519.7V596.9" stroke="#c4c4c4" stroke-width="1.2" fill="none"/>
<path d="M260.2 519.2V596.9H339.1" stroke="#2a2a2a" stroke-width="1.2" fill="none"/>
<path d="M259.7 596.08h-1.8M259.7 586.52h-1.8M259.7 581.74h-1.8M259.7 576.96h-1.8M259.7 572.18h-1.8M259.7 562.62h-1.8M259.7 557.84h-1.8M259.7 553.06h-1.8M259.7 548.28h-1.8M259.7 538.72h-1.8M259.7 533.94h-1.8M259.7 529.16h-1.8M259.7 524.38h-1.8" stroke="#333" stroke-width="0.8" fill="none"/>
<path d="M259.7 591.3h-3.2M259.7 567.4h-3.2M259.7 543.5h-3.2M259.7 519.6h-3.2" stroke="#333" stroke-width="0.8" fill="none"/>
<text transform="translate(255.8,591.3) rotate(-90)" text-anchor="middle" font-size="6.6" fill="#333">0</text>
<text transform="translate(255.8,567.4) rotate(-90)" text-anchor="middle" font-size="6.6" fill="#333">100</text>
<text transform="translate(255.8,543.5) rotate(-90)" text-anchor="middle" font-size="6.6" fill="#333">200</text>
<text transform="translate(255.8,519.6) rotate(-90)" text-anchor="middle" font-size="6.6" fill="#333">300</text>
<path d="M291.4 597.4v1.8M296.13 597.4v1.8M299.5 597.4v1.8M302.1 597.4v1.8M304.23 597.4v1.8M306.03 597.4v1.8M307.59 597.4v1.8M308.97 597.4v1.8M318.3 597.4v1.8M323.03 597.4v1.8M326.4 597.4v1.8M329 597.4v1.8M331.13 597.4v1.8M332.93 597.4v1.8M334.49 597.4v1.8M335.87 597.4v1.8M263.1 597.4v1.8M265.1 597.4v1.8M267.1 597.4v1.8M269.1 597.4v1.8M273.1 597.4v1.8M275.1 597.4v1.8M277.1 597.4v1.8M279.1 597.4v1.8" stroke="#333" stroke-width="0.8" fill="none"/>
<path d="M271.1 597.4v3M283.3 597.4v3M310.2 597.4v3M337.4 597.4v3" stroke="#333" stroke-width="0.8" fill="none"/>
<text x="271.1" y="605.4" text-anchor="middle" font-size="6.6" fill="#333">0</text>
<text x="284.6" y="605.4" text-anchor="middle" font-size="6.6" fill="#333">10<tspan font-size="3.63" dy="-3">3</tspan></text>
<text x="310.6" y="605.4" text-anchor="middle" font-size="6.6" fill="#333">10<tspan font-size="3.63" dy="-3">4</tspan></text>
<text x="337.8" y="605.4" text-anchor="middle" font-size="6.6" fill="#333">10<tspan font-size="3.63" dy="-3">5</tspan></text>
<text x="404" y="513.5" text-anchor="middle" font-size="10.2">AT3</text>
<path transform="scale(.1)" fill="none" stroke="#858585" stroke-width="6" d="M3775 5576h6M3759 5702h6M3762 5635h6M3811 5695h6M3773 5566h6M3755 5519h6M3756 5728h6M3786 5499h6M3756 5464h6M3763 5676h6M3809 5803h6M3790 5505h6M3751 5746h6M3750 5749h6M3796 5799h6M3806 5417h6M3789 5839h6M3765 5622h6M3761 5609h6M3766 5437h6M3804 5578h6M3780 5765h6M3811 5750h6M3787 5819h6M3785 5514h6M3783 5705h6M3760 5508h6M3762 5481h6M3803 5723h6M3785 5528h6M3737 5574h6M3764 5856h6M3772 5564h6M3768 5618h6M3773 5733h6M3764 5704h6M3744 5631h6M3762 5524h6M3803 5483h6M3803 5730h6M3800 5779h6M3804 5712h6M3789 5716h6M3785 5587h6M3800 5586h6M3803 5431h6M3782 5471h6M3753 5408h6M3793 5495h6M3828 5539h6M3779 5713h6M3792 5556h6M3741 5447h6M3752 5426h6M3786 5792h6M3801 5567h6M3784 5824h6M3761 5791h6M3770 5527h6M3755 5547h6M3735 5812h6M3764 5492h6M3790 5668h6M3790 5435h6M3785 5657h6M3772 5380h6M3750 5388h6M3786 5589h6M3778 5441h6M3770 5556h6M3794 5428h6M3798 5426h6M3765 5598h6M3742 5461h6M3780 5393h6M3798 5736h6M3774 5776h6M3793 5471h6M3793 5820h6M3791 5550h6M3750 5657h6M3799 5607h6M3744 5466h6M3797 5815h6M3777 5541h6M3759 5404h6M3808 5826h6M3782 5845h6M3827 5779h6M3777 5477h6M3761 5579h6M3773 5574h6M3814 5759h6M3792 5658h6M3769 5673h6M3792 5643h6M3769 5800h6M3782 5579h6M3807 5790h6M3780 5731h6M3746 5420h6M3776 5762h6M3790 5800h6M3790 5533h6M3782 5686h6M3818 5385h6M3804 5671h6M3783 5488h6M3798 5726h6M3739 5657h6M3797 5577h6M3773 5514h6M3740 5721h6M3730 5615h6M3783 5591h6M3769 5651h6M3790 5545h6M3776 5378h6M3813 5829h6M3787 5779h6M3742 5626h6M3789 5416h6M3777 5627h6M3795 5774h6M3765 5756h6M3781 5457h6M3749 5837h6M3743 5715h6M3782 5705h6M3775 5505h6M3762 5814h6M3766 5747h6M3745 5683h6M3766 5605h6M3792 5832h6M3807 5787h6M3760 5526h6M3775 5472h6M3827 5719h6M3802 5526h6M3777 5609h6M3814 5419h6M3811 5513h6M3768 5783h6M3788 5521h6M3766 5448h6M3777 5626h6M3767 5574h6M3803 5758h6M3798 5715h6M3786 5699h6M3748 5841h6M3803 5753h6M3781 5403h6M3791 5543h6M3810 5673h6M3779 5571h6M3818 5722h6M3779 5428h6M3763 5868h6M3796 5429h6M3791 5560h6M3786 5686h6M3768 5675h6M3758 5609h6M3764 5600h6M3773 5747h6M3766 5747h6M3794 5767h6M3804 5576h6M3780 5647h6M3778 5858h6M3750 5526h6M3784 5768h6M3768 5753h6M3785 5548h6M3767 5785h6M3798 5777h6M3806 5666h6M3795 5686h6M3781 5572h6M3760 5630h6M3780 5746h6M3783 5574h6M3747 5637h6M3779 5549h6M3745 5544h6M3801 5413h6M3788 5416h6M3776 5748h6M3770 5684h6M3768 5583h6M3794 5452h6M3793 5548h6M3764 5808h6M3801 5439h6M3788 5664h6M3770 5535h6M3788 5486h6M3765 5683h6M3821 5826h6M3795 5677h6M3794 5454h6M3795 5631h6M3751 5521h6M3781 5509h6M3770 5762h6M3805 5772h6M3777 5711h6M3779 5591h6M3825 5499h6M3810 5516h6M3794 5407h6M3803 5413h6M3804 5491h6M3786 5499h6M3815 5848h6M3777 5743h6M3769 5629h6M3770 5451h6M3746 5510h6M3768 5641h6M3784 5689h6M3779 5397h6M3780 5644h6M3765 5805h6M3770 5712h6M3820 5604h6M3796 5362h6M3771 5782h6M3794 5786h6M3758 5772h6M3784 5403h6M3798 5550h6M3755 5720h6M3821 5419h6M3811 5646h6M3796 5447h6M3768 5665h6M3798 5450h6M3784 5740h6M3786 5437h6M3832 5805h6M3777 5821h6M3765 5701h6M3790 5775h6M3782 5610h6M3823 5495h6M3772 5599h6M3790 5416h6M3811 5627h6M3760 5682h6M3780 5541h6M3761 5664h6M3753 5428h6M3785 5550h6M3765 5738h6M3789 5578h6M3788 5734h6M3800 5677h6M3777 5750h6M3795 5742h6M3788 5682h6M3799 5705h6M3747 5674h6M3755 5614h6M3803 5543h6M3786 5708h6M3765 5777h6M3796 5548h6M3772 5827h6M3795 5549h6M3750 5695h6M3782 5570h6M3790 5769h6M3816 5669h6M3775 5516h6M3783 5421h6M3774 5468h6M3765 5839h6M3784 5830h6M3789 5701h6M3760 5760h6M3786 5569h6M3784 5630h6M3784 5837h6M3793 5652h6M3813 5814h6M3795 5546h6M3771 5433h6M3806 5794h6M3770 5591h6M3801 5792h6M3815 5780h6M3787 5750h6M3804 5437h6M3788 5564h6M3757 5798h6M3732 5670h6M3823 5492h6M3776 5701h6M3768 5697h6M3786 5720h6M3811 5531h6M3777 5820h6M3800 5439h6M3785 5797h6M3803 5847h6M3820 5847h6M3764 5415h6M3827 5749h6M3778 5534h6M3768 5575h6M3769 5710h6M3778 5661h6M3805 5509h6M3821 5816h6M3783 5447h6M3784 5811h6M3769 5828h6M3776 5448h6M3817 5512h6M3790 5465h6M3752 5564h6M3777 5719h6M3763 5450h6M3751 5744h6M3813 5423h6M3759 5696h6M3776 5799h6M3829 5718h6M3772 5544h6M3784 5450h6M3821 5695h6M3769 5725h6M3789 5721h6M3762 5629h6M3764 5775h6M3758 5550h6M3804 5579h6M3806 5799h6M3800 5705h6M3783 5835h6M3827 5767h6M3742 5384h6M3766 5701h6M3775 5473h6M3769 5451h6M3824 5548h6M3815 5557h6M3775 5851h6M3721 5427h6M3747 5493h6M3824 5861h6M3799 5645h6M3785 5465h6M3741 5651h6M3769 5687h6M3797 5812h6M3797 5751h6M3798 5610h6M3829 5821h6M3775 5397h6M3810 5848h6M3784 5633h6M3786 5458h6M3775 5827h6M3773 5792h6M3799 5728h6M3798 5506h6M3768 5512h6M3785 5682h6M3821 5692h6M3789 5693h6M3787 5459h6M3776 5640h6M3776 5569h6M3785 5659h6M3760 5731h6M3774 5541h6M3784 5850h6M3794 5622h6M3750 5754h6M3776 5776h6M3806 5756h6M3797 5509h6M3773 5572h6M3778 5718h6M3773 5494h6M3778 5666h6M3791 5674h6M3788 5644h6M3779 5517h6M3783 5680h6M3803 5759h6M3799 5826h6M3795 5615h6M3765 5541h6M3788 5597h6M3786 5861h6M3761 5535h6M3759 5475h6M3793 5664h6M3799 5678h6M3765 5515h6M3770 5685h6M3811 5805h6M3776 5557h6M3770 5496h6M3781 5501h6M3817 5545h6M3786 5698h6M3771 5661h6M3754 5687h6M3766 5824h6M3783 5849h6M3769 5778h6M3810 5640h6M3772 5734h6M3747 5763h6M3745 5483h6M3791 5644h6M3762 5730h6M3786 5755h6M3779 5525h6M3786 5611h6M3826 5688h6M3797 5605h6M3774 5840h6M3779 5507h6M3799 5419h6M3761 5527h6M3821 5630h6M3774 5647h6M3784 5506h6M3813 5787h6M3801 5770h6M3794 5829h6M3797 5804h6M3787 5508h6M3785 5702h6M3747 5655h6M3767 5768h6M3770 5473h6M3806 5422h6M3772 5508h6M3788 5666h6M3778 5748h6M3816 5677h6M3794 5781h6M3771 5759h6M3765 5523h6M3795 5510h6M3753 5680h6M3799 5449h6M3790 5707h6M3763 5495h6M3789 5633h6M3793 5791h6M3766 5674h6M3766 5669h6M3804 5841h6M3782 5635h6M3784 5768h6M3764 5677h6M3758 5791h6M3773 5718h6M3789 5546h6M3792 5524h6M3799 5846h6M3782 5782h6M3782 5806h6M3756 5562h6M3776 5481h6M3803 5529h6M3760 5641h6M3785 5474h6M3790 5774h6M3774 5409h6M3754 5803h6M3791 5599h6M3785 5674h6M3763 5672h6M3800 5565h6M3823 5755h6M3799 5547h6M3769 5726h6M3767 5831h6M3809 5456h6M3778 5560h6M3791 5591h6M3790 5635h6M3761 5713h6M3827 5710h6M3831 5591h6M3791 5829h6M3805 5626h6M3766 5665h6M3769 5440h6M3776 5553h6M3765 5433h6M3783 5676h6M3752 5527h6M3759 5378h6M3786 5781h6M3773 5488h6M3758 5471h6M3748 5559h6M3789 5568h6M3841 5616h6M3764 5554h6M3804 5710h6M3823 5784h6M3769 5484h6M3766 5402h6M3789 5395h6M3780 5635h6M3774 5762h6M3746 5785h6M3738 5723h6M3822 5579h6M3758 5512h6M3793 5771h6M3768 5646h6M3754 5593h6M3789 5505h6M3808 5546h6M3800 5519h6M3786 5483h6M3790 5480h6M3760 5775h6M3786 5800h6M3769 5470h6M3784 5659h6M3787 5472h6M3737 5614h6M3777 5830h6M3787 5572h6M3770 5717h6M3794 5711h6M3738 5809h6M3783 5675h6M3763 5432h6M3756 5697h6M3778 5435h6M3765 5457h6M3791 5412h6M3767 5619h6M3773 5813h6M3755 5419h6M3796 5611h6M3778 5711h6M3814 5696h6M3766 5580h6M3813 5710h6M3803 5629h6M3780 5665h6M3778 5606h6M3748 5668h6M3793 5780h6M3789 5564h6M3759 5683h6M3802 5655h6M3794 5421h6M3788 5689h6M3792 5551h6M3806 5797h6M3746 5783h6M3804 5592h6M3762 5431h6M3817 5447h6M3764 5724h6M3788 5721h6M3793 5398h6M3777 5653h6M3814 5821h6M3750 5576h6M3810 5595h6M3798 5640h6M3796 5665h6M3787 5407h6M3775 5739h6M3788 5694h6M3807 5588h6M3735 5548h6M3793 5585h6M3767 5828h6M3776 5582h6M3769 5526h6M3793 5625h6M3799 5511h6M3743 5573h6M3784 5427h6M3811 5749h6M3807 5669h6M3772 5425h6M3810 5724h6M3796 5719h6M3741 5682h6M3784 5800h6M3799 5702h6M3779 5385h6M3797 5710h6M3780 5477h6M3810 5678h6M3800 5703h6M3765 5568h6M3754 5714h6M3783 5847h6M3776 5482h6M3785 5748h6M3777 5709h6M3743 5725h6M3777 5754h6M3771 5643h6M3788 5596h6M3777 5418h6M3785 5735h6M3793 5685h6M3782 5729h6M3794 5721h6M3812 5741h6M3792 5587h6M3817 5529h6M3814 5477h6M3765 5487h6M3794 5833h6M3816 5781h6M3795 5507h6M3784 5535h6M3791 5420h6M3796 5594h6M3806 5640h6M3809 5621h6M3788 5706h6M3782 5749h6M3769 5792h6M3794 5814h6M3757 5764h6M3773 5754h6M3786 5627h6M3766 5401h6M3806 5672h6M3798 5589h6M3773 5402h6M3761 5458h6M3764 5541h6M3784 5462h6M3778 5611h6M3801 5831h6M3770 5521h6M3774 5455h6M3788 5604h6M3783 5453h6M3801 5490h6M3754 5488h6M3811 5819h6M3776 5517h6M3778 5558h6M3801 5785h6M3801 5393h6M3798 5695h6M3802 5552h6M3762 5836h6M3793 5545h6M3740 5464h6M3787 5616h6M3775 5559h6M3798 5675h6M3751 5535h6M3766 5587h6M3784 5841h6M3749 5826h6M3788 5784h6M3763 5769h6M3777 5603h6M3804 5815h6M3773 5472h6M3788 5601h6M3751 5579h6M3773 5431h6M3797 5818h6M3816 5605h6M3773 5539h6M3762 5499h6M3752 5693h6M3764 5664h6M3774 5828h6M3807 5686h6M3789 5803h6M3775 5553h6M3768 5584h6M3773 5406h6M3774 5419h6M3779 5453h6M3767 5591h6M3769 5679h6M3783 5698h6M3795 5509h6M3796 5747h6M3836 5688h6M3767 5584h6M3785 5501h6M3770 5392h6M3805 5514h6M3784 5486h6M3808 5532h6M3809 5478h6M3800 5445h6M3814 5520h6M3756 5485h6M3782 5556h6M3787 5604h6M3794 5428h6M3798 5438h6M3783 5402h6M3762 5730h6M3787 5479h6M3781 5461h6M3804 5718h6M3780 5473h6M3746 5529h6M3774 5658h6M3803 5704h6M3800 5802h6M3756 5421h6M3759 5790h6M3798 5635h6M3800 5488h6M3796 5699h6M3708 5794h6M3799 5679h6M3771 5536h6M3790 5701h6M3745 5608h6M3796 5450h6M3783 5827h6M3768 5710h6M3799 5588h6M3795 5635h6M3763 5734h6M3797 5790h6M3788 5546h6M3792 5691h6M3743 5428h6M3747 5796h6M3780 5609h6M3749 5433h6M3788 5593h6M3760 5597h6M3783 5642h6M3764 5488h6M3800 5629h6M3775 5604h6M3763 5462h6M3776 5704h6M3795 5710h6M3799 5436h6M3811 5757h6M3767 5492h6M3797 5757h6M3829 5588h6M3757 5583h6M3770 5805h6M3777 5588h6M3785 5834h6M3785 5653h6M3775 5677h6M3770 5783h6M3773 5725h6M3746 5683h6M3804 5790h6M3777 5567h6M3782 5456h6M3789 5462h6M3791 5843h6M3788 5842h6M3791 5480h6M3777 5780h6M3809 5482h6M3795 5724h6M3773 5707h6M3789 5735h6M3755 5552h6M3798 5691h6M3802 5738h6M3772 5643h6M3785 5762h6M3793 5740h6M3782 5592h6M3786 5451h6M3781 5493h6M3767 5459h6M3780 5793h6M3825 5475h6M3786 5800h6M3772 5675h6M3799 5535h6M3762 5762h6M3774 5625h6M3774 5674h6M3784 5731h6M3787 5763h6M3782 5714h6M3741 5455h6M3762 5613h6M3803 5462h6M3785 5474h6M3753 5629h6M3784 5470h6M3773 5707h6M3757 5830h6M3778 5690h6M3812 5629h6M3797 5668h6M3760 5626h6M3759 5609h6M3777 5805h6M3781 5455h6M3788 5560h6M3772 5772h6M3795 5708h6M3803 5583h6M3773 5603h6M3789 5804h6M3800 5512h6M3783 5484h6M3783 5541h6M3762 5634h6M3789 5697h6M3761 5437h6M3815 5656h6M3783 5775h6M3802 5467h6M3771 5706h6M3777 5827h6M3808 5591h6M3778 5745h6M3796 5457h6M3780 5513h6M3784 5801h6M3786 5674h6M3760 5589h6M3774 5455h6M3761 5438h6M3770 5436h6M3767 5515h6M3741 5502h6M3808 5601h6M3756 5446h6M3778 5467h6M3806 5409h6M3798 5526h6M3787 5789h6M3766 5751h6M3785 5794h6M3759 5637h6M3780 5495h6M3793 5558h6M3783 5551h6M3773 5590h6M3798 5575h6M3756 5698h6M3790 5460h6M3804 5735h6M3746 5608h6M3792 5794h6M3756 5496h6M3752 5673h6M3796 5437h6M3770 5837h6M3785 5673h6M3805 5805h6M3790 5519h6M3793 5736h6M3777 5709h6M3782 5842h6M3772 5764h6M3801 5825h6M3794 5637h6M3805 5512h6M3773 5406h6M3782 5456h6M3794 5834h6M3817 5742h6M3782 5420h6M3768 5794h6M3803 5664h6M3783 5718h6M3772 5582h6M3812 5638h6M3747 5454h6M3764 5564h6M3814 5413h6M3789 5787h6M3759 5589h6M3791 5535h6M3743 5568h6M3773 5820h6M3764 5524h6M3747 5876h6M3784 5684h6M3784 5841h6M3752 5490h6M3776 5736h6M3772 5710h6M3771 5673h6M3786 5689h6M3802 5775h6M3802 5672h6M3793 5678h6M3766 5621h6M3821 5849h6M3731 5810h6M3817 5738h6M3774 5729h6M3792 5656h6M3795 5535h6M3742 5577h6M3792 5487h6M3766 5537h6M3780 5473h6M3793 5707h6M3781 5574h6M3756 5530h6M3774 5769h6M3799 5653h6M3785 5606h6M3780 5495h6M3813 5761h6M3819 5789h6M3760 5476h6M3798 5555h6M3788 5446h6M3763 5716h6M3780 5414h6M3797 5643h6M3785 5652h6M3762 5563h6M3775 5586h6M3763 5655h6M3776 5810h6M3748 5762h6M3749 5659h6M3783 5615h6M3811 5442h6M3789 5741h6M3807 5435h6M3800 5443h6M3739 5507h6M3762 5576h6M3789 5735h6M3789 5602h6M3775 5607h6M3785 5588h6M3780 5499h6M3792 5737h6M3792 5389h6M3825 5762h6M3819 5756h6M3751 5550h6M3810 5816h6M3803 5583h6M3790 5506h6M3791 5472h6M3796 5825h6M3770 5760h6M3818 5514h6M3790 5839h6M3787 5795h6M3765 5794h6M3789 5630h6M3817 5632h6M3819 5373h6M3753 5778h6M3802 5759h6M3788 5436h6M3782 5552h6M3802 5806h6M3774 5810h6M3818 5607h6M3785 5774h6M3786 5603h6M3772 5654h6M3815 5589h6M3785 5792h6M3788 5607h6M3772 5389h6M3810 5557h6M3754 5534h6M3798 5675h6M3738 5627h6M3778 5448h6M3791 5757h6M3817 5714h6M3791 5571h6M3796 5860h6M3810 5688h6M3781 5619h6M3823 5521h6M3776 5682h6M3794 5546h6M3786 5531h6M3780 5374h6M3748 5817h6M3825 5537h6M3760 5593h6M3799 5806h6M3765 5650h6M3801 5534h6M3775 5760h6M3801 5666h6M3769 5567h6M3762 5631h6M3741 5569h6M3797 5730h6M3781 5512h6M3789 5470h6M3814 5839h6M3803 5639h6M3796 5617h6M3803 5488h6M3770 5536h6M3775 5647h6M3806 5587h6M3776 5799h6M3800 5516h6M3794 5585h6M3792 5746h6M3815 5863h6M3819 5797h6M3775 5550h6M3805 5450h6M3824 5649h6M3778 5693h6M3764 5473h6M3797 5407h6M3797 5441h6M3776 5549h6M3799 5793h6M3811 5500h6M3789 5584h6M3804 5789h6M3778 5620h6M3810 5598h6M3769 5400h6M3810 5467h6M3806 5549h6M3788 5406h6M3768 5579h6M3782 5790h6M3786 5821h6M3803 5441h6M3839 5560h6M3779 5535h6M3811 5455h6M3757 5692h6M3750 5845h6M3781 5534h6M3805 5434h6M3773 5668h6M3774 5714h6M3759 5380h6M3782 5817h6M3818 5798h6M3805 5809h6M3753 5400h6M3773 5435h6M3758 5611h6M3801 5519h6M3780 5808h6M3809 5426h6M3822 5542h6M3777 5552h6M3749 5548h6M3786 5540h6M3770 5479h6M3786 5650h6M3772 5577h6M3771 5559h6M3797 5778h6M3776 5566h6M3795 5462h6M3781 5788h6M3793 5796h6M3811 5471h6M3804 5709h6M3760 5761h6M3757 5746h6M3783 5419h6M3751 5523h6M3777 5537h6M3764 5492h6M3813 5473h6M3792 5838h6M3764 5671h6M3814 5569h6M3793 5802h6M3816 5541h6M3795 5519h6M3813 5809h6M3760 5395h6M3739 5742h6M3780 5600h6M3781 5498h6M3764 5437h6M3756 5640h6M3771 5646h6M3787 5762h6M3773 5690h6M3812 5544h6M3768 5576h6M3817 5489h6M3791 5476h6M3782 5696h6M3790 5610h6M3777 5434h6M3794 5611h6M3781 5545h6M3807 5560h6M3809 5826h6M3797 5772h6M3768 5592h6M3747 5547h6M3785 5413h6M3812 5819h6M3818 5598h6M3784 5753h6M3741 5418h6M3786 5783h6M3769 5607h6M3764 5718h6M3753 5548h6M3733 5498h6M3777 5424h6M3776 5733h6M3778 5713h6M3790 5714h6M3789 5737h6M3794 5804h6M3762 5693h6M3775 5418h6M3797 5507h6M3756 5483h6M3816 5647h6M3792 5705h6M3796 5807h6M3782 5441h6M3795 5604h6M3775 5634h6M3778 5525h6M3786 5415h6M3748 5579h6M3730 5540h6M3805 5666h6M3720 5759h6M3808 5448h6M3801 5509h6M3771 5833h6M3797 5537h6M3775 5567h6M3800 5795h6M3754 5673h6M3772 5515h6M3777 5581h6M3780 5741h6M3764 5594h6M3808 5418h6M3795 5787h6M3761 5646h6M3768 5505h6M3809 5777h6M3792 5402h6M3820 5772h6M3810 5738h6M3795 5492h6M3771 5725h6M3803 5670h6M3762 5707h6M3782 5524h6M3817 5673h6M3805 5837h6M3826 5805h6M3778 5480h6M3741 5810h6M3762 5563h6M3798 5738h6M3802 5520h6M3765 5412h6M3769 5796h6M3794 5540h6M3776 5720h6M3808 5782h6M3775 5840h6M3817 5630h6M3788 5837h6M3793 5680h6M3780 5428h6M3802 5828h6M3776 5813h6M3764 5769h6M3755 5731h6M3781 5722h6M3771 5491h6M3811 5570h6M3793 5687h6M3788 5785h6M3773 5468h6M3775 5682h6M3787 5494h6M3797 5833h6M3782 5798h6M3770 5766h6M3758 5833h6M3778 5437h6M3775 5687h6M3778 5474h6M3774 5467h6M3789 5718h6M3790 5825h6M3806 5629h6M3786 5822h6M3771 5755h6M3780 5814h6M3782 5645h6M3759 5422h6M3774 5670h6M3772 5496h6M3791 5381h6M3759 5500h6M3769 5835h6M3774 5753h6M3746 5730h6M3765 5755h6M3799 5518h6M3771 5431h6M3739 5710h6M3790 5657h6M3763 5722h6M3805 5605h6M3762 5396h6M3761 5737h6M3777 5440h6M3796 5530h6M3799 5667h6M3776 5837h6M3769 5704h6M3780 5666h6M3766 5624h6M3783 5514h6M3784 5726h6M3769 5500h6M3810 5632h6M3762 5526h6M3761 5468h6M3765 5585h6M3819 5555h6M3764 5610h6M3762 5606h6M3767 5520h6M3815 5490h6M3805 5619h6M3778 5528h6M3797 5500h6M3810 5460h6M3768 5819h6M3790 5712h6M3773 5741h6M3755 5723h6M3753 5416h6M3790 5780h6M3793 5520h6M3777 5781h6M3800 5496h6M3793 5745h6M3769 5607h6M3794 5774h6M3790 5737h6M3793 5587h6M3782 5491h6M3760 5479h6M3754 5817h6M3764 5678h6M3806 5594h6M3802 5659h6M3814 5471h6M3736 5536h6M3782 5382h6M3733 5804h6M3805 5814h6M3813 5585h6M3794 5697h6M3804 5718h6M3787 5638h6M3774 5756h6M3824 5449h6M3809 5446h6M3777 5395h6M3794 5627h6M3820 5574h6M3785 5792h6M3772 5669h6M3751 5804h6M3799 5837h6M3798 5751h6M3801 5621h6M3787 5691h6M3760 5423h6M3789 5528h6M3795 5846h6M3750 5505h6M3772 5556h6M3782 5817h6M3815 5426h6M3771 5462h6M3768 5842h6M3758 5455h6M3768 5546h6M3779 5769h6M3785 5747h6M3842 5724h6M3791 5619h6M3776 5493h6M3796 5556h6M3750 5805h6M3787 5711h6M3771 5645h6M3798 5787h6M3782 5558h6M3776 5669h6M3799 5539h6M3767 5433h6M3786 5599h6M3788 5499h6M3780 5720h6M3789 5545h6M3769 5510h6M3828 5536h6M3780 5532h6M3788 5735h6M3783 5642h6M3819 5484h6M3810 5619h6M3802 5714h6M3797 5483h6M3770 5638h6M3831 5606h6M3809 5487h6M3779 5677h6M3764 5763h6M3793 5529h6M3787 5435h6M3825 5765h6M3791 5689h6M3800 5615h6M3811 5779h6M3786 5626h6M3788 5436h6M3777 5733h6M3795 5448h6M3836 5537h6M3797 5671h6M3812 5712h6M3772 5728h6M3773 5426h6M3770 5410h6M3807 5673h6M3794 5839h6M3801 5477h6M3753 5450h6M3814 5712h6M3782 5491h6M3767 5859h6M3767 5607h6M3804 5420h6M3830 5493h6M3746 5731h6M3781 5526h6M3803 5501h6M3784 5739h6M3795 5501h6M3785 5610h6M3769 5830h6M3784 5567h6M3774 5573h6M3754 5528h6M3757 5648h6M3796 5521h6M3772 5821h6M3769 5696h6M3757 5791h6M3785 5669h6M3811 5760h6M3790 5723h6M3808 5612h6M3757 5482h6M3768 5832h6M3800 5659h6M3822 5796h6M3812 5607h6M3755 5765h6M3802 5656h6M3787 5876h6M3790 5707h6M3797 5499h6M3762 5486h6M3783 5510h6M3792 5418h6M3808 5796h6M3777 5649h6M3786 5414h6M3761 5456h6M3798 5801h6M3810 5732h6M3768 5495h6M3769 5523h6M3751 5617h6M3778 5834h6M3792 5679h6M3769 5731h6M3798 5824h6M3817 5516h6M3805 5503h6M3754 5755h6M3790 5399h6M3767 5673h6M3789 5709h6M3754 5399h6M3809 5488h6M3799 5766h6M3810 5496h6M3793 5455h6M3785 5681h6M3809 5585h6M3812 5773h6M3783 5726h6M3777 5788h6M3785 5752h6M3827 5572h6M3779 5660h6M3771 5535h6M3813 5540h6M3779 5513h6M3779 5541h6M3798 5443h6M3788 5487h6M3790 5584h6M3775 5420h6M3787 5643h6M3802 5666h6M3779 5580h6M3771 5495h6M3783 5613h6M3777 5574h6M3771 5416h6M3768 5453h6M3752 5710h6M3797 5643h6M3766 5810h6M3788 5769h6M3780 5528h6M3791 5509h6M3799 5757h6M3786 5793h6M3778 5716h6M3798 5579h6M3819 5670h6M3782 5700h6M3783 5487h6M3794 5535h6M3758 5406h6M3772 5523h6M3788 5759h6M3791 5683h6M3780 5583h6M3772 5472h6M3785 5428h6M3805 5732h6M3794 5843h6M3791 5583h6M3785 5792h6M3792 5635h6M3814 5746h6M3784 5435h6M3777 5636h6M3749 5499h6M3769 5778h6M3800 5468h6M3793 5733h6M3806 5470h6M3753 5412h6M3787 5693h6M3799 5555h6M3757 5615h6M3755 5469h6M3777 5611h6M3743 5706h6M3755 5580h6M3804 5757h6M3768 5501h6M3810 5759h6M3809 5780h6M3781 5610h6M3762 5711h6M3770 5592h6M3769 5570h6M3765 5540h6M3771 5508h6M3767 5799h6M3800 5684h6M3760 5676h6M3747 5745h6M3784 5551h6M3773 5581h6M3802 5633h6M3810 5671h6M3743 5724h6M3763 5740h6M3766 5844h6M3771 5815h6M3782 5535h6M3793 5668h6M3779 5811h6M3772 5598h6M3772 5610h6M3806 5479h6M3790 5604h6M3786 5653h6M3795 5494h6M3776 5462h6M3805 5708h6M3801 5564h6M3775 5659h6M3796 5534h6M3775 5611h6M3784 5443h6M3803 5753h6M3786 5715h6M3774 5414h6M3788 5800h6M3799 5635h6M3777 5767h6M3768 5733h6M3789 5458h6M3791 5499h6M3760 5597h6M3740 5503h6M3768 5509h6M3787 5426h6M3789 5609h6M3778 5677h6M3762 5635h6M3788 5648h6M3818 5662h6M3720 5743h6M3797 5776h6M3771 5765h6M3774 5762h6M3758 5707h6M3775 5499h6M3800 5611h6M3735 5533h6M3797 5506h6M3773 5654h6M3828 5613h6M3811 5583h6M3779 5544h6M3755 5489h6M3742 5478h6M3789 5464h6M3737 5420h6M3801 5486h6M3791 5391h6M3791 5622h6M3822 5620h6M3778 5449h6M3772 5798h6M3784 5484h6M3806 5791h6M3806 5858h6M3807 5777h6M3760 5550h6M3826 5744h6M3812 5656h6M3792 5810h6M3786 5805h6M3780 5629h6M3762 5530h6M3768 5472h6M3803 5751h6M3754 5500h6M3789 5497h6M3783 5716h6M3780 5694h6M3771 5781h6M3735 5750h6M3793 5675h6M3778 5769h6M3795 5449h6M3790 5701h6M3785 5741h6M3756 5807h6M3816 5498h6M3766 5773h6M3825 5746h6M3761 5710h6M3761 5578h6M3757 5459h6M3818 5756h6M3769 5580h6M3814 5678h6M3801 5699h6M3802 5531h6M3765 5391h6M3783 5498h6M3801 5566h6M3749 5686h6M3821 5750h6M3778 5451h6M3815 5666h6M3814 5792h6M3790 5457h6M3748 5540h6M3739 5846h6M3827 5817h6M3765 5481h6M3792 5739h6M3777 5502h6M3787 5585h6M3773 5476h6M3785 5431h6M3778 5671h6M3788 5687h6M3766 5624h6M3770 5658h6M3802 5653h6M3783 5462h6M3782 5597h6M3772 5598h6M3798 5780h6M3774 5842h6M3755 5491h6M3795 5498h6M3804 5677h6M3779 5658h6M3774 5445h6M3738 5529h6M3778 5563h6M3803 5793h6M3811 5575h6M3791 5766h6M3754 5748h6M3777 5686h6M3786 5471h6M3759 5473h6M3793 5724h6M3762 5530h6M3782 5653h6M3789 5544h6M3757 5836h6M3771 5521h6M3744 5389h6M3778 5705h6M3771 5523h6M3787 5621h6M3799 5418h6M3755 5562h6M3798 5749h6M3787 5598h6M3766 5765h6M3756 5376h6M3789 5486h6M3793 5521h6M3780 5515h6M3792 5709h6M3782 5632h6M3803 5743h6M3790 5604h6M3776 5541h6M3821 5766h6M3764 5488h6M3764 5515h6M3797 5721h6M3793 5538h6M3799 5459h6M3765 5555h6M3778 5711h6M3799 5492h6M3781 5470h6M3782 5366h6M3752 5749h6M3789 5671h6M3772 5766h6M3811 5510h6M3771 5694h6M3793 5593h6M3834 5401h6M3756 5803h6M3766 5814h6M3795 5690h6M3784 5687h6M3808 5406h6M3787 5706h6M3787 5791h6M3787 5620h6M3761 5617h6M3785 5455h6M3784 5636h6M3770 5663h6M3764 5612h6M3756 5801h6M3790 5545h6M3816 5592h6M3772 5488h6M3821 5720h6M3780 5714h6M3804 5537h6M3789 5672h6M3785 5533h6M3802 5531h6M3791 5465h6M3763 5572h6M3790 5443h6M3787 5613h6M3782 5693h6M3792 5813h6M3781 5663h6M3779 5477h6M3755 5774h6M3783 5468h6M3799 5497h6M3786 5548h6M3798 5753h6M3773 5739h6M3766 5431h6M3806 5676h6M3763 5675h6M3783 5705h6M3798 5638h6M3756 5562h6M3766 5742h6M3759 5677h6M3792 5650h6M3797 5587h6M3772 5693h6M3817 5634h6M3810 5598h6M3767 5628h6M3784 5409h6M3795 5821h6M3759 5718h6M3774 5492h6M3806 5567h6M3805 5715h6M3780 5566h6M3749 5795h6M3824 5840h6M3771 5737h6M3787 5463h6M3774 5684h6M3808 5633h6M3761 5723h6M3758 5613h6M3815 5592h6M3744 5619h6M3797 5659h6M3782 5712h6M3802 5736h6M3747 5777h6M3799 5555h6M3802 5606h6M3743 5540h6M3816 5595h6M3806 5437h6M3781 5529h6M3769 5805h6M3784 5688h6M3749 5729h6M3794 5394h6M3781 5593h6M3786 5842h6M3777 5651h6M3780 5588h6M3800 5758h6M3789 5597h6M3760 5428h6M3778 5814h6M3786 5467h6M3761 5531h6M3805 5719h6M3806 5550h6M3794 5775h6M3779 5697h6M3803 5450h6M3805 5839h6M3784 5558h6M3799 5623h6M3788 5762h6M3767 5811h6M3745 5708h6M3785 5534h6M3749 5500h6M3732 5519h6M3780 5478h6M3795 5507h6M3770 5516h6M3741 5521h6M3825 5508h6M3771 5434h6M3794 5805h6M3812 5820h6M3788 5812h6M3774 5517h6M3775 5559h6M3787 5595h6M3799 5419h6M3770 5771h6M3776 5608h6M3812 5728h6M3788 5839h6M3792 5818h6M3824 5807h6M3770 5510h6M3803 5509h6M3808 5784h6M3801 5613h6M3788 5613h6M3795 5514h6M3755 5570h6M3792 5567h6M3777 5498h6M3788 5421h6M3775 5471h6M3810 5783h6M3757 5777h6M3734 5558h6M3770 5678h6M3809 5433h6M3804 5695h6M3772 5389h6M3794 5510h6M3812 5524h6M3782 5571h6M3811 5457h6M3819 5742h6M3824 5542h6M3757 5737h6M3770 5815h6M3786 5629h6M3772 5651h6M3798 5726h6M3779 5594h6M3788 5607h6M3792 5821h6M3801 5567h6M3758 5666h6M3824 5721h6M3785 5458h6M3772 5381h6M3764 5487h6M3773 5721h6M3759 5817h6M3729 5572h6M3802 5696h6M3765 5473h6M3774 5506h6M3794 5793h6M3807 5642h6M3750 5508h6M3758 5831h6M3782 5484h6M3776 5616h6M3794 5682h6M3788 5820h6M3764 5749h6M3805 5806h6M3789 5405h6M3789 5574h6M3753 5734h6M3795 5465h6M3772 5492h6M3781 5513h6M3757 5839h6M3769 5661h6M3793 5551h6M3793 5482h6M3809 5434h6M3770 5667h6M3744 5506h6M3818 5641h6M3800 5541h6M3781 5717h6M3771 5732h6M3806 5680h6M3789 5558h6M3788 5828h6M3801 5732h6M3779 5777h6M3804 5578h6M3799 5541h6M3799 5762h6M3779 5714h6M3782 5454h6M3786 5575h6M3795 5801h6M3831 5813h6M3766 5463h6M3782 5804h6M3771 5465h6M3779 5482h6M3755 5630h6M3777 5534h6M3774 5697h6M3778 5603h6M3762 5453h6M3791 5775h6M3787 5640h6M3782 5420h6M3765 5545h6M3760 5819h6M3807 5548h6M3801 5417h6M3782 5461h6M3763 5490h6M3777 5764h6M3776 5593h6M3794 5761h6M3761 5422h6M3797 5519h6M3800 5447h6M3794 5490h6M3785 5475h6M3778 5751h6M3773 5422h6M3823 5547h6M3792 5431h6M3794 5592h6M3751 5764h6M3799 5725h6M3819 5510h6M3788 5570h6M3790 5550h6M3771 5748h6M3787 5669h6M3771 5516h6M3790 5601h6M3790 5641h6M3797 5537h6M3774 5824h6M3821 5834h6M3782 5656h6M3808 5469h6M3785 5616h6M3785 5458h6M3804 5775h6M3756 5393h6M3785 5474h6M3797 5731h6M3781 5822h6M3792 5777h6M3821 5592h6M3778 5500h6M3811 5735h6M3761 5513h6M3789 5840h6M3795 5618h6M3786 5554h6M3775 5877h6M3753 5638h6M3803 5411h6M3766 5593h6M3831 5719h6M3748 5419h6M3764 5794h6M3810 5749h6M3799 5738h6M3799 5536h6M3785 5722h6M3782 5643h6M3802 5542h6M3773 5550h6M3780 5551h6M3792 5649h6M3794 5621h6M3788 5592h6M3787 5486h6M3784 5435h6M3783 5566h6M3798 5597h6M3796 5477h6M3766 5692h6M3732 5704h6M3813 5781h6M3781 5685h6M3766 5419h6M3802 5698h6M3790 5583h6M3768 5525h6M3762 5724h6M3789 5715h6M3835 5427h6M3786 5768h6M3786 5584h6M3762 5718h6M3795 5714h6M3806 5681h6M3784 5579h6M3776 5466h6M3787 5858h6M3766 5512h6M3791 5520h6M3779 5662h6M3789 5509h6M3782 5511h6M3767 5503h6M3783 5489h6M3820 5810h6M3812 5817h6M3776 5639h6M3784 5643h6M3801 5527h6M3787 5677h6M3769 5726h6M3773 5562h6M3777 5715h6M3750 5676h6M3771 5599h6M3780 5494h6M3809 5652h6M3787 5763h6M3750 5618h6M3790 5595h6M3771 5694h6M3806 5416h6M3787 5776h6M3745 5411h6M3787 5739h6M3780 5709h6M3797 5696h6M3755 5834h6M3801 5506h6M3768 5447h6M3812 5795h6M3787 5788h6M3785 5464h6M3838 5542h6M3764 5420h6M3802 5791h6M3750 5757h6M3778 5493h6M3770 5487h6M3810 5392h6M3806 5692h6M3793 5718h6M3772 5549h6M3789 5442h6M3760 5674h6M3790 5654h6M3798 5483h6M3778 5468h6M3798 5597h6M3814 5670h6M3771 5620h6M3786 5787h6M3802 5498h6M3765 5427h6M3810 5479h6M3761 5499h6M3784 5624h6M3757 5672h6M3805 5832h6M3794 5609h6M3747 5509h6M3795 5714h6M3769 5482h6M3822 5606h6M3810 5421h6M3798 5604h6M3810 5726h6M3769 5832h6M3802 5527h6M3762 5513h6M3777 5839h6M3814 5583h6M3803 5450h6M3748 5752h6M3781 5413h6M3804 5397h6M3826 5697h6M3813 5622h6M3757 5604h6M3792 5491h6M3794 5819h6M3787 5593h6M3807 5755h6M3781 5720h6M3750 5638h6M3765 5768h6M3776 5598h6M3811 5416h6M3789 5520h6M3756 5807h6M3815 5637h6M3798 5705h6M3775 5809h6M3784 5524h6M3754 5432h6M3797 5672h6M3789 5640h6M3768 5790h6M3813 5658h6M3756 5477h6M3807 5778h6M3799 5594h6M3789 5489h6M3773 5555h6M3809 5544h6M3778 5731h6M3784 5720h6M3774 5573h6M3777 5571h6M3790 5492h6M3798 5596h6M3799 5449h6M3784 5789h6M3774 5446h6M3752 5664h6M3762 5802h6M3774 5540h6M3776 5793h6M3771 5650h6M3812 5471h6M3790 5626h6M3777 5595h6M3799 5700h6M3771 5804h6M3756 5502h6M3767 5704h6M3817 5843h6M3794 5798h6M3793 5652h6M3785 5575h6M3788 5678h6M3783 5608h6M3755 5752h6M3792 5502h6M3810 5781h6M3773 5594h6M3807 5427h6M3827 5569h6M3813 5473h6M3811 5760h6M3790 5459h6M3789 5626h6M3780 5489h6M3785 5488h6M3800 5584h6M3819 5749h6M3752 5680h6M3743 5672h6M3785 5798h6M3788 5446h6M3818 5692h6M3784 5442h6M3814 5541h6M3789 5637h6M3770 5740h6M3773 5708h6M3770 5373h6M3778 5635h6M3786 5709h6M3763 5546h6M3796 5546h6M3783 5647h6M3770 5691h6M3773 5789h6M3787 5559h6M3780 5397h6M3793 5802h6M3792 5610h6M3775 5470h6M3801 5583h6M3797 5527h6M3797 5765h6M3790 5757h6M3807 5459h6M3776 5489h6M3762 5740h6M3811 5480h6M3782 5752h6M3792 5596h6M3763 5740h6M3756 5456h6M3807 5642h6M3797 5736h6M3756 5762h6M3749 5813h6M3755 5590h6M3780 5554h6M3801 5794h6M3765 5646h6M3777 5771h6M3811 5577h6M3807 5526h6M3793 5462h6M3759 5588h6M3820 5516h6M3778 5806h6M3782 5832h6M3820 5742h6M3784 5733h6M3802 5632h6M3778 5472h6M3769 5493h6M3779 5681h6M3806 5722h6M3791 5727h6M3749 5564h6M3783 5689h6M3785 5795h6M3778 5594h6M3771 5825h6M3784 5461h6M3762 5777h6M3755 5442h6M3787 5805h6M3806 5384h6M3756 5413h6M3824 5832h6M3798 5532h6M3795 5661h6M3792 5517h6M3805 5599h6M3782 5427h6M3772 5622h6M3810 5619h6M3795 5562h6M3798 5716h6M3798 5668h6M3801 5459h6M3774 5517h6M3797 5802h6M3789 5411h6M3752 5651h6M3834 5803h6M3750 5780h6M3797 5469h6M3800 5572h6M3826 5595h6M3790 5521h6M3752 5645h6M3792 5522h6M3814 5488h6M3762 5500h6M3789 5822h6M3786 5696h6M3782 5614h6M3755 5734h6M3804 5429h6M3774 5739h6M3789 5632h6M3785 5543h6M3811 5735h6M3815 5636h6M3798 5811h6M3798 5802h6M3765 5818h6M3781 5825h6M3758 5460h6M3793 5547h6M3792 5426h6M3784 5500h6M3757 5600h6M3805 5568h6M3753 5621h6M3749 5404h6M3788 5838h6M3779 5648h6M3803 5773h6M3770 5554h6M3793 5726h6M3788 5573h6M3775 5438h6M3758 5529h6M3776 5548h6M3807 5424h6M3814 5761h6M3776 5721h6M3773 5614h6M3755 5595h6M3788 5570h6M3761 5677h6M3772 5830h6M3780 5452h6M3795 5849h6M3801 5831h6M3764 5832h6M3807 5523h6M3805 5596h6M3808 5782h6M3784 5462h6M3752 5725h6M3787 5703h6M3796 5529h6M3785 5711h6M3787 5587h6M3787 5783h6M3756 5446h6M3809 5688h6M3767 5782h6M3823 5600h6M3789 5464h6M3772 5581h6M3767 5588h6M3791 5677h6M3794 5709h6M3821 5813h6M3819 5446h6M3773 5594h6M3777 5746h6M3795 5816h6M3810 5696h6M3770 5810h6M3807 5673h6M3776 5409h6M3801 5472h6M3776 5453h6M3803 5643h6M3817 5686h6M3787 5438h6M3800 5797h6M3803 5690h6M3764 5677h6M3798 5743h6M3780 5385h6M3788 5380h6M3767 5442h6M3783 5857h6M3753 5719h6M3755 5664h6M3789 5733h6M3770 5470h6M3803 5430h6M3761 5441h6M3818 5775h6M3743 5626h6M3757 5673h6M3808 5568h6M3774 5727h6M3778 5533h6M3753 5555h6M3795 5591h6M3774 5537h6M3766 5439h6M3774 5592h6M3802 5697h6M3767 5788h6M3813 5797h6M3778 5801h6M3799 5861h6M3787 5701h6M3748 5512h6M3806 5609h6M3786 5644h6M3770 5699h6M3812 5616h6M3822 5445h6M3755 5703h6M3793 5543h6M3770 5497h6M3806 5772h6M3751 5498h6M3828 5461h6M3790 5604h6M3801 5679h6M3752 5593h6M3806 5644h6M3775 5643h6M3802 5709h6M3770 5539h6M3789 5766h6M3793 5611h6M3812 5527h6M3765 5812h6M3763 5554h6M3791 5693h6M3765 5692h6M3809 5422h6M3778 5621h6M3774 5557h6M3804 5553h6M3802 5745h6M3767 5538h6M3791 5473h6M3780 5766h6M3791 5504h6M3763 5767h6M3793 5524h6M3779 5592h6M3761 5824h6M3786 5487h6M3779 5440h6M3814 5571h6M3795 5782h6M3786 5759h6M3769 5661h6M3785 5660h6M3784 5532h6M3835 5714h6M3773 5581h6M3763 5490h6M3830 5502h6M3793 5705h6M3753 5835h6M3808 5658h6M3767 5656h6M3812 5530h6M3769 5503h6M3769 5726h6M3796 5662h6M3749 5733h6M3783 5520h6M3800 5714h6M3789 5555h6M3800 5520h6M3770 5622h6M3821 5754h6M3789 5442h6M3809 5785h6M3771 5420h6M3775 5480h6M3785 5563h6M3823 5505h6M3768 5408h6M3771 5732h6M3763 5651h6M3741 5699h6M3770 5686h6M3758 5691h6M3759 5439h6M3775 5584h6M3789 5755h6M3768 5683h6M3767 5484h6M3764 5446h6M3778 5520h6M3788 5630h6M3780 5800h6M3846 5564h6M3770 5803h6M3764 5673h6M3781 5810h6M3792 5440h6M3791 5634h6M3774 5671h6M3800 5644h6M3785 5740h6M3789 5712h6M3784 5447h6M3755 5631h6M3787 5624h6M3822 5725h6M3808 5623h6M3787 5643h6M3778 5813h6M3795 5528h6M3749 5592h6M3807 5634h6M3757 5564h6M3817 5659h6M3789 5723h6M3778 5687h6M3804 5610h6M3809 5676h6M3790 5710h6M3792 5471h6M3815 5652h6M3792 5553h6M3810 5846h6M3815 5624h6M3801 5746h6M3747 5393h6M3791 5865h6M3779 5552h6M3782 5706h6M3749 5769h6M3769 5568h6M3814 5789h6M3780 5746h6M3790 5624h6M3761 5814h6M3781 5722h6M3744 5770h6M3739 5522h6M3791 5700h6M3782 5691h6M3771 5637h6M3763 5498h6M3756 5758h6M3774 5558h6M3763 5553h6M3776 5579h6M3780 5694h6M3787 5574h6M3805 5571h6M3751 5456h6M3784 5489h6M3776 5854h6M3783 5518h6M3811 5473h6M3794 5478h6M3763 5455h6M3802 5359h6M3770 5796h6M3815 5675h6M3793 5367h6M3787 5434h6M3781 5500h6M3797 5573h6M3779 5864h6M3770 5561h6M3753 5782h6M3785 5622h6M3793 5476h6M3740 5746h6M3744 5615h6M3762 5625h6M3769 5812h6M3763 5444h6M3810 5827h6M3775 5692h6M3781 5640h6M3747 5646h6M3770 5409h6M3780 5855h6M3809 5541h6M3778 5582h6M3775 5706h6M3786 5603h6M3772 5656h6M3762 5616h6M3786 5509h6M3814 5578h6M3770 5566h6M3760 5696h6M3781 5640h6M3807 5638h6M3790 5452h6M3803 5803h6M3788 5621h6M3761 5612h6M3798 5669h6M3807 5422h6M3781 5826h6M3802 5750h6M3768 5739h6M3754 5405h6M3776 5634h6M3800 5742h6M3822 5803h6M3750 5670h6M3810 5718h6M3760 5693h6M3773 5793h6M3801 5519h6M3791 5707h6M3773 5637h6M3762 5394h6M3753 5741h6M3782 5419h6M3793 5623h6M3796 5664h6M3806 5591h6M3773 5482h6M3769 5699h6M3770 5836h6M3771 5761h6M3779 5399h6M3824 5651h6M3777 5496h6M3768 5502h6M3785 5575h6M3775 5673h6M3802 5606h6M3757 5619h6M3824 5414h6M3815 5807h6M3740 5685h6M3800 5622h6M3774 5770h6M3784 5469h6M3800 5684h6M3778 5743h6M3827 5518h6M3756 5489h6M3757 5599h6M3791 5394h6M3772 5770h6M3792 5434h6M3782 5505h6M3751 5818h6M3777 5473h6M3747 5555h6M3788 5738h6M3802 5685h6M3816 5732h6M3757 5809h6M3784 5420h6M3787 5457h6M3760 5719h6M3794 5543h6M3797 5593h6M3772 5650h6M3800 5790h6M3804 5572h6M3775 5542h6M3745 5621h6M3790 5706h6M3797 5694h6M3776 5598h6M3779 5604h6M3801 5784h6M3770 5813h6M3800 5660h6M3801 5485h6M3779 5792h6M3753 5683h6M3763 5399h6M3761 5788h6M3794 5794h6M3782 5802h6M3762 5554h6M3790 5522h6M3797 5447h6M3790 5868h6M3816 5544h6M3804 5544h6M3799 5770h6M3775 5681h6M3758 5667h6M3779 5587h6M3760 5434h6M3772 5483h6M3815 5667h6M3755 5792h6M3781 5437h6M3803 5601h6M3789 5749h6M3795 5764h6M3730 5790h6M3800 5570h6M3750 5434h6M3761 5406h6M3789 5502h6M3758 5593h6M3782 5700h6M3791 5655h6M3778 5581h6M3791 5493h6M3805 5519h6M3813 5835h6M3786 5532h6M3801 5668h6M3768 5775h6M3807 5754h6M3773 5764h6M3794 5507h6M3772 5441h6M3775 5643h6M3767 5797h6M3790 5554h6M3794 5434h6M3744 5515h6M3754 5448h6M3764 5812h6M3833 5775h6M3774 5813h6M3774 5671h6M3793 5573h6M3796 5690h6M3809 5456h6M3789 5853h6M3769 5707h6M3771 5526h6M3749 5452h6M3836 5469h6M3785 5755h6M3799 5394h6M3759 5478h6M3794 5704h6M3796 5657h6M3827 5434h6M3793 5662h6M3783 5679h6M3787 5522h6M3750 5675h6M3786 5745h6M3804 5617h6M3784 5640h6M3756 5519h6M3797 5856h6M3816 5537h6M3766 5823h6M3777 5489h6M3763 5798h6M3780 5618h6M3789 5531h6M3783 5461h6M3795 5534h6M3763 5599h6M3762 5552h6M3810 5595h6M3814 5732h6M3786 5828h6M3763 5820h6M3780 5689h6M3770 5812h6M3752 5668h6M3766 5445h6M3783 5863h6M3775 5791h6M3775 5686h6M3776 5575h6M3809 5550h6M3741 5672h6M3752 5539h6M3774 5738h6M3781 5749h6M3803 5483h6M3805 5679h6M3781 5384h6M3758 5486h6M3740 5619h6M3795 5823h6M3759 5757h6M3779 5463h6M3788 5522h6M3781 5685h6M3812 5506h6M3751 5546h6M3765 5432h6M3802 5654h6M3769 5479h6M3804 5663h6M3788 5613h6M3784 5709h6M3784 5585h6M3798 5498h6M3789 5641h6M3780 5781h6M3783 5614h6M3811 5454h6M3814 5484h6M3801 5644h6M3756 5573h6M3782 5731h6M3745 5483h6M3774 5531h6M3798 5697h6M3765 5532h6M3794 5584h6M3794 5788h6M3817 5383h6M3774 5832h6M3798 5603h6M3792 5430h6M3776 5571h6M3806 5427h6M3762 5725h6M3762 5677h6M3773 5675h6M3788 5627h6M3802 5610h6M3822 5405h6M3792 5747h6M3795 5486h6M3791 5686h6M3813 5645h6M3777 5478h6M3776 5387h6M3807 5703h6M3765 5738h6M3771 5741h6M3769 5491h6M3787 5689h6M3796 5416h6M3804 5724h6M3786 5809h6M3794 5521h6M3788 5701h6M3802 5371h6M3785 5668h6M3784 5649h6M3815 5719h6M3810 5554h6M3807 5717h6M3764 5589h6M3749 5694h6M3788 5625h6M3770 5595h6M3778 5627h6M3781 5507h6M3763 5551h6M3776 5703h6M3779 5581h6M3785 5421h6M3808 5808h6M3788 5583h6M3810 5521h6M3787 5827h6M3824 5701h6M3763 5718h6M3788 5656h6M3764 5831h6M3779 5505h6M3818 5814h6M3799 5561h6M3806 5570h6M3782 5615h6M3802 5803h6M3797 5760h6M3789 5823h6M3819 5783h6M3785 5565h6M3776 5612h6M3774 5531h6M3791 5681h6M3767 5519h6M3786 5620h6M3762 5538h6M3766 5747h6M3781 5428h6M3784 5474h6M3784 5635h6M3797 5744h6M3770 5429h6M3777 5574h6M3756 5669h6M3800 5565h6M3786 5736h6M3796 5810h6M3775 5540h6M3789 5733h6M3789 5463h6M3776 5555h6M3751 5663h6M3807 5566h6M3771 5455h6M3800 5503h6M3797 5453h6M3766 5551h6M3804 5417h6M3772 5598h6M3790 5433h6M3738 5639h6M3796 5447h6M3806 5439h6M3799 5426h6M3803 5796h6M3824 5439h6M3799 5483h6M3783 5646h6M3773 5666h6M3787 5475h6M3774 5783h6M3802 5738h6M3819 5815h6M3790 5415h6M3829 5672h6M3753 5594h6M3746 5790h6M3743 5665h6M3780 5482h6M3796 5609h6M3755 5421h6M3771 5754h6M3774 5662h6M3766 5799h6M3767 5580h6M3772 5624h6M3773 5695h6M3799 5671h6M3787 5467h6M3767 5424h6M3788 5655h6M3806 5551h6M3784 5706h6M3786 5583h6M3757 5640h6M3784 5592h6M3800 5786h6M3815 5599h6M3780 5800h6M3788 5765h6M3786 5449h6M3802 5762h6M3760 5524h6M3794 5485h6M3781 5682h6M3776 5471h6M3791 5404h6M3777 5464h6M3795 5709h6M3793 5461h6M3807 5591h6M3785 5805h6M3758 5778h6M3760 5367h6M3747 5588h6M3794 5755h6M3765 5553h6M3741 5577h6M3824 5669h6M3750 5835h6M3750 5516h6M3768 5521h6M3757 5641h6M3722 5594h6M3790 5785h6M3804 5708h6M3799 5395h6M3785 5535h6M3790 5673h6M3751 5462h6M3804 5545h6M3760 5386h6M3800 5748h6M3759 5644h6M3747 5567h6M3738 5681h6M3824 5639h6M3773 5686h6M3778 5596h6M3796 5764h6M3809 5572h6M3776 5642h6M3778 5611h6M3782 5482h6M3780 5796h6M3814 5817h6M3799 5808h6M3780 5716h6M3797 5807h6M3797 5587h6M3785 5755h6M3786 5406h6M3768 5749h6M3833 5537h6M3755 5397h6M3778 5471h6M3757 5421h6M3790 5545h6M3762 5410h6M3812 5668h6M3768 5546h6M3812 5581h6M3771 5521h6M3781 5763h6M3767 5714h6M3792 5501h6M3792 5717h6M3765 5558h6M3792 5433h6M3790 5551h6M3782 5459h6M3773 5564h6M3767 5745h6M3819 5475h6M3795 5473h6M3778 5622h6M3824 5801h6M3777 5463h6M3777 5533h6M3848 5523h6M3782 5602h6M3773 5589h6M3811 5582h6M3791 5818h6M3756 5555h6M3769 5656h6M3808 5728h6M3781 5650h6M3802 5523h6M3785 5660h6M3779 5385h6M3779 5562h6M3788 5591h6M3786 5831h6M3755 5575h6M3825 5759h6M3750 5626h6M3758 5595h6M3806 5591h6M3818 5731h6M3782 5800h6M3764 5650h6M3755 5591h6M3783 5694h6M3814 5487h6M3788 5614h6"/>
<path transform="scale(.1)" fill="none" stroke="#858585" stroke-width="6" d="M3801 5678h6M3787 5472h6M3792 5631h6M3724 5626h6M3756 5674h6M3817 5635h6M3688 5627h6M3737 5568h6M3771 5763h6M3750 5680h6M3802 5469h6M3795 5754h6M3824 5637h6M3814 5525h6M3740 5591h6M3779 5641h6M3809 5640h6M3781 5835h6M3805 5733h6M3756 5855h6M3778 5754h6M3822 5742h6M3770 5493h6M3802 5554h6M3758 5576h6M3875 5477h6M3751 5709h6M3776 5669h6M3773 5431h6M3766 5648h6M3804 5479h6M3769 5616h6M3800 5561h6M3735 5658h6M3812 5473h6M3797 5414h6M3779 5566h6M3763 5705h6M3847 5564h6M3779 5775h6M3766 5740h6M3765 5725h6M3847 5407h6M3763 5438h6M3753 5654h6M3716 5558h6M3783 5798h6M3781 5736h6M3853 5664h6M3779 5509h6M3726 5854h6M3794 5656h6M3820 5497h6M3764 5820h6M3830 5431h6M3763 5568h6M3744 5548h6M3758 5597h6M3818 5545h6M3846 5658h6M3749 5504h6M3796 5554h6M3756 5564h6M3809 5647h6M3797 5537h6M3840 5790h6M3760 5550h6M3763 5611h6M3752 5509h6M3858 5551h6M3795 5607h6M3785 5579h6M3756 5494h6M3747 5455h6M3744 5731h6M3750 5621h6M3857 5792h6M3796 5745h6M3810 5628h6M3814 5520h6M3883 5490h6M3822 5598h6M3792 5543h6M3721 5656h6M3782 5405h6M3880 5826h6M3764 5627h6M3826 5756h6M3790 5485h6M3768 5697h6M3815 5505h6M3759 5635h6M3758 5541h6M3793 5575h6M3776 5422h6M3756 5720h6M3761 5728h6M3741 5764h6M3825 5687h6M3816 5782h6M3772 5713h6M3868 5703h6M3768 5795h6M3708 5521h6M3821 5477h6M3761 5623h6M3747 5509h6M3762 5449h6M3783 5630h6M3797 5640h6M3696 5423h6M3759 5685h6M3832 5648h6M3750 5412h6M3734 5640h6M3805 5756h6M3760 5452h6M3769 5765h6M3775 5706h6M3768 5543h6M3849 5820h6M3803 5666h6M3812 5523h6M3755 5609h6M3725 5704h6M3756 5733h6M3776 5453h6M3773 5475h6M3814 5679h6M3828 5516h6M3767 5656h6M3804 5540h6M3784 5811h6M3753 5663h6M3809 5433h6M3797 5439h6M3782 5638h6M3761 5720h6M3815 5474h6M3811 5586h6M3749 5767h6M3770 5825h6M3829 5390h6M3839 5466h6M3787 5572h6M3825 5478h6M3766 5660h6M3806 5627h6M3816 5817h6M3769 5490h6M3765 5611h6M3840 5451h6M3724 5470h6M3826 5620h6M3785 5710h6M3799 5783h6M3775 5661h6M3827 5543h6M3794 5719h6M3793 5771h6M3818 5779h6M3799 5437h6M3811 5486h6M3785 5639h6M3818 5797h6M3791 5652h6M3838 5799h6M3758 5661h6M3805 5579h6M3798 5839h6M3778 5659h6M3827 5767h6M3773 5670h6M3853 5586h6M3766 5448h6M3756 5810h6M3794 5607h6M3797 5812h6M3822 5832h6M3762 5554h6M3753 5640h6M3840 5734h6M3773 5598h6M3779 5492h6M3790 5807h6M3830 5531h6M3791 5731h6M3758 5819h6M3780 5770h6M3773 5542h6M3816 5593h6M3775 5505h6M3741 5375h6M3821 5777h6M3803 5806h6M3765 5453h6M3824 5814h6M3720 5738h6M3758 5788h6M3763 5611h6M3796 5563h6M3804 5634h6M3779 5646h6M3810 5772h6M3802 5631h6M3821 5666h6M3787 5535h6M3789 5547h6M3779 5589h6M3787 5789h6M3808 5500h6M3777 5457h6M3732 5475h6M3779 5563h6M3717 5654h6M3788 5725h6M3738 5627h6M3756 5702h6M3829 5799h6M3751 5462h6M3817 5557h6M3778 5414h6M3801 5783h6M3771 5900h6M3775 5563h6M3778 5828h6M3773 5626h6M3764 5611h6M3787 5785h6M3777 5677h6M3794 5532h6M3828 5756h6M3796 5553h6M3774 5484h6M3761 5787h6M3791 5412h6M3808 5342h6M3857 5568h6M3774 5525h6M3723 5464h6M3689 5694h6M3743 5534h6M3757 5414h6M3762 5530h6M3813 5711h6M3819 5474h6M3823 5721h6M3783 5791h6M3762 5536h6M3812 5607h6M3785 5491h6M3825 5588h6M3772 5691h6M3826 5554h6M3797 5491h6M3788 5672h6M3835 5411h6M3755 5716h6M3830 5669h6M3738 5793h6M3842 5463h6M3777 5598h6M3733 5765h6M3757 5574h6M3793 5671h6M3812 5682h6M3797 5403h6M3812 5612h6M3781 5765h6M3764 5692h6M3836 5573h6M3763 5676h6M3776 5728h6M3784 5559h6M3754 5844h6M3779 5422h6M3799 5887h6M3766 5533h6M3777 5627h6M3712 5487h6M3831 5600h6M3793 5554h6M3769 5729h6M3834 5666h6M3717 5557h6M3758 5681h6M3766 5537h6M3743 5599h6M3734 5812h6M3809 5765h6M3817 5851h6M3770 5561h6M3797 5801h6M3747 5824h6M3808 5761h6M3798 5691h6M3779 5527h6M3801 5509h6M3795 5735h6M3852 5399h6"/>
<path transform="scale(.1)" fill="none" stroke="#3350a8" stroke-width="6" d="M4117 5740h6M3929 5546h6M4092 5445h6M4152 5457h6M4027 5512h6M3994 5749h6M4114 5724h6M4072 5682h6M4139 5479h6M4068 5794h6M4151 5428h6M4088 5749h6M4038 5466h6M4098 5843h6M4013 5707h6M4153 5820h6M4051 5721h6M4114 5566h6M3996 5424h6M4076 5856h6M4129 5691h6M4191 5485h6M4038 5582h6M4081 5832h6M3902 5607h6M3993 5555h6M4053 5542h6M4069 5795h6M4043 5646h6M3970 5418h6M4151 5750h6M3976 5586h6M4019 5502h6M4152 5494h6M4103 5869h6M4187 5670h6M4121 5507h6M4121 5799h6M4077 5812h6M3928 5680h6M4038 5496h6M4015 5818h6M3968 5805h6M3944 5788h6M4101 5839h6M4104 5558h6M3976 5597h6M4025 5734h6M4034 5646h6M3965 5521h6M4103 5838h6M4134 5630h6M4046 5672h6M3922 5712h6M4143 5470h6M4175 5746h6M3955 5681h6M4109 5427h6M4018 5604h6M4187 5744h6M4140 5702h6M3972 5836h6M4133 5680h6M4125 5813h6M4036 5837h6M3942 5755h6M3931 5768h6M4055 5829h6M4029 5626h6M4110 5530h6M4015 5541h6M4018 5633h6M4130 5618h6M3946 5560h6M3952 5600h6M4106 5564h6M4214 5609h6M4146 5472h6M4171 5747h6M4150 5683h6M3904 5615h6M3941 5692h6M3954 5751h6M3953 5729h6M4003 5523h6M4057 5823h6M3949 5457h6M4025 5599h6M3915 5679h6M4113 5700h6M3948 5522h6M4075 5512h6M4112 5840h6M3947 5637h6M4073 5692h6M3931 5575h6M4002 5604h6M4154 5648h6M4110 5798h6M4127 5669h6M4134 5676h6M3929 5482h6M4063 5510h6M3997 5772h6M4173 5779h6M4045 5852h6M4134 5701h6M4049 5419h6M4048 5562h6M4134 5556h6M4070 5892h6M4026 5678h6M3970 5692h6M4075 5615h6M3989 5457h6M4070 5590h6M4178 5578h6M4156 5485h6M4039 5576h6M4150 5760h6M4099 5780h6M3936 5513h6M4042 5594h6M4129 5780h6M4091 5711h6M4148 5375h6M3960 5746h6M4061 5656h6M4040 5467h6M4103 5533h6M4124 5457h6M3953 5567h6M4082 5634h6M4101 5604h6M3973 5542h6M3957 5440h6M3928 5446h6M4130 5803h6M4018 5540h6M4086 5563h6M4055 5578h6M4109 5649h6M4179 5481h6M4160 5851h6M4135 5491h6M4072 5512h6M4024 5749h6M3941 5492h6M3939 5487h6M3992 5566h6M4093 5652h6M4069 5515h6M3960 5527h6M4016 5510h6M4020 5765h6M3952 5735h6M4113 5728h6M4093 5458h6M4141 5719h6M4101 5490h6M4083 5567h6M4083 5568h6M4004 5767h6M3920 5702h6M4070 5417h6M4072 5467h6M4042 5818h6M3985 5540h6M3967 5822h6M4001 5764h6M4107 5781h6M4129 5755h6M4093 5689h6M3994 5627h6M4039 5539h6M4105 5555h6M4109 5669h6M4000 5727h6M3987 5521h6M4138 5744h6M4154 5804h6M3994 5793h6M3919 5725h6M4118 5539h6M3950 5731h6M4048 5437h6M4155 5509h6M4084 5480h6M4163 5766h6M4094 5509h6M4076 5642h6M4154 5766h6M4059 5849h6M3998 5656h6M4128 5730h6M4141 5511h6M4046 5449h6M3932 5444h6M3966 5620h6M4036 5597h6M4034 5742h6M4047 5685h6M4071 5699h6M4170 5613h6M4176 5430h6M4035 5572h6M4077 5546h6M4101 5512h6M3940 5846h6M3981 5505h6M3992 5559h6M3935 5641h6M3938 5613h6M4016 5590h6M3959 5511h6M3960 5724h6M3946 5771h6M4056 5495h6M4191 5685h6M4151 5571h6M4043 5669h6M3990 5737h6M4189 5751h6M4098 5568h6M3989 5603h6M3971 5659h6M4000 5603h6M3971 5770h6M4028 5763h6M4012 5547h6M4127 5755h6M4066 5634h6M4110 5574h6M4105 5669h6M4160 5625h6M3962 5782h6M3919 5539h6M4154 5621h6M4006 5617h6M4138 5678h6M4005 5635h6M4025 5719h6M4143 5405h6M3985 5642h6M4039 5470h6M4016 5483h6M4035 5827h6M4040 5629h6M4178 5572h6M4134 5469h6M4201 5905h6M4012 5611h6M4042 5595h6M4107 5794h6M4089 5561h6M3976 5790h6M4183 5565h6M3948 5746h6M4125 5671h6M4150 5717h6M4104 5829h6M4018 5614h6M3892 5587h6M3980 5714h6M3972 5810h6M3948 5752h6M3919 5856h6M4103 5536h6M4074 5747h6M4177 5656h6M4004 5727h6M3957 5588h6M3963 5585h6M4007 5683h6M4085 5588h6M4162 5671h6M3962 5506h6M4137 5751h6M4108 5763h6M3993 5609h6M4007 5729h6M4050 5583h6M4118 5546h6M3981 5617h6M3930 5723h6M3966 5545h6M3992 5548h6M3956 5409h6M4081 5814h6M4147 5568h6M4129 5497h6M3973 5648h6M4105 5450h6M3964 5759h6M4052 5517h6M4027 5778h6M3969 5615h6M4004 5679h6M4048 5599h6M4004 5701h6M4033 5744h6M4131 5755h6M4127 5602h6M4043 5522h6M4120 5511h6M3928 5601h6M4148 5824h6M4066 5396h6M4192 5423h6M4049 5576h6M4069 5875h6M4039 5615h6M3884 5461h6M4075 5499h6M4178 5627h6M3991 5651h6M4153 5729h6M3963 5681h6M4066 5441h6M3939 5745h6M4093 5706h6M4035 5805h6M4179 5682h6M4108 5448h6M4053 5538h6M4063 5586h6M3956 5595h6M3955 5722h6M4027 5438h6M3900 5634h6M4107 5522h6M4042 5501h6M4058 5766h6M3952 5558h6M4112 5675h6M4060 5501h6M4141 5690h6M3983 5643h6M4045 5522h6M4030 5681h6M3951 5547h6M4066 5552h6M3998 5737h6M4111 5803h6M3985 5523h6M4087 5423h6M3966 5825h6M3970 5573h6M4166 5570h6M3982 5588h6M4201 5763h6M3963 5416h6M4137 5870h6M4199 5669h6M3990 5705h6M3959 5421h6M4156 5652h6M3937 5814h6M4056 5558h6M4122 5541h6M3957 5805h6M4065 5717h6M4149 5758h6M4060 5629h6M3898 5646h6M3906 5446h6M3973 5499h6M4048 5822h6M4161 5824h6M3988 5821h6M4131 5791h6M3999 5661h6M3945 5857h6M3981 5579h6M4086 5625h6M4047 5778h6M3985 5786h6M4152 5536h6M4149 5703h6M3999 5701h6M4047 5687h6M3988 5612h6M3925 5455h6M3949 5710h6M4027 5794h6M3999 5768h6M3985 5634h6M4159 5592h6M3922 5884h6M4202 5762h6M4122 5467h6M4071 5579h6M3881 5726h6M4179 5752h6M4021 5509h6M4037 5792h6M3946 5731h6M4089 5771h6M4028 5785h6M4050 5838h6M3929 5831h6M3945 5689h6M4180 5514h6M4095 5420h6M4110 5783h6M3965 5796h6M3973 5427h6M4051 5790h6M3970 5541h6M4101 5433h6M4073 5623h6M4055 5666h6M3941 5820h6M4123 5782h6M3936 5722h6M4156 5699h6M4126 5627h6M4021 5553h6M4073 5665h6M3967 5730h6M4017 5523h6M3961 5816h6M3980 5493h6M4060 5745h6M4007 5571h6M4165 5522h6M4083 5577h6M4134 5763h6M4100 5858h6M4025 5654h6M3991 5709h6M3918 5447h6M3975 5789h6M4028 5717h6M4001 5536h6M4137 5530h6M4131 5501h6M3948 5521h6M3969 5490h6M4054 5570h6M4017 5504h6M3940 5505h6M4163 5793h6M3924 5745h6M3925 5809h6M4168 5676h6M4170 5594h6M4136 5820h6M3985 5696h6M4083 5713h6M3990 5548h6M4118 5572h6M4100 5620h6M4130 5770h6M4102 5423h6M4098 5639h6M4101 5635h6M4047 5661h6M3963 5486h6M4043 5778h6M3935 5466h6M4221 5837h6M4019 5447h6M3972 5714h6M4020 5608h6M4123 5477h6M4028 5431h6M3969 5708h6M4053 5781h6M3979 5804h6M4141 5557h6M3968 5469h6M3992 5494h6M3969 5488h6M4135 5609h6M3950 5564h6M3944 5475h6M4099 5655h6M4107 5521h6M4050 5830h6M4194 5553h6M3970 5686h6M4137 5551h6M4001 5573h6M4131 5535h6M3943 5478h6M3932 5675h6M3986 5633h6M4010 5723h6M4081 5634h6M3942 5718h6M3976 5494h6M4131 5698h6M4024 5440h6M4098 5679h6M4113 5483h6M4138 5606h6M4016 5670h6M3989 5567h6M4032 5454h6M4223 5698h6M4107 5590h6M4088 5634h6M4157 5585h6M3991 5556h6M4080 5739h6M4034 5563h6M4100 5412h6M3986 5671h6M3952 5851h6M4127 5618h6M3933 5525h6M4021 5499h6M3953 5492h6M4030 5685h6M4094 5472h6M3981 5814h6M3968 5570h6M4132 5484h6M4053 5565h6M4136 5496h6M4099 5590h6M4153 5441h6M4101 5501h6M3962 5677h6M4031 5549h6M4049 5740h6M4055 5508h6M3959 5560h6M3966 5465h6M4002 5458h6M4052 5466h6M4122 5863h6M4080 5823h6M4043 5513h6M4087 5538h6M4047 5530h6M3995 5448h6M4159 5566h6M3936 5605h6M3991 5807h6M4125 5763h6M4160 5669h6M4027 5762h6M4068 5817h6M4144 5575h6M3996 5547h6M4162 5467h6M3984 5562h6M3987 5747h6M4164 5680h6M3939 5672h6M4085 5602h6M4206 5817h6M4139 5784h6M4036 5530h6M4085 5446h6M4052 5593h6M3985 5448h6M3990 5678h6M4052 5711h6M4112 5706h6M3986 5767h6M4157 5810h6M4129 5691h6M4197 5699h6M4096 5826h6M4068 5827h6M4063 5693h6M4055 5505h6M4142 5751h6M3936 5649h6M4061 5741h6M3966 5774h6M4102 5721h6M4072 5630h6M4016 5730h6M4041 5585h6M4021 5785h6M4010 5592h6M3990 5641h6M3964 5820h6M3989 5484h6M4150 5786h6M4038 5833h6M4123 5556h6M4058 5580h6M3994 5818h6M3963 5750h6M4049 5570h6M4063 5460h6M4029 5457h6M3957 5739h6M4067 5673h6M4148 5474h6M4054 5640h6M4036 5620h6M4172 5674h6M3929 5675h6M3996 5708h6M4007 5667h6M4146 5639h6M4129 5666h6M4017 5611h6M4092 5565h6M3962 5858h6M4004 5609h6M4053 5858h6M3900 5703h6M4145 5750h6M4061 5615h6M3972 5686h6M4115 5544h6M4041 5512h6M3946 5606h6M4019 5844h6M3929 5522h6M4066 5484h6M4121 5703h6M4044 5760h6M4094 5590h6M4139 5815h6M4088 5612h6M3986 5503h6M3966 5520h6M4018 5682h6M4042 5694h6M4150 5665h6M4124 5706h6M4032 5744h6M4034 5735h6M3978 5845h6M4105 5797h6M4056 5757h6M4167 5598h6M3984 5419h6M4002 5557h6M4135 5618h6M4018 5600h6M4086 5726h6M4147 5697h6M4011 5744h6M4151 5689h6M4067 5685h6M3954 5705h6M4114 5454h6M4010 5510h6M3896 5591h6M3958 5575h6M4135 5508h6M3984 5779h6M3968 5691h6M4014 5670h6M4020 5826h6M3979 5606h6M4163 5643h6M4078 5548h6M3961 5734h6M3997 5673h6M3986 5806h6M4176 5545h6M3958 5482h6M4095 5682h6M3975 5565h6M4095 5675h6M4049 5813h6M3926 5610h6M4033 5573h6M3937 5578h6M4050 5554h6M3897 5703h6M3906 5835h6M4107 5829h6M4203 5842h6M4153 5640h6M4015 5790h6M3966 5570h6M4119 5527h6M3991 5790h6M4132 5623h6M4009 5748h6M4032 5660h6M3950 5826h6M3990 5819h6M4026 5556h6M4032 5564h6M4185 5487h6M3969 5407h6M3932 5474h6M4073 5569h6M4132 5615h6M4095 5529h6M4125 5659h6M3970 5542h6M4097 5831h6M3981 5700h6M4079 5440h6M4044 5739h6M4057 5738h6M4045 5571h6M4065 5649h6M4126 5663h6M4092 5538h6M4001 5586h6M4013 5469h6M4052 5479h6M4003 5794h6M4033 5571h6M3981 5678h6M4090 5694h6M4145 5426h6M4095 5532h6M3960 5536h6M4165 5731h6M4118 5620h6M4231 5644h6M4015 5760h6M3948 5656h6M4103 5783h6M3963 5534h6M4146 5610h6M4139 5574h6M3995 5815h6M4048 5774h6M4132 5602h6M4018 5494h6M4062 5804h6M4063 5599h6M3962 5606h6M4077 5614h6M4116 5726h6M4144 5841h6M4129 5702h6M4065 5758h6M4009 5698h6M3932 5596h6M4153 5836h6M3924 5460h6M3987 5552h6M4186 5580h6M4023 5621h6M3966 5774h6M4121 5868h6M3910 5636h6M3992 5583h6M4085 5505h6M3965 5553h6M4040 5557h6M4098 5850h6M4055 5574h6M4205 5493h6M4131 5508h6M3989 5730h6M4087 5812h6M4027 5782h6M4020 5578h6M4111 5495h6M4158 5766h6M4019 5552h6M3947 5653h6M4015 5521h6M3998 5613h6M4151 5718h6M4141 5538h6M4043 5499h6M3997 5568h6M4092 5690h6M3913 5600h6M4110 5748h6M3967 5691h6M4152 5541h6M4137 5514h6M4035 5516h6M3943 5514h6M4005 5485h6M4136 5722h6M4027 5497h6M4007 5759h6M4015 5697h6M4062 5688h6M3986 5453h6M4000 5748h6M4153 5774h6M4078 5639h6M4051 5467h6M3992 5838h6M4044 5790h6M4116 5791h6M3979 5575h6M3970 5819h6M3959 5713h6M4007 5717h6M4108 5837h6M4106 5694h6M4059 5600h6M4010 5464h6M4065 5558h6M4027 5544h6M4005 5723h6M4115 5594h6M4115 5561h6M3981 5664h6M4136 5679h6M4088 5640h6M4019 5518h6M3915 5644h6M4016 5702h6M4163 5539h6M4063 5686h6M4199 5497h6M4001 5711h6M4044 5570h6M3965 5681h6M3973 5662h6M4103 5783h6M4016 5705h6M4093 5716h6M4065 5659h6M3948 5608h6M3935 5749h6M4168 5823h6M4002 5631h6M4170 5712h6M3946 5581h6M3967 5623h6M4091 5856h6M4071 5692h6M3997 5474h6M3938 5697h6M4080 5748h6M4103 5751h6M4081 5606h6M4141 5827h6M4059 5635h6M4194 5734h6M4032 5539h6M4136 5880h6M4175 5687h6M4076 5777h6M3968 5807h6M4093 5436h6M4022 5779h6M4225 5620h6M3924 5625h6M4010 5403h6M4046 5777h6M4043 5641h6M4040 5562h6M4052 5477h6M4182 5550h6M3919 5534h6M4112 5729h6M4147 5547h6M4002 5612h6M4141 5426h6M4054 5688h6M4136 5769h6M4030 5819h6M3974 5637h6M4106 5748h6M4064 5606h6M3947 5623h6M4127 5688h6M3927 5490h6M4098 5759h6M4049 5592h6M3926 5783h6M3941 5471h6M4092 5403h6M4126 5588h6M4008 5750h6M4082 5693h6M4127 5824h6M4056 5767h6M4157 5530h6M3924 5693h6M3934 5745h6M4027 5456h6M4066 5522h6M3944 5807h6M3991 5601h6M4023 5807h6M4014 5741h6M4024 5665h6M3923 5736h6M4044 5502h6M3964 5489h6M4009 5710h6M3931 5902h6M4160 5439h6M4133 5665h6M4048 5678h6M3975 5597h6M3959 5538h6M4022 5693h6M4001 5660h6M3977 5717h6M4048 5465h6M4002 5468h6M4108 5558h6"/>
<path transform="scale(.1)" fill="none" stroke="#3350a8" stroke-width="6" d="M4123 5834h6M4186 5792h6M4139 5722h6M4141 5709h6M4172 5768h6M4106 5833h6M4147 5736h6M4133 5835h6M4143 5797h6M4178 5696h6M4154 5781h6M4071 5762h6M4044 5806h6M4136 5719h6M4165 5751h6M4126 5743h6M4156 5789h6M4117 5785h6M4020 5787h6M4189 5777h6M4198 5764h6M4091 5740h6M4073 5756h6M4084 5762h6M4070 5776h6M4127 5797h6M4097 5781h6M4097 5774h6M4122 5815h6M4150 5754h6M4135 5778h6M4174 5823h6M4208 5790h6M4067 5792h6M4128 5782h6M4090 5817h6M4052 5829h6M4111 5861h6M4130 5724h6M4033 5779h6M4147 5703h6M4158 5760h6M4198 5766h6M4162 5731h6M4100 5769h6M4100 5826h6M4130 5819h6M4109 5717h6M4126 5805h6M4138 5776h6M4188 5837h6M4117 5772h6M4094 5836h6M4095 5807h6M4206 5752h6M4213 5754h6M4104 5781h6M4114 5721h6M4194 5789h6M4109 5816h6M4138 5745h6M4136 5737h6M4193 5764h6M4036 5756h6M4075 5769h6M4115 5758h6M4155 5762h6M4021 5775h6M4073 5771h6M4142 5872h6M4130 5725h6M4148 5744h6M4070 5761h6M4142 5809h6M4043 5802h6M4104 5824h6M4045 5773h6M4153 5784h6M4160 5719h6M4159 5827h6M4106 5772h6M4122 5744h6M4109 5737h6M4110 5837h6M4133 5761h6M4132 5735h6M4099 5707h6M4085 5819h6M4198 5769h6M4126 5797h6M4133 5733h6M4152 5805h6M4090 5769h6M4068 5818h6M4102 5819h6M4080 5826h6M4105 5850h6M4098 5799h6M4184 5797h6M4053 5730h6M4166 5689h6M4109 5864h6M4080 5790h6M4172 5703h6M4156 5788h6M4150 5803h6M4111 5761h6M4109 5749h6M4127 5786h6M4113 5761h6M4110 5757h6M4052 5793h6M4109 5839h6M4169 5725h6M4117 5743h6M4152 5786h6M4143 5863h6M4161 5765h6M4126 5863h6M4161 5794h6M4131 5778h6M4125 5852h6M4102 5864h6M4055 5837h6M4073 5833h6M4161 5793h6M4098 5734h6M4051 5797h6M4061 5795h6M4054 5830h6M4075 5803h6M4077 5753h6M4118 5841h6M4115 5826h6M4151 5734h6M4149 5767h6M4112 5789h6M4144 5769h6M4147 5733h6M4127 5796h6M4076 5748h6M4164 5698h6M4085 5783h6M4127 5821h6M4147 5816h6M4162 5790h6M4152 5767h6M4204 5809h6M4191 5770h6M4194 5796h6M4106 5778h6M4167 5742h6M4138 5702h6M4079 5809h6M4155 5748h6M4098 5758h6M4187 5835h6M4131 5794h6M4174 5802h6M4116 5720h6M4063 5819h6M4128 5712h6M4056 5779h6M4121 5821h6M4149 5731h6M4058 5733h6M4139 5724h6M4132 5738h6M4124 5706h6M4126 5745h6M4157 5789h6M4172 5695h6M4140 5791h6M4076 5822h6M4098 5726h6M4122 5822h6M4107 5763h6M4120 5823h6M4103 5767h6M4170 5782h6M4087 5726h6M4172 5735h6M4102 5782h6M4159 5764h6M4146 5790h6M4167 5771h6M4034 5775h6M4138 5743h6M4129 5806h6M4026 5805h6M4077 5806h6M4147 5741h6M4125 5718h6M4172 5744h6M4104 5788h6M4132 5762h6M4202 5817h6M4140 5809h6M4143 5721h6M4080 5859h6M4084 5769h6M4147 5772h6M4125 5849h6M4126 5728h6M4117 5863h6M4180 5818h6M4135 5720h6M4137 5783h6M4138 5781h6M4133 5805h6M4127 5858h6M4064 5802h6M4126 5802h6M4143 5818h6M4127 5723h6M4140 5789h6M4194 5817h6M4153 5720h6M4137 5770h6M4149 5768h6M4148 5828h6M4085 5795h6M4105 5782h6M4109 5779h6M4086 5828h6M4076 5697h6M4104 5809h6M4130 5722h6M4063 5785h6M4186 5777h6M4118 5804h6M4082 5691h6M4180 5741h6M4152 5830h6M4123 5767h6M4132 5756h6M4146 5812h6M4096 5825h6M4150 5733h6M4174 5815h6M4186 5767h6M4045 5797h6M4034 5809h6M4102 5757h6M4124 5751h6M4053 5758h6M4144 5814h6M4109 5735h6M4130 5798h6M4164 5837h6M4065 5811h6M4151 5813h6M4098 5790h6M4187 5792h6M4190 5771h6M4127 5762h6M4116 5804h6M4117 5852h6M4077 5813h6M4165 5787h6M4098 5775h6M4144 5805h6M4101 5802h6M4081 5751h6M4100 5761h6M4086 5821h6M4136 5802h6M4078 5775h6M4095 5826h6M4147 5830h6M4146 5804h6M4067 5765h6M4072 5771h6M4138 5718h6M4110 5814h6M4097 5784h6M4121 5782h6M4188 5796h6M4164 5772h6M4121 5782h6M4157 5845h6M4148 5794h6M4181 5839h6M4149 5822h6M4032 5770h6M4120 5767h6M4129 5775h6M4077 5853h6M4087 5801h6M4156 5809h6M4118 5856h6M4099 5793h6M4113 5830h6M4053 5797h6M4120 5753h6M4145 5820h6M4069 5795h6M4141 5829h6M4190 5848h6M4149 5767h6M4132 5795h6M4098 5797h6M4166 5752h6M4132 5779h6M4095 5829h6M4072 5820h6M4090 5696h6M4134 5821h6M4131 5798h6M4142 5800h6M4058 5734h6M4071 5770h6M4166 5795h6M4150 5770h6M4204 5761h6M4157 5772h6M4055 5723h6M4144 5757h6M4136 5797h6M4070 5716h6M4064 5756h6M4182 5752h6M4079 5766h6M4071 5851h6M4067 5802h6M4112 5728h6M4174 5782h6M4200 5774h6M4159 5774h6M4165 5834h6M4068 5749h6M4168 5800h6M4156 5798h6M4110 5738h6M4087 5812h6M4101 5699h6M4110 5765h6M4061 5796h6M4153 5750h6M4141 5791h6M4154 5826h6M4100 5766h6M4138 5834h6M4161 5796h6M4140 5767h6M4138 5802h6M4108 5817h6M4143 5828h6M4143 5681h6M4146 5832h6M4088 5805h6M4134 5764h6M4150 5746h6M4069 5790h6M4055 5763h6M4109 5789h6M4032 5743h6M4101 5705h6M4125 5800h6M4120 5778h6M4111 5777h6M4089 5761h6M4077 5849h6M4184 5813h6M4102 5726h6M4036 5770h6M4145 5762h6M4188 5842h6M4153 5794h6M4126 5755h6M4146 5775h6M4106 5798h6M4171 5767h6M4176 5808h6M4117 5878h6M4102 5814h6M4122 5789h6M4141 5757h6M4128 5734h6M4098 5713h6M4202 5731h6M4109 5775h6M4216 5765h6M4132 5813h6M4152 5763h6M4124 5747h6M4133 5801h6M4084 5875h6M4145 5822h6M4114 5769h6M4138 5737h6M4143 5767h6M4150 5792h6M4135 5786h6M4160 5814h6M4135 5853h6M4081 5792h6M4121 5838h6M4097 5787h6M4164 5763h6M4092 5795h6M4097 5752h6M4096 5747h6M4091 5855h6M4100 5836h6M4087 5782h6M4143 5724h6M4184 5767h6M4145 5801h6M4094 5825h6M4125 5831h6M4173 5816h6M4068 5860h6M4053 5771h6M4192 5715h6M4047 5763h6M4147 5726h6M4069 5771h6M4158 5825h6M4158 5732h6M4181 5711h6M4136 5741h6M4130 5742h6M4134 5736h6M4145 5832h6M4139 5762h6M4112 5750h6M4120 5819h6M4073 5706h6M4088 5763h6M4126 5774h6M4068 5768h6M4108 5821h6M4066 5826h6M4100 5741h6M4158 5846h6M4082 5724h6M4086 5809h6M4110 5772h6M4062 5780h6M4096 5770h6M4124 5815h6M4097 5763h6M4127 5797h6M4091 5767h6M4194 5817h6M4077 5809h6M4114 5795h6M4135 5787h6M4179 5767h6M4190 5854h6M4124 5863h6M4165 5838h6M4123 5786h6M4083 5763h6M4157 5784h6M4090 5767h6M4072 5779h6M4143 5730h6M4071 5737h6M4095 5710h6M4065 5770h6M4153 5805h6M4129 5813h6M4124 5774h6M4187 5766h6M4124 5727h6M4090 5743h6M4123 5742h6M4155 5726h6M4151 5757h6M4087 5767h6M4090 5717h6M4204 5787h6M4149 5828h6M4097 5729h6M4151 5714h6M4105 5822h6M4067 5742h6M4065 5812h6M4115 5811h6M4094 5801h6M4136 5733h6M4138 5829h6M4098 5775h6M4107 5771h6M4131 5788h6M4020 5769h6M4112 5777h6M4072 5779h6M4123 5817h6M4144 5785h6M4101 5789h6M4103 5806h6M4107 5757h6M4119 5821h6M4118 5751h6M4085 5772h6M4141 5788h6M4114 5753h6M4109 5739h6M4182 5823h6M4079 5734h6M4203 5742h6M4096 5808h6M4077 5743h6M4051 5799h6M4199 5800h6M4170 5798h6M4072 5787h6M4160 5794h6M4171 5783h6M4034 5802h6M4122 5812h6M4084 5861h6M4175 5822h6M4079 5734h6M4145 5826h6M4158 5824h6M4104 5793h6M4054 5736h6M4098 5756h6M4169 5797h6M4140 5731h6M4034 5801h6M4081 5848h6M4114 5793h6M4047 5777h6M4107 5793h6M4131 5754h6M4115 5719h6M4167 5834h6M4085 5791h6M4160 5791h6M4139 5732h6M4122 5748h6M4074 5804h6M4138 5864h6M4155 5757h6M4149 5837h6M4051 5781h6M4149 5807h6M4102 5781h6M4107 5859h6M4154 5803h6M4099 5839h6M4110 5839h6M4173 5736h6M4039 5765h6"/>
<path transform="scale(.1)" fill="none" stroke="#3350a8" stroke-width="6" d="M3935 5737h6M4027 5674h6M3974 5730h6M4117 5741h6M3996 5652h6M4023 5767h6M4067 5601h6M4045 5731h6M3978 5728h6M4060 5763h6M4017 5685h6M3981 5746h6M4031 5743h6M3959 5687h6M3947 5812h6M4063 5720h6M4080 5806h6M4095 5641h6M3947 5756h6M3977 5689h6M4007 5739h6M4063 5737h6M4014 5828h6M3999 5777h6M3986 5723h6M4068 5653h6M3917 5722h6M3938 5703h6M4102 5736h6M3959 5816h6M4084 5681h6M4070 5742h6M4088 5706h6M4026 5679h6M4060 5679h6M4070 5740h6M4059 5733h6M4091 5720h6M4080 5766h6M3963 5771h6M3995 5811h6M4015 5683h6M4071 5670h6M4046 5722h6M4025 5661h6M4008 5594h6M3958 5697h6M3985 5729h6M3988 5727h6M3923 5706h6M4048 5785h6M4039 5762h6M4026 5808h6M4003 5813h6M4010 5603h6M4006 5734h6M4010 5776h6M3963 5786h6M4052 5760h6M3992 5798h6M4000 5773h6M4092 5624h6M4078 5712h6M4009 5772h6M3943 5770h6M3943 5656h6M4035 5594h6M4092 5788h6M4025 5751h6M4009 5719h6M3973 5651h6M4005 5625h6M4011 5725h6M3975 5656h6M4006 5812h6M4023 5790h6M3999 5685h6M3996 5686h6M4031 5732h6M4081 5775h6M3994 5764h6M3983 5710h6M4067 5635h6M3977 5653h6M3964 5669h6M4078 5706h6M4036 5638h6M4059 5697h6M4041 5699h6M4082 5711h6M3995 5610h6M4059 5833h6M4020 5739h6M3981 5724h6M4046 5700h6M4014 5761h6M4072 5814h6M3946 5651h6M3979 5679h6M4006 5702h6M4042 5597h6M4006 5638h6M4008 5720h6M4029 5698h6M4029 5743h6M3996 5774h6M4035 5734h6M4095 5751h6M4044 5736h6M3933 5700h6M3960 5711h6M4035 5673h6M3966 5626h6M3981 5742h6M3963 5739h6M3975 5658h6M4053 5708h6M3980 5685h6M3915 5757h6M4054 5738h6M4006 5721h6M3997 5732h6M3998 5704h6M4022 5784h6M4046 5702h6M3999 5657h6M4000 5733h6M4073 5757h6M4009 5848h6M4071 5731h6M3990 5787h6M3962 5656h6M3971 5700h6M4035 5729h6M3968 5738h6M3989 5773h6M3974 5777h6M4031 5687h6M3994 5822h6M4029 5791h6M4044 5691h6M4083 5752h6M4058 5774h6M3949 5771h6M4011 5784h6M4039 5727h6M4030 5684h6M4050 5707h6M4009 5773h6M4029 5703h6M3942 5737h6M4046 5687h6M4082 5794h6M3988 5702h6M4030 5849h6M3991 5745h6M3978 5733h6M3961 5771h6M4069 5720h6M3939 5779h6M4117 5767h6M4014 5702h6M4053 5601h6M4017 5652h6M4043 5699h6M3999 5682h6M3991 5700h6M3974 5740h6M3988 5717h6M4122 5743h6M3984 5664h6M3995 5762h6M4041 5644h6M3980 5713h6M4010 5772h6M4026 5723h6M4052 5770h6M4033 5746h6M3996 5718h6M4039 5783h6M4018 5813h6M4049 5699h6M3960 5695h6M3947 5742h6M4016 5644h6M3986 5619h6M3952 5746h6M3987 5691h6M4005 5670h6M3995 5662h6M3952 5692h6M4056 5608h6M4062 5634h6M4053 5702h6M4054 5693h6M4102 5769h6M3976 5673h6M4031 5785h6M3973 5674h6M4086 5761h6M4075 5719h6M4065 5644h6M4086 5706h6M3973 5661h6M4085 5752h6M4043 5671h6M4086 5802h6M3992 5777h6M4044 5690h6M4042 5716h6M4040 5730h6M3957 5755h6M3992 5733h6M4041 5664h6M4041 5781h6M3982 5710h6M3979 5606h6M3991 5717h6M4043 5773h6M3997 5700h6M3950 5802h6M3929 5776h6M4048 5809h6M4023 5812h6M4074 5723h6M4004 5796h6M3964 5767h6M3969 5713h6M4066 5696h6M4109 5670h6M3997 5817h6M4048 5742h6M3997 5789h6M4039 5753h6M3986 5676h6M3977 5731h6M4047 5730h6M4071 5785h6M4040 5778h6M4020 5771h6M4094 5759h6M4094 5748h6M4051 5710h6M4008 5812h6M4015 5799h6M3934 5709h6M4080 5668h6M4025 5849h6M4077 5745h6M4003 5801h6M4094 5747h6M4006 5632h6M3992 5663h6M4041 5727h6M3982 5725h6M3995 5827h6M4025 5732h6M3992 5617h6M4035 5784h6M4045 5703h6M4037 5663h6M4031 5759h6M4068 5756h6M4054 5741h6M3927 5770h6M3922 5704h6"/>
<rect x="387.3" y="531.1" width="36.7" height="59.6" fill="none" stroke="#4c4ca2" stroke-width="1.2"/>
<path d="M365.8 518.2H444" stroke="#333" stroke-width="1.2" fill="none"/>
<path d="M444 518.2V596.4" stroke="#333" stroke-width="1.2" fill="none"/>
<path d="M365.8 517.7V596.4H444.5" stroke="#2a2a2a" stroke-width="1.2" fill="none"/>
<path d="M365.3 595.56h-1.8M365.3 586.04h-1.8M365.3 581.28h-1.8M365.3 576.52h-1.8M365.3 571.76h-1.8M365.3 562.24h-1.8M365.3 557.48h-1.8M365.3 552.72h-1.8M365.3 547.96h-1.8M365.3 538.44h-1.8M365.3 533.68h-1.8M365.3 528.92h-1.8M365.3 524.16h-1.8" stroke="#333" stroke-width="0.8" fill="none"/>
<path d="M365.3 590.8h-3.2M365.3 567h-3.2M365.3 543.2h-3.2M365.3 519.4h-3.2" stroke="#333" stroke-width="0.8" fill="none"/>
<text transform="translate(361.6,590.8) rotate(-90)" text-anchor="middle" font-size="6.6" fill="#333">0</text>
<text transform="translate(361.6,567) rotate(-90)" text-anchor="middle" font-size="6.6" fill="#333">100</text>
<text transform="translate(361.6,543.2) rotate(-90)" text-anchor="middle" font-size="6.6" fill="#333">200</text>
<text transform="translate(361.6,519.4) rotate(-90)" text-anchor="middle" font-size="6.6" fill="#333">300</text>
<path d="M397.4 596.9v1.8M402.31 596.9v1.8M405.8 596.9v1.8M408.5 596.9v1.8M410.71 596.9v1.8M412.58 596.9v1.8M414.2 596.9v1.8M415.62 596.9v1.8M425.3 596.9v1.8M430.21 596.9v1.8M433.7 596.9v1.8M436.4 596.9v1.8M438.61 596.9v1.8M440.48 596.9v1.8M442.1 596.9v1.8M369.2 596.9v1.8M371.2 596.9v1.8M373.2 596.9v1.8M375.2 596.9v1.8M379.2 596.9v1.8M381.2 596.9v1.8M383.2 596.9v1.8M385.2 596.9v1.8" stroke="#333" stroke-width="0.8" fill="none"/>
<path d="M377.2 596.9v3M389 596.9v3M416.9 596.9v3M443.3 596.9v3" stroke="#333" stroke-width="0.8" fill="none"/>
<text x="377.2" y="605.4" text-anchor="middle" font-size="6.6" fill="#333">0</text>
<text x="390.4" y="605.4" text-anchor="middle" font-size="6.6" fill="#333">10<tspan font-size="3.63" dy="-3">3</tspan></text>
<text x="418" y="605.4" text-anchor="middle" font-size="6.6" fill="#333">10<tspan font-size="3.63" dy="-3">4</tspan></text>
<text x="443.8" y="605.4" text-anchor="middle" font-size="6.6" fill="#333">10<tspan font-size="3.63" dy="-3">5</tspan></text>
<path d="M239.2 590.2V613H263.9" fill="none" stroke="#111" stroke-width="1.1"/>
<path d="M239.2 585.2l-4.2 7.4h8.4z" fill="#111"/>
<path d="M269.9 613l-7.4 -4.1v8.2z" fill="#111"/>
<text transform="translate(244,550.6) rotate(-90)" text-anchor="middle" font-size="10.2" fill="#1b1b1b">SSC-A (x10<tspan font-size="6.3" dy="-4">3</tspan><tspan dy="4">)</tspan></text>
<text x="276.8" y="616.5" font-size="10.6">CD3</text>
<path transform="scale(.1)" fill="none" stroke="#8e1e1e" stroke-width="6" d="M2750 6598h6M2744 6620h6M2748 6580h6M2747 6603h6M2726 6619h6M2733 6618h6M2723 6635h6M2713 6601h6M2729 6647h6M2731 6624h6M2727 6634h6M2752 6668h6M2715 6628h6M2748 6582h6M2701 6664h6M2709 6629h6M2743 6660h6M2730 6627h6M2728 6626h6M2736 6654h6M2730 6673h6M2721 6596h6M2715 6606h6M2739 6664h6M2710 6591h6M2733 6636h6M2729 6632h6M2720 6637h6M2734 6659h6M2734 6637h6M2703 6620h6M2750 6618h6M2760 6674h6M2702 6622h6M2726 6656h6M2752 6612h6M2736 6603h6M2711 6578h6M2751 6675h6M2736 6631h6M2745 6608h6M2741 6659h6M2739 6623h6M2742 6650h6M2755 6688h6M2731 6642h6M2739 6608h6M2734 6632h6M2698 6633h6M2752 6649h6M2702 6617h6M2756 6620h6M2746 6574h6M2734 6604h6M2706 6651h6M2722 6635h6M2762 6627h6M2718 6585h6M2709 6669h6M2730 6604h6M2755 6648h6M2724 6613h6M2700 6654h6M2743 6633h6M2697 6650h6M2732 6627h6M2735 6626h6M2721 6648h6M2721 6590h6M2729 6649h6M2719 6659h6M2694 6582h6M2706 6686h6M2773 6611h6M2730 6654h6M2753 6626h6M2750 6667h6M2723 6561h6M2745 6625h6M2759 6575h6M2734 6651h6M2738 6632h6M2753 6639h6M2716 6601h6M2711 6594h6M2720 6605h6M2751 6621h6M2733 6681h6M2712 6636h6M2703 6634h6M2741 6618h6M2727 6605h6M2739 6592h6M2768 6676h6M2733 6679h6M2710 6620h6M2738 6630h6M2733 6594h6M2738 6615h6M2742 6665h6M2703 6634h6M2745 6568h6M2717 6645h6M2742 6624h6M2714 6617h6M2752 6637h6M2739 6587h6M2727 6693h6M2732 6640h6M2745 6648h6M2710 6629h6M2731 6613h6M2752 6636h6M2757 6609h6M2742 6582h6M2751 6605h6M2758 6654h6M2737 6587h6M2740 6565h6M2727 6617h6M2721 6633h6M2724 6605h6M2702 6598h6M2733 6620h6M2749 6619h6M2738 6604h6M2744 6640h6M2733 6614h6M2707 6567h6M2716 6646h6M2719 6620h6M2721 6612h6M2737 6612h6M2728 6638h6M2714 6637h6M2705 6601h6M2720 6642h6M2716 6599h6M2729 6633h6M2712 6655h6M2718 6642h6M2755 6619h6M2729 6643h6M2716 6650h6M2712 6622h6M2743 6598h6M2743 6635h6M2774 6613h6M2751 6594h6M2725 6627h6M2708 6591h6M2715 6667h6M2750 6607h6M2720 6612h6M2703 6618h6M2718 6608h6M2736 6556h6M2725 6660h6M2749 6602h6M2699 6599h6M2714 6657h6M2747 6609h6M2734 6605h6M2744 6639h6M2759 6616h6M2753 6631h6M2707 6613h6M2759 6651h6M2748 6638h6M2726 6625h6M2734 6612h6M2750 6641h6M2735 6600h6M2745 6611h6M2726 6604h6M2753 6684h6M2735 6631h6M2728 6634h6M2768 6612h6M2709 6607h6M2748 6601h6M2749 6600h6M2729 6620h6M2719 6598h6M2728 6621h6M2734 6615h6M2735 6617h6M2708 6674h6M2719 6624h6M2759 6601h6M2704 6635h6M2727 6615h6M2717 6674h6M2744 6650h6M2726 6616h6M2734 6657h6M2727 6638h6M2731 6608h6M2759 6648h6M2753 6624h6M2738 6662h6M2724 6643h6M2747 6663h6M2720 6605h6M2724 6620h6M2716 6613h6M2751 6621h6M2754 6613h6M2729 6629h6M2738 6595h6M2755 6595h6M2711 6644h6M2714 6598h6M2768 6644h6M2722 6633h6M2716 6595h6M2727 6581h6M2773 6597h6M2747 6583h6M2744 6611h6M2752 6596h6M2764 6642h6M2752 6572h6M2714 6644h6M2752 6634h6M2761 6632h6M2729 6625h6M2724 6675h6M2736 6672h6M2701 6610h6M2758 6585h6M2716 6635h6M2725 6615h6M2758 6603h6M2739 6611h6M2750 6612h6M2711 6627h6M2747 6638h6M2709 6573h6M2752 6619h6M2733 6643h6M2756 6646h6M2741 6594h6M2728 6616h6M2727 6639h6M2737 6658h6M2742 6649h6M2736 6642h6M2730 6652h6M2708 6614h6M2775 6605h6M2737 6631h6M2741 6632h6M2744 6649h6M2729 6608h6M2729 6666h6M2720 6604h6M2706 6634h6M2717 6620h6M2729 6660h6M2729 6624h6M2746 6623h6M2754 6636h6M2747 6641h6M2711 6659h6M2740 6605h6M2726 6630h6M2728 6581h6M2694 6628h6M2736 6641h6M2711 6651h6M2711 6619h6M2718 6600h6M2716 6643h6M2738 6669h6M2723 6637h6M2736 6564h6M2728 6664h6M2754 6616h6M2692 6611h6M2748 6673h6M2718 6596h6M2718 6640h6M2755 6649h6M2709 6612h6M2729 6605h6M2750 6599h6M2714 6630h6M2751 6614h6M2746 6622h6M2698 6634h6M2725 6668h6M2694 6641h6M2750 6613h6M2720 6655h6M2723 6650h6M2755 6648h6M2750 6638h6M2707 6658h6M2746 6662h6M2759 6663h6M2707 6616h6M2757 6634h6M2710 6626h6M2758 6635h6M2748 6623h6M2699 6629h6M2701 6579h6M2728 6630h6M2741 6610h6M2726 6646h6M2757 6666h6M2714 6627h6M2712 6657h6M2739 6616h6M2735 6658h6M2755 6627h6M2720 6655h6M2738 6622h6M2743 6611h6M2722 6623h6M2722 6641h6M2721 6627h6M2728 6644h6M2752 6638h6M2726 6618h6M2709 6598h6M2722 6695h6M2729 6639h6M2706 6605h6M2750 6636h6M2688 6620h6M2732 6615h6M2761 6593h6M2722 6658h6M2741 6675h6M2710 6644h6M2702 6617h6M2726 6626h6M2711 6649h6M2757 6619h6M2729 6653h6M2739 6638h6M2691 6616h6M2712 6614h6M2695 6584h6M2742 6641h6M2724 6616h6M2719 6625h6M2730 6606h6M2719 6597h6M2721 6663h6M2715 6595h6M2709 6650h6M2770 6614h6M2701 6632h6M2746 6635h6M2762 6612h6M2739 6674h6M2734 6608h6M2724 6598h6M2725 6644h6M2727 6600h6M2710 6626h6M2718 6624h6M2721 6617h6M2706 6660h6M2739 6633h6M2747 6641h6M2716 6622h6M2760 6576h6M2769 6607h6M2725 6646h6M2738 6630h6M2726 6593h6M2730 6625h6M2728 6624h6M2734 6616h6M2751 6596h6M2749 6652h6M2710 6576h6M2703 6628h6M2736 6609h6M2704 6666h6M2720 6605h6M2729 6622h6M2729 6605h6M2722 6624h6M2697 6636h6M2745 6682h6M2713 6646h6M2733 6596h6M2764 6643h6M2742 6632h6M2716 6640h6M2755 6561h6M2718 6649h6M2735 6604h6M2739 6587h6M2741 6636h6M2741 6595h6M2709 6592h6M2695 6624h6M2708 6594h6M2724 6636h6M2753 6593h6M2725 6601h6M2728 6598h6M2747 6652h6M2737 6651h6M2719 6637h6M2731 6626h6M2726 6604h6M2746 6618h6M2721 6651h6M2761 6616h6M2739 6661h6M2722 6643h6M2732 6654h6M2726 6585h6M2735 6681h6M2749 6579h6M2771 6607h6M2697 6664h6M2741 6607h6M2740 6632h6M2727 6615h6M2719 6653h6M2774 6627h6M2741 6640h6M2765 6616h6M2721 6618h6M2733 6644h6M2762 6667h6M2706 6598h6M2717 6602h6M2724 6649h6M2777 6597h6M2707 6578h6M2689 6622h6M2722 6583h6M2731 6663h6M2727 6585h6M2744 6679h6M2760 6627h6M2729 6610h6M2721 6644h6M2734 6624h6M2723 6643h6M2755 6609h6M2729 6587h6M2739 6598h6M2748 6672h6M2712 6653h6M2722 6571h6M2719 6649h6M2736 6586h6M2688 6615h6M2717 6637h6M2745 6588h6M2738 6643h6M2705 6636h6M2741 6610h6M2755 6648h6M2713 6659h6M2714 6673h6M2723 6615h6M2752 6619h6M2722 6692h6M2700 6631h6M2711 6634h6M2721 6646h6M2759 6610h6M2696 6608h6M2719 6631h6M2740 6616h6M2767 6667h6M2733 6595h6M2710 6686h6M2704 6602h6M2710 6618h6M2702 6603h6M2729 6653h6M2750 6652h6M2759 6614h6M2720 6639h6M2751 6621h6M2727 6582h6M2725 6642h6M2777 6603h6M2744 6564h6M2749 6645h6M2761 6616h6M2710 6614h6M2729 6606h6M2766 6623h6M2742 6568h6M2708 6652h6M2720 6623h6M2744 6566h6M2719 6622h6M2732 6653h6M2754 6675h6M2733 6622h6M2689 6632h6M2731 6644h6M2758 6612h6M2742 6653h6M2732 6647h6M2765 6634h6M2731 6647h6M2736 6651h6M2729 6622h6M2746 6650h6M2746 6635h6M2730 6619h6M2744 6623h6M2731 6618h6M2742 6571h6M2750 6655h6M2752 6663h6M2720 6631h6M2755 6636h6M2750 6635h6M2727 6591h6M2743 6658h6M2748 6640h6M2730 6623h6M2726 6622h6M2714 6650h6M2731 6656h6M2721 6624h6M2710 6620h6M2724 6580h6M2714 6619h6M2743 6619h6M2724 6640h6M2744 6633h6M2709 6621h6M2762 6581h6M2749 6614h6M2712 6570h6M2742 6572h6M2702 6635h6M2758 6620h6M2767 6626h6M2711 6629h6M2754 6572h6M2761 6658h6M2744 6655h6M2733 6622h6M2733 6650h6M2715 6599h6M2759 6599h6M2734 6654h6M2765 6608h6M2742 6587h6M2749 6650h6M2729 6657h6M2710 6640h6M2736 6632h6M2724 6616h6M2697 6664h6M2690 6667h6M2712 6613h6M2741 6619h6M2767 6583h6M2739 6588h6M2746 6655h6M2735 6637h6M2726 6615h6M2709 6617h6M2736 6608h6M2728 6687h6M2691 6641h6M2723 6597h6M2728 6658h6M2726 6594h6M2708 6629h6M2743 6576h6M2715 6634h6M2746 6612h6M2720 6646h6M2712 6608h6M2697 6602h6M2724 6611h6M2754 6639h6M2698 6637h6M2718 6574h6M2718 6619h6M2736 6632h6M2707 6622h6M2709 6603h6M2729 6601h6M2743 6651h6M2706 6629h6M2732 6609h6M2715 6606h6M2756 6644h6M2756 6600h6M2695 6624h6M2763 6653h6M2734 6621h6M2745 6630h6M2714 6589h6M2731 6637h6M2758 6667h6M2720 6640h6M2698 6612h6M2691 6662h6M2751 6567h6M2716 6595h6M2729 6648h6M2713 6668h6M2713 6605h6M2749 6628h6M2774 6649h6M2719 6665h6M2745 6614h6M2746 6660h6M2767 6645h6M2732 6617h6M2706 6662h6M2722 6584h6M2734 6627h6M2740 6678h6M2758 6664h6M2703 6652h6M2708 6668h6M2724 6630h6M2728 6663h6M2739 6630h6M2739 6607h6M2735 6558h6M2752 6630h6M2783 6626h6M2765 6662h6M2756 6647h6M2764 6571h6M2736 6635h6M2721 6588h6M2766 6614h6M2747 6655h6M2748 6624h6M2736 6654h6M2730 6617h6M2764 6601h6M2740 6607h6M2709 6633h6M2740 6608h6M2714 6637h6M2732 6625h6M2738 6631h6M2690 6656h6M2736 6617h6M2741 6608h6M2684 6602h6M2763 6628h6M2745 6609h6M2757 6612h6M2716 6597h6M2742 6621h6M2764 6636h6M2694 6620h6M2719 6639h6M2741 6621h6M2757 6613h6M2741 6651h6M2721 6647h6M2742 6635h6M2738 6642h6M2751 6640h6M2743 6614h6M2769 6626h6M2701 6612h6M2739 6636h6M2729 6618h6M2712 6646h6M2710 6642h6M2756 6638h6M2744 6648h6M2734 6668h6M2720 6597h6M2756 6635h6M2732 6611h6M2717 6634h6M2730 6594h6M2759 6643h6M2689 6618h6M2750 6637h6M2757 6646h6M2718 6678h6M2716 6587h6M2721 6663h6M2701 6611h6M2706 6594h6M2713 6636h6M2743 6611h6M2689 6656h6M2742 6621h6M2727 6642h6M2739 6625h6M2750 6599h6M2733 6607h6M2712 6634h6M2779 6622h6M2712 6599h6M2709 6608h6M2746 6621h6M2742 6673h6M2740 6616h6M2752 6641h6M2708 6624h6M2732 6580h6M2703 6641h6M2766 6576h6M2734 6675h6M2740 6627h6M2730 6601h6M2743 6608h6M2715 6615h6M2728 6617h6M2737 6589h6M2730 6630h6M2724 6616h6M2720 6612h6M2739 6654h6M2764 6608h6M2741 6623h6M2736 6661h6M2767 6662h6M2693 6622h6M2771 6634h6M2717 6652h6M2729 6662h6M2752 6661h6M2707 6625h6M2736 6634h6M2775 6646h6M2752 6644h6M2746 6639h6M2742 6621h6M2755 6608h6M2741 6677h6M2714 6676h6M2709 6621h6M2752 6632h6M2747 6632h6M2761 6652h6M2739 6645h6M2735 6660h6M2697 6621h6M2756 6606h6M2707 6592h6M2719 6605h6M2707 6597h6M2711 6587h6M2728 6633h6M2726 6612h6M2742 6623h6M2734 6626h6M2711 6634h6M2725 6609h6M2757 6616h6M2728 6621h6M2723 6612h6M2702 6649h6M2777 6610h6M2760 6595h6M2710 6608h6M2766 6621h6M2749 6622h6M2748 6632h6M2722 6651h6M2739 6592h6M2763 6661h6M2758 6652h6M2732 6620h6M2705 6651h6M2701 6649h6M2729 6641h6M2753 6594h6M2767 6621h6M2733 6655h6M2724 6617h6M2715 6616h6M2745 6612h6M2768 6662h6M2753 6616h6M2707 6618h6M2761 6644h6M2720 6598h6M2729 6673h6M2712 6572h6M2718 6657h6M2746 6614h6M2710 6591h6M2738 6620h6M2737 6615h6M2710 6628h6M2724 6666h6M2716 6638h6M2722 6671h6M2724 6630h6M2755 6667h6M2684 6612h6M2717 6568h6M2767 6600h6M2743 6651h6M2750 6628h6M2727 6642h6M2737 6643h6M2728 6619h6M2729 6620h6M2764 6618h6M2720 6677h6M2706 6628h6M2765 6610h6M2717 6604h6M2726 6605h6M2734 6640h6M2742 6669h6M2755 6629h6M2713 6636h6M2759 6613h6M2737 6636h6M2733 6625h6M2728 6649h6M2753 6594h6M2732 6648h6M2738 6605h6M2773 6633h6M2720 6654h6M2716 6642h6M2725 6574h6M2715 6600h6M2731 6606h6M2724 6603h6M2731 6604h6M2729 6564h6M2742 6631h6M2761 6610h6M2731 6608h6M2709 6593h6M2709 6575h6M2712 6583h6M2742 6653h6M2762 6616h6M2729 6620h6M2720 6642h6M2762 6566h6M2726 6611h6M2740 6612h6M2721 6614h6M2745 6614h6M2739 6652h6M2737 6669h6M2746 6572h6M2721 6661h6M2759 6581h6M2745 6644h6M2733 6594h6M2746 6587h6M2739 6628h6M2714 6656h6M2735 6627h6M2695 6668h6M2707 6604h6M2745 6601h6M2717 6640h6M2713 6636h6M2700 6622h6M2749 6618h6M2730 6649h6M2722 6645h6M2750 6623h6M2702 6637h6M2748 6624h6M2750 6649h6M2723 6607h6M2700 6616h6M2744 6582h6M2710 6609h6M2725 6650h6M2710 6611h6M2716 6651h6M2732 6643h6M2722 6618h6M2748 6580h6M2719 6624h6M2708 6591h6M2742 6620h6M2730 6600h6M2779 6594h6M2712 6618h6M2760 6580h6M2753 6640h6M2718 6634h6M2725 6632h6M2736 6609h6M2761 6637h6M2744 6646h6M2723 6677h6M2728 6586h6M2723 6588h6M2764 6590h6M2738 6635h6M2748 6601h6M2751 6624h6M2758 6622h6M2710 6597h6M2754 6607h6M2737 6662h6M2712 6606h6M2782 6614h6M2730 6636h6M2759 6616h6M2737 6622h6M2778 6619h6M2721 6620h6M2720 6664h6M2766 6621h6M2739 6618h6M2739 6666h6M2711 6654h6M2709 6640h6M2751 6628h6M2732 6607h6M2720 6658h6M2713 6582h6M2739 6639h6M2771 6606h6M2733 6669h6M2711 6613h6M2744 6603h6M2716 6592h6M2751 6617h6M2714 6594h6M2727 6623h6M2760 6647h6M2731 6644h6M2748 6573h6M2713 6588h6M2727 6622h6M2715 6667h6M2734 6621h6M2701 6640h6M2738 6639h6M2740 6636h6M2732 6588h6M2705 6651h6M2727 6643h6M2717 6619h6M2750 6617h6M2731 6615h6M2728 6590h6"/>
<path transform="scale(.1)" fill="none" stroke="#8e1e1e" stroke-width="6" d="M2741 6581h6M2766 6622h6M2768 6575h6M2732 6626h6M2724 6549h6M2683 6651h6M2743 6650h6M2786 6631h6M2716 6662h6M2727 6655h6M2721 6669h6M2694 6593h6M2742 6715h6M2739 6715h6M2732 6683h6M2719 6594h6M2723 6565h6M2739 6661h6M2770 6584h6M2735 6640h6M2756 6610h6M2684 6673h6M2736 6644h6M2778 6677h6M2707 6622h6M2747 6581h6M2707 6667h6M2751 6566h6M2695 6724h6M2706 6616h6M2737 6576h6M2745 6608h6M2764 6648h6M2771 6695h6M2695 6639h6M2718 6637h6M2784 6657h6M2754 6624h6M2769 6600h6M2717 6689h6M2776 6718h6M2692 6709h6M2742 6622h6M2728 6663h6M2738 6610h6M2734 6736h6M2720 6562h6M2732 6665h6M2683 6682h6M2742 6542h6M2787 6613h6M2701 6610h6M2702 6627h6M2775 6631h6M2695 6625h6M2757 6605h6M2753 6612h6M2718 6686h6M2772 6680h6M2754 6670h6M2741 6621h6M2770 6700h6M2763 6590h6M2723 6634h6M2747 6720h6M2714 6600h6M2742 6616h6M2733 6639h6M2765 6661h6M2799 6655h6M2717 6703h6M2756 6647h6M2737 6582h6M2708 6713h6M2746 6740h6M2736 6714h6M2724 6544h6M2770 6704h6M2723 6713h6M2772 6666h6M2719 6591h6M2785 6601h6M2738 6650h6M2736 6599h6M2740 6627h6M2740 6690h6M2742 6569h6M2757 6721h6M2710 6677h6M2755 6642h6M2784 6645h6M2721 6645h6M2738 6632h6M2746 6650h6M2762 6616h6M2746 6622h6M2726 6586h6M2746 6631h6M2751 6751h6M2766 6617h6M2713 6614h6M2717 6646h6M2701 6654h6M2724 6586h6M2730 6618h6M2745 6679h6M2747 6668h6M2712 6689h6M2733 6658h6M2713 6716h6M2704 6638h6M2707 6648h6M2755 6535h6M2725 6641h6M2736 6634h6M2741 6593h6M2711 6701h6M2777 6579h6M2784 6658h6M2723 6678h6M2745 6667h6M2731 6693h6M2755 6618h6M2676 6655h6M2684 6657h6M2708 6684h6M2707 6631h6M2746 6647h6M2761 6710h6M2708 6578h6M2706 6552h6M2773 6621h6M2757 6652h6M2738 6595h6M2719 6731h6M2758 6654h6M2740 6596h6M2728 6733h6M2728 6708h6M2755 6655h6M2734 6627h6M2736 6659h6M2730 6663h6M2716 6694h6M2767 6598h6M2732 6710h6M2759 6662h6M2708 6680h6M2745 6650h6M2791 6581h6M2782 6683h6M2757 6684h6M2710 6629h6M2670 6644h6M2751 6710h6M2723 6613h6M2739 6631h6M2692 6571h6M2714 6711h6M2775 6641h6M2774 6610h6M2754 6666h6M2710 6557h6M2768 6618h6M2724 6617h6M2751 6682h6M2701 6644h6M2707 6677h6M2719 6699h6M2756 6661h6M2747 6704h6M2758 6629h6M2761 6635h6M2759 6661h6M2756 6608h6M2730 6679h6M2686 6585h6M2754 6556h6M2742 6644h6M2731 6686h6M2761 6596h6M2699 6697h6M2725 6588h6M2737 6604h6M2747 6700h6M2690 6642h6M2729 6715h6M2780 6637h6M2690 6675h6M2740 6700h6M2724 6658h6M2698 6648h6M2773 6599h6M2706 6716h6M2751 6601h6M2801 6647h6M2685 6634h6M2784 6585h6M2739 6647h6M2721 6595h6M2730 6670h6M2708 6671h6M2779 6657h6M2732 6695h6M2708 6624h6M2705 6665h6M2761 6699h6M2708 6644h6M2725 6679h6M2716 6610h6M2786 6663h6M2754 6616h6M2792 6691h6M2740 6550h6M2745 6606h6M2701 6596h6M2784 6619h6M2678 6651h6M2725 6698h6M2748 6711h6"/>
<path transform="scale(.1)" fill="none" stroke="#1f4d26" stroke-width="6" d="M3079 6964h6M3033 6985h6M3077 6993h6M3113 6994h6M3060 6981h6M3037 6962h6M3023 6982h6M3067 7009h6M3041 6986h6M3050 6978h6M3070 6976h6M3049 6990h6M3135 6978h6M3095 6976h6M3021 6982h6M3109 7000h6M3075 6976h6M3099 6992h6M3091 6984h6M3058 6993h6M3098 6980h6M3119 6984h6M3084 6964h6M3072 6976h6M3067 6981h6M3084 6975h6M3048 6990h6M3040 6983h6M3119 6976h6M2999 6974h6M3024 6973h6M3103 6966h6M3043 6981h6M3075 6988h6M3080 6976h6M3054 6968h6M3105 6980h6M3137 6983h6M3006 6993h6M3060 6984h6M3081 6971h6M3093 6980h6M3115 6971h6M3031 6990h6M3045 6982h6M3101 6978h6M3034 6983h6M3070 6982h6M3057 6974h6M3068 6983h6M3076 7007h6M3067 6983h6M3093 6979h6M3028 6972h6M3035 6986h6M3092 6991h6M3109 6988h6M3116 6992h6M3100 6987h6M3013 6986h6M3094 6978h6M3069 6977h6M3065 6978h6M3114 6979h6M3037 6991h6M3048 6988h6M3141 6973h6M3111 6997h6M3029 7002h6M3082 6996h6M3091 6992h6M3091 6984h6M3039 7001h6M3059 6991h6M3112 6974h6M3090 6989h6M3086 7000h6M3086 6979h6M3101 7001h6M3062 6974h6M3109 6992h6M3034 6968h6M3037 6982h6M3099 7001h6M3079 7003h6M3110 6973h6M3136 6978h6M3050 6974h6M3042 6986h6M3099 6975h6M3068 6999h6M3036 6989h6M3037 6997h6M3085 6988h6M3033 7000h6M3067 6979h6M3084 6988h6M3096 6977h6M3034 6984h6M3085 6991h6M3113 6989h6M3106 6994h6M3084 6965h6M3062 6983h6M3073 6977h6M3015 6985h6M3134 6984h6M3123 6975h6M3063 6977h6M3049 6991h6M3062 6985h6M3021 6982h6M3049 6982h6M3125 6983h6M3082 6987h6M3036 6976h6M3109 6991h6M3086 6981h6M3066 6975h6M3141 6982h6M3128 6985h6M3019 6994h6M3025 6963h6M3073 6982h6M3126 6979h6M3067 6981h6M3034 6975h6M3004 6994h6M3025 6982h6M3041 6989h6M3112 6975h6M3130 6989h6M3060 6983h6M3090 7004h6M3049 6963h6M3041 6984h6M3052 6970h6M3021 6994h6M3076 6987h6M3057 6984h6M3082 7009h6M3070 7010h6M3096 6975h6M3039 6973h6M3119 6992h6M3069 6994h6M3065 6981h6M3063 6966h6M3065 6982h6M3088 6977h6M3050 6998h6M3057 6980h6M3052 6991h6M3097 6982h6M3036 6982h6M3141 6977h6M3061 6995h6M3104 6980h6M3054 6998h6M3082 6980h6M3081 6973h6M3038 7000h6M3073 6972h6M3117 6985h6M3109 6981h6M3099 6991h6M3040 6988h6M3112 6977h6M3054 6970h6M3073 6981h6M3069 6977h6M3039 6993h6M3021 6993h6M3097 6975h6M3065 6993h6M3051 7000h6M3122 6989h6M3078 6988h6M3093 6992h6M2999 6987h6M3084 7008h6M3072 6990h6M3011 6973h6M3051 6986h6M3022 6992h6M3071 6961h6M3120 6989h6M3120 6972h6M3063 6999h6M3054 6959h6M3084 6979h6M3032 6980h6M3120 6981h6M3132 6986h6M3101 6980h6M3058 6965h6M3089 6990h6M3071 6993h6M3091 6989h6M3069 6981h6M3039 6972h6M3052 6996h6M3126 6993h6M3035 6976h6M3104 6986h6M3049 6983h6M3031 6991h6M3078 6998h6M3067 6982h6M3097 6982h6M3042 6985h6M2990 6981h6M3007 6982h6M3119 6983h6M3093 6981h6M3118 7004h6M3078 6991h6M3073 6991h6M3055 7008h6M3100 6980h6M3035 6988h6M3023 6982h6M3056 6980h6M3028 6990h6M3050 6972h6M3083 6976h6M3072 6991h6M3112 6998h6M3143 6995h6M3073 6985h6M3111 6986h6M3129 6972h6M3030 6983h6M3052 6986h6M3146 6994h6M3081 6991h6M3041 6999h6M3091 6986h6M3090 6991h6M3079 6973h6M3094 6972h6M3035 6992h6M3100 6993h6M3088 6986h6M3050 6990h6M3074 6980h6M3018 6992h6M3074 6992h6M3065 6961h6M3082 6994h6M3090 6989h6M3130 6965h6M3080 6997h6M3057 6973h6M3064 6983h6M3086 6991h6M3092 6987h6M3118 6990h6M3082 6982h6M3042 6998h6M3050 6982h6M3056 6988h6M3155 6985h6M3093 6990h6M3066 6986h6M3069 6963h6M3138 6988h6M3107 6969h6M3040 6962h6M3062 6986h6M3084 6990h6M3050 6985h6M3089 7002h6M3062 6981h6M3044 6980h6M3096 7001h6M3038 6972h6M3092 6981h6M3105 6982h6M3080 6987h6M3079 6996h6M3079 7001h6M3097 6981h6M3045 6999h6M3065 6985h6M3060 7003h6M3095 6969h6M3061 6973h6M3071 6983h6M3095 6978h6M3049 6979h6M3081 6964h6M3119 6988h6M3017 6975h6M3067 6986h6M3095 6977h6M3084 6983h6M3050 6998h6M3070 7005h6M3041 6968h6M3035 7005h6M3045 7005h6M3021 7004h6M3069 6979h6M3151 6986h6M3037 6970h6M3054 6984h6M3030 6980h6M3072 6970h6M3093 6993h6M3106 6977h6M3070 6986h6M3092 6978h6M3082 6958h6M3080 6995h6M3099 7001h6M3049 6988h6M3124 6981h6M3073 6984h6M3135 6984h6M3046 7005h6M3052 6987h6M3044 6981h6M3101 6990h6M3095 6983h6M3027 6977h6M3113 6977h6M3031 6982h6M3068 6994h6M3099 6971h6M3126 6976h6M3057 6976h6M3081 6979h6M3067 6995h6M3141 6975h6M3065 6993h6M3057 6967h6M3126 6985h6M3126 6972h6M3090 6973h6M3067 6977h6M3136 6987h6M3036 6976h6M3062 6989h6M3128 6991h6M3060 6998h6M3073 6976h6M3095 6979h6M3047 6983h6M3088 6992h6M3115 6998h6M3093 7001h6M3030 6996h6M3124 6994h6M3123 6978h6M3110 6983h6M3017 6977h6M3100 6992h6M3106 6994h6M3061 6975h6M3076 6979h6M3062 6979h6M3041 6970h6M3073 6997h6M3065 6986h6M3145 6989h6M3100 7003h6M3034 7003h6M3095 6979h6M3155 6982h6M3071 6985h6M3096 6968h6M3065 6988h6M3073 6990h6M3092 6994h6M3061 6991h6M3103 6974h6M3057 6969h6M3072 6985h6M3072 6981h6M3111 6998h6M3034 6999h6M3142 6980h6M3032 6989h6M3098 6972h6M3073 6994h6M3079 6984h6M3077 6972h6M3141 7000h6M3121 6977h6M3126 6975h6M3092 6978h6M3059 6987h6M3118 6983h6M3064 6986h6M3022 6985h6M3074 6984h6M3131 7002h6M3053 6985h6M3036 6970h6M3030 7002h6M3032 6991h6M3040 6986h6M3126 6982h6M3069 6976h6M3057 6996h6M3054 6972h6M3079 6992h6M3032 6983h6M3014 6994h6M3085 6969h6M3116 6973h6M3081 6981h6M3059 6962h6M3096 6993h6M3095 6990h6M3090 6995h6M3076 6976h6M3102 6996h6M3057 7002h6M2992 6984h6M3064 6994h6M3080 6993h6M3048 6972h6M3088 7005h6M3073 7000h6M3100 6977h6M3129 6992h6M3099 6983h6M3083 6982h6M3097 6975h6M3062 6990h6M3097 6961h6M3080 6997h6M3083 6984h6M3048 6973h6M3077 6983h6M3137 6982h6M3056 7003h6M3054 6999h6M3103 6986h6M3063 6983h6M3057 6980h6M3064 6970h6M3065 6970h6M3109 6983h6M3136 6976h6M3080 7003h6M3060 6974h6M3048 7006h6M3124 7001h6M3048 6993h6M3123 6977h6M3052 6973h6M3095 6970h6M3065 7000h6M3006 6975h6M3065 6983h6M3035 6970h6M3093 6971h6M3104 6985h6M3087 6997h6M3081 6965h6M2997 6988h6M3074 6986h6M3071 6977h6M3059 6979h6M3028 6979h6M3109 6977h6M3051 7009h6M3156 6978h6M3099 7009h6M3068 6978h6M3094 6992h6M3074 6969h6M3098 6989h6M3100 7001h6M3037 6977h6M3126 6963h6M3047 6986h6M3105 6990h6M3091 6980h6M3107 6992h6M3097 6980h6M3129 6984h6M3077 6981h6M3065 6977h6M3056 6973h6M3045 6977h6M3022 6980h6M3020 6981h6M3082 6982h6M3125 6984h6M3078 6980h6M3101 6975h6M3107 6996h6M3031 6974h6M3138 6993h6M3041 6979h6M3051 6995h6M3027 6989h6M3086 6978h6M3080 6999h6M3099 6991h6M3097 6960h6M3100 6997h6M3148 6976h6M3101 6973h6M3099 6998h6M3040 6991h6M3129 6982h6M3139 6981h6M3003 6986h6M3003 6979h6M3026 6963h6M3049 6973h6M3054 6972h6M3068 6983h6M3097 6981h6M3131 6985h6M3159 6986h6M3069 6979h6M3073 6999h6M3046 6972h6M3086 6974h6M3101 6972h6M3024 6994h6M3017 6970h6M3084 6984h6M3091 6979h6M3135 6976h6M3010 6981h6M3040 6984h6M3046 6977h6M3024 6978h6M3059 7005h6M3032 6969h6M3085 6995h6M3085 6970h6M3140 6987h6M3114 6983h6M3037 6992h6M3067 6974h6M3042 6991h6M3075 6964h6M3029 6987h6M3062 6996h6M3082 6974h6M3123 6997h6M3085 6977h6M3095 6983h6M3050 6987h6M3071 6972h6M3111 6985h6M3054 7007h6M3117 6981h6M3083 6970h6M3011 6978h6M3089 7007h6M3038 6970h6M3099 6993h6M3075 6964h6M3088 6990h6M3029 6982h6M3099 6994h6M3115 7006h6M3032 6990h6M3102 6995h6M3105 6981h6M3088 6997h6M3094 6972h6M3081 6998h6M3074 6977h6M3046 7001h6M3049 6979h6M3082 6983h6M3058 6991h6M3105 6978h6M3095 6961h6M3066 7004h6M3059 7003h6M3122 6981h6M3103 6987h6M3050 6982h6M3051 6991h6M3102 6976h6M3053 6972h6M3061 6981h6M3092 6998h6M3051 6994h6M3074 6979h6M3132 6994h6M3066 6973h6M3103 6980h6M3103 6987h6M3031 6985h6M3084 6970h6M3073 7004h6M3100 6974h6M3082 6997h6M3067 6978h6M3077 6966h6M3037 7007h6M3066 6984h6M3088 6979h6M3069 7000h6M3058 6999h6M3045 6995h6M3081 6986h6M3074 6986h6M3092 6980h6M3057 6987h6M3073 6995h6M3147 6991h6M3046 6977h6M3084 6997h6M3099 6984h6M3084 6999h6M3035 6964h6M3061 6980h6M3054 6992h6M3013 6983h6M3096 7006h6M3050 6990h6M3069 6988h6M3062 6991h6M3114 6984h6M3045 6965h6M3074 6977h6M3108 6986h6M3139 6973h6M3114 6988h6M3043 6966h6M3083 6971h6M3120 6990h6M3096 6989h6M3076 6996h6M3114 6978h6M3042 6973h6M3045 6985h6M3040 6991h6M3086 6977h6M3040 6974h6M3093 6982h6M3103 6994h6M3092 6981h6M3054 6984h6M3091 6968h6M3101 6989h6M3090 6998h6M3046 6984h6M3077 6975h6M3075 7003h6M3096 6970h6M3048 6969h6M3108 6990h6M3152 6987h6M3050 6976h6M3025 6998h6M3124 6998h6M3141 6983h6M3074 6987h6M3074 6994h6M3089 6997h6M3052 6992h6M3028 6983h6M3023 6990h6M3100 6988h6M3057 6968h6M3093 6988h6M3079 6964h6M3037 6986h6M3097 6990h6M3111 6997h6M3048 6983h6M3072 6963h6M3032 6986h6M3099 6982h6M3012 6972h6M3040 6998h6M3140 6993h6M3014 6980h6M3102 6987h6M3047 6981h6M3104 6968h6M3034 6990h6M3059 6997h6M3082 6982h6M3063 6982h6M3090 6968h6M3095 6976h6M3059 6987h6M3041 6970h6M3043 6983h6M3076 6966h6M3058 6970h6M3092 7004h6M3126 6968h6M3053 6992h6M3102 6985h6M3043 7000h6M3097 6995h6M3062 6981h6M3092 6998h6M3127 6981h6M3101 6982h6M3106 6981h6M3066 6973h6M3088 6996h6M3081 6980h6M3096 6989h6M3085 6962h6M3076 6988h6M3051 6992h6M3022 6980h6M3090 6983h6M3110 6995h6M3076 7007h6M3042 6987h6M3044 6982h6M3105 6982h6M3047 6993h6M3047 6993h6M3058 6998h6M3070 6969h6M3083 6980h6M3129 6974h6M3075 6966h6M3113 6986h6M3070 6988h6M3064 6976h6M3047 6991h6M3114 6984h6M3078 6978h6M3062 6976h6M3119 6986h6M3104 6985h6M3027 6977h6M3033 6986h6M3084 6971h6M3009 6989h6M3071 6999h6M3118 6976h6M3058 7008h6M3076 7004h6M3019 6980h6M3101 6992h6M3110 6977h6M3129 6986h6M3051 6980h6M3078 6985h6M3044 7004h6M3090 6990h6M3099 7001h6M3076 6992h6M3038 6993h6M3066 7002h6M3072 6978h6M3083 6975h6M3081 6991h6M3055 6981h6M3047 6986h6M3061 7001h6M3107 6993h6M3115 6976h6M3071 6976h6M3047 6970h6M3080 6972h6M3113 6989h6M3106 6980h6M3089 6986h6M3075 7004h6M3059 6975h6M3077 6992h6M3071 6977h6M3050 6984h6M3086 6986h6M3036 6989h6M3029 6979h6M3068 6985h6M3097 6993h6M3114 6992h6M3123 6974h6M3130 6989h6M3054 6973h6M3082 6983h6M3049 6976h6M3078 6998h6M3039 6974h6M3040 6973h6M3089 6976h6M3050 6988h6M3072 6990h6M3075 6989h6M3055 6974h6M3044 7001h6M3057 6971h6M3138 6977h6M3075 6980h6M3098 6965h6M3048 6986h6M3108 6975h6M3142 6985h6M3057 6981h6M3083 6984h6M3044 6980h6M3082 6979h6M3022 6983h6M3108 6993h6M3077 6987h6M3105 6980h6M3074 6986h6M3109 6975h6M3085 6991h6M3076 6991h6M3080 6974h6M3063 6978h6M3011 6976h6M3127 6978h6M3052 6992h6M3066 6990h6M3106 6982h6M3069 6973h6M3069 6993h6M3097 6988h6M3104 6973h6M3106 6985h6M3058 6978h6M3022 6978h6M3077 6978h6M3036 6980h6M3052 6981h6M3073 6979h6M3045 6984h6M3111 6984h6M3021 6968h6M3103 6986h6M3110 6983h6M3104 6972h6M3089 6988h6M3095 6977h6M3081 6976h6M3058 6972h6M3061 7003h6M3067 6988h6M3084 6990h6M3117 6964h6M3097 6991h6M3085 6990h6"/>
<path transform="scale(.1)" fill="none" stroke="#1f4d26" stroke-width="6" d="M3059 6965h6M2988 6991h6M2940 6985h6M2989 6996h6M3032 6984h6M3041 6981h6M2937 6984h6M3005 6987h6M3029 6983h6M2999 6970h6M3023 6979h6M2968 6973h6M2972 6984h6M3022 6989h6M3052 7001h6M3035 6999h6M2973 6968h6M3099 6991h6M3022 6965h6M3083 6969h6M2968 6969h6M3066 6996h6M3053 6980h6M2994 6980h6M3070 6998h6M2957 7000h6M3014 6985h6M2990 6972h6M3005 6978h6M2975 6988h6M3100 6970h6M3014 6979h6M3047 6976h6M3016 7001h6M3063 6982h6M3093 6989h6M2983 6992h6M2961 6992h6M3039 6959h6M2946 6981h6M3035 6980h6M3055 6972h6M3027 6975h6M2952 6986h6M2976 6969h6M3046 6991h6M3019 6991h6M3022 6980h6M3004 6985h6M2963 6984h6M2944 6974h6M3025 6993h6M3044 6980h6M3063 6976h6M3040 7005h6M2966 6984h6M3082 6988h6M2969 6969h6M3017 6986h6M2976 7002h6M3114 6998h6M2986 6994h6M2951 6965h6M2957 7000h6M2987 6961h6M3078 6987h6M3102 6988h6M3048 7004h6M3071 6973h6M3015 6978h6M3070 6964h6M3113 6985h6M3063 6972h6M3068 6998h6M3037 6977h6M3025 7006h6M2942 7001h6M3113 6997h6M3085 6985h6M3026 6973h6M2952 6978h6M3027 6982h6M3000 6993h6M3058 6984h6M3008 6990h6M3015 6998h6M3103 6968h6M2928 6977h6M2993 6996h6M3064 6962h6M2965 7000h6M3031 6983h6M2983 7002h6M3065 6964h6M3047 6972h6M3040 6978h6M2947 6979h6M3053 6969h6M3048 6986h6M3085 6987h6M3032 6970h6M2934 6977h6M3017 6988h6M2927 6976h6M3021 6986h6M3015 7008h6M2999 7006h6M3041 7002h6M2959 6976h6M2998 7003h6M3044 6986h6M2970 6985h6M3026 6982h6M3085 6979h6M3076 6991h6M3039 6990h6M2974 6991h6M3026 6979h6M3035 6991h6M3034 6985h6M3101 6999h6M3082 6983h6M3110 6975h6M3016 6984h6M2994 6987h6M3017 6985h6M3021 6996h6M3100 6996h6M3069 6997h6M2977 6967h6M2997 6971h6M3099 6982h6M3046 6976h6M3038 6995h6M3007 6975h6M3046 6960h6M3021 6979h6M2982 6980h6M3013 6964h6M3048 6986h6M2992 6968h6M2984 6991h6M3019 6984h6M3008 6990h6M2929 6980h6M3028 6986h6M2989 6984h6M3108 6982h6M3032 6996h6M3057 6995h6M2977 6983h6M2920 6981h6M2969 6993h6M3090 6971h6M2986 6982h6M3010 6983h6M2979 6983h6M3087 6965h6M3028 6983h6M3021 7003h6M3088 6979h6M2966 6999h6M3099 6976h6M2994 6978h6M2913 6986h6M3040 7000h6"/>
<path transform="scale(.1)" fill="none" stroke="#5a6ac0" stroke-width="6" stroke-opacity="0.6" d="M2738 6809h6M2722 6896h6M2703 6845h6M2719 6884h6M2730 6777h6M2746 6909h6M2729 6872h6M2724 6970h6M2727 6923h6M2727 6880h6M2732 6956h6M2728 6942h6M2724 6824h6M2727 6888h6M2753 6880h6M2720 6858h6M2719 6951h6M2724 6899h6M2730 6972h6M2736 6853h6M2730 6821h6M2759 6901h6M2737 6823h6M2746 6879h6M2722 6890h6M2729 6898h6M2711 6764h6M2739 6881h6M2723 6974h6M2735 6923h6"/>
<path transform="scale(.1)" fill="none" stroke="#5a6ac0" stroke-width="6" stroke-opacity="0.7" d="M2726 6998h6M2717 6985h6M2744 6989h6M2740 6993h6M2761 6986h6M2712 6979h6M2745 6987h6M2732 6994h6M2801 6991h6M2759 6972h6M2769 6985h6M2743 6991h6M2738 6977h6M2815 6987h6M2786 6981h6M2762 6978h6M2720 6975h6M2808 7000h6M2782 6975h6M2756 6989h6M2766 6977h6M2774 7002h6M2784 6991h6M2758 6980h6M2750 7001h6M2740 6989h6M2779 6990h6M2790 6976h6M2756 6981h6M2738 6983h6M2752 6991h6M2731 6988h6M2760 6994h6M2751 6993h6M2764 6968h6M2783 6983h6M2725 6982h6M2750 6980h6M2718 6986h6M2795 7001h6M2741 6987h6M2714 6985h6M2764 6969h6M2767 6988h6M2704 6988h6M2763 6991h6M2711 6985h6M2760 6988h6M2753 6998h6M2763 6984h6M2749 7007h6M2777 6985h6M2726 6984h6M2771 6981h6M2724 6993h6M2779 6982h6M2720 6974h6M2732 6990h6M2737 6979h6M2771 6990h6M2776 6998h6M2754 6978h6M2785 6984h6M2742 6972h6M2733 6973h6M2729 6998h6M2727 6982h6M2800 6997h6"/>
<rect x="262.6" y="649.5" width="26" height="30.2" fill="none" stroke="#a65050" stroke-width="1.1"/>
<rect x="289.3" y="684.3" width="36.5" height="21.5" fill="none" stroke="#3a9268" stroke-width="1.1"/>
<path d="M260 631.1H337.7" stroke="#808080" stroke-width="1.2" fill="none"/>
<path d="M337.7 631.1V707.3" stroke="#8a8a8a" stroke-width="1.2" fill="none"/>
<path d="M260 630.6V707.3H338.2" stroke="#2a2a2a" stroke-width="1.2" fill="none"/>
<path d="M259.5 664.58h-1.8M259.5 660.35h-1.8M259.5 657.35h-1.8M259.5 655.02h-1.8M259.5 653.12h-1.8M259.5 651.52h-1.8M259.5 650.13h-1.8M259.5 648.9h-1.8M259.5 640.58h-1.8M259.5 636.35h-1.8M259.5 633.35h-1.8M259.5 688.58h-1.8M259.5 684.35h-1.8M259.5 681.35h-1.8M259.5 679.02h-1.8M259.5 677.12h-1.8M259.5 675.52h-1.8M259.5 674.13h-1.8M259.5 672.9h-1.8M259.5 689.9h-1.8M259.5 692.9h-1.8M259.5 700.9h-1.8M259.5 703.9h-1.8" stroke="#333" stroke-width="0.8" fill="none"/>
<path d="M259.5 647.8h-3M259.5 671.8h-3M259.5 697.9h-3" stroke="#333" stroke-width="0.8" fill="none"/>
<text transform="translate(254.4,647.8) rotate(-90)" text-anchor="middle" font-size="6.2" fill="#333">10<tspan font-size="3.41" dy="-3">5</tspan></text>
<text transform="translate(254.4,671.8) rotate(-90)" text-anchor="middle" font-size="6.2" fill="#333">10<tspan font-size="3.41" dy="-3">4</tspan></text>
<text transform="translate(254.4,697.9) rotate(-90)" text-anchor="middle" font-size="6.2" fill="#333">0</text>
<path d="M288.93 707.8v1.8M293.86 707.8v1.8M297.36 707.8v1.8M300.07 707.8v1.8M302.29 707.8v1.8M304.16 707.8v1.8M305.79 707.8v1.8M307.22 707.8v1.8M316.96 707.8v1.8M321.91 707.8v1.8M325.42 707.8v1.8M328.14 707.8v1.8M330.37 707.8v1.8M332.25 707.8v1.8M333.88 707.8v1.8M335.31 707.8v1.8M263.3 707.8v1.8M265.3 707.8v1.8M267.3 707.8v1.8M269.3 707.8v1.8M273.3 707.8v1.8M275.3 707.8v1.8M277.3 707.8v1.8" stroke="#333" stroke-width="0.8" fill="none"/>
<path d="M271.3 707.8v3M280.5 707.8v3M308.5 707.8v3M336.6 707.8v3" stroke="#333" stroke-width="0.8" fill="none"/>
<text x="271.3" y="716.7" text-anchor="middle" font-size="6.4" fill="#333">0</text>
<text x="282" y="716.7" text-anchor="middle" font-size="6.4" fill="#333">10<tspan font-size="3.52" dy="-3">3</tspan></text>
<text x="309.4" y="716.7" text-anchor="middle" font-size="6.4" fill="#333">10<tspan font-size="3.52" dy="-3">4</tspan></text>
<text x="337.4" y="716.7" text-anchor="middle" font-size="6.4" fill="#333">10<tspan font-size="3.52" dy="-3">5</tspan></text>
<path transform="scale(.1)" fill="none" stroke="#8e1e1e" stroke-width="6" d="M3741 6670h6M3745 6665h6M3773 6632h6M3757 6637h6M3781 6611h6M3775 6631h6M3771 6626h6M3790 6660h6M3799 6584h6M3807 6629h6M3765 6643h6M3782 6593h6M3769 6632h6M3774 6652h6M3772 6646h6M3773 6582h6M3796 6572h6M3786 6593h6M3778 6643h6M3784 6599h6M3790 6670h6M3772 6588h6M3798 6624h6M3772 6629h6M3781 6636h6M3766 6639h6M3781 6608h6M3736 6590h6M3749 6637h6M3794 6580h6M3759 6621h6M3751 6587h6M3751 6633h6M3784 6604h6M3763 6619h6M3800 6633h6M3786 6642h6M3778 6652h6M3824 6622h6M3780 6649h6M3784 6673h6M3800 6646h6M3784 6590h6M3781 6624h6M3767 6652h6M3790 6580h6M3776 6609h6M3766 6607h6M3769 6573h6M3791 6640h6M3766 6619h6M3759 6655h6M3745 6643h6M3798 6637h6M3782 6658h6M3776 6613h6M3783 6639h6M3776 6647h6M3747 6654h6M3775 6668h6M3797 6668h6M3740 6629h6M3773 6602h6M3759 6604h6M3774 6626h6M3810 6604h6M3798 6640h6M3798 6648h6M3780 6631h6M3772 6630h6M3775 6620h6M3741 6640h6M3752 6659h6M3802 6588h6M3748 6624h6M3751 6630h6M3779 6643h6M3761 6617h6M3773 6661h6M3776 6658h6M3767 6639h6M3779 6609h6M3773 6628h6M3767 6651h6M3783 6602h6M3767 6622h6M3787 6597h6M3786 6618h6M3777 6625h6M3770 6622h6M3764 6637h6M3740 6633h6M3786 6655h6M3771 6634h6M3797 6622h6M3782 6633h6M3771 6613h6M3770 6615h6M3788 6629h6M3758 6629h6M3792 6622h6M3792 6633h6M3786 6610h6M3783 6639h6M3817 6645h6M3751 6611h6M3757 6644h6M3814 6611h6M3791 6629h6M3771 6593h6M3793 6624h6M3766 6641h6M3789 6659h6M3775 6636h6M3782 6617h6M3744 6585h6M3819 6642h6M3752 6621h6M3794 6616h6M3759 6655h6M3788 6628h6M3780 6651h6M3807 6621h6M3763 6642h6M3778 6641h6M3753 6629h6M3773 6612h6M3744 6625h6M3799 6596h6M3786 6675h6M3752 6591h6M3773 6579h6M3779 6607h6M3788 6663h6M3773 6637h6M3765 6601h6M3771 6616h6M3795 6666h6M3759 6613h6M3746 6610h6M3732 6625h6M3752 6616h6M3730 6622h6M3817 6639h6M3760 6635h6M3791 6622h6M3760 6612h6M3768 6613h6M3773 6651h6M3773 6625h6M3771 6624h6M3755 6609h6M3761 6658h6M3768 6619h6M3749 6606h6M3769 6633h6M3794 6653h6M3751 6578h6M3811 6596h6M3769 6612h6M3784 6602h6M3811 6635h6M3794 6623h6M3819 6603h6M3775 6639h6M3771 6614h6M3769 6630h6M3764 6620h6M3779 6596h6M3777 6640h6M3785 6622h6M3773 6661h6M3772 6625h6M3781 6588h6M3770 6592h6M3778 6646h6M3772 6581h6M3745 6607h6M3820 6632h6M3799 6635h6M3782 6633h6M3796 6677h6M3785 6624h6M3772 6642h6M3816 6626h6M3771 6656h6M3762 6654h6M3791 6651h6M3805 6606h6M3805 6664h6M3773 6660h6M3794 6643h6M3787 6648h6M3800 6638h6M3744 6635h6M3785 6651h6M3768 6598h6M3749 6608h6M3798 6670h6M3799 6603h6M3798 6641h6M3788 6632h6M3767 6644h6M3789 6600h6M3766 6623h6M3798 6621h6M3808 6624h6M3791 6601h6M3730 6652h6M3738 6613h6M3793 6629h6M3780 6633h6M3784 6585h6M3782 6635h6M3793 6636h6M3796 6604h6M3795 6605h6M3762 6680h6M3781 6630h6M3774 6629h6M3792 6611h6M3778 6654h6M3762 6615h6M3768 6597h6M3782 6619h6M3755 6614h6M3768 6644h6M3786 6649h6M3778 6613h6M3773 6642h6M3814 6650h6M3771 6597h6M3805 6615h6M3778 6657h6M3784 6639h6M3796 6629h6M3775 6607h6M3791 6621h6M3769 6651h6M3765 6620h6M3764 6621h6M3790 6610h6M3802 6625h6M3777 6673h6M3789 6640h6M3755 6598h6M3737 6662h6M3792 6636h6M3760 6649h6M3771 6595h6M3776 6638h6M3759 6614h6M3773 6604h6M3776 6593h6M3772 6608h6M3771 6596h6M3766 6638h6M3794 6607h6M3738 6607h6M3760 6676h6M3808 6614h6M3792 6658h6M3787 6633h6M3769 6652h6M3769 6628h6M3773 6609h6M3766 6651h6M3770 6623h6M3773 6616h6M3756 6646h6M3772 6630h6M3792 6637h6M3764 6618h6M3786 6638h6M3794 6621h6M3795 6638h6M3787 6616h6M3805 6662h6M3766 6672h6M3765 6628h6M3782 6650h6M3771 6613h6M3759 6633h6M3772 6598h6M3768 6645h6M3799 6607h6M3737 6612h6M3800 6639h6M3752 6645h6M3756 6604h6M3743 6652h6M3791 6626h6M3787 6620h6M3782 6595h6M3789 6642h6M3784 6630h6M3807 6632h6M3744 6618h6M3787 6631h6M3758 6623h6M3765 6625h6M3822 6624h6M3798 6624h6M3804 6634h6M3792 6642h6M3770 6616h6M3781 6609h6M3790 6630h6M3782 6649h6M3776 6650h6M3747 6618h6M3762 6635h6M3767 6630h6M3777 6624h6M3773 6653h6M3798 6640h6M3760 6602h6M3778 6600h6M3801 6603h6M3782 6585h6M3793 6637h6M3749 6617h6M3776 6626h6M3786 6618h6M3772 6654h6M3789 6641h6M3806 6627h6M3788 6609h6M3767 6617h6M3782 6616h6M3762 6622h6M3753 6606h6M3791 6577h6M3766 6630h6M3763 6660h6M3788 6629h6M3771 6597h6M3805 6637h6M3762 6628h6M3794 6588h6M3771 6630h6M3732 6653h6M3745 6623h6M3809 6590h6M3775 6593h6M3768 6636h6M3803 6581h6M3756 6612h6M3738 6637h6M3777 6677h6M3769 6595h6M3785 6644h6M3773 6671h6M3738 6595h6M3771 6629h6M3788 6660h6M3758 6605h6M3769 6620h6M3801 6648h6M3773 6582h6M3785 6615h6M3775 6646h6M3768 6620h6M3789 6618h6M3771 6646h6M3787 6631h6M3774 6605h6M3802 6617h6M3755 6598h6M3813 6645h6M3765 6617h6M3784 6590h6M3776 6626h6M3792 6607h6M3820 6638h6M3759 6626h6M3799 6618h6M3770 6613h6M3802 6607h6M3794 6637h6M3766 6583h6M3774 6618h6M3785 6671h6M3767 6629h6M3749 6596h6M3756 6644h6M3800 6633h6M3757 6635h6M3773 6656h6M3766 6589h6M3743 6641h6M3780 6627h6M3793 6616h6M3765 6640h6M3802 6632h6M3799 6619h6M3790 6628h6M3772 6628h6M3759 6665h6M3757 6593h6M3749 6660h6M3794 6641h6M3769 6617h6M3748 6627h6M3756 6630h6M3798 6626h6M3787 6623h6M3772 6662h6M3779 6650h6M3768 6627h6M3754 6660h6M3764 6658h6M3790 6654h6M3763 6628h6M3773 6657h6M3762 6605h6M3771 6583h6M3760 6609h6M3766 6653h6M3785 6629h6M3807 6647h6M3789 6668h6M3749 6621h6M3750 6612h6M3750 6588h6M3809 6605h6M3767 6631h6M3740 6629h6M3786 6608h6M3751 6632h6M3802 6655h6M3779 6646h6M3774 6632h6M3734 6650h6M3758 6603h6M3750 6629h6M3768 6612h6M3790 6645h6M3758 6639h6M3780 6636h6M3765 6609h6M3773 6688h6M3784 6648h6M3765 6600h6M3766 6620h6M3749 6594h6M3762 6666h6M3783 6644h6M3776 6651h6M3823 6645h6M3773 6599h6M3790 6616h6M3778 6632h6M3782 6609h6M3793 6626h6M3781 6575h6M3781 6634h6M3784 6653h6M3782 6616h6M3783 6599h6M3771 6685h6M3814 6632h6M3810 6625h6M3758 6634h6M3751 6642h6M3770 6621h6M3767 6664h6M3751 6595h6M3778 6658h6M3794 6627h6M3763 6631h6M3780 6612h6M3790 6604h6M3740 6641h6M3788 6645h6M3755 6609h6M3773 6604h6M3766 6644h6M3763 6620h6M3772 6616h6M3767 6607h6M3728 6627h6M3764 6580h6M3818 6649h6M3791 6627h6M3789 6641h6M3768 6648h6M3783 6638h6M3782 6623h6M3767 6591h6M3807 6662h6M3784 6616h6M3780 6651h6M3798 6586h6M3775 6618h6M3758 6600h6M3745 6645h6M3765 6598h6M3792 6627h6M3787 6647h6M3760 6606h6M3777 6615h6M3765 6641h6M3757 6637h6M3798 6652h6M3749 6603h6M3790 6641h6M3797 6636h6M3791 6635h6M3793 6617h6M3781 6621h6M3759 6664h6M3768 6640h6M3792 6647h6M3801 6616h6M3791 6623h6M3789 6613h6M3766 6617h6M3795 6627h6M3808 6611h6M3796 6619h6M3771 6606h6M3794 6652h6M3763 6627h6M3755 6599h6M3783 6690h6M3791 6584h6M3769 6643h6M3771 6648h6M3753 6651h6M3780 6629h6M3788 6619h6M3762 6635h6M3780 6636h6M3801 6653h6M3773 6620h6M3770 6617h6M3773 6614h6M3753 6631h6M3760 6604h6M3735 6628h6M3753 6676h6M3787 6640h6M3780 6671h6M3782 6614h6M3806 6607h6M3791 6622h6M3754 6610h6M3778 6648h6M3767 6636h6M3800 6667h6M3785 6648h6M3773 6601h6M3758 6617h6M3776 6660h6M3768 6636h6M3784 6605h6M3796 6608h6M3760 6636h6M3776 6591h6M3740 6598h6M3766 6627h6M3790 6628h6M3787 6631h6M3790 6609h6M3741 6647h6M3777 6609h6M3792 6645h6M3775 6643h6M3758 6649h6M3783 6638h6M3763 6664h6M3758 6619h6M3768 6608h6M3791 6666h6M3789 6662h6M3769 6600h6M3770 6649h6M3776 6651h6M3807 6646h6M3802 6639h6M3779 6656h6M3742 6590h6M3800 6613h6M3805 6619h6M3761 6602h6M3776 6587h6M3806 6637h6M3773 6637h6M3773 6613h6M3754 6630h6M3795 6622h6M3779 6608h6M3814 6625h6M3743 6617h6M3807 6644h6M3761 6650h6M3788 6627h6M3772 6623h6M3778 6617h6M3756 6625h6M3783 6580h6M3787 6648h6M3766 6615h6M3785 6645h6M3768 6594h6M3783 6651h6M3763 6634h6M3742 6628h6M3734 6617h6M3778 6607h6M3796 6682h6M3777 6631h6M3802 6612h6M3758 6637h6M3774 6640h6M3795 6636h6M3789 6616h6M3727 6608h6M3771 6606h6M3783 6661h6M3771 6656h6M3782 6620h6M3759 6642h6M3791 6603h6M3815 6637h6M3776 6617h6M3773 6624h6M3766 6632h6M3805 6637h6M3772 6678h6M3773 6626h6M3754 6629h6M3807 6636h6M3777 6628h6M3761 6606h6M3769 6620h6M3765 6580h6M3786 6606h6M3794 6572h6M3775 6629h6M3769 6624h6M3757 6620h6M3767 6608h6M3774 6632h6M3789 6641h6M3762 6632h6M3756 6648h6M3789 6651h6M3788 6659h6M3756 6640h6M3789 6572h6M3758 6640h6M3757 6654h6M3781 6623h6M3780 6596h6M3752 6661h6M3741 6582h6M3790 6612h6M3791 6627h6M3819 6632h6M3795 6580h6M3795 6651h6M3776 6635h6M3747 6628h6M3779 6651h6M3758 6633h6M3827 6636h6M3778 6653h6M3795 6606h6M3805 6632h6M3785 6624h6M3774 6583h6M3783 6627h6M3738 6645h6M3792 6643h6M3789 6636h6M3763 6657h6M3763 6615h6M3743 6659h6M3763 6614h6M3788 6600h6M3740 6627h6M3779 6663h6M3770 6622h6M3782 6584h6M3814 6656h6M3747 6623h6M3784 6593h6M3771 6633h6M3755 6659h6M3773 6623h6M3797 6626h6M3777 6642h6M3782 6626h6M3742 6591h6M3783 6632h6M3785 6581h6M3740 6597h6M3791 6660h6M3789 6682h6M3770 6617h6M3784 6607h6M3778 6646h6M3800 6616h6M3779 6621h6M3770 6636h6M3741 6653h6M3768 6633h6M3756 6642h6M3785 6615h6M3779 6648h6M3750 6608h6M3776 6656h6M3794 6614h6M3791 6643h6M3772 6645h6M3759 6634h6M3750 6629h6M3777 6635h6M3773 6631h6M3784 6638h6M3785 6637h6M3787 6639h6M3789 6657h6M3783 6629h6M3784 6605h6M3799 6661h6M3806 6646h6M3797 6610h6M3785 6575h6M3810 6612h6M3762 6656h6M3802 6625h6M3755 6624h6M3779 6613h6M3756 6643h6M3789 6618h6M3777 6654h6M3756 6645h6M3811 6652h6M3777 6597h6M3758 6615h6M3762 6636h6M3763 6606h6M3764 6653h6M3781 6622h6M3761 6650h6M3792 6669h6M3770 6641h6M3769 6567h6M3779 6612h6M3787 6660h6M3766 6656h6M3780 6631h6M3802 6650h6M3762 6629h6M3781 6642h6M3788 6598h6M3778 6617h6M3779 6615h6M3782 6581h6M3779 6650h6M3750 6591h6M3780 6650h6M3797 6637h6M3763 6623h6M3779 6598h6M3767 6618h6M3781 6604h6M3738 6617h6M3787 6660h6M3806 6598h6M3813 6656h6M3738 6632h6M3754 6620h6M3777 6623h6M3770 6594h6M3792 6618h6M3775 6598h6M3799 6634h6M3820 6629h6M3791 6658h6M3753 6664h6M3778 6641h6M3765 6615h6M3768 6644h6M3792 6622h6M3808 6644h6M3785 6620h6M3779 6621h6M3775 6614h6M3757 6614h6M3760 6630h6M3732 6601h6M3807 6659h6M3800 6660h6M3788 6620h6M3758 6620h6M3758 6574h6M3792 6611h6M3803 6620h6M3742 6595h6M3794 6654h6M3785 6606h6M3782 6658h6M3768 6663h6M3786 6641h6M3750 6610h6M3819 6612h6M3792 6686h6M3789 6582h6M3769 6626h6M3775 6621h6M3775 6674h6M3760 6612h6M3762 6637h6M3760 6596h6M3764 6590h6M3793 6664h6M3761 6638h6M3748 6638h6M3747 6604h6M3767 6621h6M3745 6604h6M3795 6686h6M3766 6639h6M3761 6614h6M3773 6655h6M3778 6622h6M3756 6657h6M3757 6621h6M3782 6648h6M3759 6618h6M3813 6653h6M3776 6624h6M3792 6621h6M3779 6630h6M3786 6660h6M3781 6619h6M3790 6622h6M3767 6618h6M3820 6600h6M3758 6588h6M3779 6610h6M3760 6641h6M3779 6605h6M3809 6653h6M3797 6656h6M3764 6598h6M3759 6621h6M3790 6649h6M3769 6600h6M3823 6638h6M3760 6605h6M3765 6646h6M3806 6634h6M3748 6630h6M3761 6643h6M3792 6629h6M3788 6598h6M3775 6640h6M3792 6666h6M3787 6650h6M3737 6638h6M3746 6629h6M3773 6675h6M3754 6652h6M3790 6607h6M3792 6605h6M3786 6627h6M3772 6594h6M3748 6663h6M3746 6613h6M3757 6648h6M3765 6595h6M3813 6610h6M3769 6619h6M3793 6642h6M3758 6620h6M3757 6615h6M3752 6615h6M3772 6611h6M3762 6598h6M3766 6622h6M3750 6600h6M3772 6640h6M3808 6630h6M3796 6587h6M3797 6655h6M3748 6610h6M3795 6653h6M3783 6651h6M3791 6640h6M3762 6678h6M3759 6654h6M3781 6637h6M3792 6666h6M3757 6649h6M3782 6629h6M3770 6635h6M3752 6606h6M3787 6568h6M3778 6618h6M3773 6629h6M3790 6616h6M3780 6671h6M3748 6611h6M3766 6601h6M3746 6586h6M3790 6607h6M3760 6632h6M3780 6637h6M3772 6630h6M3779 6603h6M3800 6640h6M3767 6621h6M3770 6656h6M3808 6637h6M3761 6601h6M3809 6654h6M3798 6612h6M3797 6625h6M3786 6648h6M3819 6652h6M3787 6648h6M3776 6588h6M3799 6637h6M3738 6636h6M3787 6636h6M3801 6609h6M3786 6607h6M3778 6602h6M3795 6662h6M3796 6628h6M3814 6602h6M3765 6646h6M3778 6599h6M3752 6628h6M3799 6628h6M3789 6631h6M3778 6604h6M3806 6664h6M3761 6624h6M3754 6618h6M3780 6612h6M3804 6603h6M3756 6628h6M3776 6627h6M3771 6615h6M3742 6617h6M3774 6637h6M3759 6618h6M3746 6641h6M3758 6598h6M3786 6632h6M3772 6688h6M3770 6627h6M3817 6603h6M3764 6662h6M3798 6612h6M3735 6639h6M3800 6641h6M3788 6599h6M3787 6657h6"/>
<path transform="scale(.1)" fill="none" stroke="#8e1e1e" stroke-width="6" d="M3762 6630h6M3813 6601h6M3788 6652h6M3801 6598h6M3752 6631h6M3722 6597h6M3767 6596h6M3790 6665h6M3748 6590h6M3751 6630h6M3800 6693h6M3792 6643h6M3780 6631h6M3797 6649h6M3784 6568h6M3764 6612h6M3787 6603h6M3771 6662h6M3777 6607h6M3785 6620h6M3781 6636h6M3783 6684h6M3784 6684h6M3780 6671h6M3819 6671h6M3781 6624h6M3760 6685h6M3820 6660h6M3770 6554h6M3760 6634h6M3743 6677h6M3803 6689h6M3767 6663h6M3795 6655h6M3762 6675h6M3823 6633h6M3784 6610h6M3817 6615h6M3819 6648h6M3785 6686h6M3760 6642h6M3739 6646h6M3761 6573h6M3726 6648h6M3815 6642h6M3826 6628h6M3763 6646h6M3768 6602h6M3802 6613h6M3774 6585h6M3784 6635h6M3760 6591h6M3754 6561h6M3727 6651h6M3799 6645h6M3802 6678h6M3756 6589h6M3786 6680h6M3760 6592h6M3807 6697h6M3784 6617h6M3750 6569h6M3770 6694h6M3752 6647h6M3787 6678h6M3769 6664h6M3780 6642h6M3769 6702h6M3771 6680h6M3797 6625h6M3767 6584h6M3775 6587h6M3795 6679h6M3828 6622h6M3784 6615h6M3783 6616h6M3731 6619h6M3783 6661h6M3815 6629h6M3816 6609h6M3749 6648h6M3735 6672h6M3801 6653h6M3767 6633h6M3820 6629h6M3815 6660h6M3798 6700h6M3748 6609h6M3806 6629h6M3770 6663h6M3835 6637h6M3779 6688h6M3763 6640h6M3808 6583h6M3757 6643h6M3787 6593h6M3734 6691h6M3778 6643h6M3818 6586h6M3740 6628h6M3779 6714h6M3787 6660h6M3755 6620h6M3802 6620h6M3759 6645h6M3773 6591h6M3749 6674h6M3796 6577h6M3721 6621h6M3805 6713h6M3763 6555h6M3821 6672h6M3801 6616h6M3736 6636h6M3779 6609h6M3752 6617h6M3803 6676h6M3812 6576h6M3764 6611h6M3796 6583h6M3796 6625h6M3762 6660h6M3778 6689h6M3787 6626h6M3825 6608h6M3816 6598h6M3808 6650h6M3825 6578h6M3773 6653h6M3778 6684h6M3775 6588h6M3798 6656h6M3816 6691h6M3781 6682h6M3769 6631h6M3798 6580h6M3784 6665h6M3779 6674h6M3732 6622h6M3784 6619h6M3773 6659h6M3766 6619h6M3764 6651h6M3756 6616h6M3763 6624h6M3829 6618h6M3717 6629h6M3777 6622h6M3833 6679h6M3781 6600h6M3774 6621h6M3802 6658h6M3775 6638h6M3831 6618h6M3775 6616h6M3795 6693h6M3789 6643h6M3795 6680h6M3788 6599h6M3763 6632h6M3756 6650h6M3795 6689h6M3767 6590h6M3750 6642h6M3798 6652h6M3771 6572h6M3763 6605h6M3792 6568h6M3780 6594h6M3800 6644h6M3751 6699h6M3775 6606h6M3791 6634h6M3752 6609h6M3780 6636h6M3767 6722h6M3810 6573h6M3733 6639h6M3725 6614h6M3822 6618h6M3812 6644h6M3770 6683h6"/>
<path transform="scale(.1)" fill="none" stroke="#1f4d26" stroke-width="6" d="M4119 6968h6M4130 6978h6M4142 6985h6M4173 6996h6M4085 6977h6M4104 6970h6M4112 6992h6M4129 6973h6M4111 6984h6M4159 6978h6M4084 6987h6M4149 6975h6M4134 6980h6M4178 6997h6M4147 6971h6M4094 6974h6M4080 6969h6M4149 6989h6M4176 6987h6M4123 6987h6M4079 6980h6M4103 6979h6M4115 6975h6M4133 6975h6M4176 6983h6M4166 6995h6M4143 6983h6M4141 6978h6M4132 6959h6M4154 6996h6M4159 6965h6M4118 6976h6M4149 6979h6M4114 6975h6M4083 6988h6M4127 6988h6M4108 6981h6M4075 6991h6M4135 6986h6M4169 6980h6M4152 6966h6M4100 6967h6M4146 6987h6M4096 6973h6M4148 6981h6M4138 6983h6M4122 6990h6M4130 6985h6M4156 6995h6M4137 6969h6M4132 6981h6M4101 6984h6M4160 6965h6M4113 6995h6M4120 6995h6M4104 6978h6M4186 6981h6M4125 6998h6M4154 6980h6M4129 6991h6M4165 6998h6M4150 6980h6M4129 6999h6M4079 6978h6M4142 6996h6M4098 6981h6M4128 6991h6M4096 6998h6M4196 6975h6M4136 6985h6M4131 6978h6M4150 6993h6M4103 6988h6M4114 6985h6M4149 6974h6M4132 6981h6M4141 7000h6M4128 6975h6M4140 6986h6M4112 6977h6M4147 6969h6M4115 6981h6M4141 6981h6M4108 6981h6M4143 6968h6M4180 6982h6M4130 6980h6M4111 6969h6M4105 6973h6M4112 6991h6M4137 6975h6M4153 6975h6M4151 6981h6M4139 6961h6M4157 6969h6M4155 6984h6M4105 6984h6M4091 6976h6M4130 6964h6M4138 6989h6M4141 6989h6M4128 6975h6M4189 6992h6M4148 6961h6M4160 6989h6M4200 6982h6M4158 6976h6M4128 6985h6M4147 6971h6M4168 6987h6M4116 6977h6M4110 6982h6M4098 6979h6M4184 6997h6M4138 6984h6M4175 6987h6M4139 6994h6M4120 6994h6M4167 6994h6M4189 6979h6M4134 6982h6M4133 6988h6M4143 6972h6M4071 6974h6M4146 6969h6M4137 6981h6M4144 6996h6M4138 6979h6M4140 6995h6M4154 6987h6M4079 6971h6M4145 6970h6M4161 6976h6M4131 6982h6M4170 6990h6M4104 6977h6M4181 6988h6M4106 6972h6M4201 6986h6M4106 6970h6M4166 6973h6M4132 6979h6M4112 6986h6M4141 6982h6M4149 6982h6M4157 6963h6M4198 6993h6M4140 6976h6M4145 6989h6M4104 6975h6M4192 6978h6M4141 6976h6M4139 6975h6M4109 6986h6M4120 6975h6M4155 6987h6M4176 6985h6M4139 6980h6M4148 6973h6M4088 6992h6M4129 6975h6M4187 6968h6M4162 6971h6M4146 6982h6M4152 6968h6M4125 6987h6M4148 6976h6M4141 6984h6M4076 6971h6M4160 6985h6M4143 6984h6M4080 6984h6M4123 7000h6M4077 6982h6M4116 6976h6M4107 6972h6M4127 6976h6M4099 6998h6M4168 6989h6M4121 6998h6M4190 6967h6M4155 6982h6M4149 6987h6M4107 6981h6M4114 6986h6M4091 6997h6M4181 6981h6M4165 7000h6M4175 6988h6M4110 6980h6M4197 6984h6M4159 6981h6M4121 6990h6M4161 6988h6M4129 6982h6M4116 6990h6M4144 6962h6M4159 6979h6M4074 6973h6M4136 6972h6M4130 6982h6M4177 6991h6M4154 6974h6M4108 7002h6M4147 6975h6M4169 6989h6M4128 6983h6M4187 6964h6M4120 6977h6M4132 6960h6M4125 6986h6M4132 6976h6M4124 6984h6M4129 7001h6M4168 6980h6M4141 6962h6M4131 6993h6M4125 7001h6M4148 6973h6M4125 6990h6M4143 6973h6M4136 6979h6M4133 6981h6M4158 6991h6M4154 6991h6M4122 6975h6M4144 6982h6M4096 6980h6M4132 6986h6M4095 6980h6M4092 6994h6M4118 6985h6M4130 6993h6M4120 6978h6M4172 6977h6M4136 6969h6M4128 6986h6M4105 6992h6M4116 6960h6M4125 6985h6M4182 6990h6M4117 6981h6M4166 6994h6M4119 6995h6M4177 6978h6M4147 6968h6M4107 6982h6M4135 6982h6M4104 6993h6M4154 6980h6M4153 6961h6M4125 6974h6M4132 6982h6M4174 6979h6M4095 6981h6M4111 6994h6M4194 6990h6M4119 6991h6M4103 6986h6M4140 6997h6M4082 6979h6M4141 6977h6M4174 6998h6M4119 6966h6M4138 6974h6M4161 6982h6M4157 6983h6M4192 6977h6M4097 6971h6M4106 7001h6M4140 6969h6M4111 6970h6M4119 6991h6M4162 6987h6M4113 6990h6M4122 6986h6M4096 6980h6M4150 6999h6M4177 6979h6M4097 6989h6M4113 6976h6M4159 6983h6M4179 6984h6M4185 6989h6M4110 6985h6M4152 6985h6M4122 6978h6M4131 6980h6M4151 6978h6M4135 6993h6M4133 6975h6M4156 6971h6M4110 6979h6M4159 6988h6M4113 6978h6M4127 6988h6M4084 6982h6M4184 6987h6M4155 6991h6M4109 6969h6M4154 6986h6M4188 6970h6M4194 6973h6M4189 6987h6M4144 6971h6M4140 6989h6M4166 6976h6M4156 6989h6M4114 6967h6M4144 6979h6M4190 6987h6M4101 6991h6M4099 6985h6M4152 6958h6M4177 6978h6M4134 6975h6M4117 6987h6M4166 6980h6M4113 6976h6M4138 6978h6M4139 6983h6M4154 6996h6M4160 6969h6M4145 6985h6M4133 6976h6M4153 6977h6M4165 6974h6M4095 6976h6M4133 6967h6M4080 6983h6M4127 6984h6M4163 6976h6M4151 6983h6M4175 6975h6M4166 6977h6M4148 6977h6M4137 6990h6M4132 6978h6M4143 6994h6M4140 6972h6M4130 6973h6M4131 6973h6M4116 6981h6M4129 6979h6M4144 6970h6M4083 6992h6M4112 7002h6M4178 6995h6M4117 6995h6M4121 6975h6M4162 6990h6M4126 6982h6M4138 6978h6M4150 6981h6M4124 6977h6M4100 6976h6M4103 6983h6M4140 6978h6M4139 6979h6M4114 6982h6M4154 6992h6M4112 6981h6M4107 6988h6M4106 6979h6M4111 6983h6M4137 6990h6M4153 6977h6M4104 6990h6M4168 6982h6M4136 6991h6M4087 6971h6M4182 6978h6M4132 6976h6M4169 6978h6M4140 6968h6M4134 6985h6M4139 6970h6M4153 6973h6M4134 6980h6M4121 6988h6M4188 6979h6M4115 6967h6M4100 6972h6M4088 6974h6M4102 6994h6M4152 6966h6M4133 6983h6M4126 6978h6M4137 6986h6M4187 6971h6M4118 6969h6M4163 6980h6M4079 6980h6M4157 6964h6M4085 6996h6M4170 6980h6M4143 6963h6M4104 6967h6M4141 6989h6M4177 6983h6M4097 6983h6M4125 6981h6M4169 6984h6M4132 6979h6M4105 7000h6M4113 6987h6M4140 6983h6M4155 6992h6M4140 6973h6M4082 6978h6M4150 6985h6M4109 6962h6M4149 6979h6M4163 6988h6M4173 6986h6M4154 6988h6M4146 6980h6M4146 6984h6M4134 6978h6M4098 6983h6M4143 6966h6M4112 6965h6M4101 6975h6M4181 6970h6M4094 6985h6M4163 6982h6M4132 6986h6M4167 6977h6M4148 6986h6M4113 6985h6M4142 6977h6M4103 6984h6M4124 6978h6M4134 6983h6M4122 6963h6M4073 6977h6M4147 6985h6M4154 6975h6M4160 6963h6M4148 6997h6M4176 6964h6M4204 6989h6M4132 6984h6M4130 6991h6M4104 6982h6M4152 6986h6M4171 7000h6M4160 6968h6M4135 6965h6M4124 6975h6M4129 6969h6M4131 6991h6M4194 6986h6M4181 6986h6M4093 6973h6M4188 6985h6M4138 6991h6M4142 6981h6M4169 6983h6M4090 6987h6M4121 6974h6M4109 6978h6M4162 6973h6M4164 6991h6M4170 6968h6M4110 6972h6M4184 6982h6M4085 6984h6M4155 6969h6M4166 6981h6M4099 6966h6M4178 6972h6M4099 6979h6M4107 6998h6M4182 7000h6M4149 6993h6M4175 6987h6M4102 6998h6M4148 6982h6M4091 6989h6M4151 6984h6M4126 6976h6M4140 6979h6M4124 6963h6M4094 6978h6M4133 6962h6M4161 6990h6M4140 6974h6M4161 6977h6M4110 6983h6M4112 6981h6M4090 6986h6M4175 6983h6M4116 6981h6M4093 6982h6M4134 6992h6M4136 6987h6M4093 6972h6M4121 6996h6M4143 6972h6M4118 6959h6M4166 6995h6M4127 6989h6M4121 6978h6M4185 6979h6M4135 6988h6M4177 6968h6M4138 6982h6M4142 6973h6M4121 6976h6M4188 6988h6M4119 6969h6M4129 6983h6M4178 6989h6M4190 6979h6M4126 6982h6M4142 6968h6M4143 7001h6M4155 6984h6M4165 6972h6M4092 6969h6M4168 6988h6M4151 6981h6M4126 6973h6M4118 6983h6M4105 6964h6M4126 6975h6M4116 6984h6M4141 6980h6M4126 6981h6M4120 6973h6M4146 6969h6M4109 6994h6M4135 6972h6M4121 6991h6M4136 6960h6M4150 6985h6M4101 6979h6M4134 6972h6M4115 6978h6M4150 6972h6M4148 6970h6M4149 6974h6M4154 7001h6M4098 6984h6M4167 6985h6M4177 6984h6M4094 6981h6M4157 6992h6M4186 6970h6M4135 6970h6M4106 6985h6M4185 6966h6M4142 6996h6M4118 6982h6M4119 6981h6M4112 6982h6M4163 6982h6M4126 6974h6M4186 6975h6M4136 6983h6M4141 6975h6M4124 6979h6M4114 6984h6M4170 6971h6M4122 6969h6M4167 7000h6M4100 6982h6M4112 6989h6M4102 6983h6M4181 6992h6M4141 6984h6M4127 6985h6M4192 6990h6M4192 6980h6M4184 6971h6M4099 6998h6M4108 6965h6M4104 6990h6M4140 6980h6M4168 6969h6M4133 6959h6M4097 6972h6M4152 6981h6M4108 6979h6M4134 6972h6M4119 6982h6M4089 6983h6M4110 6996h6M4102 6976h6M4143 6983h6M4121 6983h6M4138 7001h6M4113 6988h6M4118 6989h6M4148 6978h6M4164 6979h6M4110 6983h6M4152 6995h6M4144 6973h6M4106 6975h6M4145 6994h6M4179 6979h6M4109 6983h6M4148 6977h6M4132 6979h6M4090 6991h6M4125 6996h6M4131 6992h6M4152 6973h6M4115 6976h6M4138 6977h6M4080 6984h6M4109 6982h6M4142 6971h6M4153 6977h6M4115 6987h6M4127 6982h6M4151 6962h6M4138 6983h6M4130 6975h6M4140 6972h6M4143 6965h6M4133 6976h6M4129 6970h6M4150 6995h6M4086 6993h6M4123 6973h6M4159 6968h6M4134 6984h6M4133 7000h6M4122 6984h6M4110 6964h6M4158 6981h6M4132 6970h6M4151 6973h6M4123 6981h6M4119 6976h6M4131 6981h6M4108 6977h6M4152 6966h6M4110 6972h6M4130 6974h6M4114 6997h6M4123 6988h6M4104 6980h6M4162 6985h6M4130 6981h6M4114 6991h6M4178 6990h6M4158 6987h6M4139 6968h6M4110 6979h6M4174 6976h6M4170 6982h6M4155 6990h6M4145 7004h6M4153 6979h6M4158 6999h6M4153 6973h6M4141 6974h6M4137 6966h6M4100 6990h6M4193 6990h6M4120 6973h6M4182 6999h6M4157 6964h6M4145 6985h6M4126 6975h6M4189 6987h6M4143 6976h6M4124 6985h6M4184 6984h6M4148 6987h6M4090 6978h6M4156 6979h6M4103 6984h6M4159 6981h6M4120 6990h6M4132 6996h6M4144 6981h6M4131 6984h6M4137 6986h6M4120 6991h6M4164 6978h6M4103 6984h6M4156 6967h6M4171 7002h6M4162 6997h6M4122 6989h6M4078 6973h6M4176 6974h6M4118 6992h6M4124 6976h6M4114 6987h6M4115 6962h6M4137 6974h6M4189 6973h6M4087 6983h6M4149 6975h6M4162 6989h6M4151 7004h6M4140 6982h6M4131 6972h6M4111 6985h6M4132 6964h6M4148 6982h6M4157 6974h6M4142 6973h6M4155 6985h6M4133 6979h6M4142 6967h6M4157 6981h6M4116 6969h6M4087 6988h6M4186 6987h6M4135 6975h6M4133 6979h6M4151 6981h6M4141 6972h6M4131 6989h6M4173 6973h6M4121 6972h6M4162 6985h6M4134 6998h6M4136 6995h6M4110 6969h6M4098 6981h6M4166 6992h6M4116 6996h6M4144 6963h6M4128 6978h6M4144 7003h6M4128 6988h6M4135 6979h6M4165 6991h6M4122 6986h6M4135 6979h6M4146 6987h6M4133 6985h6M4096 6991h6M4101 6975h6M4171 6986h6M4135 6977h6M4112 6963h6M4131 6980h6M4105 6989h6M4132 6977h6M4080 6982h6M4099 6966h6M4204 6971h6M4142 6999h6M4154 6966h6M4167 6984h6M4084 6976h6M4147 6980h6M4146 6987h6M4089 6981h6M4099 6972h6"/>
<path transform="scale(.1)" fill="none" stroke="#1f4d26" stroke-width="6" d="M4086 6972h6M4074 6971h6M4104 7002h6M4034 6970h6M4110 6988h6M4176 6982h6M4134 6972h6M4061 6979h6M4018 6973h6M4080 6983h6M4187 6975h6M4005 6983h6M4179 6985h6M4067 6978h6M4070 6964h6M4102 6987h6M4084 6975h6M4120 6980h6M4027 6994h6M4100 7000h6M4045 6978h6M4085 6961h6M4164 6977h6M4146 6987h6M4111 6992h6M4090 6971h6M4138 6973h6M4081 6974h6M4118 6978h6M4030 6973h6M4170 6975h6M4080 6985h6M4118 6971h6M4117 6979h6M4078 6972h6M4041 6977h6M4095 6965h6M4124 6964h6M4101 6979h6M4067 6996h6M4065 6974h6M4089 6972h6M4190 6978h6M4123 6974h6M4043 6987h6M4108 6989h6M4117 6976h6M4026 6983h6M4142 6961h6M4068 6979h6M4024 6978h6M4110 6991h6M4100 6959h6M3993 6987h6M4056 6973h6M4138 6992h6M4127 6978h6M4085 6986h6M4086 6964h6M4020 6981h6M4101 6986h6M4048 6989h6M4076 6984h6M4112 6980h6M4114 6986h6M4072 6967h6M4055 6980h6M4161 6970h6M4129 6976h6M4089 6989h6M4143 6984h6M4137 6991h6M4006 6976h6M4017 6990h6M4045 7000h6M4043 7001h6M4053 6978h6M4055 6991h6M4086 6981h6M4117 6997h6M4062 6984h6M4107 6980h6M4021 6988h6M4037 6972h6M4032 6988h6M4112 6977h6M4045 6994h6M4075 6976h6M4087 6964h6M4096 6962h6M4002 6987h6M4104 6965h6M4153 6995h6M4088 6969h6M4041 6985h6M4106 6974h6M4144 6986h6M4190 6977h6M4154 6975h6M4077 6982h6M4025 6980h6M4061 6970h6M4102 6972h6M4086 6979h6M4114 6978h6M4110 6979h6M4110 7002h6M4075 6978h6M4031 6988h6M4082 6964h6M4155 6973h6M4098 6978h6M4112 6977h6M4178 6979h6M4123 7003h6M4081 6977h6M4075 6971h6M4044 7000h6M4124 6991h6M4142 6981h6M4118 6983h6M4041 6977h6M4024 6997h6M4130 6986h6M4017 6984h6M4033 6977h6M4170 6976h6M4067 6983h6M4149 6986h6M4138 6990h6M4166 6983h6M4120 6996h6M4068 6987h6M4065 6978h6M4120 6972h6M4064 6988h6M4033 6986h6M4093 6982h6M4065 6975h6M4035 6999h6M4034 6992h6M4062 6993h6M4075 6973h6M4080 6974h6M4131 6988h6M4052 6974h6M4166 6992h6M4103 6978h6M4058 6973h6M4157 6983h6M4030 6977h6M4151 6988h6M4090 6985h6M4035 6993h6M4123 6969h6M4093 6994h6"/>
<path transform="scale(.1)" fill="none" stroke="#5a6ac0" stroke-width="6" stroke-opacity="0.7" d="M3807 6969h6M3770 6973h6M3783 6989h6M3775 6978h6M3801 6980h6M3757 6978h6M3761 6987h6M3781 6982h6M3781 6998h6M3771 6976h6M3759 7001h6M3789 6973h6M3774 6971h6M3790 6990h6M3779 6979h6M3767 6981h6M3782 6977h6M3766 6979h6M3805 6977h6M3783 6983h6M3769 6978h6M3800 6980h6M3760 6972h6M3761 6989h6M3761 6988h6M3773 6982h6M3781 6980h6M3797 6974h6M3784 6980h6M3763 6987h6M3791 6983h6M3781 6966h6M3803 6995h6M3736 6982h6M3762 6987h6M3785 6970h6M3787 6996h6M3787 7002h6M3784 6966h6M3799 6972h6M3805 6992h6M3801 6979h6M3774 6981h6"/>
<path transform="scale(.1)" fill="none" stroke="#5a6ac0" stroke-width="6" stroke-opacity="0.5" d="M3793 6905h6M3805 6918h6M3765 6852h6M3761 6880h6M3790 6901h6M3751 6985h6M3797 6941h6M3773 6938h6M3744 6867h6M3802 6863h6"/>
<rect x="366.6" y="648.4" width="26.2" height="29.8" fill="none" stroke="#a65050" stroke-width="1.1"/>
<rect x="395.4" y="682.9" width="36.1" height="21.5" fill="none" stroke="#3a9268" stroke-width="1.1"/>
<path d="M364.7 630.4H441.9" stroke="#808080" stroke-width="1.2" fill="none"/>
<path d="M441.9 630.4V707.2" stroke="#8a8a8a" stroke-width="1.2" fill="none"/>
<path d="M364.7 629.9V707.2H442.4" stroke="#2a2a2a" stroke-width="1.2" fill="none"/>
<path d="M364.2 663.92h-1.8M364.2 660.01h-1.8M364.2 657.23h-1.8M364.2 655.08h-1.8M364.2 653.33h-1.8M364.2 651.84h-1.8M364.2 650.55h-1.8M364.2 649.42h-1.8M364.2 641.72h-1.8M364.2 637.81h-1.8M364.2 635.03h-1.8M364.2 632.88h-1.8M364.2 631.13h-1.8M364.2 686.12h-1.8M364.2 682.21h-1.8M364.2 679.43h-1.8M364.2 677.28h-1.8M364.2 675.53h-1.8M364.2 674.04h-1.8M364.2 672.75h-1.8M364.2 671.62h-1.8M364.2 689.2h-1.8M364.2 692.2h-1.8M364.2 700.2h-1.8M364.2 703.2h-1.8" stroke="#333" stroke-width="0.8" fill="none"/>
<path d="M364.2 648.4h-3M364.2 670.6h-3M364.2 697.2h-3" stroke="#333" stroke-width="0.8" fill="none"/>
<text transform="translate(359.9,648.4) rotate(-90)" text-anchor="middle" font-size="6.2" fill="#333">10<tspan font-size="3.41" dy="-3">5</tspan></text>
<text transform="translate(359.9,670.6) rotate(-90)" text-anchor="middle" font-size="6.2" fill="#333">10<tspan font-size="3.41" dy="-3">4</tspan></text>
<text transform="translate(359.9,697.2) rotate(-90)" text-anchor="middle" font-size="6.2" fill="#333">0</text>
<path d="M394.16 707.7v1.8M398.93 707.7v1.8M402.32 707.7v1.8M404.94 707.7v1.8M407.09 707.7v1.8M408.9 707.7v1.8M410.47 707.7v1.8M411.86 707.7v1.8M421.65 707.7v1.8M426.65 707.7v1.8M430.2 707.7v1.8M432.95 707.7v1.8M435.2 707.7v1.8M437.1 707.7v1.8M438.75 707.7v1.8M440.2 707.7v1.8M368 707.7v1.8M370 707.7v1.8M372 707.7v1.8M374 707.7v1.8M378 707.7v1.8M380 707.7v1.8M382 707.7v1.8" stroke="#333" stroke-width="0.8" fill="none"/>
<path d="M376 707.7v3M386 707.7v3M413.1 707.7v3M441.5 707.7v3" stroke="#333" stroke-width="0.8" fill="none"/>
<text x="376" y="716.2" text-anchor="middle" font-size="6.4" fill="#333">0</text>
<text x="387.5" y="716.2" text-anchor="middle" font-size="6.4" fill="#333">10<tspan font-size="3.52" dy="-3">3</tspan></text>
<text x="414" y="716.2" text-anchor="middle" font-size="6.4" fill="#333">10<tspan font-size="3.52" dy="-3">4</tspan></text>
<text x="442.2" y="716.2" text-anchor="middle" font-size="6.4" fill="#333">10<tspan font-size="3.52" dy="-3">5</tspan></text>
<path d="M238.6 700.8V724.4H263.9" fill="none" stroke="#111" stroke-width="1.1"/>
<path d="M238.6 695.8l-4.2 7.4h8.4z" fill="#111"/>
<path d="M269.9 724.4l-7.4 -4.1v8.2z" fill="#111"/>
<text transform="translate(244.3,673.4) rotate(-90)" text-anchor="middle" font-size="10.6" fill="#1b1b1b">CD8</text>
<text x="278.8" y="729.2" font-size="10.6">CD4</text>
</svg></body></html>
